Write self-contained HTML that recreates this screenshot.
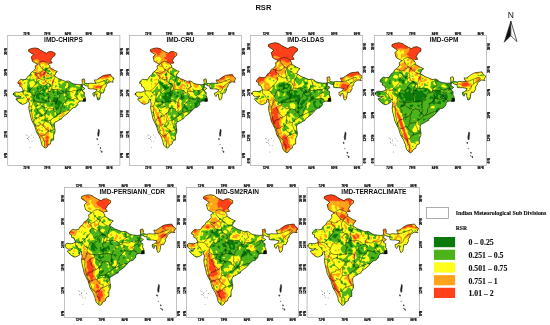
<!DOCTYPE html>
<html><head><meta charset="utf-8"><title>RSR</title>
<style>
html,body{margin:0;padding:0;background:#fff}
body{width:550px;height:325px;overflow:hidden}
svg{display:block}
.t{font-family:"Liberation Sans",Arial,sans-serif;font-weight:bold;fill:#111}
.k{font-family:"Liberation Sans",Arial,sans-serif;font-weight:bold;fill:#000;stroke:#000;stroke-width:0.18px;font-size:3.0px;text-anchor:middle}
.s{font-family:"Liberation Serif","Times New Roman",serif;font-weight:bold;fill:#111;stroke:#111;stroke-width:0.12px}
</style></head><body>
<svg width="550" height="325" viewBox="0 0 550 325">
<rect width="550" height="325" fill="#fff"/>
<text class="t" x="263.4" y="10.4" font-size="7.6" text-anchor="middle">RSR</text>
<g>
<clipPath id="f0"><rect x="7.7" y="35.4" width="112.2" height="130.0"/></clipPath>
<clipPath id="c0"><path d="M13.1,94.2 14.6,92.3 16.0,92.0 19.5,92.3 21.6,91.6 23.3,90.8 22.6,88.9 21.7,87.1 19.8,86.4 19.8,84.2 17.8,83.3 18.1,81.6 20.7,79.2 22.9,79.7 26.1,79.3 27.8,76.4 29.9,75.0 31.2,72.4 33.3,71.2 35.6,68.5 35.2,66.0 37.8,64.3 35.7,63.3 33.7,62.2 32.3,61.2 31.8,58.8 31.2,57.0 33.7,54.6 30.9,52.9 28.5,51.2 28.8,49.4 31.9,48.4 35.0,47.9 38.2,48.6 40.2,50.1 43.4,51.8 46.5,53.2 48.5,51.8 51.7,51.5 55.1,53.2 55.1,55.3 52.7,57.0 50.6,60.5 52.2,62.9 49.6,63.3 48.5,64.3 49.9,65.7 49.8,67.4 51.7,68.5 54.4,70.2 57.5,71.6 55.8,72.9 54.4,76.1 56.2,77.1 58.6,78.7 61.0,79.5 63.4,80.6 65.5,81.4 68.3,80.9 70.2,81.9 72.1,83.3 74.1,84.0 77.3,84.5 79.3,84.7 82.1,84.5 82.3,82.6 81.9,79.5 84.2,78.8 84.9,80.9 84.5,82.3 85.2,83.2 88.0,83.7 90.1,83.2 92.8,83.3 95.9,83.2 94.7,81.3 94.2,79.9 96.6,79.9 98.7,78.5 101.1,76.8 103.6,75.4 106.0,75.0 108.4,74.7 110.5,74.3 111.5,76.4 114.1,78.3 113.2,79.9 112.6,81.3 113.4,82.3 110.1,81.8 107.7,83.3 106.3,84.7 106.3,86.1 104.6,88.2 104.9,89.6 103.2,93.0 100.8,93.0 100.3,95.4 99.8,98.9 98.7,99.9 97.7,99.9 96.8,96.8 96.6,94.1 95.4,94.1 94.2,96.6 93.0,95.1 92.8,93.0 94.2,92.7 95.9,91.6 97.2,89.6 93.2,88.9 90.1,88.9 88.2,88.5 88.0,86.1 85.9,85.8 84.2,84.7 83.1,84.0 82.3,86.8 84.9,88.5 83.1,89.9 82.1,90.9 84.4,92.3 84.2,95.4 85.0,96.8 85.4,99.6 85.6,101.1 83.8,101.3 82.1,101.1 81.1,101.0 79.0,101.5 77.8,103.4 78.0,104.4 76.6,106.2 75.5,107.2 73.1,107.9 71.7,108.9 70.7,110.0 68.3,112.7 66.2,114.5 62.4,117.2 62.0,118.6 60.0,119.5 58.2,120.7 56.8,121.4 55.1,122.1 54.3,124.2 54.6,127.6 55.1,130.0 54.9,132.5 53.6,135.2 53.6,140.1 51.7,140.4 50.6,142.5 50.4,143.9 47.9,145.3 47.2,147.0 45.6,148.1 44.0,147.3 42.1,145.3 41.3,142.8 40.9,140.8 39.9,138.3 38.9,135.9 37.5,133.8 36.3,131.4 35.4,128.3 34.5,125.5 33.3,123.5 32.3,121.4 31.2,119.0 30.6,115.9 29.7,112.4 29.2,110.3 28.8,107.5 29.0,105.5 29.5,103.4 28.5,101.3 29.2,99.2 27.1,99.9 27.1,102.4 24.7,103.7 22.6,104.4 20.2,103.4 17.4,101.0 15.8,98.9 17.1,98.6 19.5,97.9 20.9,96.5 18.8,97.0 16.7,97.2 14.6,95.8Z"/></clipPath>
<g clip-path="url(#f0)">
<g clip-path="url(#c0)">
<path d="M13.1,94.2 14.6,92.3 16.0,92.0 19.5,92.3 21.6,91.6 23.3,90.8 22.6,88.9 21.7,87.1 19.8,86.4 19.8,84.2 17.8,83.3 18.1,81.6 20.7,79.2 22.9,79.7 26.1,79.3 27.8,76.4 29.9,75.0 31.2,72.4 33.3,71.2 35.6,68.5 35.2,66.0 37.8,64.3 35.7,63.3 33.7,62.2 32.3,61.2 31.8,58.8 31.2,57.0 33.7,54.6 30.9,52.9 28.5,51.2 28.8,49.4 31.9,48.4 35.0,47.9 38.2,48.6 40.2,50.1 43.4,51.8 46.5,53.2 48.5,51.8 51.7,51.5 55.1,53.2 55.1,55.3 52.7,57.0 50.6,60.5 52.2,62.9 49.6,63.3 48.5,64.3 49.9,65.7 49.8,67.4 51.7,68.5 54.4,70.2 57.5,71.6 55.8,72.9 54.4,76.1 56.2,77.1 58.6,78.7 61.0,79.5 63.4,80.6 65.5,81.4 68.3,80.9 70.2,81.9 72.1,83.3 74.1,84.0 77.3,84.5 79.3,84.7 82.1,84.5 82.3,82.6 81.9,79.5 84.2,78.8 84.9,80.9 84.5,82.3 85.2,83.2 88.0,83.7 90.1,83.2 92.8,83.3 95.9,83.2 94.7,81.3 94.2,79.9 96.6,79.9 98.7,78.5 101.1,76.8 103.6,75.4 106.0,75.0 108.4,74.7 110.5,74.3 111.5,76.4 114.1,78.3 113.2,79.9 112.6,81.3 113.4,82.3 110.1,81.8 107.7,83.3 106.3,84.7 106.3,86.1 104.6,88.2 104.9,89.6 103.2,93.0 100.8,93.0 100.3,95.4 99.8,98.9 98.7,99.9 97.7,99.9 96.8,96.8 96.6,94.1 95.4,94.1 94.2,96.6 93.0,95.1 92.8,93.0 94.2,92.7 95.9,91.6 97.2,89.6 93.2,88.9 90.1,88.9 88.2,88.5 88.0,86.1 85.9,85.8 84.2,84.7 83.1,84.0 82.3,86.8 84.9,88.5 83.1,89.9 82.1,90.9 84.4,92.3 84.2,95.4 85.0,96.8 85.4,99.6 85.6,101.1 83.8,101.3 82.1,101.1 81.1,101.0 79.0,101.5 77.8,103.4 78.0,104.4 76.6,106.2 75.5,107.2 73.1,107.9 71.7,108.9 70.7,110.0 68.3,112.7 66.2,114.5 62.4,117.2 62.0,118.6 60.0,119.5 58.2,120.7 56.8,121.4 55.1,122.1 54.3,124.2 54.6,127.6 55.1,130.0 54.9,132.5 53.6,135.2 53.6,140.1 51.7,140.4 50.6,142.5 50.4,143.9 47.9,145.3 47.2,147.0 45.6,148.1 44.0,147.3 42.1,145.3 41.3,142.8 40.9,140.8 39.9,138.3 38.9,135.9 37.5,133.8 36.3,131.4 35.4,128.3 34.5,125.5 33.3,123.5 32.3,121.4 31.2,119.0 30.6,115.9 29.7,112.4 29.2,110.3 28.8,107.5 29.0,105.5 29.5,103.4 28.5,101.3 29.2,99.2 27.1,99.9 27.1,102.4 24.7,103.7 22.6,104.4 20.2,103.4 17.4,101.0 15.8,98.9 17.1,98.6 19.5,97.9 20.9,96.5 18.8,97.0 16.7,97.2 14.6,95.8Z" fill="#0b7a0b"/>
<path fill="#4db31a" fill-rule="evenodd" d="M35.4,45.8l-0.7,0 -0.7,0.7 -2.8,0 -0.6,0.7 -1.4,0 -2.3,2.2 0,2.1 2.3,2.2 0.7,0 1.2,1.3 -2.1,2 0.7,0.7 0,1.4 0.7,0.7 0,1.4 2.9,2.9 0.7,0 0.6,0.5 -1.4,1.4 0.8,2.1 -0.7,0.7 0,0.7 -0.7,0.6 -0.7,0 -1.3,1.4 -1.5,1.4 0,0.7 -0.6,0.7 -0.7,0 -2.2,2.1 0,0.7 -0.6,0.6 -4.8,0 -4.3,4.2 0,1.4 2.1,2.1 0,0.7 2.7,2.8 0.1,0.7 -0.6,0.5 -4.9,0.1 -4.2,4.2 3.5,3.5 0.7,-1.2 0.7,0.3 -0.3,1.6 -0.4,0.6 -0.5,0 0.1,0.7 5.3,5.6 1.4,0.1 0.6,0.6 0.7,0 0.7,-0.6 1.4,0 0.7,-0.7 0.7,0 0.6,0.6 0,4.8 0.7,0.7 0,2.1 0.6,0.7 0.1,2.1 0.7,0.6 0,2.1 1.4,2.1 0,1.4 0.7,0.7 0,0.7 1.4,1.3 0,0.7 0.7,0.7 0,2.1 0.6,0.7 0.1,1.4 0.7,0.7 -0.1,1.4 0.7,0.7 0,0.6 1.4,1.4 0.6,2.1 1.5,2.1 0,1.4 0.7,0.7 -0.1,2 0.8,0.7 0,0.7 4.9,4.9 0.7,0.1 6.3,-6.4 0,-0.7 0.6,-0.6 0.7,-0.1 0,-0.3 -0.7,0.2 -0.7,-0.5 -0.7,-1.6 1.4,0.1 0.7,-0.9 0.7,-0.1 0.1,1.1 -0.6,1.4 0.5,0 1.4,-1.4 0,-5.6 1.4,-2 0,-3.5 -0.7,-0.7 0,-4.8 3.4,-2.1 2.1,-0.7 0.7,-0.7 0.7,-1.8 0.7,-0.1 0.7,-0.8 0.7,0 7.6,-7.7 1.3,0 0.7,-0.6 0.7,0 4.3,-4.2 -0.1,-1.4 0.7,-0.7 4.8,0 2.1,-2.1 0,-1.7 -0.7,0.5 -0.4,-0.8 0.4,-2.1 -0.7,-0.7 0,-3.5 -1.3,-1.4 0,-0.7 1.3,-1.3 0.7,-0.7 2.1,2.1 0.7,0 0.7,0.7 1.3,0 0.6,0.6 -1.3,1.4 0.7,0.7 0,1.4 0.7,0.7 -0.1,0.7 2.2,2.1 0.7,-0.7 0.6,0.7 0,1.3 2.2,2.2 0.7,0 3.5,-3.5 0,-2.8 3.4,-3.5 0,-0.7 1.5,-2 0,-0.7 -0.7,-0.7 4,-4.8 0.7,0 0.7,0.7 1.4,0 2.1,-2.1 -0.6,-0.7 0,-0.7 1.4,-1.4 0,-0.7 -5.7,-5.7 -4.1,0 -0.7,0.7 -2.1,0 -0.7,0.7 -0.7,0 -1.4,1.4 -0.6,0 -1.4,1.4 -0.7,0 -1.4,1.3 -1.4,0.1 -2.8,2.8 -2.7,0 -0.7,0.7 -1.4,0 -0.7,-0.6 -0.6,-2.1 -2.2,-2.2 -0.7,0.1 -2.8,2.8 0,2 -0.6,0.7 -5.6,0 -0.6,-0.7 -2.1,0.1 -0.7,-0.5 -0.7,-1.6 -0.7,-0.1 -0.7,-0.7 -2.1,0 -0.7,0.7 -0.6,0 -0.7,-0.8 -2.1,-0.6 -0.7,-0.7 -1.4,0 -0.7,-0.7 -0.7,0.1 -2,-1.4 0,-1.4 0.7,-0.7 0,-0.7 1.4,-1.3 -2.2,-2.2 -2,-0.7 -0.7,-0.7 -0.7,0 -2,-2 0,-1.4 2.2,-2 0,-0.7 -1.4,-1.4 1.4,-1.4 0,-0.7 3.4,-3.4 0,-1.4 -2.9,-3 -0.7,0 -0.7,-0.7 -4.2,0 -0.6,0.7 -2.1,0.7 -3.5,-2.1 -2.1,-0.6 -2,-2.1 -2.1,0zM53.6,125.5l-0.9,0 0.7,-0.6zM55.8,124.8l-0.3,0.5 -0.7,-0.5 0.7,-0.2zM41.6,115.2l-0.7,0.4 -0.4,-0.4 0.4,-0.4zM37.3,112.4l0.4,0.7 -0.4,0.7 -1.2,0.6 0.3,-2 0.4,-0.4zM36.2,110.3l-0.1,0.8 -0.6,-0.1zM54.4,97.2l3.1,0.3 0.7,2.3 0.7,0.6 1.4,0.4 1.8,1.9 -0.4,1 -1.8,1.1 -0.3,1.4 1.2,0.7 0.1,0.6 -2,-0.6 0,2 -0.7,0.4 -1.4,0.2 -0.6,-0.6 0.1,-1.4 1.5,-1.3 -0.6,-1.4 -2.7,-1.4 0,-2.1 -0.4,-0.4 -1.4,0.4 -0.3,-0.7 1.7,-3.9zM65.2,106.9l0,0.6 -0.5,0.7 -1,0 -0.4,-0.7 0.5,-1.3zM53.2,103.4l-1.2,2 -1.1,0.1 -0.1,-1.4 1.9,-1.2zM43.3,97.9l1.1,2 2.1,-0.5 0.6,0.5 0.1,1.7 -0.7,0.4 -1.4,-0.3 -3.9,-1.8 0.6,-2 0.5,-0.5zM34.4,99.2l-0.4,1 -0.7,-1 0.7,-0.4zM46.7,86.1l1.2,2.1 -0.7,0.8 -1.4,-0.1 -1.2,3.4 -1,1.4 0.3,0.7 1.5,1.4 -0.8,0.7 -0.6,0 -1.7,-1.5 -2.1,-0.5 -1.1,1.3 -0.1,0.7 1.5,2.7 -1,0.3 -3,-0.9 -0.5,-0.7 0.1,-2.2 -1.4,-0.6 -0.7,0.4 0,-0.6 1.4,0 1.4,-0.6 0.7,-1.5 4.1,0.4 1.4,-0.2 0.6,-0.7 -0.1,-0.7 -0.5,-1.2 -0.9,-0.8 0.9,0.2 2.7,-0.9 0,-2.8 0.8,-0.3zM50.7,97.2l-0.1,0.5 -1.4,0.4 -0.7,0.7 -0.8,-0.2 0.8,-1.8 0.7,-0.2zM33.4,96.5l-0.3,0.7 -0.5,0.2 -0.3,-0.2 0.3,-0.8zM47.9,93.7l0,1.4 -1.6,0.7 0,-2.1 0.9,-0.5zM55.5,95.1l0,0.8 -1.4,-0.1 0.4,-0.7zM58.4,90.9l0.5,1 1.5,0.4 0.7,1.4 -1.5,0.1 -0.7,0.7 -1.4,0.4 -0.7,-0.5 0.2,-3.5 0.5,-0.6zM52.9,89.6l2,2.7 -0.8,1.2 -0.7,0.2 -1,-1.4 0.6,-1.4 -0.6,-0.7 0.2,-0.6zM66.9,91.6l-0.4,0.8 -0.7,0 0.7,-1.1zM78.5,90.2l-1.6,2.5 -0.4,-0.4 0.5,-1.4 0.6,-0.8zM64.5,90.9l-0.7,1 -1,-0.3 -0.9,-0.7 1.9,-0.6zM28.5,86.8l2.3,2.1 0.2,1.3 -0.3,0.7 -0.8,0.5 -0.7,0 -1.5,-2.5 0.1,-1zM41.0,86.1l0.7,0.7 -0.1,1.2 -1.4,0.9 -0.7,-0.6 -0.6,-0.1 -0.6,2 -0.8,0.3 -0.6,-2.3 0.6,-1.4 1.4,1.3 0.6,-0.1 0.7,-1.7zM81.3,87.5l-0.2,0.7 -0.4,0 0.4,-1.3zM48.9,78.5l-1,0.4 -0.7,-0.4 0.7,-0.5 0.6,0zM51.4,77.1l0.3,0.7 -0.4,0.3 -0.8,-0.3 0.5,-0.7zM46.7,68.1l0,0.7 -1,1.4 -0.7,-0.7 1.2,-1.4z"/>
<path fill="#ffff19" fill-rule="evenodd" d="M24.3,77.8l-4.1,0 -4.2,4.1 0,1.4 2,2.1 0,0.7 2.8,2.8 0,0.7 -0.6,0.6 -4.9,0 -4.2,4.2 2.2,2.1 0.6,0 0.8,-1.4 -0.4,-1.4 1,-0.8 0.5,0.1 -0.1,1.4 0.4,0.7 0.6,0.3 2.1,-0.3 0.7,0.3 1.8,1.8 0.3,1.1 1.5,-1.1 1.2,-0.4 0.3,1.1 -0.3,0.7 -4.1,0.5 -1.4,-0.4 -0.7,0.3 -1.2,1.6 1.2,0.2 0.7,0.8 2.8,0.8 0.6,1 -0.6,0.7 -1.4,0.4 -0.4,-1.1 -1,-1 -0.7,0.4 0,0.6 2.1,2.1 1.4,0 0.6,0.7 4.2,-1.4 0.6,0.7 0.1,4.8 2.1,-0.1 2,-1.3 1,0 0,2.1 -1,0.9 -0.9,-0.2 -1.1,-1.2 -1.4,0.2 -0.1,2.4 0.7,0.7 0.1,2.1 0.7,0.6 -0.1,2.1 0.7,0.7 0.1,0.7 0.7,0 1.3,1.3 1.4,-0.5 0.5,1.3 -0.8,0.7 -0.1,0.7 0.4,0.7 1.4,0.2 1.3,-0.9 0.5,0 0.3,0.4 0.7,-0.4 -1.8,1.3 0.1,1.4 -0.4,0.9 -0.7,0.2 -0.6,-1.1 -0.8,-0.3 0,2.4 1.4,1.4 0,2.8 0.7,0.7 0,0.6 1.3,1.4 0,0.7 0.7,0.7 0,0.7 0.7,0.7 0,0.7 0.8,1.1 0.7,0.3 -0.1,3.4 0.7,0.9 0.7,-0.6 0.7,0 0.3,1.1 -1,0.7 0.7,0.7 2,0.7 0.8,2.1 0.7,0.7 0.7,0 6.2,-6.3 0,-0.8 -0.7,-0.8 -1.4,-0.4 0.7,-3 3.5,-0.5 1.4,1.1 0,-4.6 0.7,-0.7 0,-0.7 -0.7,0 -0.2,2.1 -0.5,0.3 -1.2,-0.3 -0.5,-2 -0.4,-0.5 -2.1,0.1 -0.2,-0.3 -0.8,-2.1 0.3,-1.5 0.7,-0.2 1.4,1.3 1.1,-0.3 0.8,0.7 -0.5,0.4 -1.4,-0.2 -0.5,0.5 0.5,0.5 2.1,-0.4 0.7,-0.7 0.7,0.2 1.3,1.6 0.1,-3.3 -1.4,0.2 -0.7,-1.6 -1.4,-0.2 -1.4,-0.8 -2.8,-3.4 -2.7,-1 -1.4,-1.3 -1.4,0.6 -2.1,-0.2 -0.7,-0.4 -0.1,-0.9 1.5,-0.8 1.4,0.3 0.7,-0.3 1.4,-1.8 1.4,0.3 0.7,-0.4 0.5,0.6 -0.6,1.4 0.1,0.9 2,2.5 2.2,-0.6 -0.7,1.4 0.2,0.7 0.4,0.1 2.1,-1.9 2.1,1 0.8,-0.6 1.9,-2.1 0.2,-0.7 -0.5,-1.4 0.3,-0.3 2.1,0.2 2.8,-2.4 1.4,0.4 0.6,-0.2 1.4,-1.1 0,-0.5 -0.7,-0.3 0,-0.9 1.4,-1 1.4,0.6 2.1,-2.1 0.2,-2.8 3.5,-1.3 0.4,-1.4 3.3,-2.1 2.1,-2.8 1.6,0.2 2.2,-1.6 0.3,-0.6 -0.5,-2.3 -0.7,0.2 -0.7,1.4 -0.6,0.6 -0.7,-0.5 -0.2,-0.8 -1.4,-2.1 0.4,-1.4 -0.2,-0.9 0.9,0.9 1.8,0.7 0.4,-0.7 -0.6,-2.1 1.1,-1.4 -0.6,-0.6 0.9,-2.1 -1.2,-0.5 -0.5,0.5 -0.2,1.4 0.6,0.7 -0.5,1.1 -2.1,0.3 -2.3,1.3 0.5,2.1 -1.3,1.4 -0.1,0.7 0.9,2.1 -0.5,0.1 -1.4,-1.2 -0.2,-1.7 -1.2,-1.4 1.9,-5.5 -0.5,-1.1 -0.7,-0.3 -1.4,0.3 -1.3,-0.5 -1.4,0.1 -1,0.8 -0.6,1.4 -0.8,0.6 1.6,3.5 -0.3,2.1 1.5,1.4 -0.9,2 2.6,0.3 1.2,1.1 0.1,0.7 -0.7,0.6 -2,-0.8 -2.8,0.5 -0.9,-0.3 -0.5,-0.8 -0.2,0.8 -1.5,1.4 0.3,1.4 -0.7,0.2 -1.1,-1.6 0.1,-0.7 -1,-0.4 -0.5,0.4 1.1,0.7 -1,1.4 0.5,0.7 1.3,0.7 2.1,-0.7 0.3,0.7 -0.6,0.7 0.2,0.7 0.8,0 0.1,-1.4 1,-1.4 1.6,-0.9 0.7,-0.1 3,1 0.1,0.7 -1.7,1.4 -1.4,-1.2 -1.3,0.5 0.4,2 -0.8,0.7 -0.4,1.8 -0.7,0.4 -2.1,-0.4 -2.7,1.9 -2.1,0.1 -0.4,0.4 -0.2,1.4 -2.2,1 -2.1,2.4 -2.7,0.7 -0.7,-0.3 -0.5,-1.1 -1,-0.6 -0.6,-2 -0.7,-0.6 -0.7,0.5 0,1.4 -0.7,0.7 -1.3,-0.4 -1.4,-1.4 -0.7,-0.1 -0.5,0.5 -0.2,2 -1.4,-0.6 -3.5,1.1 -0.9,-0.5 0,-2 -0.4,-0.5 -0.7,-0.1 -2.5,2 -0.1,0.6 1.7,1.4 0,0.7 -0.5,1 -0.7,0.1 -2.6,-2.5 1.2,-0.7 -0.8,-1.3 1.5,-2.1 -0.3,-0.7 -1.3,-0.7 -0.2,-0.7 0.8,-2.1 1,-0.6 2.1,0.3 2,-1.2 2.9,-2.6 0,-1.4 -2.9,0.1 -1.3,-0.9 -1.1,0.1 -0.2,0.7 1.2,1.4 0.2,0.7 -1.5,1.8 -0.7,0.1 -1.7,-1.2 -0.7,-1.4 -0.1,-2.1 -1,-1.4 -1.4,0.6 -0.6,-0.2 -0.3,-1.1 1.5,-1.4 0,-0.6 -1.6,-1.4 0.1,-0.7 0.9,-0.6 0.4,-0.8 -0.2,-1.4 -0.8,-0.9 -1.4,0.3 -2.1,-0.6 -0.3,-0.9 0.5,-1.4 -0.5,-2 0.1,-2.1 0.7,-1.4 -0.4,-1.4 0.5,-2.7 -0.6,-0.8 -1.4,-0.3 -1.3,0.4 -1.5,1.7 -0.7,-0.3 0,-1.1 0.7,-0.4 1.4,0.1 0.5,-1.4 -0.2,-0.7zM43.1,142.1l-0.1,0.5 -0.7,0.2 -0.8,-0.7 0.8,-0.6zM42.9,130.4l0.1,0.7 -0.3,0.7 -1.3,0 -0.2,-0.7 0.4,-1.1 0.7,-0.2zM42.7,127.6l-0.4,0.5 -0.9,-0.5 0.9,-0.5zM40.0,122.1l1.1,1.4 -0.9,0.8 -1.3,-1.4 -0.7,-0.2 -0.4,-0.6 0.4,-0.3zM50.6,120.0l-0.7,0.7 -0.4,-0.7 0.4,-0.6zM42.3,108.6l-2.4,1 -0.8,0.7 0,0.7 1.1,0.7 0.7,1.4 1.4,0.7 1.4,2 0.5,-0.6 0,-1.4 0.6,-1.4 -1.3,-1.4 -0.5,-1.6zM55.5,110.0l-0.7,-0.2 -0.6,0.5 0.7,1.4 -0.5,2.1 0.4,1.9 0.7,-0.1 0.7,-1.8 0.1,-2.1zM45.8,103.8l-1.8,1 0.7,0.7 0.2,2.7 0.8,1.4 0.8,0.4 1.4,-0.1 2,1 0.7,-0.8 2.1,-0.3 0.5,-2.3 -0.3,-0.6 -0.9,-0.3 -2.1,0.7 -2.7,-0.8 -0.7,-1 -0.2,-1.4zM79.7,104.0l-1.4,0.9 -0.3,1.3 1.7,-1.4zM28.7,102.0l-0.9,0.2 0,-0.9zM50.6,99.8l-1.3,1.5 0.6,0.9 0.7,0 0.6,-0.9zM110.1,72.9l-4.1,-0.1 -0.7,0.7 -2.1,0.1 -0.7,0.6 -0.7,0 -1.4,1.4 -0.6,0 -1.4,1.4 -0.7,0 -1.4,1.4 -1.4,0 -2.7,2.9 -0.1,1.6 -0.8,-0.3 0.7,-1.3 -2.3,0 -1.9,2.7 -1.2,0.6 -1.4,-0.3 -0.3,0.4 0,2.1 2.6,0.7 0.1,1.4 1.1,1.4 0.8,-0.1 -0.1,-0.6 1.6,0 0.1,0.6 -1,0.7 1.3,0.1 0.7,0.6 -1.4,1.4 0.7,0.7 0,1.4 0.7,0.7 0,0.7 2.1,2.1 0.7,-0.7 0.7,0.7 0,1.3 2.1,2.1 0.7,0 0.7,-0.7 0,-0.5 -1.9,-0.9 0.1,-1.3 -0.3,-1.4 2.1,0 1.3,1.4 -0.7,0.6 -0.2,1.4 2.4,-2 -0.1,-2.6 -1.1,-0.9 1.2,-1.4 -2.8,-0.7 -0.4,-0.7 0.8,-1.4 0.9,-0.3 1.4,1.8 1.4,0.3 0.8,-1.1 -0.8,-1.2 -1.3,-0.8 0.6,-0.4 0.7,0.2 2.2,1.5 0.6,0.1 0,-0.8 0.7,-0.6 0,-0.7 -0.7,-0.7 1.4,-1.4 -1,-0.7 0.3,-0.3 1.4,0.3 0,-0.7 2,-2 0.7,0 0.7,0.6 1.4,0 0,-0.7 2.1,-1.4 -0.7,-0.6 0,-0.7 1.4,-1.4 0,-0.7zM65.8,97.8l-0.6,0.1 -0.4,0.7 0.4,0.5 1.2,-0.5 -0.1,-0.7zM46.5,96.9l-1.9,1 0.5,0.5 1.4,-0.1 0.5,-1.1zM58.9,95.7l-1.1,0.1 0,0.7 0.8,0zM26.7,93.7l1.5,0.7 0.6,0.7 -0.1,0.7 -1.6,0.5 -1.4,-0.6 -0.6,-1.3 0.6,-0.8zM64.5,93.0l-0.7,0.1 -0.2,0.6 0.2,2.1 0.7,0.4 0.7,-0.3 0.1,-0.8zM94.9,89.6l1.2,0.6 -0.5,0.2 -0.1,0.5 0.3,1.4 -0.6,2.1 -1,0.8 -0.5,-0.8 0.1,-3.5 0.4,-1.1zM24.6,88.2l-0.3,3.4 -0.7,0.4 -0.7,1.1 -1,-0.1 -0.2,-0.7 0.5,-1.2 1.4,0 0.6,-2.9zM34.0,91.3l-0.7,-0.3 -0.6,0.6 0.3,0.7 1.4,0zM41.6,91.1l-1.1,0.5 1.1,0.7 0.6,-0.7zM35.4,45.8l-0.7,0 -0.7,0.7 -2.8,0 -0.6,0.7 -1.4,0 -2.2,2.2 0,2.1 2.2,2.2 0.7,0 1.2,1.3 -2.1,2 0.7,0.7 0,1.4 0.7,0.7 0,1.4 2.9,2.9 0.7,-0.1 0.7,0.6 -1.4,1.4 0,0.7 0.7,0.7 0,0.8 1,-0.1 0.6,0.7 -3.7,1.4 -2.8,2.7 0,1.4 1.5,-0.6 1.5,0.6 -0.2,1.1 -1.3,1.4 -0.7,0 -0.7,-0.8 -1.4,0 -0.3,-0.3 0.1,-0.7 -0.5,0 -1.4,1.4 -0.4,1.4 0.4,0.5 2.8,0.8 0.7,-0.1 0.7,-1.5 0.7,-0.2 -0.1,1.9 1.4,0.4 2.1,-1 0.6,0.6 0,1.4 1.5,0.9 1,-0.2 1.8,-1.6 1,0.2 -1.1,2 1.4,2.1 0.7,0 1.4,0.9 2.8,0 1.4,-0.8 1.4,1.7 0.6,0.2 0.5,-0.6 -0.1,-1.4 0.3,-0.5 1.4,0.2 1.1,3.1 -3.2,0.4 0.1,1.7 -2.5,1.3 -0.2,1.4 0.6,0.8 2,0.4 0.6,-1.9 1.5,-0.1 0.7,-0.6 0.1,-0.6 1.3,-0.9 2.8,2.4 0.7,-0.1 0.6,-2.1 0.7,0 1.4,1.3 0.7,0.2 1.4,-0.5 0.6,-1 -0.3,-0.7 -1.7,0.3 -1.4,-2.2 -1.4,0.1 -1.3,1.3 -0.8,-0.2 0.8,-2.4 3.4,1.4 0.2,-1.1 -1,-1.4 0.1,-0.8 1.4,-0.2 2.1,1.9 0.5,-1.6 3.6,-2.1 2.8,1.2 0.9,-1.1 -0.1,-1.4 -0.8,-0.6 -0.7,0.5 -0.6,-0.6 -0.8,-0.1 -0.7,0.7 -0.6,0 -0.7,-0.7 -2.1,-0.6 -0.7,-0.7 -1.4,-0.1 -0.7,-0.6 0.2,1.4 1.9,0.3 0.2,1.1 -0.9,1.7 -2.8,0.8 -0.6,-0.5 1,-2 -0.9,-2.1 0.5,-1.4 -0.7,0 -0.6,-0.7 0.2,-2.1 -2,-0.7 0.4,-1 0.7,-0.6 0.6,0.4 0.7,1.2 1.5,-1.3 -2.2,-2.2 -2,-0.6 -0.7,-0.7 -0.7,0 -2,-2.1 0,-1.4 2.1,-2 0,-0.7 -1.4,-1.4 1.4,-1.4 0,-0.7 3.5,-3.4 0,-1.4 -2.9,-2.9 -0.7,0 -0.7,-0.7 -4.2,0 -0.6,0.7 -2.1,0.7 -3.5,-2.1 -2.1,-0.7 -2,-2.1 -2.1,0zM67.9,83.0l-1.4,0 -0.2,0.3 0,2.1 -1.4,1.4 0.3,1.7 0.6,0.3 1.4,-0.6 1.1,-1.4 0.1,-1.4 0.7,-1.4zM33.3,80.7l-2.7,0.5 -0.9,0.7 -0.6,1.4 0.9,1.4 -0.1,1.7 0.7,0.8 2.7,0.6 1.4,-0.7 1.4,0.4 0.5,-1.4 -1.2,-0.8 -0.3,-0.6 0.3,-1.4 -0.9,-0.7zM44.4,87.2l-0.5,0.3 0.5,0.5 0.4,-0.5zM78.3,83.3l-2.1,0.7 -0.4,1.4 0.2,0.7 3.7,0.9 0.3,-0.9 -1,-2.3zM37.5,83.7l-0.7,0.4 -0.7,1.3 0.7,0.6 1.4,-0.6 0,-1.3zM83.8,77.1l-1.3,0.7 -1.8,2.1 1.4,2.7 -0.8,1.4 0.1,0.7 1.1,0.7 1.3,-1.8 2.5,-1 0.1,-0.7 -1.2,-3.4zM95.8,84.0l-0.2,0.3 -0.8,-0.3 0.8,-0.4zM25.4,82.6l0.1,0.7 -0.5,0.5 -0.7,0.1 -0.9,-0.6 1,-0.7zM106.9,79.9l0.5,0.7 -0.4,2.7 -1,0.6 -0.7,-0.1 -2.2,-3.2 1,-0.7 0.5,1.3 0.7,0 0.9,-1.3zM56.1,82.6l-0.6,0.5 -0.4,-0.5 0.4,-0.6zM41.9,81.3l0.1,0.6 -0.4,0.3 -0.5,-0.3 0.3,-0.6zM48.9,81.3l0.5,0.6 -0.9,0.6 -0.5,-0.6 0.2,-0.6zM51.4,76.4l0.6,0.3 0.5,1.1 -0.5,1.3 -2.1,-0.6 -1.4,1.1 -2.8,-0.4 -0.2,-0.7 0.7,-0.7 1.7,-0.4 1.3,0.1 1.4,-1.1zM44.9,76.4l0,1.4 -0.5,0.5 -1.4,0.5 -0.5,-0.3 -0.1,-0.7 1.3,-1.7 0.7,-0.2zM47.2,67.4l0.6,0.7 -0.2,1.4 2.3,0.6 0.8,0.8 -0.1,1 -2.4,0.4 1,1.3 -0.1,0.7 -1.2,0.3 -0.8,-0.3 -0.2,-0.7 0.9,-1.3 -0.4,-0.7 -0.9,-0.7 -1.4,-0.1 -1.4,-0.6 0,-0.7 1.4,-2zM52.7,72.9l-1.4,2.1 -1.4,-0.7 1.4,-1.9z"/>
<path fill="#ffa31a" fill-rule="evenodd" d="M48.5,126.5l-1.8,0.4 -0.5,1.4 -1.5,2.1 0.4,0.6 1.4,-0.4 0.7,0.5 0.2,1.4 -0.2,0.5 -2.8,1 -1.4,-1 -2.1,-0.3 -0.9,0.5 0.2,1.3 -1.3,-1.3 -0.7,0.8 -0.7,0.1 -1.4,-1.1 -0.5,0.8 1.2,1.4 -0.1,0.7 1.4,2.1 0.1,0.7 2.3,0 0.4,0.6 1.2,-1.3 -0.6,-1.4 0.8,-1.1 2.8,0.2 0.2,0.9 -0.5,0.7 -2.1,0.7 0.8,1.4 -0.4,0.7 0.2,0.7 1.6,2 -0.5,2.8 0.7,1.8 1.4,1 0.7,0 0.7,-0.7 0,-0.7 1.9,-1.4 1.4,-2.1 -0.6,-0.7 -1.4,0.9 -0.7,-0.9 1.4,-5.5 -1.3,-2.1 0.6,-6.9zM40.2,142.7l-0.7,0.1 0,0.7zM55.5,136.5l-0.6,0.1 -0.1,0.7 0.7,0.4zM38.2,128.2l-1.4,1.9 -1,0.3 4.4,0.5 0.6,-0.5 -0.1,-0.7 -1.8,-1.4zM43.0,124.1l-0.7,0.1 -1.1,1.3 3.2,2 1.8,-0.6zM38.9,124.7l-1.2,0.1 -0.4,0.7 0.2,0.7 0.7,0.4 0.7,-0.1 0.9,-1zM45.1,122.5l-0.7,-0.2 -0.6,0.5 0.2,0.7 1.1,-0.3zM56.2,120.7l-0.8,0.7 0.8,0.8 0.3,-0.8zM31.9,117.6l-0.1,1.7 0.8,0.2 0.3,-0.9zM39.5,117.8l-0.6,0.1 -0.2,0.7 0.2,0.8 0.6,0.2 1.2,-1zM43.7,117.2l-0.3,0.7 0.3,0.2 0.5,-0.2zM64.5,112.9l-2.1,0.1 -0.7,1.5 -2.8,1.7 -0.4,1 1.8,0.1 1.6,-0.8 1.2,-1.1 0.9,-0.2 0.6,-0.7zM31.9,115.6l-0.7,-0.2 -0.5,0.5 1.2,0.9zM28.5,112.2l-0.7,-0.1 0,1 0.6,0.7 0.1,1.4 2.1,0.3 0.3,-0.3 -0.8,-0.7 -0.2,-1.4zM34.0,112.6l-0.9,0.5 0.2,0.7 0.7,0.1 0.6,-0.8zM28.5,106.8l-1.4,1.8 0,0.6 1.7,-0.3 1.3,-0.7 -0.9,-1.1zM25.7,103.3l-0.7,0.2 -0.4,0.6 0,1.4 1.8,-0.7 0.7,1 0.7,0.2 0.7,-0.4 0.3,-0.8 -2.4,-0.4zM76.9,102.5l-0.7,0 -0.7,1 0.7,0.5 0.7,-0.4zM29.2,97.3l-0.7,0 -0.6,0.6 -1.1,1.3 0.3,0.5 2.1,0.6 0.7,-0.4 0.6,-0.7 0,-0.6zM22.2,94.4l-0.6,-0.4 -1.2,0.4 0.3,0.7 1.5,0.5 0.5,-0.5zM97.0,92.8l-0.7,0.9 0,1.1 1.4,0 0.4,-0.4 -0.2,-0.7zM92.1,91.4l-0.3,0.9 0.3,0.7 0.4,-0.7zM73.5,91.5l-2.2,0.8 1.5,0.6 0.7,-0.1 0.6,-0.5zM20.2,90.2l-2,0 1,1.4 1,0.3 0.6,-0.3 0.3,-0.7 -0.3,-0.7zM47.9,90.6l-0.7,-0.1 -0.4,0.4 0.3,0.7 0.8,0zM20.9,78.7l-1.2,0.5 0.7,2.1 -1.6,0.2 -1.4,1.1 -0.3,0.7 1,2.8 2.7,2.8 0.1,1.1 1.7,-1.8 -0.6,-1.4 1,-2.1 -2,-3.4zM55.5,88.6l-1.2,0.3 0.5,0.8 0.7,0.2 0.2,-0.3zM106.7,88.9l-1.4,-0.2 -0.1,0.9 0.8,0.6 0.7,-0.6zM99.8,84.7l-0.7,-0.1 -2.8,1 -2.8,-0.5 -1,2.4 0.1,1.4 0.9,0.1 0.7,-0.4 2.1,0.3 2.1,-0.4 1.4,0.4 1.3,-0.4 1.1,-1 0.6,-1.4 -0.3,-0.7 -0.7,-0.5zM51.3,87.8l-1.1,0.4 0.4,0.6 1.2,-0.6zM90.8,87.7l-0.4,0.5 0.4,0.3 0.5,-0.3zM54.1,79.1l-0.7,0.2 -1.7,2 0.5,2 -0.6,1.4 0.4,0.8 0.7,0.3 0.6,-0.4 -0.3,-1.4 1.3,-1.4 0.2,-1.3zM47.2,79.8l-1.1,0.1 -1.2,1.4 -2.6,1.3 -0.3,0.7 0.2,0.7 0.8,0.4 2.2,-0.4 0.2,-0.7 -0.3,-1.4 2.1,-0.6 0.4,-0.7zM94.9,81.1l-0.7,-0.3 -0.7,1.9 2.8,-0.4 0.6,-0.4zM109.4,80.4l-0.8,0.2 -0.4,1.3 0.2,0.7 1.7,0.5 0.7,-0.2 0.4,-1 -1.1,-1.2zM83.1,79.1l-1,0.8 -0.1,0.7 1.1,1.7 0.7,0.1 0.7,-0.5 0.1,-1.3zM101.1,81.0l-0.8,0.3 0.1,0.7 0.7,-0.4zM50.6,79.1l-0.7,0.4 -0.6,1.1 0.6,0.7 0.7,0.1 0.9,-0.8 0,-0.7zM64.5,79.1l-1.1,0.1 -1,2.4 0.7,0 0.7,-1 2,-0.7 -0.6,0zM42.3,69.5l-1.4,1.6 -1.4,-0.3 -0.6,0.7 -1.4,-0.3 -1.4,0.5 -1.2,1.2 -0.9,2.1 1.8,2.1 -0.5,1.4 0.8,1.7 2.1,-1.3 3.3,-0.4 1.2,-2.1 1.7,-1.2 0.7,0 0.7,1.4 0.7,0.3 2.7,-0.1 0.5,-0.4 0.2,-0.7 -0.7,-0.5 -2,-0.2 -1,-0.7 0.8,-2 -0.4,-0.7 -3.6,-0.7zM110.1,72.9l-4.1,0 -0.7,0.7 -2.1,0 -0.7,0.7 -0.7,0 -1.4,1.4 -0.6,0 -1.4,1.4 -0.7,0 -1.4,1.3 -1.4,0.1 -0.7,1.1 1.4,-0.4 2.1,0.7 2.7,-0.9 1.4,0.8 0.7,-0.1 1.4,-1 3.5,0 2,-1.1 1.4,0 1.4,-1.2 0.7,0.7 -0.9,0.7 0.2,1.2 0.7,0.3 1.4,-0.2 0.3,0.8 0.4,0 0.7,-0.7 0,-0.7zM32.6,77.0l-0.9,0.1 0.2,1.5 0.8,-0.1 0.4,-0.7zM39.0,75.0l0,1.4 -0.8,0.1 -0.4,-1.5 0.4,-0.4zM54.8,74.2l-1.4,-0.2 -0.7,0.3 0,1.3 2.1,-0.2zM30.6,71.6l-0.7,0.8 0.7,0.2 0.4,-0.3zM39.8,72.3l-0.9,0 0,-0.4 0.6,-0.2zM52.0,67.6l-2.8,0.2 -0.7,1 2.1,1.1 2.2,2.4 1.3,0.2 1.4,-1.9 1.3,-0.1 0.3,-0.3 -0.5,-0.7 -1.1,0 -1,0.7 -1.1,0.2 -0.4,-1.6zM58.2,70.9l-0.9,0 0.8,1.4 0.8,-0.7zM35.4,45.9l-0.7,0 -0.7,0.7 -2.8,0 -0.6,0.7 -1.4,0 -2.2,2.1 0,2.1 2.2,2.1 0.7,0.1 1.3,1.3 -2.1,2 0.7,0.7 0,1.4 0.7,0.7 0,1.4 2.8,2.8 0.7,0 0.8,0.6 -1.5,1.7 2.8,1.1 0.7,0.7 -0.7,1.4 -2.8,1.4 0.7,0.5 0.7,-0.3 2.1,0.4 1,-1.3 0.5,-1.4 -0.9,-2.8 0.8,-0.6 2,0.4 0.3,-0.5 -0.6,-1.3 0.3,-0.4 1.4,0.4 1.4,-0.4 0.7,0.2 1.1,0.8 1,1.7 0.7,-0.1 1.3,-1.6 0.7,0 1.4,1.8 1.4,-0.1 0,-1.7 2.2,-2 0,-0.7 -1.4,-1.4 1.4,-1.4 0,-0.7 3.4,-3.4 0,-1.4 -2.8,-2.9 -0.7,0 -0.7,-0.7 -4.2,0 -0.6,0.7 -2.1,0.7 -3.5,-2.1 -2.1,-0.7 -2,-2 -2.1,0zM43.0,65.7l-0.9,0.3 -0.3,0.7 -0.2,2.1 -0.7,-0.3 -0.5,0.3 0.5,0.3 0.7,-0.3 0.7,0.7 1.4,-1.1 0.1,-1.7zM37.0,61.2l0.4,0.7 -0.6,0.3 -1.4,-0.3 -0.5,-0.7 1.2,-0.4z"/>
<path fill="#ff401a" fill-rule="evenodd" d="M47.9,139.5l-2.1,0.2 -0.5,1.1 1,2 -0.6,2.1 1.5,1 1.2,-0.3 0.4,-0.7 -1.2,-2.1 0.8,-2.7zM47.2,135.7l-0.7,-0.2 -1,2.5 1,1.1 1.4,0.2 0.6,-0.5 0.3,-1.5zM40.2,136.2l-0.5,0.4 0,0.7 0.5,0.3 0.7,-0.3zM29.2,98.3l-0.4,0.3 -0.1,0.6 0.5,0.2 0.2,-0.8zM99.8,86.0l-1.4,-0.1 -3.5,0.9 0.3,0.7 1.1,0.8 2.1,-0.7 2,0.2 0.5,-0.3 0,-0.7 -0.5,-0.7zM20.9,82.5l-0.7,-0.3 -1.4,0.1 -0.8,1 0.2,0.7 0.6,0.6 2.8,0.2zM43.7,82.6l-1,0.7 0.3,0.4 1.3,-0.4zM53.4,81.0l-0.7,0.2 -0.4,0.7 0.4,0.8 0.8,-0.1 0.3,-0.7zM106.7,72.9l-0.7,0 -1.4,1.2 -2.2,0.2 -1.3,1.2 -2.7,1.6 -0.7,0 -1,1.4 1.7,0.5 1.4,-1.1 1.3,0.2 1.4,-1 3.5,0.5 2.1,-0.6 2,-1.6 2.1,-0.2 -1.4,-1.5 -1.4,0.7 -0.7,-0.8zM45.8,71.9l-2.7,0.4 0.1,0.6 -0.9,1.3 -0.7,-0.2 -0.7,-1.2 -1.6,0.8 0.9,3.3 1.4,-0.3 3.5,-2.5 1.3,-1.8zM36.8,72.8l-0.9,0.1 -0.6,2.1 0.3,0.7 1.2,0.5zM52.0,68.5l-1.3,0.3 1.3,1.5 0.5,-0.8zM34.0,62.5l-0.7,-0.3 -0.7,0.6 0.7,1.2 0.6,0 0.3,-0.7zM36.8,63.7l-0.7,-0.1 0,0.6 0.7,0.2 0.3,-0.4zM35.4,45.9l-0.7,0 -0.7,0.7 -2.8,0 -0.6,0.7 -1.4,0 -2.1,2.1 -0.1,2.1 2.2,2.1 0.7,0 1.3,1.4 -2.1,2 0.7,0.7 0,1.4 0.7,0.7 0,1.4 0.7,0.7 0.7,0 2.1,-1.9 2.8,-1.1 2.3,0.9 0.2,0.7 -0.5,0.7 0.1,0.7 2,0.3 2.1,-0.8 2.1,0.3 0.7,0.8 1.4,-0.5 0.7,0.2 0.5,1.1 1.5,1.2 1.4,-0.1 2.1,-1.8 0,-0.7 -1.3,-1.4 1.3,-1.4 0,-0.7 3.5,-3.4 0,-1.4 -2.8,-2.8 -0.7,0 -0.7,-0.7 -4.2,0 -0.6,0.7 -2.1,0.7 -3.5,-2.1 -2.1,-0.7 -2,-2.1 -2.1,0z"/>
</g>
<path d="M38.0,64.3 39.9,62.2 43.0,61.2 46.1,62.2 48.5,63.6 M39.9,63.6 39.9,65.7 41.3,67.8 43.0,69.1 44.4,70.5 45.8,70.9 M45.8,70.9 46.5,69.1 48.2,68.1 49.9,67.6 M33.0,72.3 35.4,72.6 37.5,73.6 39.9,72.9 41.3,71.9 43.4,70.5 43.0,69.1 M35.4,72.6 35.0,74.3 37.8,76.1 38.5,78.1 40.6,79.2 43.0,80.2 44.7,79.5 M45.8,70.9 44.4,73.3 44.0,75.7 45.1,78.1 44.7,79.5 M45.8,70.9 46.8,72.6 48.5,73.6 50.3,75.0 52.3,76.1 54.4,76.1 M44.7,79.5 45.8,82.3 48.2,83.3 45.1,85.4 43.0,87.5 43.4,89.6 40.9,90.9 39.5,92.3 37.5,90.9 36.1,92.3 35.0,94.7 34.4,96.1 M34.4,96.1 31.9,94.7 30.6,92.3 28.5,91.1 26.4,90.9 23.3,90.8 M38.5,77.8 36.4,79.9 37.1,81.9 35.4,84.0 34.0,86.1 32.3,87.5 30.9,89.2 28.5,91.1 M48.2,83.3 51.0,85.4 49.2,87.8 48.2,91.3 50.3,91.6 51.3,89.2 55.1,89.6 58.6,89.2 61.7,90.6 63.8,93.0 65.7,92.7 M55.1,77.1 53.4,80.6 52.3,83.3 52.0,86.1 51.7,89.2 M67.6,81.3 68.6,84.4 69.3,86.8 66.5,88.5 65.7,91.3 65.7,92.7 M65.7,91.3 69.0,91.3 71.4,91.6 73.8,90.2 76.6,90.9 78.6,89.9 81.1,88.9 M82.1,84.5 81.4,86.1 81.8,87.5 81.1,88.9 M81.1,88.9 79.7,92.3 76.9,94.1 74.5,95.4 76.2,97.5 78.0,99.2 M78.0,99.2 79.0,100.3 80.0,101.3 M81.1,88.9 82.5,90.6 M78.0,99.2 74.8,98.6 72.8,99.6 71.4,99.2 69.3,98.6 67.9,98.2 M67.9,98.2 66.5,96.5 67.9,94.7 66.9,93.7 65.7,92.7 M67.9,98.2 65.8,101.3 63.1,103.7 62.4,106.9 61.0,108.2 61.0,111.0 58.9,114.1 M58.9,114.1 62.0,112.7 65.2,111.4 67.9,110.3 70.5,110.0 M63.8,93.0 61.0,93.7 59.6,95.1 60.0,96.8 57.5,98.6 56.8,101.0 56.3,102.4 M56.3,102.4 54.1,101.3 51.7,101.0 48.5,101.7 45.8,102.0 42.7,102.4 40.6,102.0 37.5,102.0 35.0,101.0 34.4,99.9 M34.4,99.9 33.7,98.2 34.4,96.1 M48.2,91.3 47.9,93.7 49.2,95.8 48.2,98.2 48.5,101.7 M56.3,102.4 55.8,104.8 56.2,106.2 55.5,107.9 56.8,109.3 55.3,111.7 M55.3,111.7 56.8,113.1 57.5,114.5 58.9,114.1 M55.3,111.7 53.7,110.7 53.7,108.9 51.3,108.6 49.9,107.9 48.2,108.9 46.5,110.3 46.8,112.0 45.4,112.7 M45.4,112.7 43.4,114.8 41.3,116.2 39.2,115.9 38.9,117.6 36.4,117.9 34.7,119.0 34.4,120.7 33.7,121.7 M33.7,121.7 34.4,123.5 33.7,124.5 M31.2,106.2 31.9,108.6 31.6,111.0 31.9,113.8 32.6,116.5 33.0,119.0 33.7,121.7 M29.0,106.3 31.2,106.2 33.0,104.4 32.6,102.7 34.4,101.7 33.0,101.0 34.4,99.9 M40.2,104.8 36.8,105.8 35.7,107.5 37.5,109.3 37.5,111.4 39.5,113.1 41.3,114.5 41.6,115.9 M40.2,104.8 42.0,106.2 44.4,107.2 44.7,108.2 46.8,107.5 48.2,108.9 M40.2,104.8 40.9,103.4 40.6,102.0 M57.5,114.5 55.8,116.5 54.1,117.6 52.0,118.6 51.3,120.0 48.9,120.7 47.2,121.0 45.1,121.0 M45.1,121.0 44.7,119.3 45.4,117.2 45.1,115.2 45.4,112.7 M50.6,120.4 50.3,123.1 51.3,124.8 52.0,126.9 52.7,128.3 54.1,129.3 M45.1,121.0 43.7,123.5 43.0,125.2 43.7,126.6 45.1,127.6 45.4,128.7 47.2,129.3 48.5,130.0 48.0,131.9 M48.0,131.9 49.2,131.4 51.3,130.7 53.0,130.0 55.1,129.3 M48.0,131.9 46.5,132.5 45.8,133.8 44.4,135.2 43.4,135.2 41.6,135.9 M41.6,135.9 42.7,137.3 43.0,139.0 43.4,140.4 44.4,140.8 44.7,142.8 44.4,144.9 44.7,146.6 44.0,147.3 M41.6,135.9 40.2,134.9 38.5,133.5 37.5,132.5 36.4,131.9 M34.4,123.5 35.7,125.9 36.4,128.3 37.5,130.4 38.2,132.5 38.5,133.5 M35.7,125.9 38.5,125.9 40.2,124.5 41.6,124.2 43.0,125.2 M27.8,98.9 26.4,97.5 25.7,95.8 23.6,94.4 23.3,93.0 23.3,90.8 M95.9,83.2 99.1,82.6 102.5,81.3 106.0,79.9 108.1,79.5 109.1,80.6 108.4,81.6 107.4,82.1 106.7,83.0 M106.7,83.0 103.6,84.7 101.1,87.1 100.4,89.6 99.1,91.3 96.6,92.0 95.9,91.6 M88.2,86.1 88.2,83.7" fill="none" stroke="#000" stroke-width="0.5" stroke-linejoin="round" opacity="0.9"/>
<path d="M13.1,94.2 14.6,92.3 16.0,92.0 19.5,92.3 21.6,91.6 23.3,90.8 22.6,88.9 21.7,87.1 19.8,86.4 19.8,84.2 17.8,83.3 18.1,81.6 20.7,79.2 22.9,79.7 26.1,79.3 27.8,76.4 29.9,75.0 31.2,72.4 33.3,71.2 35.6,68.5 35.2,66.0 37.8,64.3 35.7,63.3 33.7,62.2 32.3,61.2 31.8,58.8 31.2,57.0 33.7,54.6 30.9,52.9 28.5,51.2 28.8,49.4 31.9,48.4 35.0,47.9 38.2,48.6 40.2,50.1 43.4,51.8 46.5,53.2 48.5,51.8 51.7,51.5 55.1,53.2 55.1,55.3 52.7,57.0 50.6,60.5 52.2,62.9 49.6,63.3 48.5,64.3 49.9,65.7 49.8,67.4 51.7,68.5 54.4,70.2 57.5,71.6 55.8,72.9 54.4,76.1 56.2,77.1 58.6,78.7 61.0,79.5 63.4,80.6 65.5,81.4 68.3,80.9 70.2,81.9 72.1,83.3 74.1,84.0 77.3,84.5 79.3,84.7 82.1,84.5 82.3,82.6 81.9,79.5 84.2,78.8 84.9,80.9 84.5,82.3 85.2,83.2 88.0,83.7 90.1,83.2 92.8,83.3 95.9,83.2 94.7,81.3 94.2,79.9 96.6,79.9 98.7,78.5 101.1,76.8 103.6,75.4 106.0,75.0 108.4,74.7 110.5,74.3 111.5,76.4 114.1,78.3 113.2,79.9 112.6,81.3 113.4,82.3 110.1,81.8 107.7,83.3 106.3,84.7 106.3,86.1 104.6,88.2 104.9,89.6 103.2,93.0 100.8,93.0 100.3,95.4 99.8,98.9 98.7,99.9 97.7,99.9 96.8,96.8 96.6,94.1 95.4,94.1 94.2,96.6 93.0,95.1 92.8,93.0 94.2,92.7 95.9,91.6 97.2,89.6 93.2,88.9 90.1,88.9 88.2,88.5 88.0,86.1 85.9,85.8 84.2,84.7 83.1,84.0 82.3,86.8 84.9,88.5 83.1,89.9 82.1,90.9 84.4,92.3 84.2,95.4 85.0,96.8 85.4,99.6 85.6,101.1 83.8,101.3 82.1,101.1 81.1,101.0 79.0,101.5 77.8,103.4 78.0,104.4 76.6,106.2 75.5,107.2 73.1,107.9 71.7,108.9 70.7,110.0 68.3,112.7 66.2,114.5 62.4,117.2 62.0,118.6 60.0,119.5 58.2,120.7 56.8,121.4 55.1,122.1 54.3,124.2 54.6,127.6 55.1,130.0 54.9,132.5 53.6,135.2 53.6,140.1 51.7,140.4 50.6,142.5 50.4,143.9 47.9,145.3 47.2,147.0 45.6,148.1 44.0,147.3 42.1,145.3 41.3,142.8 40.9,140.8 39.9,138.3 38.9,135.9 37.5,133.8 36.3,131.4 35.4,128.3 34.5,125.5 33.3,123.5 32.3,121.4 31.2,119.0 30.6,115.9 29.7,112.4 29.2,110.3 28.8,107.5 29.0,105.5 29.5,103.4 28.5,101.3 29.2,99.2 27.1,99.9 27.1,102.4 24.7,103.7 22.6,104.4 20.2,103.4 17.4,101.0 15.8,98.9 17.1,98.6 19.5,97.9 20.9,96.5 18.8,97.0 16.7,97.2 14.6,95.8Z" fill="none" stroke="#111" stroke-width="0.6" stroke-linejoin="round"/>
<path d="M83.3,98.2 85.6,98.2 85.7,101.5 82.5,101.5Z" fill="#0a0a0a"/>
<circle cx="13.8" cy="94.1" r="0.8" fill="#111"/>
<path d="M98.7,129.0 99.4,130.4 99.1,133.2 98.9,135.9 98.0,136.3 97.7,133.8 98.2,131.1Z" fill="#262b12" stroke="#111" stroke-width="0.5"/>
<path d="M97.0,138.3 97.7,139.0 97.5,139.7 96.8,139.4Z" fill="#262b12" stroke="#111" stroke-width="0.5"/>
<path d="M98.0,144.1 98.5,144.4 98.2,144.7Z" fill="#222" stroke="#111" stroke-width="0.4"/>
<path d="M100.4,147.3 101.1,148.0 100.8,148.7 100.1,148.4Z" fill="#222" stroke="#111" stroke-width="0.4"/>
<path d="M101.5,150.8 102.3,151.8 102.0,152.7 101.3,152.0Z" fill="#222" stroke="#111" stroke-width="0.4"/>
<path d="M100.1,150.5 100.6,150.8 100.3,151.1Z" fill="#222" stroke="#111" stroke-width="0.4"/>
<circle cx="27.1" cy="135.6" r="0.4" fill="#3a3a3a"/>
<circle cx="28.8" cy="137.3" r="0.4" fill="#3a3a3a"/>
<circle cx="28.6" cy="139.4" r="0.4" fill="#3a3a3a"/>
<circle cx="29.9" cy="141.1" r="0.4" fill="#3a3a3a"/>
<circle cx="27.4" cy="138.3" r="0.4" fill="#3a3a3a"/>
<circle cx="32.1" cy="141.3" r="0.4" fill="#3a3a3a"/>
<circle cx="27.1" cy="138.5" r="0.4" fill="#3a3a3a"/>
<circle cx="30.0" cy="147.4" r="0.4" fill="#3a3a3a"/>
<circle cx="29.0" cy="136.3" r="0.4" fill="#3a3a3a"/>
<circle cx="26.1" cy="134.9" r="0.4" fill="#3a3a3a"/>
<circle cx="33.3" cy="137.3" r="0.4" fill="#3a3a3a"/>
<circle cx="31.6" cy="134.9" r="0.4" fill="#3a3a3a"/>
</g>
<rect x="7.7" y="35.4" width="112.2" height="130.0" fill="none" stroke="#a9a9a9" stroke-width="0.7"/>
<text class="t" x="63.4" y="42.4" font-size="6.5" text-anchor="middle">IMD-CHIRPS</text>
<text class="k" x="26.4" y="34.5">72°E</text>
<text class="k" x="26.4" y="168.8">72°E</text>
<text class="k" x="47.2" y="34.5">78°E</text>
<text class="k" x="47.2" y="168.8">78°E</text>
<text class="k" x="67.9" y="34.5">84°E</text>
<text class="k" x="67.9" y="168.8">84°E</text>
<text class="k" x="88.7" y="34.5">90°E</text>
<text class="k" x="88.7" y="168.8">90°E</text>
<text class="k" x="109.4" y="34.5">96°E</text>
<text class="k" x="109.4" y="168.8">96°E</text>
<text class="k" transform="translate(6.9,51.5) rotate(-90)">36°N</text>
<text class="k" transform="translate(123.0,51.5) rotate(-90)">36°N</text>
<text class="k" transform="translate(6.9,72.3) rotate(-90)">30°N</text>
<text class="k" transform="translate(123.0,72.3) rotate(-90)">30°N</text>
<text class="k" transform="translate(6.9,93.0) rotate(-90)">24°N</text>
<text class="k" transform="translate(123.0,93.0) rotate(-90)">24°N</text>
<text class="k" transform="translate(6.9,113.8) rotate(-90)">18°N</text>
<text class="k" transform="translate(123.0,113.8) rotate(-90)">18°N</text>
<text class="k" transform="translate(6.9,134.5) rotate(-90)">12°N</text>
<text class="k" transform="translate(123.0,134.5) rotate(-90)">12°N</text>
<text class="k" transform="translate(6.9,155.3) rotate(-90)">6°N</text>
<text class="k" transform="translate(123.0,155.3) rotate(-90)">6°N</text>
</g>
<g>
<clipPath id="f1"><rect x="129.4" y="35.4" width="112.2" height="130.0"/></clipPath>
<clipPath id="c1"><path d="M134.9,94.2 136.4,92.3 137.8,92.0 141.3,92.3 143.4,91.6 145.1,90.8 144.4,88.9 143.5,87.1 141.6,86.4 141.6,84.2 139.5,83.3 139.9,81.6 142.5,79.2 144.7,79.7 147.9,79.3 149.6,76.4 151.7,75.0 153.0,72.4 155.1,71.2 157.4,68.5 157.0,66.0 159.6,64.3 157.5,63.3 155.5,62.2 154.1,61.2 153.6,58.8 153.0,57.0 155.5,54.6 152.7,52.9 150.3,51.2 150.6,49.4 153.7,48.4 156.8,47.9 160.0,48.6 162.0,50.1 165.2,51.8 168.3,53.2 170.3,51.8 173.5,51.5 176.9,53.2 176.9,55.3 174.5,57.0 172.4,60.5 174.0,62.9 171.4,63.3 170.3,64.3 171.7,65.7 171.6,67.4 173.5,68.5 176.2,70.2 179.3,71.6 177.6,72.9 176.2,76.1 178.0,77.1 180.4,78.7 182.8,79.5 185.2,80.6 187.3,81.4 190.1,80.9 192.0,81.9 193.9,83.3 195.9,84.0 199.1,84.5 201.1,84.7 203.9,84.5 204.1,82.6 203.7,79.5 206.0,78.8 206.7,80.9 206.3,82.3 207.0,83.2 209.8,83.7 211.9,83.2 214.6,83.3 217.7,83.2 216.5,81.3 216.0,79.9 218.4,79.9 220.5,78.5 222.9,76.8 225.4,75.4 227.8,75.0 230.2,74.7 232.3,74.3 233.3,76.4 235.9,78.3 235.0,79.9 234.4,81.3 235.2,82.3 231.9,81.8 229.5,83.3 228.1,84.7 228.1,86.1 226.4,88.2 226.7,89.6 225.0,93.0 222.6,93.0 222.1,95.4 221.6,98.9 220.5,99.9 219.5,99.9 218.6,96.8 218.4,94.1 217.2,94.1 216.0,96.6 214.8,95.1 214.6,93.0 216.0,92.7 217.7,91.6 219.0,89.6 215.0,88.9 211.9,88.9 210.0,88.5 209.8,86.1 207.7,85.8 206.0,84.7 204.9,84.0 204.1,86.8 206.7,88.5 204.9,89.9 203.9,90.9 206.2,92.3 206.0,95.4 206.8,96.8 207.2,99.6 207.4,101.1 205.6,101.3 203.9,101.1 202.9,101.0 200.8,101.5 199.6,103.4 199.8,104.4 198.4,106.2 197.3,107.2 194.9,107.9 193.5,108.9 192.5,110.0 190.1,112.7 188.0,114.5 184.2,117.2 183.8,118.6 181.8,119.5 180.0,120.7 178.6,121.4 176.9,122.1 176.1,124.2 176.4,127.6 176.9,130.0 176.7,132.5 175.4,135.2 175.4,140.1 173.5,140.4 172.4,142.5 172.2,143.9 169.7,145.3 169.0,147.0 167.4,148.1 165.8,147.3 163.9,145.3 163.1,142.8 162.7,140.8 161.7,138.3 160.7,135.9 159.3,133.8 158.1,131.4 157.2,128.3 156.3,125.5 155.1,123.5 154.1,121.4 153.0,119.0 152.4,115.9 151.5,112.4 151.0,110.3 150.6,107.5 150.8,105.5 151.3,103.4 150.3,101.3 151.0,99.2 148.9,99.9 148.9,102.4 146.5,103.7 144.4,104.4 142.0,103.4 139.2,101.0 137.6,98.9 138.9,98.6 141.3,97.9 142.7,96.5 140.6,97.0 138.5,97.2 136.4,95.8Z"/></clipPath>
<g clip-path="url(#f1)">
<g clip-path="url(#c1)">
<path d="M134.9,94.2 136.4,92.3 137.8,92.0 141.3,92.3 143.4,91.6 145.1,90.8 144.4,88.9 143.5,87.1 141.6,86.4 141.6,84.2 139.5,83.3 139.9,81.6 142.5,79.2 144.7,79.7 147.9,79.3 149.6,76.4 151.7,75.0 153.0,72.4 155.1,71.2 157.4,68.5 157.0,66.0 159.6,64.3 157.5,63.3 155.5,62.2 154.1,61.2 153.6,58.8 153.0,57.0 155.5,54.6 152.7,52.9 150.3,51.2 150.6,49.4 153.7,48.4 156.8,47.9 160.0,48.6 162.0,50.1 165.2,51.8 168.3,53.2 170.3,51.8 173.5,51.5 176.9,53.2 176.9,55.3 174.5,57.0 172.4,60.5 174.0,62.9 171.4,63.3 170.3,64.3 171.7,65.7 171.6,67.4 173.5,68.5 176.2,70.2 179.3,71.6 177.6,72.9 176.2,76.1 178.0,77.1 180.4,78.7 182.8,79.5 185.2,80.6 187.3,81.4 190.1,80.9 192.0,81.9 193.9,83.3 195.9,84.0 199.1,84.5 201.1,84.7 203.9,84.5 204.1,82.6 203.7,79.5 206.0,78.8 206.7,80.9 206.3,82.3 207.0,83.2 209.8,83.7 211.9,83.2 214.6,83.3 217.7,83.2 216.5,81.3 216.0,79.9 218.4,79.9 220.5,78.5 222.9,76.8 225.4,75.4 227.8,75.0 230.2,74.7 232.3,74.3 233.3,76.4 235.9,78.3 235.0,79.9 234.4,81.3 235.2,82.3 231.9,81.8 229.5,83.3 228.1,84.7 228.1,86.1 226.4,88.2 226.7,89.6 225.0,93.0 222.6,93.0 222.1,95.4 221.6,98.9 220.5,99.9 219.5,99.9 218.6,96.8 218.4,94.1 217.2,94.1 216.0,96.6 214.8,95.1 214.6,93.0 216.0,92.7 217.7,91.6 219.0,89.6 215.0,88.9 211.9,88.9 210.0,88.5 209.8,86.1 207.7,85.8 206.0,84.7 204.9,84.0 204.1,86.8 206.7,88.5 204.9,89.9 203.9,90.9 206.2,92.3 206.0,95.4 206.8,96.8 207.2,99.6 207.4,101.1 205.6,101.3 203.9,101.1 202.9,101.0 200.8,101.5 199.6,103.4 199.8,104.4 198.4,106.2 197.3,107.2 194.9,107.9 193.5,108.9 192.5,110.0 190.1,112.7 188.0,114.5 184.2,117.2 183.8,118.6 181.8,119.5 180.0,120.7 178.6,121.4 176.9,122.1 176.1,124.2 176.4,127.6 176.9,130.0 176.7,132.5 175.4,135.2 175.4,140.1 173.5,140.4 172.4,142.5 172.2,143.9 169.7,145.3 169.0,147.0 167.4,148.1 165.8,147.3 163.9,145.3 163.1,142.8 162.7,140.8 161.7,138.3 160.7,135.9 159.3,133.8 158.1,131.4 157.2,128.3 156.3,125.5 155.1,123.5 154.1,121.4 153.0,119.0 152.4,115.9 151.5,112.4 151.0,110.3 150.6,107.5 150.8,105.5 151.3,103.4 150.3,101.3 151.0,99.2 148.9,99.9 148.9,102.4 146.5,103.7 144.4,104.4 142.0,103.4 139.2,101.0 137.6,98.9 138.9,98.6 141.3,97.9 142.7,96.5 140.6,97.0 138.5,97.2 136.4,95.8Z" fill="#0b7a0b"/>
<path fill="#4db31a" fill-rule="evenodd" d="M157.2,45.8l-0.7,0 -0.7,0.7 -2.8,0 -0.6,0.7 -1.4,0 -2.2,2.2 -0.1,2.1 2.3,2.2 0.7,0 1.2,1.3 -2.1,2 0.7,0.7 0.1,1.4 0.6,0.7 0,1.4 2.9,2.9 0.7,0 0.6,0.5 -1.4,1.4 0.7,2.1 -0.7,0.7 0,0.7 -0.6,0.6 -0.7,0 -2.7,2.8 0,0.6 1.4,-0.4 0,1.1 -0.7,0.4 -2.1,-0.3 -2.1,2.1 0,0.7 -0.7,0.6 -4.8,0 -4.3,4.2 0.1,1.4 2,2.1 0,0.7 2.8,2.8 0,0.7 -0.6,0.6 -4.9,0 -4.2,4.2 4.1,4.2 -0.7,0.6 0,0.7 5.7,5.7 1.4,0 0.6,0.6 0.7,0 0.7,-0.6 1.4,0 0.7,-0.7 0.7,0 0.6,0.6 0,4.8 0.7,0.7 0,2.1 0.7,0.7 0,2.1 0.7,0.6 0,2.1 1.3,2.1 0.1,1.4 0.6,0.7 0,0.7 1.5,1.3 0,0.7 0.7,0.7 -0.1,2.1 0.7,0.7 0,1.4 0.8,0.7 -0.1,1.4 0.7,0.7 0,0.6 1.4,1.4 0.7,2.1 0.7,0.7 0,0.7 0.7,0.7 0,1.4 0.7,0.7 0,2 0.7,0.7 0,0.7 4.9,4.9 0.7,0 6.3,-6.3 0,-0.7 0.6,-0.6 0.7,0 2.2,-2.1 -0.1,-5.6 1.4,-2 0,-3.5 -0.7,-0.7 0,-4.8 3.4,-2.1 0.7,0 0.7,-0.7 0.7,0 2.1,-2.1 0,-0.7 0.7,-0.6 0.7,-0.1 0.6,-1.6 1.4,-1.6 0.7,0.5 2.1,-2.1 0,-0.4 -2.1,-0.3 0.3,-0.7 1.1,-0.6 2.1,0.6 1.5,-1.4 -0.7,-0.7 0.9,-1.4 -0.6,-2 0.6,-0.7 -1.1,-1.4 2.5,-1.4 0.2,-2.1 1.5,-0.7 2.6,2.1 -2.4,2.1 -0.6,1.4 0,0.7 1.3,1.4 0.5,0 1.4,-1.4 0,-1.8 0.3,1.1 0.4,0 0,-1.4 0.7,-0.7 4.8,0 2.1,-2 0,-2.1 -0.7,-0.7 0.1,-1.4 -0.7,-0.7 0,-3.5 -1.4,-1.4 0,-0.7 2,-2 2.1,2.1 0.7,0 0.7,0.7 1.3,0 0.7,0.6 -1.4,1.4 0.7,0.7 -0.1,1.4 0.7,0.7 0,0.7 2.2,2.2 0.7,-0.7 0.6,0.6 0,1.3 2.2,2.2 0.7,0 3.5,-3.5 0,-2.8 3.5,-3.5 0,-0.7 1.4,-2 -0.1,-0.7 -0.7,-0.7 4.1,-4.8 0.7,0 0.7,0.8 1.4,0 2.2,-2.3 -0.7,-0.6 0,-0.7 1.4,-1.4 0,-0.7 -5.7,-5.7 -4.1,0 -0.7,0.7 -2.1,0 -0.7,0.7 -0.7,0 -1.4,1.4 -0.6,0 -1.4,1.3 -0.7,0.1 -1.4,1.3 -1.4,0.1 -2.8,2.7 -2.7,0.1 -0.7,0.7 -1.4,0 -0.6,-0.6 -0.7,-2.1 -2.2,-2.1 -0.7,0 -2.8,2.8 0,2 -0.6,0.7 -5.6,-0.1 -0.6,-0.7 -1.4,0 -2.1,-2 -0.7,0 -0.7,-0.7 -1.3,0.1 -1.5,0.9 -1.3,-0.9 -0.6,1.4 -0.8,0.4 -0.7,-0.4 -0.2,-0.7 0.2,-0.8 0.7,-0.6 -0.7,-0.1 -0.7,-0.7 -1.4,-0.1 -0.7,-0.7 -0.7,0.1 -2,-1.3 0,-1.4 0.7,-0.7 0,-0.7 1.4,-1.3 -2.2,-2.2 -3.4,-1.4 -2,-2 0.1,-1.4 2,-2 0,-0.7 -1.3,-1.4 1.3,-1.4 0,-0.7 3.5,-3.4 0,-1.4 -2.9,-2.9 -0.7,0 -0.7,-0.7 -4.2,0 -2,1.4 -0.7,0 -0.7,-0.7 -0.7,0 -0.7,-0.7 -0.7,0 -2.1,-1.4 -0.7,0 -2,-2.1 -2.1,0zM171.9,116.5l0.9,1.4 -0.4,0.7 -0.7,0 -0.8,-0.7 -0.1,-0.7 0.9,-0.9zM178.9,114.5l-0.4,0.7 -0.8,0 0.3,-0.9zM183.8,111.0l-0.1,0.7 -0.4,0 -0.1,-0.7zM173.2,110.3l-0.1,1 -0.3,-0.3zM183.6,105.5l-0.1,0.7 0.7,0.6 0.7,-0.1 0.7,-0.8 2.5,2.3 0.2,0.7 -0.7,1.5 -0.6,-0.1 -2.4,-2.1 -1.8,-2.7zM197.3,106.8l-0.5,0.7 0.5,1.3 1.4,-1.3 0,-0.3zM191.8,106.9l0,0.6 -0.7,0.4 -0.8,-0.4 -0.4,-0.6 1.2,-0.5zM162.5,100.6l0.8,1.4 -0.6,0.9 -0.8,-0.2 -0.3,-1.4 -0.7,-0.7 0.4,-0.6 0.7,0zM173.6,92.3l0,0.7 -1.4,1.4 0.4,1.4 -2.9,0.7 0.3,1.4 -1,1.3 0.8,1.4 -0.8,2 -2.1,-0.8 -1.4,0 -0.7,-0.6 -0.4,-2 -1.8,-0.6 -0.5,-2.1 0.6,-0.7 1.4,-0.1 0.7,-0.6 -0.4,-2.1 2.5,-0.6 0.7,-0.6 2.7,0.8 2.1,-0.7zM190.6,100.6l-0.9,1.3 -1.1,0.1 1.1,-1.5 0.7,-0.4zM204.4,97.9l0.8,0.7 0.3,1.3 -0.1,1.4 -0.5,0.7 -3.8,-0.7 -0.2,-0.7 1.1,-1.4zM184.3,95.8l-0.2,0.7 0.7,1.4 -0.6,0.7 -1.4,1.2 -2.1,-0.3 -0.4,-0.9 1,-1.4 0,-1.4 2.2,-0.6zM193.6,98.6l-0.4,1.1 -0.7,-0.3 -0.6,-0.8 0.6,-0.7zM178.1,95.1l0.6,0.7 -0.7,1 -2.1,1 -0.6,-0.6 0.6,-1.7zM167.6,94.1l-1.1,1.7 1.1,0.7 0.7,-0.2 0.1,-0.5 -0.1,-1.4zM174.6,93.0l0.8,0.7 0,0.7 -0.2,0.5 -1,0.2 -0.2,-0.7zM181.6,93.7l-0.2,0.7 -0.7,0.3 0,-1.5zM179.0,92.3l0.1,0.7 -0.5,0.5 -0.6,0.2 -0.9,-0.7 0.1,-0.7 0.8,-0.4zM199.5,90.9l0.3,0.7 -0.4,1 -0.7,0.8 -0.7,-0.1 -0.3,-1 0.3,-0.7 0.6,-0.7zM174.5,90.9l-0.7,0.6 0,-0.7zM160.8,81.9l0.5,0.7 1.4,0.2 0.4,0.5 0.1,0.7 -0.6,0.7 0.1,0.6 0.7,-0.4 1.4,0 1.4,1.9 0.7,-0.4 1.6,0.4 0.8,0.7 -1.7,1.8 -1.4,0.1 -1.3,-0.5 -2.6,-2.1 -0.2,-0.7 0.3,-0.7 -1.1,0 -2.1,-2.1 0.1,-1.6 0.7,-0.3zM178.2,82.6l1.1,0.5 0.7,-0.1 -0.2,1.7 -1.2,1.1 -0.8,-0.4 -1,-2.1 0.1,-0.7zM172.0,83.3l0.3,0.7 -0.6,0.6 -1.4,0.2 -0.5,-0.8 0.9,-0.7zM176.7,80.6l-0.8,0.8 0.3,-0.8zM178.4,77.8l-1.1,0 0.7,-0.3zM166.3,74.3l-0.1,0.9 -0.7,-0.1 -0.4,-0.8 0.4,-0.4 0.7,0.1zM171.8,72.9l0,1.4 -0.4,0 -0.3,-1.4z"/>
<path fill="#ffff19" fill-rule="evenodd" d="M157.2,45.9l-0.7,0 -0.7,0.7 -2.8,0 -0.6,0.7 -1.4,0 -2.2,2.1 0,2.1 2.2,2.1 0.7,0 1.3,1.4 -2.1,2 0.7,0.7 0,1.4 0.7,0.7 0,1.4 2.8,2.8 0.7,0 0.7,0.6 -1.4,1.4 0.7,2.1 -0.7,0.7 0,0.7 -0.7,0.6 -0.7,0 -1.1,1.5 0.7,0.7 0.4,1.4 2.1,1.3 0,0.7 -0.4,0.7 -3,0.9 -0.7,-0.1 -2.1,-2.2 -0.7,0 -0.4,0.7 0.4,0.1 0.2,0.6 0.1,1.4 -0.3,0.5 -1.4,-1.5 -0.7,1 -1.3,0 -0.8,0.8 -0.2,-0.8 -2.5,-0.1 -1.8,2.2 1.7,1.4 -2,2 -0.8,-0.7 0.1,-1.6 -0.7,0.2 -0.7,0.7 0,1.4 2.1,2.1 0,0.7 2.7,2.8 0,0.7 -0.6,0.6 -4.9,0 -4.1,4.2 4.1,4.2 -0.7,0.6 0,0.7 5.6,5.6 1.4,0 0.6,0.7 0.7,0 0.7,-0.7 1.4,0 0.7,-0.7 0.7,0 0.7,0.7 0,3.1 0.6,1 -0.3,0.7 0.3,2.8 0.7,0.7 0,2.1 0.7,0.6 0,2.1 1.4,2.1 0,1.4 0.7,0.7 0,0.7 0.7,0.7 0.7,-0.3 2.1,0.6 0.7,0.3 0.3,0.7 0,0.7 -1,0.4 -1.4,-1 0,2.7 0.7,0.7 0,1.4 0.8,0 0.5,0.7 -0.6,0.5 0,0.9 0.7,0.4 0,0.9 2.7,2.1 0.1,0.7 -0.6,0.7 0.5,0.7 0,0.7 0.7,0.7 0,1.4 0.7,0.7 0,1.7 0.5,0.3 0.2,1.4 4.2,4.2 2.1,0 4.8,-4.9 0.5,-0.7 -0.1,-0.7 0.9,-1.3 -1.3,-1.9 -1.4,-0.2 -0.8,-0.7 0,-2.1 -0.6,-0.5 -0.4,-1.6 -0.7,-0.7 -0.2,-1.7 -3.1,-0.3 -0.5,-0.7 0.1,-1.4 0.7,-0.2 1.4,1.1 1.4,-0.6 1.3,0.1 1.4,2.2 2.1,0.8 1.1,-1.3 -0.3,-2.8 -1.9,-0.7 0,-0.7 0.2,-0.7 1.6,-1.4 0.1,-0.7 -1.2,-0.6 -0.1,-0.7 1.4,-1.4 -0.9,-2.1 -1.4,0.6 -1.3,-0.6 -1.4,-2.8 1.1,-1.3 -0.5,-0.6 -1.3,0.3 -0.9,-0.4 -0.1,-2.8 0.8,-2.1 -0.2,-2.8 -3.1,-0.9 -0.7,0.2 -0.7,1 -3.4,0.9 -0.7,-1 -1.4,0.1 -2.8,-1.3 -0.7,-0.9 3.5,-2 2.2,-0.2 -0.1,-1.4 -0.7,-0.4 -1.4,1.1 -2.1,-0.2 -0.9,-1.2 -0.4,-2.1 0.1,-0.6 2.1,-1.4 1.2,-2 1.1,-0.8 0.8,-2.8 -0.4,-0.7 -2.2,0.8 -0.6,0.6 0.3,2.1 -0.4,0.7 -0.7,0.1 -1.7,-0.1 -0.3,-0.7 0.6,-1.4 -0.7,-1.2 -1.4,1.6 -0.9,-1.1 1.6,-2.1 1.4,-0.8 0.4,-1.2 1.7,-2.3 0.7,0.9 0,1.4 0.7,0.8 0.7,0.3 1.3,-1.1 -1,-1.4 0,-2.1 -0.8,-0.7 -0.5,-1.4 0.3,-1.2 1.2,-1.5 0,-0.7 0.9,-0.1 -0.6,0.8 0.5,0.7 0.7,0.8 2.1,1.1 0.7,1.3 0.7,0.2 2.6,-0.7 -0.2,1.4 0.4,1.1 1.4,0.4 1,-0.8 -2,-3.5 0.8,-1.3 0.2,-1.6 1,-0.5 -0.3,-1.4 0.4,-0.7 0.9,-0.4 0.7,0.4 0.8,-0.7 -2.2,-0.5 -0.5,-2.3 0.1,-2 0.4,-0.4 1.4,0.5 0.7,-2.5 4.8,2.4 -0.6,0.9 -2.1,0.3 -0.6,0.8 0.6,2.6 1.4,1.2 0.5,-0.3 0.2,-2.8 0.7,-0.5 0.7,0 0.5,0.5 -0.8,1.4 0.9,1.2 0.1,-1.9 0.7,-0.7 0.3,-1.3 -1.1,-0.7 0.8,-1.4 -0.8,-0.8 -3.4,-1.4 -2,-2 0,-1.4 2.1,-2 0,-0.7 -1.4,-1.4 1.4,-1.4 0,-0.7 3.4,-3.4 0,-1.4 -2.8,-2.9 -0.7,0 -0.7,-0.6 -4.2,-0.1 -2,1.4 -0.7,0 -0.7,-0.7 -0.7,0 -0.7,-0.7 -0.7,0 -2.1,-1.4 -0.7,0 -2,-2 -2.1,0zM167.0,144.2l0,2.1 0.5,0.7 -0.6,0.8 -0.6,-0.8 0.5,-1.4 -0.6,-0.4 -0.2,-1zM165.0,140.8l0.5,0.7 -0.7,0.4 -0.6,-1.1zM178.6,130.3l-0.3,1.5 -2.8,2.7 0.3,1.4 -0.4,0.7 -0.9,0.2 -2.1,-1.3 -1.2,1.1 2.6,2.5 2,0.3 -0.4,2.1 0.5,0 1.4,-1.4 0,-5.6 1.4,-2zM160.0,126.9l0.1,2.1 1.3,1.4 -0.7,0.9 -0.9,-0.9 0,-1.4 -1.2,-2.1 0.7,-0.7zM175.9,127.4l-1.1,0.9 1.1,0.2zM168.9,122.1l0.7,1.4 -2.7,3.2 -1.4,0.9 -2.1,-0.6 0,-1.2 2.1,-0.2 1.8,-1.4 0.3,-2.4zM178.0,124.9l-0.4,0.6 0.4,0.9zM176.6,121.4l-1.2,0.7 -0.1,0.7 0.6,1 1.4,-1zM165.3,122.1l-0.5,0.5 -0.9,-0.5zM181.4,115.6l-0.7,0.5 -1.4,-0.3 -0.7,1.1 -1.8,0.3 0.9,1.4 0.2,2.1 1.4,1.1 0.7,-0.9 1.4,0.2 0.4,-0.4 0.3,-1.4 -0.7,-1.4zM187.0,112.1l-1.4,0 -2.4,1 0.9,2.1 -0.9,2.7 0.3,0.5 1.5,-0.5 -0.1,-1.4 0.3,-0.6 2.4,-1.7 0.2,-1.1zM161.4,114.5l0.5,0.7 0.4,2 -0.3,0.3 -1.3,-0.3 -0.3,-0.7 0.3,-2zM175.2,114.4l-2.1,0.1 0.7,2.8 0.7,-0.1 1.4,-1.3 0,-0.7zM152.7,111.7l1,0.5 0.7,2.5 -0.2,1.2 -0.5,0.6 -0.8,-0.6 0.8,-1.4 -0.1,-0.7 -1.8,-1.4 0,-0.7zM166.7,113.1l0.3,0.7 -0.8,0.7 -0.8,-0.7 0.1,-0.8 0.7,-0.3zM190.4,112.8l-0.4,0.3 0.3,0.7 0.6,-0.7zM182.1,112.5l-0.7,0 -0.8,0.6 1.5,0.3 0.5,-0.3zM171.7,108.9l-0.7,0.5 -0.2,0.9 -0.1,2.1 0.3,0.2 0.7,-0.5 -0.2,-1.1 0.6,-1.4zM179.3,97.2l-1.3,0.8 -2.2,2.6 0.6,1.4 -0.4,2.1 -0.8,-0.3 -1.4,-2.5 -1.4,-1.1 -1.2,1.8 -0.2,1.6 -0.7,-0.1 -1.1,0.6 -0.5,2.1 0.3,1.3 0.7,0.1 0.7,-0.7 0.6,-1.5 0.7,-0.4 1.1,0.5 0.6,0.7 -0.1,2 1.2,0.7 0.4,1.4 1,0.8 0.7,1.3 4.8,-2.8 0.3,-3.4 -0.7,-2.8 0.9,-1.4 0,-0.7 -0.3,-0.7 -1.6,-1.1zM161.4,110.3l0.7,0.7 -0.8,0.5 -2,-0.5 -0.5,-0.7 0.5,-0.6zM164.1,103.3l-1.4,1.2 -1.4,0.2 -0.4,0.8 0.4,0.7 3.2,0 0,-2.8zM185.6,102.0l-2.1,1.4 0.6,0.7 2.2,0.7 0.7,0.6 0.6,-0.7 -1.9,-2zM190.4,104.1l-0.6,0.7 0.6,0.6 0.9,-0.6zM166.9,103.4l-0.4,0 0.4,0.8 0.3,-0.1zM231.9,72.9l-4.1,-0.1 -0.7,0.7 -2.1,0.1 -0.7,0.7 -0.7,0 -1.4,1.3 -0.6,0.1 -1.4,1.3 -0.7,0 -1.4,1.4 -1.4,0 -2.8,2.8 -2.7,0 -0.7,0.7 -1.4,0 -1.4,-2 0,-0.7 -1.4,-0.9 -0.7,-0.1 -1.3,0.8 -0.2,-0.5 -0.5,0 -1.5,1.4 0.1,1.7 2.1,1.4 0.6,0.1 2.1,-1.5 0.4,0.3 -0.1,1.4 1.1,1.4 -0.7,1.7 -2.8,0.5 -0.7,2.7 0.3,0.6 1.2,1.4 1.3,0.7 -0.6,-2.1 2.3,-2 -0.5,-0.7 0.2,-0.5 2.1,0.2 0.5,-0.4 0,-1.4 -0.5,-0.6 -1.8,-0.8 1.1,-1.6 2.8,-0.1 0.6,1.2 4.2,-0.6 0.7,0.4 -0.7,0.5 -2.1,-0.3 -0.5,0.5 -0.3,1.4 0.4,1.4 -3,2.6 -0.4,0.8 0.4,0.8 1.3,0 0.7,0.6 -1.4,1.4 0.7,0.7 0,1.4 0.7,0.7 0,0.7 2.1,2.1 0.7,-0.7 0.6,0.7 0,1.3 2.5,2.1 2.5,-2.1 -0.4,-0.7 1.7,-0.8 0.1,-2.6 3.4,-3.5 0,-0.7 1.4,-2 0,-0.7 -0.7,-0.3 -1.6,1.6 -1.4,0.7 -0.9,1.4 -0.6,0 0.7,-2.7 0.6,-0.7 3.2,-0.8 0.7,-0.6 -1.2,-2.1 0.3,-0.7 0.9,0 1.4,0.8 2,-2.1 0.7,0 0.7,0.7 1.4,0 2.1,-2.2 -0.7,-0.6 0,-0.7 1.4,-1.4 0,-0.7zM188.3,99.1l-1.3,0.7 -1.4,-0.1 0,1.6 0.7,0.7 2.2,-1.4 0.4,-0.7zM209.1,99.5l-0.3,1.1 0.3,0zM160.7,95.4l-0.8,1.1 -0.3,1.4 0.7,0.7 1,0 0,-1.5zM172.4,97.7l-0.7,-0.4 -0.6,1.3 1.3,0.4 1.6,-0.4 -0.2,-0.5 -0.7,0.2zM180.0,76.3l-1.2,0.1 0.8,1.4 -1.9,3.5 0.3,0.6 1.3,0.4 1.4,-1.5 0.7,0.5 -0.1,1.3 -1,2.1 -1.7,1.6 -2,-0.3 -0.7,-3.2 -1.4,-1.2 -1.4,-0.4 -1.4,-1.7 -0.7,0 -1.2,1.8 0.1,1.3 2.5,0.1 0.6,1.3 0,2.8 -1.9,2.1 0.6,1.1 2.8,-0.2 0.9,0.4 0.5,1.6 1.2,-0.9 0.9,-1.3 0.6,0.8 2.1,-0.7 1.4,0.5 1.4,-0.3 0.8,0.3 0.3,1.4 -0.4,1 -1.2,0.4 1.2,1.6 1.4,0.3 0.9,-0.5 0.5,-1.1 0.6,0 0.9,0.4 0.4,1.4 1.5,1.2 0.7,0.1 0.7,-0.4 1.3,1.2 2.2,0.8 1.3,-1.3 0.7,-0.1 2.8,0.8 1.4,0.8 1,-0.3 0.7,-1.4 -1,-1.4 1.4,-0.8 0.7,0 0.5,-0.6 -0.5,-2.1 -1.2,-0.7 -2.2,-4.8 -1.2,-1.4 0.3,-2.1 -4.1,0 -0.6,-0.7 -1.4,0 -2.1,-2.1 -0.7,0 -0.7,-0.6 -2.1,1.4 -2,0.1 -1.7,1.2 -0.4,1 -0.6,-3 0.3,-1.4 -0.4,-0.7 -1.4,-0.1zM152.4,95.1l0.2,0.7 -0.2,1.1 -0.7,0.4 -1.6,-0.1 1.2,-2.1zM193.5,88.9l2.3,2 0.1,0.8 0.7,-0.2 1.4,-1.8 2.8,0.9 0.7,1 -1.2,1.4 -0.3,1.4 -1.3,1 -0.7,0 -0.7,-0.9 -1.4,1.9 -2,-1.8 0,-1.2 -1.2,-1.1 0.4,-2.1 -1,-1.3 0.4,-0.5zM207.7,93.9l-2.8,0.1 -0.4,0.4 1.1,1.2 2.1,0.3zM161.3,94.6l-0.4,0.5 0.4,0.3 0.4,-0.3zM201.0,94.4l1.1,0.7 -1.3,0.5 -0.5,-0.5 0.1,-0.7zM221.2,92.3l0.8,0.7 0,0.7 -1.1,0.5 -1,-0.5 -0.3,-0.7 0.6,-0.7zM162.7,88.1l-0.6,2.1 -1,0.7 0,0.7 0.9,1.1 0.7,0.1 2,-1.2 0.3,-0.7zM188.0,84.7l0.3,1.4 -1.3,1.4 0.6,1.7 -0.6,0.4 -1,-0.7 0.3,-1.3 1.1,-0.8 -0.9,-2.1 0.5,-0.4zM216.6,88.2l0,0.7 -0.6,0.2 -0.6,-0.9 0.6,-0.3zM152.1,86.8l-0.4,0.6 -0.6,-0.6 0.6,-0.4zM202.9,83.5l-0.7,-0.1 -0.5,0.6 3.2,2.7 0.3,-0.6 -0.4,-0.7zM152.1,78.5l0.3,0.7 -0.5,1.4 1.1,1.5 -2,-0.4 -0.5,-0.4 -0.1,-2.1 0.6,-0.8 0.7,-0.3zM147.4,79.9l0.2,1.4 -0.8,0.1 -0.4,-0.8 0.2,-0.7zM165.8,79.2l-0.7,1.4 -1,-0.1 -0.2,-0.6 0.2,-0.9 0.7,-0.3zM174.5,77.7l-1.4,0.2 0,1 0.7,0.2 0.7,-0.5zM167.1,72.9l0.4,0.7 -0.3,2.1 -1.7,0.2 -1.3,-1.6 2,-1.4zM167.0,66.0l0.3,0.7 -2,0.7 1.3,-1.4z"/>
<path fill="#ffa31a" fill-rule="evenodd" d="M153.0,104.0l-0.4,0.8 1.4,3.4 -0.1,1.4 2.3,5.6 0.5,2.7 1.1,1.4 -0.3,1.4 1.1,1 0.5,1.1 -0.7,1.4 0.2,0.6 2.6,2.1 0.1,2 0.7,0.8 1,2.8 -0.5,2.7 -1.3,0.7 -1.1,2.8 1.1,0 0.8,-1 0.7,-0.2 2.1,0.6 1.4,2.7 0.5,2 1.2,1.4 0.1,1.4 1,0.2 1,-0.9 -0.8,-2.8 -0.2,-2.7 0.4,-0.7 -0.1,-1.4 -0.3,-0.8 -1,0.8 0.3,1.5 -0.7,-0.7 -0.9,-2.9 0.2,-1.4 -2.4,-1.3 0,-3.5 -2.2,-2.1 0.7,-2.7 -1.7,-3.2 -0.1,-2.4 -1.6,-1.4 -0.1,-1.3 -0.7,-1.4 0.3,-0.7 1,-0.7 0,-0.7 -0.8,-0.3 -1.4,0.3 -1.3,-0.7 0,-2.1 -1.4,-1.4zM163.4,142.7l-0.3,0.1 0.3,1.2 0.3,-0.5zM172.4,140.6l-1.4,0.2 -0.4,0.7 0.4,1.1 0.7,0 1,-1.1zM160.0,132.2l-0.8,0.3 0.8,0.4zM170.3,127.1l-0.9,0.5 0.9,0.2zM171.0,123.6l-0.7,0.3 -0.4,0.9 0.4,0.7 1.1,-0.7zM149.6,111.6l0,1.5 0.7,0.7 0,2.1 0.7,0.6 0,2.1 1.3,2.1 0.1,1.3 0.6,0.6 1.6,-1.2 0.2,-0.7 -1.6,-0.7 -0.2,-1 -0.6,-0.1 -0.6,-2.4 0.3,-2 -1.4,-0.7 -0.4,-1.5zM165.5,115.7l-0.7,-0.3 -0.7,0.3 -0.3,0.8 -0.4,3.5 0.7,0.7 0.9,-0.7 -0.7,-1.4 1.5,-2.1zM169.0,117.7l-0.9,0.2 0.2,2.3 0.7,-0.1 0.5,-0.8zM179.3,118.8l-0.5,0.5 0.5,0.4 0.7,-0.4zM165.5,108.1l-1,0.8 0.3,0.4 0.7,-0.4zM150.3,106.9l-0.7,0.8 0.7,0.1zM178.6,101.8l-1.3,0.9 -0.5,3.5 1.2,1.5 1.3,0.5 0.9,-0.7 0.1,-2.7 -0.5,-2.1zM144.0,100.3l-1.3,0.3 -0.7,1.7 -1.4,0.4 -0.6,0.7 2,2.1 0.8,0 -0.8,-1.4 0.4,-0.7 1,-0.1 1.3,0.6 1.1,-0.5 -0.3,-1.4zM149.6,102.0l-0.7,0.1 -0.6,0.6 0.6,1.3 0.7,0.2 0.5,-1.5zM178.6,99.0l-0.7,1.6 0.7,0.3 0.8,-1zM219.5,98.5l-0.7,-0.3 -1.4,0.2 0,1.5 2.7,-0.7zM216.7,96.3l-2.1,-0.5 -0.5,0.7 1.9,2.1 0.9,-0.7zM140.6,93.7l-0.5,0.7 1.2,0 -0.3,-0.7zM191.8,85.6l-1.4,-0.1 -2,2.7 0.1,1.4 0.8,0.6 0.1,1.4 1,0.7 1,-0.7 0.2,-0.7 -1.2,-1.5 -0.2,-1.2 2.1,-1.4zM215.3,90.2l-1.4,-0.4 -0.9,0.4 -0.1,0.7 1.7,0.1 1.4,1.3 0.7,0 1,-0.7 -0.3,-1.3 -1.4,0.2zM175.2,83.4l-1.1,0.6 -0.3,2.9 -1,1.3 0,0.7 3.1,0.4 0.6,-0.4 -0.9,-3.5 0.1,-1.4zM183.5,83.9l-1.4,-0.4 -0.7,0.3 -2.1,2.7 -1.4,1 2.4,1.4 2.9,0 -1.1,-0.1 -0.5,-0.6 0.9,-0.7 0.3,-1.6 0.7,0.1 1.4,1.4 1.4,-1.3 -0.7,-1zM184.9,87.5l-2,0.7 0.6,0.7 1.4,0.5 0.3,-0.5zM219.5,84.7l-2.1,0.7 -1.4,-0.7 -0.3,0.7 0.8,1.4 2.3,0.9 1.4,1.7 1.4,-0.1 3.4,-1.9 1.4,-0.1 0.4,-0.5 -0.4,-1.1 -0.7,-0.6 -0.7,-0.1 -1.4,1.2 -1.4,-0.8zM195.3,81.9l-1.5,0 -0.7,2.1 0.6,1.4 0,1.4 1.6,1.1 0.6,0.1 1.7,-0.5 0.8,-0.7 0.4,-1.4 -0.8,-1.1 -1.9,-1zM156.5,82.6l-1.7,0 -0.6,0.7 -0.1,0.7 0.3,0.5 0.7,0.5 1.4,-1 0.3,-0.7zM151.7,83.0l-0.7,0.6 0,1.1 0.7,0 0.6,-0.7 0,-0.7zM191.8,79.9l-0.9,0 -3.3,1.6 -1.3,-0.1 -0.7,0.4 -0.4,1.5 0.3,0.7 2.1,-0.3 2.8,0.7 0.7,-0.4 0.2,-2.1 1.1,-1.3zM225.0,84.0l-1.4,0 0.7,0.3zM231.9,72.9l-4.1,0 -0.7,0.7 -2.1,0 0,1.4 -1.4,-0.7 -1.4,1.4 -0.6,0 -1.4,1.3 -0.7,0.1 -1.4,1.3 -1.4,0.1 -2.8,2.8 1.4,0.8 2.8,0.1 2.1,1.1 1.4,-0.5 0.6,0.2 -0.1,-1.7 0.1,-0.6 0.7,-0.2 8.3,3.5 0.7,-0.7 0.7,0 0.7,0.8 1.4,0 2.1,-2.2 -2.1,-0.6 0,-2.3 0.7,-0.4 1.4,1.3 0.7,-0.7 0,-0.7zM166.9,76.6l-1.7,0.5 0,0.7 1.4,1.4 0,0.7 -1.9,2 0.1,0.9 1.8,-0.2 1.6,-3.4 -0.2,-1.4zM171.7,80.4l-1.1,0.9 -0.2,0.6 0.6,0.4 1,-0.4 0.3,-0.6zM180.0,76.4l-0.4,0 0.7,1.4 -1.5,3.5 0.5,0.1 1.4,-1.1 0.7,0.2 0.7,1.9 0.7,0.1 0.8,-1.2 -0.3,-3.5 -1.2,-0.1zM206.3,79.4l-0.7,-0.2 -1.3,1.3 -1.4,-1.1 -0.4,0.5 0.4,0.9 2,1.3 1.8,-1.5 0.1,-0.7zM229.4,78.5l1.2,1.4 -0.1,0.7 -1.3,0.9 -2.1,0 -1.5,-2.3 0.1,-0.6 0.7,-0.3 0.7,0.2 1.4,-0.5zM157.2,78.5l-0.8,0 -1.3,1.3 -1.4,-0.6 -0.2,1.4 0.9,0.4 0.7,-1.1 2.1,0.4 0.5,-0.4zM163.4,76.4l-1.6,0.7 -0.1,1.4 0.3,1.2 2.2,-1.9 0.2,-0.7 -0.3,-0.5zM169.7,66.5l-0.7,-0.3 -0.7,2.1 -4.1,0.5 0.1,2.1 -0.9,0.7 -1,0 -1.7,-1.2 -0.7,0.1 -2.1,1.6 -1.4,-0.2 0,0.7 2,1 0,0.7 -1.3,1.4 2.1,2.7 1.1,-0.6 -0.2,-1.4 0.3,-0.7 1.3,-0.7 0.3,-0.7 2,-0.7 1.7,-1.3 -0.1,-1.4 0.5,-1.3 0.7,-0.1 1.4,1.3 1.8,-2 0.9,-1.4zM175.2,72.9l-0.4,0 0.4,1.1zM169.0,71.3l-0.7,-0.4 -0.6,1.4 0.6,0.3 0.7,-0.2zM158.6,68.6l-0.7,0.4 -0.7,1.2 0.7,0.5 0.7,-0.2 0.3,-1.7zM157.2,67.4l-1.4,-0.3 0,1 -0.7,0.7 0,1.1 1,-0.4 -0.1,-0.7zM157.2,45.9l-0.7,0 -0.7,0.7 -2.8,0 -0.6,0.7 -1.4,0 -2.1,2.1 -0.1,2.1 2.2,2.1 0.7,0 0.7,0.7 0.6,-0.8 0.8,0.1 -0.8,1.4 -2.1,2 0.7,0.7 0.6,1.4 0.1,2.1 0.7,0.5 0.8,-0.5 0.1,-1.4 2.4,-2.8 3,0 0.7,0.3 1.2,1.8 -0.8,2.1 -1.1,1.4 -1.4,0.4 -0.3,-0.4 -0.3,-1.4 0.5,-0.7 -0.6,-0.8 -2.5,1.5 -0.9,1.4 1.3,1.4 2.1,0.8 2.1,1.7 0.7,1.3 1.3,-0.9 2.2,-0.2 0.2,-0.7 -1,-1.3 -1.4,1 -0.6,0.1 -0.5,-0.5 0.2,-0.7 0.9,-0.7 1.4,0.7 1.2,-2.7 0.9,-0.3 0.5,1.7 1.6,1.2 0.7,0.2 2.7,-0.3 2,1.6 2.2,3 1.4,-0.2 2.1,1.2 0.6,-0.3 -2.7,-1.6 -0.7,0 -2.1,-2.1 0.1,-1.4 2,-2 0,-0.7 -1.3,-1.4 1.3,-1.4 0,-0.7 3.5,-3.4 0,-1.4 -2.8,-2.8 -0.7,0 -0.7,-0.7 -4.2,0 -2,1.4 -0.7,0 -0.7,-0.7 -0.7,-0.1 -0.7,-0.6 -0.7,0 -2.1,-1.4 -0.7,0 -2,-2.1 -2.1,0z"/>
<path fill="#ff401a" fill-rule="evenodd" d="M167.6,140.4l-0.3,0.4 0.3,0.7zM164.8,134.4l-0.3,1.5 1,1.6 0.7,0.2 -0.2,-2.5 -0.5,-0.6zM163.4,129.2l-0.5,0.5 0.5,1.5 0.5,-0.8zM162.7,128.4l0,1 0.4,-0.4zM157.9,115.3l-0.5,0.6 0.1,2 1,1.4 0,1.4 1.4,2.1 0.1,1 0.7,0.6 0.4,-0.9 -0.4,-3zM178.6,104.7l-0.7,0.8 0.1,0.7 0.6,0.9 0.6,-0.2 0.2,-0.7zM221.6,86.0l-2.1,0 -0.3,0.8 2.4,1.3 0.7,-1.3zM175.2,85.8l-0.6,0.3 0,0.7 0.6,0.6zM189.7,81.9l-2.1,0.6 -1.3,-0.4 -0.3,0.5 0.3,0.4 1.3,-0.2 2.1,0.5 0.6,-0.7zM181.4,77.1l-0.7,0 0.3,0.7 -0.8,1.4 1.9,1.4 0.7,1 0.1,-3.1zM218.1,79.4l-1.4,-0.1 -0.4,0.6 0.2,0.7 0.9,-0.2 1.4,1.1 1.1,-0.2zM223.6,75.5l-0.7,0.1 -0.7,0.8 -2.7,0.7 -0.7,0.7 0,1 1.4,0.5 0.7,0.8 3.4,-1.1 0.8,-2.6zM162.7,77.1l-0.5,0.7 0.5,0.7 0.8,-0.7zM166.9,77.1l-0.8,0.7 0.8,0.7 0.4,-0.7zM228.5,72.9l-0.7,0 -0.4,0.7 -1,0.7 0.7,2.1 1.4,-0.8 0.7,0.1 1.3,1.1 1.4,-0.6 1.4,0.6 2.1,-0.3 -1.4,-1.5 -1.4,0.2 -2.1,-1.5 -1.8,-0.1zM159.3,64.4l-0.7,-0.2 -0.3,0.4 0.3,0.5 0.7,-0.3zM171.0,50.1l-2,0.7 -1.4,2.9 -0.7,0.4 -0.7,-0.5 0,-0.6 -0.6,1.3 0.8,2 -0.9,0.7 -1.5,0 0.8,1.9 1.4,0.2 0.5,0.7 0.3,2.8 0.6,0.4 4.1,0.6 0.6,1 0.8,0.2 1.8,-2.9 -1.1,-1.4 0.5,-0.7 0.1,-2.1 0.8,-1.2 0.7,0.6 0.7,-0.1 0.7,-1 -0.7,-0.5 -0.7,0.7 -0.7,-0.3 -0.1,-2.3 -2,-1.8 -1.4,-0.2zM155.1,55.3l-0.7,0 -0.7,1 0.7,0.8 1,-1.5zM160.0,46.7l-2.4,0 -0.4,0.4 -1.4,0.2 -0.7,0.8 -2.1,-0.1 -0.6,1.4 -0.7,0.5 -1.4,-0.6 -1.4,0.6 0,1.6 2.8,1.2 2,-0.9 2.2,1.1 1.6,2.1 -0.4,0.6 0.8,0.2 2.1,-1.2 0,-0.6 -0.9,-1.1 0.9,0.4 1.7,-1.1 -0.3,-1.4 1.3,-2 -0.7,-0.1 -1.3,-1.4 -0.7,0 0,0.7 -0.8,0 0.8,-0.7zM176.6,52.6l-0.5,0.3 0.5,0.7 0.4,-0.7zM165.5,50.1l0,1.4 0.7,1.4 1.1,-1.4 -0.4,-0.7 -0.7,0z"/>
</g>
<path d="M159.8,64.3 161.7,62.2 164.8,61.2 167.9,62.2 170.3,63.6 M161.7,63.6 161.7,65.7 163.1,67.8 164.8,69.1 166.2,70.5 167.6,70.9 M167.6,70.9 168.3,69.1 170.0,68.1 171.7,67.6 M154.8,72.3 157.2,72.6 159.3,73.6 161.7,72.9 163.1,71.9 165.2,70.5 164.8,69.1 M157.2,72.6 156.8,74.3 159.6,76.1 160.3,78.1 162.4,79.2 164.8,80.2 166.5,79.5 M167.6,70.9 166.2,73.3 165.8,75.7 166.9,78.1 166.5,79.5 M167.6,70.9 168.6,72.6 170.3,73.6 172.1,75.0 174.1,76.1 176.2,76.1 M166.5,79.5 167.6,82.3 170.0,83.3 166.9,85.4 164.8,87.5 165.2,89.6 162.7,90.9 161.3,92.3 159.3,90.9 157.9,92.3 156.8,94.7 156.2,96.1 M156.2,96.1 153.7,94.7 152.4,92.3 150.3,91.1 148.2,90.9 145.1,90.8 M160.3,77.8 158.2,79.9 158.9,81.9 157.2,84.0 155.8,86.1 154.1,87.5 152.7,89.2 150.3,91.1 M170.0,83.3 172.8,85.4 171.0,87.8 170.0,91.3 172.1,91.6 173.1,89.2 176.9,89.6 180.4,89.2 183.5,90.6 185.6,93.0 187.5,92.7 M176.9,77.1 175.2,80.6 174.1,83.3 173.8,86.1 173.5,89.2 M189.4,81.3 190.4,84.4 191.1,86.8 188.3,88.5 187.5,91.3 187.5,92.7 M187.5,91.3 190.8,91.3 193.2,91.6 195.6,90.2 198.4,90.9 200.4,89.9 202.9,88.9 M203.9,84.5 203.2,86.1 203.6,87.5 202.9,88.9 M202.9,88.9 201.5,92.3 198.7,94.1 196.3,95.4 198.0,97.5 199.8,99.2 M199.8,99.2 200.8,100.3 201.8,101.3 M202.9,88.9 204.3,90.6 M199.8,99.2 196.6,98.6 194.6,99.6 193.2,99.2 191.1,98.6 189.7,98.2 M189.7,98.2 188.3,96.5 189.7,94.7 188.7,93.7 187.5,92.7 M189.7,98.2 187.6,101.3 184.9,103.7 184.2,106.9 182.8,108.2 182.8,111.0 180.7,114.1 M180.7,114.1 183.8,112.7 187.0,111.4 189.7,110.3 192.3,110.0 M185.6,93.0 182.8,93.7 181.4,95.1 181.8,96.8 179.3,98.6 178.6,101.0 178.1,102.4 M178.1,102.4 175.9,101.3 173.5,101.0 170.3,101.7 167.6,102.0 164.5,102.4 162.4,102.0 159.3,102.0 156.8,101.0 156.2,99.9 M156.2,99.9 155.5,98.2 156.2,96.1 M170.0,91.3 169.7,93.7 171.0,95.8 170.0,98.2 170.3,101.7 M178.1,102.4 177.6,104.8 178.0,106.2 177.3,107.9 178.6,109.3 177.1,111.7 M177.1,111.7 178.6,113.1 179.3,114.5 180.7,114.1 M177.1,111.7 175.5,110.7 175.5,108.9 173.1,108.6 171.7,107.9 170.0,108.9 168.3,110.3 168.6,112.0 167.2,112.7 M167.2,112.7 165.2,114.8 163.1,116.2 161.0,115.9 160.7,117.6 158.2,117.9 156.5,119.0 156.2,120.7 155.5,121.7 M155.5,121.7 156.2,123.5 155.5,124.5 M153.0,106.2 153.7,108.6 153.4,111.0 153.7,113.8 154.4,116.5 154.8,119.0 155.5,121.7 M150.8,106.3 153.0,106.2 154.8,104.4 154.4,102.7 156.2,101.7 154.8,101.0 156.2,99.9 M162.0,104.8 158.6,105.8 157.5,107.5 159.3,109.3 159.3,111.4 161.3,113.1 163.1,114.5 163.4,115.9 M162.0,104.8 163.8,106.2 166.2,107.2 166.5,108.2 168.6,107.5 170.0,108.9 M162.0,104.8 162.7,103.4 162.4,102.0 M179.3,114.5 177.6,116.5 175.9,117.6 173.8,118.6 173.1,120.0 170.7,120.7 169.0,121.0 166.9,121.0 M166.9,121.0 166.5,119.3 167.2,117.2 166.9,115.2 167.2,112.7 M172.4,120.4 172.1,123.1 173.1,124.8 173.8,126.9 174.5,128.3 175.9,129.3 M166.9,121.0 165.5,123.5 164.8,125.2 165.5,126.6 166.9,127.6 167.2,128.7 169.0,129.3 170.3,130.0 169.8,131.9 M169.8,131.9 171.0,131.4 173.1,130.7 174.8,130.0 176.9,129.3 M169.8,131.9 168.3,132.5 167.6,133.8 166.2,135.2 165.2,135.2 163.4,135.9 M163.4,135.9 164.5,137.3 164.8,139.0 165.2,140.4 166.2,140.8 166.5,142.8 166.2,144.9 166.5,146.6 165.8,147.3 M163.4,135.9 162.0,134.9 160.3,133.5 159.3,132.5 158.2,131.9 M156.2,123.5 157.5,125.9 158.2,128.3 159.3,130.4 160.0,132.5 160.3,133.5 M157.5,125.9 160.3,125.9 162.0,124.5 163.4,124.2 164.8,125.2 M149.6,98.9 148.2,97.5 147.5,95.8 145.4,94.4 145.1,93.0 145.1,90.8 M217.7,83.2 220.9,82.6 224.3,81.3 227.8,79.9 229.9,79.5 230.9,80.6 230.2,81.6 229.2,82.1 228.5,83.0 M228.5,83.0 225.4,84.7 222.9,87.1 222.2,89.6 220.9,91.3 218.4,92.0 217.7,91.6 M210.0,86.1 210.0,83.7" fill="none" stroke="#000" stroke-width="0.5" stroke-linejoin="round" opacity="0.9"/>
<path d="M134.9,94.2 136.4,92.3 137.8,92.0 141.3,92.3 143.4,91.6 145.1,90.8 144.4,88.9 143.5,87.1 141.6,86.4 141.6,84.2 139.5,83.3 139.9,81.6 142.5,79.2 144.7,79.7 147.9,79.3 149.6,76.4 151.7,75.0 153.0,72.4 155.1,71.2 157.4,68.5 157.0,66.0 159.6,64.3 157.5,63.3 155.5,62.2 154.1,61.2 153.6,58.8 153.0,57.0 155.5,54.6 152.7,52.9 150.3,51.2 150.6,49.4 153.7,48.4 156.8,47.9 160.0,48.6 162.0,50.1 165.2,51.8 168.3,53.2 170.3,51.8 173.5,51.5 176.9,53.2 176.9,55.3 174.5,57.0 172.4,60.5 174.0,62.9 171.4,63.3 170.3,64.3 171.7,65.7 171.6,67.4 173.5,68.5 176.2,70.2 179.3,71.6 177.6,72.9 176.2,76.1 178.0,77.1 180.4,78.7 182.8,79.5 185.2,80.6 187.3,81.4 190.1,80.9 192.0,81.9 193.9,83.3 195.9,84.0 199.1,84.5 201.1,84.7 203.9,84.5 204.1,82.6 203.7,79.5 206.0,78.8 206.7,80.9 206.3,82.3 207.0,83.2 209.8,83.7 211.9,83.2 214.6,83.3 217.7,83.2 216.5,81.3 216.0,79.9 218.4,79.9 220.5,78.5 222.9,76.8 225.4,75.4 227.8,75.0 230.2,74.7 232.3,74.3 233.3,76.4 235.9,78.3 235.0,79.9 234.4,81.3 235.2,82.3 231.9,81.8 229.5,83.3 228.1,84.7 228.1,86.1 226.4,88.2 226.7,89.6 225.0,93.0 222.6,93.0 222.1,95.4 221.6,98.9 220.5,99.9 219.5,99.9 218.6,96.8 218.4,94.1 217.2,94.1 216.0,96.6 214.8,95.1 214.6,93.0 216.0,92.7 217.7,91.6 219.0,89.6 215.0,88.9 211.9,88.9 210.0,88.5 209.8,86.1 207.7,85.8 206.0,84.7 204.9,84.0 204.1,86.8 206.7,88.5 204.9,89.9 203.9,90.9 206.2,92.3 206.0,95.4 206.8,96.8 207.2,99.6 207.4,101.1 205.6,101.3 203.9,101.1 202.9,101.0 200.8,101.5 199.6,103.4 199.8,104.4 198.4,106.2 197.3,107.2 194.9,107.9 193.5,108.9 192.5,110.0 190.1,112.7 188.0,114.5 184.2,117.2 183.8,118.6 181.8,119.5 180.0,120.7 178.6,121.4 176.9,122.1 176.1,124.2 176.4,127.6 176.9,130.0 176.7,132.5 175.4,135.2 175.4,140.1 173.5,140.4 172.4,142.5 172.2,143.9 169.7,145.3 169.0,147.0 167.4,148.1 165.8,147.3 163.9,145.3 163.1,142.8 162.7,140.8 161.7,138.3 160.7,135.9 159.3,133.8 158.1,131.4 157.2,128.3 156.3,125.5 155.1,123.5 154.1,121.4 153.0,119.0 152.4,115.9 151.5,112.4 151.0,110.3 150.6,107.5 150.8,105.5 151.3,103.4 150.3,101.3 151.0,99.2 148.9,99.9 148.9,102.4 146.5,103.7 144.4,104.4 142.0,103.4 139.2,101.0 137.6,98.9 138.9,98.6 141.3,97.9 142.7,96.5 140.6,97.0 138.5,97.2 136.4,95.8Z" fill="none" stroke="#111" stroke-width="0.6" stroke-linejoin="round"/>
<path d="M205.1,98.2 207.4,98.2 207.5,101.5 204.3,101.5Z" fill="#0a0a0a"/>
<circle cx="135.6" cy="94.1" r="0.8" fill="#111"/>
<path d="M220.5,129.0 221.2,130.4 220.9,133.2 220.7,135.9 219.8,136.3 219.5,133.8 220.0,131.1Z" fill="#262b12" stroke="#111" stroke-width="0.5"/>
<path d="M218.8,138.3 219.5,139.0 219.3,139.7 218.6,139.4Z" fill="#262b12" stroke="#111" stroke-width="0.5"/>
<path d="M219.8,144.1 220.3,144.4 220.0,144.7Z" fill="#222" stroke="#111" stroke-width="0.4"/>
<path d="M222.2,147.3 222.9,148.0 222.6,148.7 221.9,148.4Z" fill="#222" stroke="#111" stroke-width="0.4"/>
<path d="M223.3,150.8 224.1,151.8 223.8,152.7 223.1,152.0Z" fill="#222" stroke="#111" stroke-width="0.4"/>
<path d="M221.9,150.5 222.4,150.8 222.1,151.1Z" fill="#222" stroke="#111" stroke-width="0.4"/>
<circle cx="148.9" cy="135.6" r="0.4" fill="#3a3a3a"/>
<circle cx="150.6" cy="137.3" r="0.4" fill="#3a3a3a"/>
<circle cx="150.4" cy="139.4" r="0.4" fill="#3a3a3a"/>
<circle cx="151.7" cy="141.1" r="0.4" fill="#3a3a3a"/>
<circle cx="149.2" cy="138.3" r="0.4" fill="#3a3a3a"/>
<circle cx="153.9" cy="141.3" r="0.4" fill="#3a3a3a"/>
<circle cx="148.9" cy="138.5" r="0.4" fill="#3a3a3a"/>
<circle cx="151.8" cy="147.4" r="0.4" fill="#3a3a3a"/>
<circle cx="150.8" cy="136.3" r="0.4" fill="#3a3a3a"/>
<circle cx="147.9" cy="134.9" r="0.4" fill="#3a3a3a"/>
<circle cx="155.1" cy="137.3" r="0.4" fill="#3a3a3a"/>
<circle cx="153.4" cy="134.9" r="0.4" fill="#3a3a3a"/>
</g>
<rect x="129.4" y="35.4" width="112.2" height="130.0" fill="none" stroke="#a9a9a9" stroke-width="0.7"/>
<text class="t" x="180.5" y="42.4" font-size="6.5" text-anchor="middle">IMD-CRU</text>
<text class="k" x="148.2" y="34.5">72°E</text>
<text class="k" x="148.2" y="168.8">72°E</text>
<text class="k" x="169.0" y="34.5">78°E</text>
<text class="k" x="169.0" y="168.8">78°E</text>
<text class="k" x="189.7" y="34.5">84°E</text>
<text class="k" x="189.7" y="168.8">84°E</text>
<text class="k" x="210.5" y="34.5">90°E</text>
<text class="k" x="210.5" y="168.8">90°E</text>
<text class="k" x="231.2" y="34.5">96°E</text>
<text class="k" x="231.2" y="168.8">96°E</text>
<text class="k" transform="translate(128.6,51.5) rotate(-90)">36°N</text>
<text class="k" transform="translate(244.7,51.5) rotate(-90)">36°N</text>
<text class="k" transform="translate(128.6,72.3) rotate(-90)">30°N</text>
<text class="k" transform="translate(244.7,72.3) rotate(-90)">30°N</text>
<text class="k" transform="translate(128.6,93.0) rotate(-90)">24°N</text>
<text class="k" transform="translate(244.7,93.0) rotate(-90)">24°N</text>
<text class="k" transform="translate(128.6,113.8) rotate(-90)">18°N</text>
<text class="k" transform="translate(244.7,113.8) rotate(-90)">18°N</text>
<text class="k" transform="translate(128.6,134.5) rotate(-90)">12°N</text>
<text class="k" transform="translate(244.7,134.5) rotate(-90)">12°N</text>
<text class="k" transform="translate(128.6,155.3) rotate(-90)">6°N</text>
<text class="k" transform="translate(244.7,155.3) rotate(-90)">6°N</text>
</g>
<g>
<clipPath id="f2"><rect x="250.5" y="35.4" width="112.2" height="130.0"/></clipPath>
<clipPath id="c2"><path d="M251.3,93.6 253.0,91.5 254.5,91.2 258.3,91.5 260.6,90.8 262.5,89.8 261.7,87.7 260.8,85.8 258.7,85.1 258.7,82.6 256.4,81.7 256.8,79.8 259.6,77.1 262.1,77.7 265.5,77.3 267.4,74.1 269.7,72.5 271.2,69.7 273.5,68.4 276.0,65.3 275.6,62.7 278.4,60.8 276.2,59.6 273.9,58.5 272.4,57.3 271.8,54.7 271.2,52.8 273.9,50.1 270.8,48.2 268.2,46.3 268.6,44.4 272.0,43.3 275.4,42.7 278.8,43.5 281.1,45.2 284.5,47.1 287.9,48.6 290.2,47.1 293.6,46.7 297.4,48.6 297.4,50.9 294.8,52.8 292.5,56.6 294.2,59.2 291.4,59.6 290.2,60.8 291.7,62.3 291.5,64.2 293.6,65.3 296.7,67.2 300.1,68.7 298.2,70.3 296.7,73.7 298.6,74.8 301.2,76.5 303.9,77.5 306.6,78.6 308.8,79.6 311.9,79.0 314.0,80.1 316.1,81.7 318.3,82.4 321.8,83.0 324.0,83.2 327.1,83.0 327.3,80.9 326.9,77.5 329.4,76.7 330.1,79.0 329.7,80.5 330.5,81.5 333.5,82.0 335.8,81.5 338.9,81.7 342.3,81.5 340.9,79.4 340.4,77.9 343.0,77.9 345.3,76.3 348.0,74.4 350.6,72.9 353.3,72.5 356.0,72.2 358.2,71.8 359.4,74.1 362.2,76.2 361.3,77.9 360.5,79.4 361.5,80.5 357.9,80.0 355.2,81.7 353.7,83.2 353.7,84.7 351.8,87.0 352.2,88.5 350.3,92.3 347.6,92.3 347.0,95.0 346.5,98.8 345.3,99.9 344.2,99.9 343.2,96.5 343.0,93.4 341.7,93.4 340.4,96.3 339.0,94.6 338.9,92.3 340.4,91.9 342.3,90.8 343.6,88.5 339.2,87.7 335.8,87.7 333.7,87.4 333.5,84.7 331.3,84.3 329.4,83.2 328.2,82.4 327.3,85.5 330.1,87.4 328.2,88.9 327.1,90.0 329.5,91.5 329.4,95.0 330.3,96.5 330.7,99.5 330.9,101.2 329.0,101.4 327.1,101.2 325.9,101.0 323.7,101.6 322.3,103.7 322.5,104.8 321.0,106.7 319.9,107.9 317.2,108.6 315.7,109.8 314.5,110.9 311.9,114.0 309.6,115.9 305.4,118.9 305.0,120.4 302.8,121.4 300.9,122.7 299.3,123.5 297.4,124.2 296.5,126.5 296.9,130.3 297.4,133.0 297.2,135.6 295.7,138.7 295.7,144.0 293.6,144.4 292.5,146.6 292.3,148.2 289.5,149.7 288.7,151.6 287.0,152.8 285.3,152.0 283.2,149.7 282.2,147.0 281.9,144.7 280.7,142.1 279.6,139.4 278.1,137.1 276.7,134.5 275.8,131.1 274.8,128.0 273.5,125.7 272.4,123.5 271.2,120.8 270.5,117.4 269.5,113.6 268.9,111.3 268.6,108.3 268.8,106.0 269.3,103.7 268.2,101.4 268.9,99.1 266.7,99.9 266.7,102.6 264.0,104.1 261.7,104.8 259.1,103.7 256.0,101.0 254.3,98.8 255.6,98.4 258.3,97.6 259.8,96.1 257.5,96.7 255.3,96.9 253.0,95.3Z"/></clipPath>
<g clip-path="url(#f2)">
<g clip-path="url(#c2)">
<path d="M251.3,93.6 253.0,91.5 254.5,91.2 258.3,91.5 260.6,90.8 262.5,89.8 261.7,87.7 260.8,85.8 258.7,85.1 258.7,82.6 256.4,81.7 256.8,79.8 259.6,77.1 262.1,77.7 265.5,77.3 267.4,74.1 269.7,72.5 271.2,69.7 273.5,68.4 276.0,65.3 275.6,62.7 278.4,60.8 276.2,59.6 273.9,58.5 272.4,57.3 271.8,54.7 271.2,52.8 273.9,50.1 270.8,48.2 268.2,46.3 268.6,44.4 272.0,43.3 275.4,42.7 278.8,43.5 281.1,45.2 284.5,47.1 287.9,48.6 290.2,47.1 293.6,46.7 297.4,48.6 297.4,50.9 294.8,52.8 292.5,56.6 294.2,59.2 291.4,59.6 290.2,60.8 291.7,62.3 291.5,64.2 293.6,65.3 296.7,67.2 300.1,68.7 298.2,70.3 296.7,73.7 298.6,74.8 301.2,76.5 303.9,77.5 306.6,78.6 308.8,79.6 311.9,79.0 314.0,80.1 316.1,81.7 318.3,82.4 321.8,83.0 324.0,83.2 327.1,83.0 327.3,80.9 326.9,77.5 329.4,76.7 330.1,79.0 329.7,80.5 330.5,81.5 333.5,82.0 335.8,81.5 338.9,81.7 342.3,81.5 340.9,79.4 340.4,77.9 343.0,77.9 345.3,76.3 348.0,74.4 350.6,72.9 353.3,72.5 356.0,72.2 358.2,71.8 359.4,74.1 362.2,76.2 361.3,77.9 360.5,79.4 361.5,80.5 357.9,80.0 355.2,81.7 353.7,83.2 353.7,84.7 351.8,87.0 352.2,88.5 350.3,92.3 347.6,92.3 347.0,95.0 346.5,98.8 345.3,99.9 344.2,99.9 343.2,96.5 343.0,93.4 341.7,93.4 340.4,96.3 339.0,94.6 338.9,92.3 340.4,91.9 342.3,90.8 343.6,88.5 339.2,87.7 335.8,87.7 333.7,87.4 333.5,84.7 331.3,84.3 329.4,83.2 328.2,82.4 327.3,85.5 330.1,87.4 328.2,88.9 327.1,90.0 329.5,91.5 329.4,95.0 330.3,96.5 330.7,99.5 330.9,101.2 329.0,101.4 327.1,101.2 325.9,101.0 323.7,101.6 322.3,103.7 322.5,104.8 321.0,106.7 319.9,107.9 317.2,108.6 315.7,109.8 314.5,110.9 311.9,114.0 309.6,115.9 305.4,118.9 305.0,120.4 302.8,121.4 300.9,122.7 299.3,123.5 297.4,124.2 296.5,126.5 296.9,130.3 297.4,133.0 297.2,135.6 295.7,138.7 295.7,144.0 293.6,144.4 292.5,146.6 292.3,148.2 289.5,149.7 288.7,151.6 287.0,152.8 285.3,152.0 283.2,149.7 282.2,147.0 281.9,144.7 280.7,142.1 279.6,139.4 278.1,137.1 276.7,134.5 275.8,131.1 274.8,128.0 273.5,125.7 272.4,123.5 271.2,120.8 270.5,117.4 269.5,113.6 268.9,111.3 268.6,108.3 268.8,106.0 269.3,103.7 268.2,101.4 268.9,99.1 266.7,99.9 266.7,102.6 264.0,104.1 261.7,104.8 259.1,103.7 256.0,101.0 254.3,98.8 255.6,98.4 258.3,97.6 259.8,96.1 257.5,96.7 255.3,96.9 253.0,95.3Z" fill="#0b7a0b"/>
<path fill="#4db31a" fill-rule="evenodd" d="M275.8,40.4l-0.8,0 -0.7,0.8 -3.1,0 -0.7,0.7 -1.6,0.1 -2.4,2.4 0,2.3 2.4,2.5 0.8,0 1.3,1.3 -2.2,2.3 0.7,0.7 0,1.6 0.7,0.7 0.1,1.5 3.2,3.3 0.8,0 0.5,0.5 -1.5,1.6 0,0.7 0.8,0.8 0,0.7 -0.7,0.8 0,0.8 -0.7,0.6 -0.7,0 -3.2,3.2 0,0.7 -0.6,0.6 -0.8,0 -2.4,2.5 0,0.7 -0.6,0.6 -5.3,0 -4.7,4.7 0,1.6 2.2,2.2 0,0.8 3.1,3 0,0.8 -0.6,0.7 -5.4,0 -4.6,4.6 4.5,4.6 -0.7,0.7 0,0.8 6.2,6.2 1.5,0 0.7,0.7 0.8,0 0.8,-0.7 1.5,0 0.7,-0.8 0.8,0 0.7,0.7 0,5.3 0.7,0.8 0,2.2 0.8,0.8 0,2.3 0.7,0.7 0,2.3 1.5,2.3 0,1.5 0.8,0.8 0,0.7 1.6,1.6 0,0.7 0.7,0.8 0,2.3 0.8,0.7 0,1.5 0.7,0.8 0,1.5 0.8,0.8 0,0.7 1.5,1.6 0.7,2.2 1.6,2.3 0,1.5 0.8,0.8 -0.1,2.3 0.8,0.7 0,0.8 5.4,5.4 0.8,0.1 6.9,-7 0,-0.8 0.7,-0.7 0.7,0 2.4,-2.3 0,-6.1 1.5,-2.3 0,-3.8 -0.8,-0.7 0.1,-5.4 0.6,-0.6 0.8,0 0.8,-0.8 0.7,-0.1 -0.4,-0.7 0.4,-0.3 1.5,0.3 0.8,-0.7 0.8,0 2.3,-2.4 0,-0.7 0.7,-0.7 0.8,0 6.8,-6.9 0.8,-1.6 1.1,-0.7 -0.4,-1.2 -2.3,-1 -0.7,-0.9 -0.1,-1.5 -0.7,-1.5 0.6,-3 -0.6,-0.5 -3.1,1.2 -0.1,-0.7 0.9,-0.7 0.4,-0.9 0.4,-2.8 0.8,-0.5 1.5,0.1 0.5,1 -0.1,0.7 -0.9,2.3 0.5,0.6 1.8,0.2 0.9,0.7 -1.5,2.3 1.1,2.5 0.7,0.7 2.3,0.8 -0.3,-1.7 1.1,-0.3 2.2,1.6 2.4,-2.1 0,-1.5 0.7,-0.7 5.3,0 2.3,-2.3 0,-2.3 -0.7,-0.8 0,-1.5 -0.8,-0.8 0,-3.8 -1.5,-1.5 0,-0.7 2.2,-2.2 2.3,2.3 0.8,-0.1 0.7,0.8 1.5,0 0.7,0.7 -1.5,1.5 0.7,0.8 0,1.5 0.8,0.7 0,0.8 2.4,2.4 0.7,-0.8 0.7,0.7 0,1.5 2.4,2.4 0.7,0 4,-3.9 -0.1,-3.1 3.8,-3.8 0.8,-2.2 0.8,-0.8 0,-0.8 -0.8,-0.7 2.3,-2.3 -0.1,-0.8 2.3,-2.1 0.7,0 0.8,0.7 1.5,0 2.4,-2.4 -0.8,-0.7 0,-0.8 1.6,-1.5 -0.1,-0.8 -6.1,-6.2 -4.6,0 -0.8,0.7 -2.2,0.1 -0.8,0.7 -0.8,0 -1.5,1.5 -0.7,0 -1.6,1.6 -0.7,0 -1.5,1.5 -1.6,0 -3,3.1 -3,0 -0.8,0.7 -1.5,0.1 -0.8,-0.7 -0.7,-2.3 -2.3,-2.4 -0.8,0 -3.1,3.2 0,2.2 -0.7,0.7 -3,0.1 -0.8,0.9 -1.3,-0.1 0.9,-0.8 -1.9,0 -0.7,-0.8 -1.5,0 -2.3,-2.3 -0.8,0 -0.7,-0.8 -2.3,0 -0.8,0.8 -0.7,0 -0.8,-0.8 -0.8,0 -2.2,-1.5 -1.6,0.1 -2.2,-1.6 -0.8,0 -0.7,-0.7 0,-1.5 0.8,-0.8 0,-0.7 1.5,-1.6 -2.4,-2.3 -2.2,-0.8 -0.8,-0.7 -0.8,0 -2.1,-2.2 0,-1.6 2.3,-2.2 0,-0.8 -1.5,-1.5 1.5,-1.5 0,-0.8 3.8,-3.8 0,-1.5 -3.2,-3.3 -0.8,0 -0.7,-0.7 -4.6,0 -0.7,0.8 -2.3,0.7 -2.3,-1.5 -0.8,0 -0.7,-0.8 -0.8,0 -0.7,-0.7 -0.8,0 -2.3,-2.3 -2.3,0zM295.7,113.6l-0.2,0.8 -0.7,0.1 -0.3,-0.9 0.3,-0.5zM297.9,110.5l1.5,1.6 0.4,0.7 -0.5,0.4 -0.7,0.1 -1.5,-1 -0.2,-1.8zM319.9,108.7l-0.8,0.3 -0.5,0.8 1.3,0 0.3,-0.8zM301.7,89.3l1.4,2 1.6,-0.5 0.7,-0.9 0.8,0 1.1,0.9 -0.5,1.5 -1.4,0.6 -0.6,0.9 1.4,1.4 2.3,0 1.5,-1.8 0.5,0.4 0.1,0.8 -3.1,3 0.6,1.5 -0.6,0.8 -1.6,0.8 -0.7,1.5 -3,3 1.6,1.5 -2.3,2.3 -1.4,0.6 -1.5,-0.8 -0.8,0.1 -0.7,-1.4 0.1,-0.8 0.6,-0.3 2.3,0.6 0.8,-0.3 0.5,-0.7 -1.8,-1.5 0.5,-1.5 1.3,-0.8 0.3,-1.5 0.8,-0.8 0.6,-0.4 2.3,0.2 1.3,-2.1 -0.5,-1 -3.4,-2.8 0.3,-1.9 -2,-1.1 -1.5,-1.5 1.3,-0.3zM296.9,90.8l0.9,0.7 -0.3,0.8 -2.2,1.5 1.8,1 2.2,0 0.8,0.5 0.1,0.8 -0.3,1.5 0.4,2.3 -2.5,4.8 -0.7,-0.1 -0.4,-0.9 0,-0.8 1,-1.5 -2.2,-0.2 -0.6,-1.3 0.5,-0.8 -2.1,-0.8 -3.8,0.6 -0.8,0.8 -2.3,0.8 -0.7,1.2 -1.6,0.2 -1.5,0.9 -2.3,-0.9 -0.1,-0.5 1.7,-1.1 0.7,-1.1 3.1,0 0.7,-1.8 2.3,0.3 -0.1,-1.6 -1.9,-1.5 -0.2,-0.8 0.2,-2.3 0.5,-0.4 2.3,-0.3 0.2,0.7 -0.5,1.6 0.3,0.6 2.2,-1.4 0.8,0.8 0,1.5 0.8,0.6 1.3,-1.4 -0.1,-0.7 -1.1,-1.6 1.4,-1zM321.0,99.9l1.1,3 -0.1,0.8 -0.6,0.3 -1.4,-1.1 -0.9,-2.2 0.2,-0.8 1.3,-0.3zM291.8,102.2l-0.1,0 -0.7,0.1 -0.3,-0.1 0.3,-0.3 0.7,0.1zM318.1,99.9l-0.5,0.3 -0.5,-0.3zM281.6,96.9l0.4,0.7 -0.1,0.3 -2.3,0.1 -1.3,1.1 -0.5,0 0,-0.7 1,-0.8 2.3,-0.9zM296.3,97.4l-1.2,1 0.4,0.6 0.8,0 0.6,-0.6zM283.6,91.5l0.4,0.8 -0.6,0.9 -0.8,0.1 -1.5,-0.8 -0.3,-1zM314.7,90.8l0.9,0.7 0.5,1 -1.6,0.3 -0.7,-0.3 0,-1.4zM280.6,89.3l-0.3,0.8 -0.7,0.3 -1.2,-0.4 0.2,-0.7 1,-0.5zM284.6,83.2l0.3,1.5 0.7,0.8 -1.5,0.2 -0.3,0.5 0.4,0.8 2.2,0.6 1.4,-0.6 0.4,-0.8 -0.5,-0.7 -1.3,-0.8 0.2,-0.8 0.6,-0.2 2.5,0.2 0.4,0.8 -0.5,1.5 0.6,0.9 -0.7,-0.5 -0.8,0.6 -1.5,2.2 -2.3,-0.6 -1.5,0.9 -0.8,-0.4 -0.2,-0.8 0.3,-0.8 -0.1,-0.7 -1.5,-0.3 -1.5,0.7 -1.2,-1.2 0,-0.7 1.2,-1.7 1.5,0.4 0.5,-1 2.5,-0.7zM306.2,87.0l-0.1,0.7 -0.7,0.5 -1.4,-0.5 -0.5,-0.7 0.4,-0.5 0.8,0zM328.0,83.9l0.1,0.8 -0.6,0.8 -0.8,-0.8 0.2,-0.8zM307.3,82.4l0.3,0.8 -0.5,0.7 -1.7,0.8 -1.1,-2.3 0.4,-0.4 0.7,0.4zM325.5,82.4l-1.1,0.3 -0.2,-0.3 1,-0.4zM290.2,74.8l-0.3,0.8 -0.6,0 0.2,-1z"/>
<path fill="#ffff19" fill-rule="evenodd" d="M275.8,40.4l-0.8,0 -0.7,0.8 -3.1,0 -0.7,0.8 -1.6,0 -2.4,2.4 0,2.3 2.4,2.4 0.8,0 1.4,1.4 -2.3,2.3 0.8,0.7 -0.1,1.6 0.8,0.7 0,1.5 3.2,3.2 0.8,0 0.6,0.6 -1.5,1.6 0,0.7 0.8,0.8 0,0.7 -0.8,0.8 0,0.8 -0.7,0.6 -0.7,0 -3.2,3.2 0,0.7 -0.6,0.7 -0.8,0 -2.4,2.4 0,0.7 -0.6,0.7 -5.3,-0.1 -4.7,4.7 0,1.6 2.3,2.2 0,0.8 3.1,3 0,0.8 -0.7,0.8 -5.4,-0.1 -3.8,3.9 0,0.5 1.6,-0.3 0.7,3.6 1.5,1.5 -0.8,0.7 0,0.8 2,1.5 1.1,1.5 2,0 0.3,0.8 -0.8,0.1 0,0.7 1.6,1.5 1.5,0 0.7,0.8 0.8,0 0.8,-0.8 1.5,0 0.7,-0.8 0.8,0 0.7,0.8 0.1,4.5 0.8,0 -0.8,0.4 0,0.4 0.7,0.8 0,2.2 0.7,0.8 0,2.3 0.8,0.7 0,2.3 1.4,2.3 0.1,1.5 0.8,0.8 -0.1,0.7 1.6,1.6 0,0.7 0.8,0.8 0,2.3 0.7,0.7 0,1.5 0.8,0.8 0,1.5 0.7,0.8 0,0.7 1.5,1.6 0,0.7 0.8,0.8 0,0.7 0.8,0.8 0,0.8 1.6,0.7 -0.1,4.6 0.7,0.7 0,0.8 5.4,5.4 0.8,0 6.9,-6.9 -0.1,-0.8 0.8,-0.7 3.1,-2.3 -0.1,-5.9 -1.5,0 -0.2,-1 0.2,-0.5 0.8,-0.1 1.5,0.5 0,-0.6 0.8,-0.8 -0.1,-2.6 -0.7,0 -1.5,2.1 -0.8,0.2 -1.7,-2.7 -0.1,-1.5 1,-1.4 1.6,0.8 0.7,0 0.8,-0.5 0,-4.3 0.7,-0.7 0.8,0 0,-0.7 -0.8,0.1 -2.2,2.2 -0.8,0.1 -2.2,-1.7 0.3,-0.8 1.1,-1 0.8,0.1 1.3,-0.6 0.7,-0.8 0.3,-1.4 2.3,1.2 1.4,-0.5 -0.2,-0.8 -2.8,-2.4 -2.2,-0.6 -0.7,0.7 -0.1,1.2 -1.5,0.1 0.7,1.8 -0.7,1.3 -2.4,-1.3 -0.7,-1.5 0,-2 0.8,-0.4 0.8,0.2 1.5,1.2 0.7,-0.6 -0.2,-0.7 -1.8,-1.5 -1,-1.6 -2.3,-1.2 -0.8,1.2 1.2,2.3 -0.4,0.6 -2.3,-0.6 -0.7,-0.5 0,-1.8 -0.9,-1.5 0.1,-0.8 2.6,-0.7 0.7,-2.3 -1.5,-0.7 -0.3,-0.9 -0.7,-0.6 -1.5,0.6 -2.3,-1 -1,-1.2 -2.1,-1.4 -0.7,0.2 -1.5,1.3 -0.8,-0.3 -0.3,-1.3 1,-1.5 0,-0.8 -0.7,-0.7 -1.5,0.2 -0.8,-0.5 -0.1,-2.8 -1.7,-1.5 0.3,-0.8 1.5,-0.7 -1.5,-0.7 -1.5,-0.2 -1.5,-1.2 -0.2,-1 0.9,-0.4 0.8,-1 0.6,-1.6 0.3,-0.8 -0.7,-1.5 0.5,-1.2 2,0.5 0.4,0.7 -0.4,1.5 0.3,0.8 0.8,0.4 0.7,-0.1 0.6,-0.3 -0.1,-0.8 -1.2,-0.7 0.7,-2.3 3.1,-2.5 3,0.1 1.5,-1.1 0.8,0.3 0.8,1.1 1.5,0 1.5,0.8 1.5,0.1 0.6,0.4 0.1,1.6 1.1,1.5 0.1,1.5 1.2,1.2 3.8,-0.2 0.6,-1 0.1,-1.1 1.5,-0.2 1.6,-0.8 0.7,0.6 2.2,-2.3 0.2,-0.8 -1.2,-3 -0.4,-0.2 -0.8,2.7 -2.3,1.9 -0.7,0.1 -1.3,-2.2 -1.5,-0.8 -0.3,-1.7 -0.7,-0.2 -1.5,-1.7 -1.2,0.6 -0.5,0.7 0.2,1.6 -0.8,0.2 -1.3,-1 0.8,-0.8 -0.3,-1.2 -0.7,-0.5 -0.8,0.4 -0.8,1.3 -0.4,-0.7 -1.1,-0.4 -0.4,-1.1 0.4,-1.6 1.2,-0.7 0.2,-0.8 -0.6,-0.7 -0.8,-3.8 -0.1,-0.8 0.9,-0.6 2.3,2.4 1.2,-0.3 0.3,-0.5 1.5,0.8 0,0.6 -2,1.4 0.5,0.6 1.5,-0.6 2.6,1.5 0.3,1.5 -1,1.6 0,0.7 1.1,-0.2 0.8,-1.2 1.5,-0.2 1.5,1.8 1.6,0 2,-1.7 -0.5,-1.9 -1.5,-1.2 -1.5,0.1 -0.6,0.7 -1,0.4 -0.5,-0.4 -0.1,-0.7 1.4,-0.7 0.7,0.6 0.1,-2.2 0.7,-0.8 0,-0.7 1.6,-1.6 -2.4,-2.3 -2.2,-0.7 -0.8,-0.8 -0.4,0 -0.2,0.8 0.6,1.7 0,1.3 -2.9,-1.5 1.4,-3 -1.5,-1.5 0.1,-1.6 2.3,-2.2 0,-0.8 -1.5,-1.5 1.5,-1.5 0,-0.8 3.8,-3.8 0,-1.5 -3.2,-3.2 -0.8,0 -0.7,-0.8 -4.6,0 -0.7,0.8 -2.3,0.8 -2.3,-1.6 -0.8,0 -0.7,-0.7 -0.8,0 -0.7,-0.8 -0.8,0 -2.3,-2.3 -2.3,0zM295.7,139.4l-0.3,0.8 -0.6,0.3 -0.4,-0.3 1.1,-1.3zM292.8,130.3l-0.2,1.5 -1.4,0.8 1,1.5 -1.2,1.4 -0.8,0.3 -0.5,-0.2 -1.3,-3 1.1,-0.4 3,-2.4zM284.5,123.5l1,1.5 1.4,0.7 2.1,2.3 0.3,0.8 -0.6,0.5 -2.3,0.1 -1.5,1.8 -1.5,0.4 -1,-0.5 -0.2,-2.3 0.2,-0.8 1.1,0 0.6,1.1 0.8,0 0.4,-0.3 -2.1,-3.1 -0.5,-2.2 0.7,-0.7zM291.5,125.7l-0.5,0.6 -0.3,-0.6 0.3,-0.4zM286.5,118.9l2.2,2.3 -1.5,0.8 -0.8,1.1 -0.5,-0.4 -0.1,-0.8 0.4,-0.7 -0.1,-2.3zM306.9,110.1l-2.2,0.5 -1.7,3 0.7,1.5 -0.2,0.8 -0.9,0.7 0.1,0.8 1.1,0.7 0.8,2.3 -0.4,0.8 -1.3,0.7 0.2,0.9 1.6,-0.1 2.3,-2.3 0,-0.7 0.7,-0.8 0.8,0 0.7,-0.8 -0.6,-0.7 0,-5.3zM290.2,120.4l0.4,1.5 -0.4,0.5 -0.7,0 -0.6,-0.5 -0.2,-0.7 0.8,-0.8zM313.8,111.3l-0.8,0.3 -0.7,1.2 -1.2,0.8 -0.5,2.3 0.9,0 3,-3.1 0,-0.7zM282.9,107.5l0.9,0.8 -0.4,0.7 -0.8,0.8 -2.3,0.3 0,-0.6 0.8,-0.1 1.3,-1.9zM293.3,103.1l-3.1,0.5 -0.6,0.9 0.1,0.7 0.8,1.5 0,1.6 0.5,0.5 3,0.7 1.4,-2 0,-2.3 -0.3,-0.7zM308.5,101.7l-0.8,-0.1 -0.6,0.6 -0.2,2.4 -1.1,0.6 1.1,0.8 0.3,0.7 -0.3,1.9 0.8,-0.1 1.1,-1.8 -0.3,-1.5 1.5,-0.7 0.5,-0.8 -0.1,-0.8zM323.7,93.4l-0.8,-0.3 -3,1.2 -1.6,0 0.4,1.8 -1,0.8 -1.6,0.5 0,0.8 3,0.5 1.5,-0.9 3.1,0.6 0.5,0.7 0.2,1.6 -0.8,1.5 0.8,1.5 0.8,-0.7 2.1,-0.1 0.2,-0.3 0.1,0.3 2.9,0 2.1,-2.2 -0.6,-1.7 -1.5,0.9 -1.5,0.4 -0.8,1.1 -0.7,0 -0.3,-1.5 1.5,-0.8 0.6,-3 -0.4,-0.8 -1.4,-0.2 -2,1.8 -1.8,0.2 -0.2,-1 0.9,-0.8 0,-0.7zM357.9,70.2l-4.6,-0.1 -0.8,0.8 -2.2,0 -0.8,0.8 -0.8,0 -1.5,1.5 -0.7,0 -1.6,1.5 -0.7,0 -1.5,1.6 -1.6,0 -3,3.1 -3,0 -0.8,0.7 -1.3,0 -0.6,0.8 0.4,0.8 2.1,0.7 0,0.8 -1,2.3 0.8,1.5 -1.2,0.4 -0.7,-0.3 0,0.6 1.5,1.6 1.3,0 -0.1,-1.6 0.3,-0.4 0.8,-0.4 0.8,0.1 0.6,1.5 -0.6,1.5 0.7,0.8 -1.6,1.5 0.8,0.8 0,1.5 0.7,0.7 0,0.8 2.4,2.3 0.7,-0.7 0.8,0.7 0,1.5 2.3,2.3 0.7,0 3.9,-3.8 -0.1,-2.9 -1.6,-0.9 0.9,-0.6 0.7,1.1 3.9,-3.6 0.7,-2.2 0.8,-0.8 0,-0.8 -0.8,-0.7 2.3,-2.3 0,-0.8 2.3,-2.2 0.7,0 0.8,0.8 1.5,0 2.4,-2.4 -0.8,-0.7 0,-0.8 1.5,-1.5 0,-0.8zM257.2,96.9l1.1,1.2 0.7,0.3 -0.3,0.7 -1.9,1.1 -0.8,-0.5 -0.5,-1.3 0.3,-0.8 1,-1zM264.4,96.1l0,1.6 -2.3,0.2 -0.9,1.2 -0.6,0.3 -1.2,-0.3 -0.3,-0.7 2.2,-0.8 0,-1.7 1.6,-0.3zM269.1,96.1l0.2,0.8 -0.4,0.5 -0.7,0.4 -1,-0.2 -0.3,-0.7 0.5,-1.2zM332.0,96.1l-0.5,0 0.5,1.1zM278.8,91.4l-1.6,0.1 0.9,5 1.1,-0.4 0.5,-0.8 -0.1,-2.2zM284.9,93.1l-2,2.2 0.5,0.5 1.5,-0.1 0.7,-1.9zM257.7,93.8l-1,0 0.8,-0.6zM259.5,90.0l1.4,1.5 0.1,0.8 -0.4,0.7 -2.3,-0.5 -2.3,-2.5 2.3,-0.4zM319.1,90.8l-0.9,0.7 0.1,0.9 0.8,0.2 0.4,-1.1zM313.8,77.9l-1.5,0.2 -1.6,1.2 -2.2,0.7 -0.8,0.8 -1.5,-1.6 -0.8,0 -0.9,0.9 0.3,0.8 1.2,0.8 1.7,-0.7 0.6,1.4 -0.2,1.5 -1.5,1.6 1.1,1.5 0.1,0.7 -0.4,0.8 0.3,0.5 1.5,-0.5 0.8,-0.8 0,-3.2 2.3,0.8 1.5,-0.2 2.3,1 0.5,0.9 -2.1,-0.2 -1.2,0.9 -0.1,0.8 2.9,1.3 1.5,-0.7 1.5,0.5 0.8,-0.8 1.5,-0.1 0.9,0.6 1.4,3.1 0.7,-0.3 1.2,-1.3 -0.2,-0.8 -1.8,-1.5 -0.1,-1.5 -0.6,-0.6 -1.6,0.6 -1.4,1.1 -2.3,-1.1 1.5,-0.6 1.5,0.5 0.5,-0.7 -0.5,-2.2 -0.5,-0.8 -1.8,0.7 -1.5,-0.8 -0.7,0.1 -0.8,-1.5 -1.7,0 -0.1,-0.8 0.8,-1.5zM329.7,91.2l-0.8,0.3 -0.3,0.8 0.4,0.5 0.9,-1.3zM265.3,90.8l0,0.7 -0.5,0 -0.2,-0.7zM312.3,88.2l-1,0.3 -0.3,0.8 -0.2,1.5 0.7,1.2 1,-0.5 0.7,-2.2 -0.2,-0.8zM284.9,89.8l-0.3,0.2 0.3,0.5 0.5,-0.5zM303.9,88.8l-0.8,0.5 0.8,0.8 0.5,-0.8zM332.0,85.9l-2.4,0.3 0.1,3.4 2.3,-2.6 0.6,0zM325.2,84.1l-1.5,0.4 -0.5,1 0.5,0.7 1.5,-0.5zM322.9,82.9l-0.8,-0.1 0,0.4 0.8,0.2zM352.7,82.4l-0.5,0.8 -1.2,0.5 -1,-0.5 0.3,-1.2zM329.0,74.8l-0.8,0 -2.3,2.3 -0.7,1.7 0,1.5 0.7,-0.6 0.8,2.3 0.8,0.6 1.7,-0.2 0.9,-2.3 0.2,-1.5 1,-1.1zM274.5,80.1l-0.2,1.3 -0.8,0.1 -0.7,-1.4 0.7,-0.3zM348.3,80.1l1.2,0.6 0,0.5 -1.2,-0.3 -0.5,-0.8zM271.1,78.6l0.3,0.8 -0.9,0.1 -1.9,-0.1 -0.3,-0.8 2.2,-0.3zM307.7,77.1l-1.3,0 0.5,1.9 2.8,-1.1 -1.2,-0.1zM288.7,76.2l-0.8,-0.6 -0.6,0.7 0.2,1.6 0.4,0.6 0.8,0 0.8,-1 1,-0.4 -1,-0.1zM356.6,77.1l-0.3,1 -0.6,-0.2 -0.2,-0.8zM310.7,77.1l-0.7,0 0,0.6 1,-0.6zM283.8,76.3l-0.4,0.3 -0.4,-0.3 0.4,-0.6zM292.7,68.0l-1,2.1 -0.7,0.1 -1.1,-0.7 -0.2,-0.8 0.5,-0.5 1.5,-0.5z"/>
<path fill="#ffa31a" fill-rule="evenodd" d="M271.2,96.7l-0.4,0.9 0.1,1.5 -0.4,0.5 -1.6,0 -0.4,3.3 -0.2,0.8 -1.2,0.8 -0.1,0.7 0.4,0.7 2.3,-0.3 1.7,1.1 -0.2,0.8 -3,0 -1.2,0.8 0.2,0.7 1.7,0.6 0.8,0.9 1.6,0 -0.1,1 -1.5,1.3 0.5,3.1 -0.5,1.2 -0.8,0.4 0,2.9 1.5,2.3 0,1.5 0.8,0.8 0,0.7 0.8,0.8 2.3,0.5 1.4,1.8 -0.1,0.7 -1.1,0.8 0.9,2.3 0.1,1.5 1.1,0.8 0.1,0.7 -0.9,0.1 0,1.4 1.5,1.6 0.7,2.2 0.8,0.6 1.5,0 1.6,-1.2 0,3.7 -1.5,3 0.7,2.3 1.5,-0.4 0.5,0.4 0.6,0.8 -0.3,1.5 0.7,0.8 1.6,0.3 0,1.2 0.7,0.7 0.8,0.1 1.5,-1.6 -0.8,-1.5 0.4,-0.8 1.2,-0.4 0.6,-1.1 0.9,-0.3 0.9,-2 0.2,-2.3 -0.4,-0.3 -1.5,-0.1 -0.3,-0.3 0.7,-1.5 -0.7,-1.6 -0.4,-2.2 0.7,-0.7 0.8,0 1.5,1.6 0.5,-0.2 0.6,-0.7 -0.6,-0.8 0,-0.8 1.7,-1.5 -0.7,-1.1 -0.7,-0.1 -1.6,1.2 -1.5,2 -0.6,-0.5 -1.7,0 -0.9,-2.2 -2.9,-1.9 -1,0.3 0.4,0.8 -0.9,1 -1.5,0 -1.2,1.3 -1.1,0.3 -0.2,-0.3 0.4,-0.8 2.1,-0.9 1.2,-1.4 0,-0.7 -1.3,-1.5 -0.1,-1.6 1,-3.8 -1.6,-1.5 1.4,-1.5 -0.4,-2.3 1.4,-1.5 0.1,-0.8 -0.6,-0.7 -1.5,-0.8 -1,-2.3 0.6,-0.5 0.8,-1.7 -1.5,-0.7 -0.6,-1.6 0.6,-2.3 0.7,0.1 0.8,-0.5 0.2,-1.1 -1,-0.8 -0.7,0.5 -0.8,1.4 -0.7,-0.1 -1.6,-1.3 -0.8,-2 -1.8,-2.3 -0.3,-3zM297.1,140.1l-1.6,2.1 -0.8,0.3 0.1,2.3 1,-0.8 0.5,-1.4 0.8,-0.2 0.4,-0.7zM275.0,134.6l0,1 0.7,0zM279.7,131.8l-0.9,0.2 0,-0.6 0.8,-0.3zM285.7,113.9l-0.9,0.4 0.1,1.1 0.8,0.6 0.4,-0.9zM269.7,111.7l-0.8,-0.2 -0.2,0.6 1,0.6zM271.5,100.7l0.6,0.7 -0.5,0.8 0.5,1.5 -0.1,1 -0.8,0 -1.2,-1 0.6,-2.3 0.6,-1zM291.7,104.3l-0.6,0.2 0.6,0.6zM265.1,99.7l-2.2,0 -1.6,0.7 -2.5,0.3 1,2 0.8,0.8 0.7,-0.1 1.1,-2 2,-0.7 1,-0.8zM265.1,102.0l-0.7,-0.4 -0.8,0.5 0.2,0.8 1.3,0.5 0.8,-0.5zM253.7,98.3l-0.7,0.8 0,0.8 0.6,0 0.6,-0.8zM343.4,95.1l-0.7,0.1 -0.4,1.7 2.6,1.4 0.8,-0.3 0.6,-1.1 -0.4,-0.8zM259.1,95.1l-0.7,0.2 0.7,1.4 0.4,-0.6zM322.1,94.6l-1.8,0.7 -0.2,0.8 0.5,0.6 0.8,0 0.5,-0.6zM340.4,93.5l-1.5,1.6 -0.8,-0.4 0,1.4 0.6,0 0.2,-0.5 0.7,0.4 0.8,-0.1 0.8,-1.3 -0.1,-0.8zM265.1,94.4l-0.7,-0.3 -0.2,0.5zM268.9,92.8l-0.3,1 0.3,0.6 0.7,-0.6zM357.9,70.3l-4.6,-0.1 -0.8,0.7 -2.2,0.1 -0.8,0.7 -0.8,0 -1.5,1.5 -0.7,0 -1.6,1.6 -0.7,0 -1.5,1.5 -1.6,0 -1.5,1.6 -0.6,0.7 0.1,0.8 1.5,3 -1.3,2.3 -0.1,3.8 0.4,0.5 1.5,0.3 1.6,1.1 0.7,0 3.1,2.2 2.2,-1 0,-2.6 1.6,-1.5 0.7,-1.5 1.5,0 0.8,-0.5 0.1,-0.8 -0.9,-0.3 -1.5,1 -4.5,-4.3 -0.8,-0.1 -0.8,0.6 -0.7,-0.2 -0.1,-0.5 1.2,-3 1.2,-0.8 2.2,1 2.3,0.2 1.5,-0.5 0.1,1.6 -0.5,0.7 2,1.1 0.3,-1.1 0,-1.5 -0.7,-1.5 0.8,-0.8 3.4,-0.7 0.7,0.2 0.8,1.8 0.7,0.6 1.2,-1.1 -0.7,-1.5 2.6,0zM275.8,40.5l-0.8,0 -0.7,0.8 -3.1,0 -0.7,0.7 -1.6,0.1 -2.3,2.3 0,2.3 2.3,2.4 0.8,0 1.4,1.4 -2.2,2.3 0.7,0.7 0,1.6 0.7,0.7 0,1.5 3.2,3.2 0.8,0 0.6,0.6 -1.5,1.6 0,0.7 0.8,0.8 0.1,0.7 -0.8,0.8 0,0.8 -0.8,0.7 -0.7,0 -3.1,3.1 0,0.7 -0.7,0.7 -0.8,0 -2.3,2.4 0,0.7 -0.7,0.7 -5.3,0 -4.6,4.6 0,1.6 0.8,0.6 0.7,-0.1 0,1 1.5,2.3 1.6,-0.4 1.5,0.1 2.3,-2 1.2,0 0.1,1.5 -0.6,1.5 -1.5,0 1.5,0.1 0.8,2.2 1.5,0.8 1.5,1.6 0.8,0 1.3,-0.9 1.4,-3 -1.4,-1.5 0.1,-1.6 -2.2,-1.7 -0.9,0.2 -1.3,-2.3 0.3,-0.7 2.7,-2.2 2.3,0.2 2.2,1.1 1.6,0.1 0.7,0.4 0.8,1.2 2.3,-0.3 0.4,-0.5 0,-1.5 -1.8,-1.6 2.4,-2.2 1.2,-0.3 0.6,1 -0.4,0.8 0.5,2.3 0.9,0.4 0.4,-0.4 -0.8,-2.3 1.7,-1.5 0.2,-1.4 1.5,1.3 0.8,-0.9 0,-2.1 -0.6,-1.5 0.5,-0.8 4,-1.5 0.1,-2.3 0.5,-0.5 1.3,2.1 1,-0.2 0.8,-2.1 0.7,-0.4 -0.7,-1.1 0,-1.6 2.3,-2.2 0,-0.8 -1.5,-1.5 1.5,-1.5 0,-0.8 3.8,-3.8 0,-1.5 -3.1,-3.2 -0.8,0 -0.7,-0.7 -4.6,0 -0.7,0.8 -2.3,0.7 -2.3,-1.5 -0.8,0 -0.7,-0.8 -0.8,0 -0.7,-0.7 -0.8,0 -2.3,-2.3 -2.3,0zM350.3,88.9l-0.8,0.4 -0.4,0.7 1.9,1.3 0.4,-0.5 -0.1,-0.8 -0.3,-0.7zM296.3,87.1l-0.8,0 -0.3,0.6 -0.1,0.8 0.4,0.4 1.2,-0.4zM266.7,85.5l1.2,0.7 0.4,0.8 -0.1,0.6 -2,-1.4zM294.8,83.0l-0.8,0.4 -1,2.1 2.3,0.7 0.2,0.5 0.8,-0.5 0.2,-2.3zM338.1,83.1l-2.1,0.8 -0.2,0.8 1.5,0.4 0.8,-0.3zM312.3,82.2l-0.5,1 0.2,0.7 1,0.4 0.8,-0.4 -0.2,-0.7zM293.3,80.5l-0.5,1.2 0.5,0.8 0.8,-0.8 -0.2,-0.8zM362.4,78.7l-1.5,0.7 -1.5,-0.6 -1.5,0.2 -0.8,1 -0.4,2.4 2.7,-1.3 3,-0.2 0.8,-0.8 -0.8,-0.7zM286.4,80.5l-0.7,0.4 0.7,1 0.4,-0.2 0,-0.8zM329.0,75.4l-1.5,0.2 -0.8,0.7 0.3,0.8 -0.1,1.5 0.8,2.3 0.5,0.3 0.9,-1.1 -0.5,-2.2 0,-0.8 0.6,-0.8zM301.6,75.5l-1,0.1 -0.2,0.7 0.5,0.8 1,-0.8zM281.7,71.0l-0.6,0.9 -0.2,-0.9zM282.3,65.7l1,0.8 0,1.5 0.5,0.7 -0.3,0.8 -0.9,0.7 -0.3,-0.7 -1.9,-0.8 -0.8,-0.7 0.1,-0.8 1.5,-0.7 0.2,-0.8zM294.0,69.2l-0.4,0.3 0.4,0.6 0.4,-0.6zM299.3,68.2l-0.5,0.5 1.1,0zM279.8,62.7l-1.6,2.2 0,1.6 -0.9,0.2 -1.3,-1 0,-0.8 1.2,-2.2 1.6,-0.6zM285.7,64.9l0.1,0.8 -0.9,1 -0.8,0.4 -0.7,-0.6 0.7,-1.2z"/>
<path fill="#ff401a" fill-rule="evenodd" d="M285.7,135.3l-0.8,-0.4 -0.8,0.3 -2,1.9 -0.1,0.8 0.6,0.8 1.5,-0.1 0.5,0.8 -1.4,2.3 -0.6,3 0.2,0.8 2.1,2.9 1.5,1.5 1.1,-1.4 2.7,-0.7 0,-1.5 -2.2,-3.1 0.4,-3zM276.5,107.2l-0.7,-0.3 -1.5,1.3 -0.9,0.1 -0.5,0.7 -0.3,2.3 -1,2.3 1.9,0.5 0.1,1 -3.3,4.6 0.3,0.7 2.3,1.5 0.1,1.6 0.5,0.5 2.1,1 -0.1,2.3 1,0.8 1.6,0.3 1.1,-0.4 0.6,-0.7 0,-1.6 -1.2,-3.8 0.8,-2.2 -1.5,-3.1 0.3,-2.3 -0.4,-2.2 0.2,-3.1zM344.9,83.9l-1.5,-0.4 -0.7,0.2 -1.9,2.5 1.9,2.8 3,1.3 0.4,-0.3 0.4,-1.5 1.5,-1.7 1.5,-0.6 -0.8,-1zM275.8,67.9l-0.8,1.4 -1.5,-0.6 -0.9,1.6 -2.1,1 -1.6,-0.1 -1.2,0.6 -2.6,2.3 0,0.7 -0.7,0.8 -5.3,-0.1 -2,2.4 0.2,2.2 1,2 2.3,0.1 0.7,-1.2 0.8,-0.2 0.8,0.4 0.7,-0.1 1.2,-2.5 -0.4,-0.6 -1.2,-0.1 -0.3,-0.8 0.7,-0.4 0.8,0.1 0.7,1.1 1.2,-1.6 1.9,-0.1 0.8,-0.6 -0.3,-0.8 1,-0.8 0.8,0.1 0.9,0.7 -1.1,0.8 -0.3,0.7 2.7,0.7 0.6,-0.7 0,-0.7 1,-1 1.5,0.9 1.3,-0.7 0,-1.5 -0.9,-2.3 0.7,-1.5 -0.1,-0.8 -0.3,-0.6zM342.7,77.6l-1.2,0.3 -0.8,0.7 0,0.8 2,0.4 0.6,-0.4 0.1,-0.8zM277.3,77.8l-1,0.1 0.2,0.6 0.9,0.1zM354.1,70.3l-0.8,-0.1 -0.8,0.8 -2,0 0.6,0.8 -0.8,0.7 -0.4,-0.7 -1.2,0 -1.5,1.5 -0.7,0 -2.3,1.8 1.5,0.2 2.3,1.3 1.5,-0.5 1.5,0.9 5.3,-2.3 2.3,0 1.5,-0.6 1.6,0.3 -2.3,-2.6 -1.5,-0.3 -1.6,-0.8 -1.5,0.2zM275.8,40.5l-0.8,0 -0.7,0.8 -3.1,0 -0.7,0.8 -1.6,0 -2.3,2.3 0,2.3 2.3,2.3 0.8,0 1.5,1.5 -2.3,2.3 0.7,0.7 0,1.6 0.8,0.7 0,1.5 3.1,3.1 0.8,0 0.7,0.7 -1.5,1.6 0,0.7 1.5,0.6 0.6,-0.6 0.2,-1.6 2.3,-0.8 4.5,-0.7 5.3,2.6 0.8,-0.1 0.8,-1 3.8,-0.1 0,-0.6 2.3,-2.2 0,-0.8 -1.6,-1.5 1.6,-1.5 0,-0.8 3.8,-3.8 0,-1.5 -3.1,-3.1 -0.8,0 -0.7,-0.8 -4.6,0 -0.7,0.8 -2.3,0.8 -2.3,-1.6 -0.8,0 -0.7,-0.7 -0.8,0 -0.7,-0.8 -0.8,0 -2.3,-2.3 -2.3,0zM274.8,55.8l5.4,1.5 -1.4,0.9 -3,0.6 -1.5,-0.2 -0.8,-1 -0.1,-1 0.6,-0.8z"/>
</g>
<path d="M278.6,60.8 280.7,58.5 284.1,57.3 287.6,58.5 290.2,60.0 M280.7,60.0 280.7,62.3 282.2,64.6 284.1,66.1 285.7,67.6 287.2,68.0 M287.2,68.0 287.9,66.1 289.8,64.9 291.7,64.4 M273.1,69.5 275.8,69.9 278.1,71.0 280.7,70.3 282.2,69.1 284.5,67.6 284.1,66.1 M275.8,69.9 275.4,71.8 278.4,73.7 279.2,76.0 281.5,77.1 284.1,78.2 286.0,77.5 M287.2,68.0 285.7,70.6 285.3,73.3 286.4,76.0 286.0,77.5 M287.2,68.0 288.3,69.9 290.2,71.0 292.1,72.5 294.4,73.7 296.7,73.7 M286.0,77.5 287.2,80.5 289.8,81.7 286.4,83.9 284.1,86.2 284.5,88.5 281.9,90.0 280.3,91.5 278.1,90.0 276.5,91.5 275.4,94.2 274.6,95.7 M274.6,95.7 272.0,94.2 270.5,91.5 268.2,90.2 265.9,90.0 262.5,89.8 M279.2,75.6 276.9,77.9 277.7,80.1 275.8,82.4 274.3,84.7 272.4,86.2 270.8,88.1 268.2,90.2 M289.8,81.7 292.9,83.9 291.0,86.6 289.8,90.4 292.1,90.8 293.3,88.1 297.4,88.5 301.2,88.1 304.7,89.6 306.9,92.3 309.0,91.9 M297.4,74.8 295.5,78.6 294.4,81.7 294.0,84.7 293.6,88.1 M311.1,79.4 312.3,82.8 313.0,85.5 310.0,87.4 309.0,90.4 309.0,91.9 M309.0,90.4 312.6,90.4 315.3,90.8 318.0,89.3 321.0,90.0 323.3,88.9 325.9,87.7 M327.1,83.0 326.3,84.7 326.7,86.2 325.9,87.7 M325.9,87.7 324.4,91.5 321.4,93.4 318.7,95.0 320.6,97.2 322.5,99.1 M322.5,99.1 323.7,100.3 324.8,101.4 M325.9,87.7 327.5,89.6 M322.5,99.1 319.1,98.4 316.8,99.5 315.3,99.1 313.0,98.4 311.5,98.0 M311.5,98.0 310.0,96.1 311.5,94.2 310.4,93.1 309.0,91.9 M311.5,98.0 309.2,101.4 306.2,104.1 305.4,107.5 303.9,109.0 303.9,112.1 301.6,115.5 M301.6,115.5 305.0,114.0 308.5,112.4 311.5,111.3 314.3,110.9 M306.9,92.3 303.9,93.1 302.4,94.6 302.8,96.5 300.1,98.4 299.3,101.0 298.8,102.6 M298.8,102.6 296.3,101.4 293.6,101.0 290.2,101.8 287.2,102.2 283.8,102.6 281.5,102.2 278.1,102.2 275.4,101.0 274.6,99.9 M274.6,99.9 273.9,98.0 274.6,95.7 M289.8,90.4 289.5,93.1 291.0,95.3 289.8,98.0 290.2,101.8 M298.8,102.6 298.2,105.2 298.6,106.7 297.8,108.6 299.3,110.2 297.6,112.8 M297.6,112.8 299.3,114.3 300.1,115.9 301.6,115.5 M297.6,112.8 295.9,111.7 295.9,109.8 293.3,109.4 291.7,108.6 289.8,109.8 287.9,111.3 288.3,113.2 286.8,114.0 M286.8,114.0 284.5,116.2 282.2,117.8 280.0,117.4 279.6,119.3 276.9,119.7 275.0,120.8 274.6,122.7 273.9,123.8 M273.9,123.8 274.6,125.7 273.9,126.9 M271.2,106.7 272.0,109.4 271.6,112.1 272.0,115.1 272.7,118.1 273.1,120.8 273.9,123.8 M268.8,106.9 271.2,106.7 273.1,104.8 272.7,102.9 274.6,101.8 273.1,101.0 274.6,99.9 M281.1,105.2 277.3,106.4 276.2,108.3 278.1,110.2 278.1,112.4 280.3,114.3 282.2,115.9 282.6,117.4 M281.1,105.2 283.0,106.7 285.7,107.9 286.0,109.0 288.3,108.3 289.8,109.8 M281.1,105.2 281.9,103.7 281.5,102.2 M300.1,115.9 298.2,118.1 296.3,119.3 294.0,120.4 293.3,121.9 290.6,122.7 288.7,123.1 286.4,123.1 M286.4,123.1 286.0,121.2 286.8,118.9 286.4,116.6 286.8,114.0 M292.5,122.3 292.1,125.4 293.3,127.3 294.0,129.5 294.8,131.1 296.3,132.2 M286.4,123.1 284.9,125.7 284.1,127.6 284.9,129.2 286.4,130.3 286.8,131.4 288.7,132.2 290.2,133.0 289.6,135.1 M289.6,135.1 291.0,134.5 293.3,133.7 295.2,133.0 297.4,132.2 M289.6,135.1 287.9,135.6 287.2,137.1 285.7,138.7 284.5,138.7 282.6,139.4 M282.6,139.4 283.8,140.9 284.1,142.8 284.5,144.4 285.7,144.7 286.0,147.0 285.7,149.3 286.0,151.2 285.3,152.0 M282.6,139.4 281.1,138.3 279.2,136.8 278.1,135.6 276.9,135.1 M274.6,125.7 276.2,128.4 276.9,131.1 278.1,133.3 278.8,135.6 279.2,136.8 M276.2,128.4 279.2,128.4 281.1,126.9 282.6,126.5 284.1,127.6 M267.4,98.8 265.9,97.2 265.1,95.3 262.9,93.8 262.5,92.3 262.5,89.8 M342.3,81.5 345.7,80.9 349.5,79.4 353.3,77.9 355.6,77.5 356.7,78.6 356.0,79.8 354.8,80.3 354.1,81.3 M354.1,81.3 350.6,83.2 348.0,85.8 347.2,88.5 345.7,90.4 343.0,91.2 342.3,90.8 M333.7,84.7 333.7,82.0" fill="none" stroke="#000" stroke-width="0.5" stroke-linejoin="round" opacity="0.9"/>
<path d="M251.3,93.6 253.0,91.5 254.5,91.2 258.3,91.5 260.6,90.8 262.5,89.8 261.7,87.7 260.8,85.8 258.7,85.1 258.7,82.6 256.4,81.7 256.8,79.8 259.6,77.1 262.1,77.7 265.5,77.3 267.4,74.1 269.7,72.5 271.2,69.7 273.5,68.4 276.0,65.3 275.6,62.7 278.4,60.8 276.2,59.6 273.9,58.5 272.4,57.3 271.8,54.7 271.2,52.8 273.9,50.1 270.8,48.2 268.2,46.3 268.6,44.4 272.0,43.3 275.4,42.7 278.8,43.5 281.1,45.2 284.5,47.1 287.9,48.6 290.2,47.1 293.6,46.7 297.4,48.6 297.4,50.9 294.8,52.8 292.5,56.6 294.2,59.2 291.4,59.6 290.2,60.8 291.7,62.3 291.5,64.2 293.6,65.3 296.7,67.2 300.1,68.7 298.2,70.3 296.7,73.7 298.6,74.8 301.2,76.5 303.9,77.5 306.6,78.6 308.8,79.6 311.9,79.0 314.0,80.1 316.1,81.7 318.3,82.4 321.8,83.0 324.0,83.2 327.1,83.0 327.3,80.9 326.9,77.5 329.4,76.7 330.1,79.0 329.7,80.5 330.5,81.5 333.5,82.0 335.8,81.5 338.9,81.7 342.3,81.5 340.9,79.4 340.4,77.9 343.0,77.9 345.3,76.3 348.0,74.4 350.6,72.9 353.3,72.5 356.0,72.2 358.2,71.8 359.4,74.1 362.2,76.2 361.3,77.9 360.5,79.4 361.5,80.5 357.9,80.0 355.2,81.7 353.7,83.2 353.7,84.7 351.8,87.0 352.2,88.5 350.3,92.3 347.6,92.3 347.0,95.0 346.5,98.8 345.3,99.9 344.2,99.9 343.2,96.5 343.0,93.4 341.7,93.4 340.4,96.3 339.0,94.6 338.9,92.3 340.4,91.9 342.3,90.8 343.6,88.5 339.2,87.7 335.8,87.7 333.7,87.4 333.5,84.7 331.3,84.3 329.4,83.2 328.2,82.4 327.3,85.5 330.1,87.4 328.2,88.9 327.1,90.0 329.5,91.5 329.4,95.0 330.3,96.5 330.7,99.5 330.9,101.2 329.0,101.4 327.1,101.2 325.9,101.0 323.7,101.6 322.3,103.7 322.5,104.8 321.0,106.7 319.9,107.9 317.2,108.6 315.7,109.8 314.5,110.9 311.9,114.0 309.6,115.9 305.4,118.9 305.0,120.4 302.8,121.4 300.9,122.7 299.3,123.5 297.4,124.2 296.5,126.5 296.9,130.3 297.4,133.0 297.2,135.6 295.7,138.7 295.7,144.0 293.6,144.4 292.5,146.6 292.3,148.2 289.5,149.7 288.7,151.6 287.0,152.8 285.3,152.0 283.2,149.7 282.2,147.0 281.9,144.7 280.7,142.1 279.6,139.4 278.1,137.1 276.7,134.5 275.8,131.1 274.8,128.0 273.5,125.7 272.4,123.5 271.2,120.8 270.5,117.4 269.5,113.6 268.9,111.3 268.6,108.3 268.8,106.0 269.3,103.7 268.2,101.4 268.9,99.1 266.7,99.9 266.7,102.6 264.0,104.1 261.7,104.8 259.1,103.7 256.0,101.0 254.3,98.8 255.6,98.4 258.3,97.6 259.8,96.1 257.5,96.7 255.3,96.9 253.0,95.3Z" fill="none" stroke="#111" stroke-width="0.6" stroke-linejoin="round"/>
<path d="M328.4,98.0 331.0,98.0 331.1,101.6 327.5,101.6Z" fill="#0a0a0a"/>
<circle cx="252.0" cy="93.5" r="0.8" fill="#111"/>
<path d="M345.3,131.8 346.1,133.3 345.7,136.4 345.5,139.4 344.6,139.8 344.2,137.1 344.8,134.1Z" fill="#262b12" stroke="#111" stroke-width="0.5"/>
<path d="M343.4,142.1 344.2,142.8 344.0,143.6 343.2,143.2Z" fill="#262b12" stroke="#111" stroke-width="0.5"/>
<path d="M344.6,148.4 345.1,148.7 344.8,149.1Z" fill="#222" stroke="#111" stroke-width="0.4"/>
<path d="M347.2,152.0 348.0,152.7 347.6,153.5 346.8,153.1Z" fill="#222" stroke="#111" stroke-width="0.4"/>
<path d="M348.4,155.8 349.3,156.9 348.9,157.9 348.2,157.1Z" fill="#222" stroke="#111" stroke-width="0.4"/>
<path d="M346.8,155.4 347.4,155.8 347.0,156.1Z" fill="#222" stroke="#111" stroke-width="0.4"/>
<circle cx="266.7" cy="139.0" r="0.4" fill="#3a3a3a"/>
<circle cx="268.6" cy="140.9" r="0.4" fill="#3a3a3a"/>
<circle cx="268.4" cy="143.2" r="0.4" fill="#3a3a3a"/>
<circle cx="269.7" cy="145.1" r="0.4" fill="#3a3a3a"/>
<circle cx="267.0" cy="142.1" r="0.4" fill="#3a3a3a"/>
<circle cx="272.2" cy="145.3" r="0.4" fill="#3a3a3a"/>
<circle cx="266.7" cy="142.3" r="0.4" fill="#3a3a3a"/>
<circle cx="269.9" cy="152.0" r="0.4" fill="#3a3a3a"/>
<circle cx="268.8" cy="139.8" r="0.4" fill="#3a3a3a"/>
<circle cx="265.5" cy="138.3" r="0.4" fill="#3a3a3a"/>
<circle cx="273.5" cy="140.9" r="0.4" fill="#3a3a3a"/>
<circle cx="271.6" cy="138.3" r="0.4" fill="#3a3a3a"/>
</g>
<rect x="250.5" y="35.4" width="112.2" height="130.0" fill="none" stroke="#a9a9a9" stroke-width="0.7"/>
<text class="t" x="305.7" y="42.4" font-size="6.5" text-anchor="middle">IMD-GLDAS</text>
<text class="k" x="265.9" y="34.5">72°E</text>
<text class="k" x="265.9" y="168.8">72°E</text>
<text class="k" x="288.7" y="34.5">78°E</text>
<text class="k" x="288.7" y="168.8">78°E</text>
<text class="k" x="311.5" y="34.5">84°E</text>
<text class="k" x="311.5" y="168.8">84°E</text>
<text class="k" x="334.3" y="34.5">90°E</text>
<text class="k" x="334.3" y="168.8">90°E</text>
<text class="k" x="357.1" y="34.5">96°E</text>
<text class="k" x="357.1" y="168.8">96°E</text>
<text class="k" transform="translate(249.7,46.7) rotate(-90)">36°N</text>
<text class="k" transform="translate(365.8,46.7) rotate(-90)">36°N</text>
<text class="k" transform="translate(249.7,69.5) rotate(-90)">30°N</text>
<text class="k" transform="translate(365.8,69.5) rotate(-90)">30°N</text>
<text class="k" transform="translate(249.7,92.3) rotate(-90)">24°N</text>
<text class="k" transform="translate(365.8,92.3) rotate(-90)">24°N</text>
<text class="k" transform="translate(249.7,115.1) rotate(-90)">18°N</text>
<text class="k" transform="translate(365.8,115.1) rotate(-90)">18°N</text>
<text class="k" transform="translate(249.7,137.9) rotate(-90)">12°N</text>
<text class="k" transform="translate(365.8,137.9) rotate(-90)">12°N</text>
<text class="k" transform="translate(249.7,160.7) rotate(-90)">6°N</text>
<text class="k" transform="translate(365.8,160.7) rotate(-90)">6°N</text>
</g>
<g>
<clipPath id="f3"><rect x="374.3" y="35.4" width="112.2" height="130.0"/></clipPath>
<clipPath id="c3"><path d="M374.9,93.6 376.6,91.5 378.1,91.2 381.9,91.5 384.2,90.8 386.1,89.8 385.3,87.7 384.4,85.8 382.3,85.1 382.3,82.6 380.0,81.7 380.4,79.8 383.2,77.1 385.7,77.7 389.1,77.3 391.0,74.1 393.3,72.5 394.8,69.7 397.1,68.4 399.6,65.3 399.2,62.7 402.0,60.8 399.8,59.6 397.5,58.5 396.0,57.3 395.4,54.7 394.8,52.8 397.5,50.1 394.4,48.2 391.8,46.3 392.2,44.4 395.6,43.3 399.0,42.7 402.4,43.5 404.7,45.2 408.1,47.1 411.5,48.6 413.8,47.1 417.2,46.7 421.0,48.6 421.0,50.9 418.4,52.8 416.1,56.6 417.8,59.2 415.0,59.6 413.8,60.8 415.3,62.3 415.1,64.2 417.2,65.3 420.3,67.2 423.7,68.7 421.8,70.3 420.3,73.7 422.2,74.8 424.8,76.5 427.5,77.5 430.2,78.6 432.4,79.6 435.5,79.0 437.6,80.1 439.7,81.7 441.9,82.4 445.4,83.0 447.6,83.2 450.7,83.0 450.9,80.9 450.5,77.5 453.0,76.7 453.7,79.0 453.3,80.5 454.1,81.5 457.1,82.0 459.4,81.5 462.5,81.7 465.9,81.5 464.6,79.4 464.0,77.9 466.6,77.9 468.9,76.3 471.6,74.4 474.2,72.9 476.9,72.5 479.6,72.2 481.8,71.8 483.0,74.1 485.8,76.2 484.9,77.9 484.1,79.4 485.1,80.5 481.5,80.0 478.8,81.7 477.3,83.2 477.3,84.7 475.4,87.0 475.8,88.5 473.9,92.3 471.2,92.3 470.6,95.0 470.1,98.8 468.9,99.9 467.8,99.9 466.8,96.5 466.6,93.4 465.3,93.4 464.0,96.3 462.6,94.6 462.5,92.3 464.0,91.9 465.9,90.8 467.2,88.5 462.8,87.7 459.4,87.7 457.3,87.4 457.1,84.7 454.9,84.3 453.0,83.2 451.8,82.4 450.9,85.5 453.7,87.4 451.8,88.9 450.7,90.0 453.1,91.5 453.0,95.0 453.9,96.5 454.3,99.5 454.5,101.2 452.6,101.4 450.7,101.2 449.5,101.0 447.3,101.6 445.9,103.7 446.1,104.8 444.6,106.7 443.5,107.9 440.8,108.6 439.3,109.8 438.1,110.9 435.5,114.0 433.2,115.9 429.0,118.9 428.6,120.4 426.4,121.4 424.5,122.7 422.9,123.5 421.0,124.2 420.1,126.5 420.5,130.3 421.0,133.0 420.9,135.6 419.3,138.7 419.3,144.0 417.2,144.4 416.1,146.6 415.9,148.2 413.1,149.7 412.3,151.6 410.6,152.8 408.9,152.0 406.8,149.7 405.8,147.0 405.5,144.7 404.3,142.1 403.2,139.4 401.7,137.1 400.3,134.5 399.4,131.1 398.4,128.0 397.1,125.7 396.0,123.5 394.8,120.8 394.1,117.4 393.1,113.6 392.5,111.3 392.2,108.3 392.4,106.0 392.9,103.7 391.8,101.4 392.5,99.1 390.3,99.9 390.3,102.6 387.6,104.1 385.3,104.8 382.7,103.7 379.6,101.0 377.9,98.8 379.2,98.4 381.9,97.6 383.4,96.1 381.1,96.7 378.9,96.9 376.6,95.3Z"/></clipPath>
<g clip-path="url(#f3)">
<g clip-path="url(#c3)">
<path d="M374.9,93.6 376.6,91.5 378.1,91.2 381.9,91.5 384.2,90.8 386.1,89.8 385.3,87.7 384.4,85.8 382.3,85.1 382.3,82.6 380.0,81.7 380.4,79.8 383.2,77.1 385.7,77.7 389.1,77.3 391.0,74.1 393.3,72.5 394.8,69.7 397.1,68.4 399.6,65.3 399.2,62.7 402.0,60.8 399.8,59.6 397.5,58.5 396.0,57.3 395.4,54.7 394.8,52.8 397.5,50.1 394.4,48.2 391.8,46.3 392.2,44.4 395.6,43.3 399.0,42.7 402.4,43.5 404.7,45.2 408.1,47.1 411.5,48.6 413.8,47.1 417.2,46.7 421.0,48.6 421.0,50.9 418.4,52.8 416.1,56.6 417.8,59.2 415.0,59.6 413.8,60.8 415.3,62.3 415.1,64.2 417.2,65.3 420.3,67.2 423.7,68.7 421.8,70.3 420.3,73.7 422.2,74.8 424.8,76.5 427.5,77.5 430.2,78.6 432.4,79.6 435.5,79.0 437.6,80.1 439.7,81.7 441.9,82.4 445.4,83.0 447.6,83.2 450.7,83.0 450.9,80.9 450.5,77.5 453.0,76.7 453.7,79.0 453.3,80.5 454.1,81.5 457.1,82.0 459.4,81.5 462.5,81.7 465.9,81.5 464.6,79.4 464.0,77.9 466.6,77.9 468.9,76.3 471.6,74.4 474.2,72.9 476.9,72.5 479.6,72.2 481.8,71.8 483.0,74.1 485.8,76.2 484.9,77.9 484.1,79.4 485.1,80.5 481.5,80.0 478.8,81.7 477.3,83.2 477.3,84.7 475.4,87.0 475.8,88.5 473.9,92.3 471.2,92.3 470.6,95.0 470.1,98.8 468.9,99.9 467.8,99.9 466.8,96.5 466.6,93.4 465.3,93.4 464.0,96.3 462.6,94.6 462.5,92.3 464.0,91.9 465.9,90.8 467.2,88.5 462.8,87.7 459.4,87.7 457.3,87.4 457.1,84.7 454.9,84.3 453.0,83.2 451.8,82.4 450.9,85.5 453.7,87.4 451.8,88.9 450.7,90.0 453.1,91.5 453.0,95.0 453.9,96.5 454.3,99.5 454.5,101.2 452.6,101.4 450.7,101.2 449.5,101.0 447.3,101.6 445.9,103.7 446.1,104.8 444.6,106.7 443.5,107.9 440.8,108.6 439.3,109.8 438.1,110.9 435.5,114.0 433.2,115.9 429.0,118.9 428.6,120.4 426.4,121.4 424.5,122.7 422.9,123.5 421.0,124.2 420.1,126.5 420.5,130.3 421.0,133.0 420.9,135.6 419.3,138.7 419.3,144.0 417.2,144.4 416.1,146.6 415.9,148.2 413.1,149.7 412.3,151.6 410.6,152.8 408.9,152.0 406.8,149.7 405.8,147.0 405.5,144.7 404.3,142.1 403.2,139.4 401.7,137.1 400.3,134.5 399.4,131.1 398.4,128.0 397.1,125.7 396.0,123.5 394.8,120.8 394.1,117.4 393.1,113.6 392.5,111.3 392.2,108.3 392.4,106.0 392.9,103.7 391.8,101.4 392.5,99.1 390.3,99.9 390.3,102.6 387.6,104.1 385.3,104.8 382.7,103.7 379.6,101.0 377.9,98.8 379.2,98.4 381.9,97.6 383.4,96.1 381.1,96.7 378.9,96.9 376.6,95.3Z" fill="#0b7a0b"/>
<path fill="#4db31a" fill-rule="evenodd" d="M399.4,40.5l-0.8,0 -0.7,0.8 -3.1,0 -0.7,0.7 -1.6,0 -2.4,2.4 0,2.3 2.4,2.4 0.8,0 1.4,1.4 -2.3,2.3 0.8,0.7 0,1.6 0.7,0.7 0,1.5 3.2,3.2 0.8,0 0.6,0.6 -1.5,1.6 0,0.7 0.7,0.8 -0.7,2.3 -0.7,0.6 -0.7,0 -2.3,2.4 -0.8,1.6 -0.7,0.7 -0.8,0 -2.3,2.3 0,0.7 -0.7,0.7 -5.3,0.1 -0.8,2.5 -0.8,-0.5 -0.7,0.2 -2.3,2.3 -0.1,1.6 2.3,2.2 0,0.8 3.1,3 0,0.8 -0.7,0.7 -5.4,0 -0.7,0.8 -0.1,0.8 1.6,1 2.3,0.5 0.7,1.5 -2.2,1.4 -0.8,-0.2 -0.8,-2.1 -0.7,-0.5 -1.5,-0.2 -0.8,0.1 -1.6,1.5 4.6,4.6 -0.8,0.7 0,0.8 6.2,6.1 1.5,0 0.7,0.8 0.8,0 0.8,-0.7 1.5,0 0.7,-0.8 0.8,0 0.7,0.7 0,5.3 0.8,0.8 0,2.2 0.7,0.8 0,2.3 0.8,0.7 0,2.3 1.5,2.3 0,1.5 0.8,0.8 0,0.7 1.5,1.6 0,0.7 0.8,0.8 -0.1,2.3 0.8,0.7 0,1.5 0.8,0.8 -0.1,1.5 0.8,0.8 0,0.7 1.5,1.6 0,0.7 0.8,0.8 0,0.7 0.8,0.8 -0.1,0.8 0.8,0.7 0,1.5 0.8,0.8 0,2.3 0.7,0.7 0,0.8 5.4,5.4 0.8,0 6.9,-6.9 0,-0.8 0.7,-0.7 0.7,0 2.4,-2.3 0,-6.1 0.7,-0.8 0.7,-2.2 -2.4,-3.1 0.5,-1.5 0.4,-0.5 0.8,-0.1 0,-4 0.7,-0.7 0.8,0 0.8,-0.7 0.7,0 0.8,-0.8 0.7,0 0.8,-0.8 0.8,0 2.3,-2.3 0.7,-3 0.8,0.6 0.7,0 0.8,-0.6 -0.3,-0.8 1.8,-1.1 1.2,-1.9 -0.6,-3.8 0.9,-0.1 0.2,-1.4 2.1,-0.5 1,0.5 -0.9,3 0.7,0 0.7,-0.7 1.5,0 0.8,-0.8 0.6,0 -0.5,-0.8 1.9,-1.5 -1,-0.8 -0.2,-0.7 2.2,-0.8 0.8,0.1 0.8,0.7 0.7,-0.8 0.1,-1.5 0.7,-0.7 5.3,0 2.3,-2.3 0,-2.3 -0.8,-0.8 0.1,-1.5 -0.8,-0.8 0,-3.8 -1.5,-1.5 0,-0.7 2.2,-2.2 2.3,2.2 0.8,0 0.7,0.8 1.5,0 0.7,0.7 -1.5,1.5 0.8,0.8 0,1.5 0.7,0.7 0,0.8 2.4,2.3 0.7,-0.7 0.7,0.7 0,1.5 2.4,2.4 0.7,0 3.9,-3.9 0,-3.1 3.9,-3.8 0,-0.7 0.7,-0.8 0,-0.7 0.8,-0.8 0,-0.8 -0.8,-0.7 4.5,-5.2 0.7,0 0.8,0.7 1.5,0 1.5,-1.5 0.9,-0.9 -0.8,-0.7 0,-0.8 1.6,-1.5 0,-0.8 -6.2,-6.1 -4.6,-0.1 -0.8,0.8 -2.2,0 -0.8,0.8 -0.8,0 -3.8,3 -0.7,0 -1.5,1.6 -1.6,0 -3,2.9 -3,0.1 -0.8,0.8 -1.5,0 -1.5,-2.2 0,-0.8 -2.3,-2.3 -0.8,0 -2.3,2.3 -0.1,0.8 -0.6,0.4 -0.1,1.8 -0.7,0.7 -6.1,0.1 -0.7,-0.8 -1.5,0 -2.3,-2.3 -0.8,0 -0.7,-0.7 -2.3,-0.1 -0.8,0.8 -0.7,0 -0.8,-0.8 -0.8,0 -0.7,-0.7 -0.8,0 -0.7,-0.8 -1.6,0 -0.7,-0.8 -2.3,-0.7 -0.7,-0.7 0,-1.5 0.8,-0.8 -0.1,-0.7 1.5,-1.6 -2.3,-2.3 -0.7,0 -2.3,-1.6 -0.8,0 -2.1,-2.1 0,-1.6 2.3,-2.2 0,-0.8 -1.5,-1.5 1.5,-1.5 0,-0.8 3.8,-3.8 0,-1.5 -3.2,-3.2 -0.8,0 -0.7,-0.8 -4.6,0 -0.7,0.8 -2.3,0.8 -2.3,-1.6 -0.8,0 -2.2,-1.5 -0.8,0 -2.3,-2.2 -2.3,0zM417.6,118.1l1.7,1.6 -0.2,0.9 -2.2,-1.4 0,-1zM425.9,118.9l-2.2,1.8 -0.7,-0.3 -0.1,-1 0.8,-0.8zM406.4,118.9l-0.9,1 -0.9,-0.2 0.9,-1.3zM427.5,118.1l0.3,0.8 -0.3,0.2 -1.3,-0.2zM422.5,112.1l-0.2,2.2 -1.6,0.7 -0.4,0.9 -1.2,0.7 -0.4,-0.7 0.2,-0.8 1.3,-0.8 -0.2,-0.7 2.2,-2.1zM406.8,113.6l-0.6,1.2 -1.5,0.7 -0.1,-1.2 0.9,-0.8 0.7,-0.2zM423.0,106.7l-0.1,0.9 -0.7,0.3 -0.5,-0.4 0.5,-1.3zM409.9,87.0l0.1,1.2 1.5,0.1 0.5,1 -1.4,2.2 0.2,1 0.7,0.7 0.8,0 2,-1.7 1,-2.2 0.8,-0.3 3,2.4 1.6,-1.3 2.2,1.2 1.5,-2 1.6,-0.2 0.7,0.2 0.8,2.2 0.2,-0.7 1.3,-0.2 0.6,0.9 -1.3,0.3 -1.6,-0.7 -1.5,1 -1.5,-0.5 -0.8,0.7 2.3,1.8 0.9,1.2 0.1,0.8 -1,1.5 1,1.5 0.1,0.8 -0.3,0.4 -1.5,0.6 -0.6,-0.2 1.3,-3.1 -1.5,-0.2 -0.8,0.2 -0.3,0.8 0.1,2.3 -1.3,1 -1.5,-0.2 -1.5,1.1 -0.8,0.1 -2.3,-0.3 -0.5,-1 0.6,-1.5 -0.7,-2.3 0.9,-2.3 -0.3,-1.2 -1,0.5 -1.8,3.8 1.4,0.7 -0.1,0.8 -3,1.5 -6.1,0.3 -0.2,0.5 0.9,1.5 -0.7,1 -1.2,0.5 0.2,0.8 -0.4,0.7 -1.6,0.6 -1.5,-1.3 0.2,-0.8 0.8,-0.7 1.2,0.2 1.2,-2.5 -1.2,-1.5 -1.1,-0.8 -2.8,-3.8 0.5,-1.5 -0.3,-1.5 3.7,-0.7 0.8,1.1 1.5,-0.4 -0.1,-2.3 2.2,-2.3 0.5,-1.5 1.2,-0.4zM413.2,104.5l0.4,0.7 -0.5,1.1 -1.6,1 -1.5,0.2 -0.6,-2.3 0.6,-0.4zM419.7,105.2l0.6,0.8 -0.3,0.7 -0.9,0.3 -0.9,-0.3 -1.2,-1.5 1.4,-0.6zM422.3,103.7l0,0.8 -0.5,0.7 -0.4,0.4 -0.6,-0.4 0,-0.7 0.6,-1.1zM438.2,90.0l2.5,0.8 0.4,0.7 -0.3,1.6 0.3,0.7 1.5,0.8 1.6,0.4 1.5,-1.1 1.3,-0.1 0.8,3.1 -0.2,1.5 -1.8,1.5 -0.8,2 -1.5,0.3 -1.5,-0.8 -0.2,-0.7 0.9,-1 2.2,-0.6 0,-1.5 -0.7,-0.5 -2.3,1.2 -1.5,-0.1 -0.7,-0.6 0.9,-2.3 -0.2,-0.4 -1.5,-0.1 -0.8,0.5 -0.3,3.8 -0.4,0.5 -1.5,-1.4 -0.8,0.1 -0.5,1.6 1.3,2.8 1.5,-0.2 0.7,-0.5 0.8,-1.6 2.2,1 -0.4,3.1 -5.6,-1.2 -0.8,1.4 -0.6,-0.2 -0.4,-0.8 -2,-0.4 -2.3,1.3 -0.7,-0.1 0.7,-2 2.3,0.3 1.6,-2.9 0.1,-0.8 -0.9,-0.4 -0.8,-0.1 -1.5,0.8 -0.5,-0.3 0.6,-2.2 0.6,-0.6 1.6,0 1.5,1.3 0.7,-0.3 -0.2,-1.2 -1.3,-0.8 0.3,-0.7 1.2,-0.2 0.8,1.6 0.8,-0.5 0.1,-0.9 -0.9,-1.9 -1.3,-1.2zM404.7,98.1l-2.6,1 1.8,1.1 0.8,1.1 0.8,-2.2zM451.9,96.9l1.4,2.4 -0.7,0.1 -0.9,-1 -0.2,-0.8zM402.4,93.8l-1.2,0.8 1.2,2.3 0.8,0.6 0.7,-0.6 -1,-1.6zM453.0,92.3l-0.1,0.8 -1.1,1.3 -0.7,0.1 -0.9,-1.4 0.2,-0.8 1.4,-0.4zM444.4,91.5l-0.2,1.4 -0.7,0.4 -0.9,-0.2 -0.1,-0.8 1.7,-0.9zM407.7,89.1l-0.7,-0.3 -0.7,1.2 0.1,1.5 0.6,0.8 0.7,-0.3 1.5,-2zM396.5,89.3l-0.2,0.9 -0.7,0.6 -0.8,0 -0.6,-0.8 0.2,-0.7 0.4,-0.3 1.5,-0.1zM448.2,83.9l1.4,3.8 1.8,1.6 -0.2,0.7 -1.7,0 -0.5,-0.7 0.1,-0.8 -0.8,-2.3 -2.1,-1.5 0,-0.8 1.1,-0.5zM441.3,87.7l-0.1,1.1 -0.8,0 -1.5,-0.8 -0.8,0.8 -0.1,-0.3 0.1,-1.1 2.3,-0.2zM433.3,87.0l-0.5,0.6 -0.6,-0.6 0.6,-0.6zM390.6,82.4l0.3,0.8 -0.6,1 -0.8,0.3 -1.2,-2.1 1.2,-0.6 0.8,0.2zM402.5,79.4l1.9,0.7 -0.1,3.1 -0.4,0.6 -0.7,0.2 -1.1,-0.8 -0.5,-1.5 0.2,-1.6zM414.2,81.7l1.7,2.2 -0.6,0.3 -1.5,-1 -1.5,0.2 -0.3,-1.7 1.1,-0.5zM438.8,80.1l0.1,0.8 -0.8,1 -0.7,0.2 -1.3,-1.2 0,-0.8 1.3,-0.5 0.7,0zM382.1,79.4l0.6,1.5 -0.8,0.5 -0.5,-1.3 0.5,-1.4zM390.6,80.1l-0.3,1.2 -0.8,0.1 -0.3,-1.3 0.3,-0.3zM399.6,78.6l1,1.5 -0.5,0.9 -0.7,0 -1,-0.9 0.2,-1zM395.8,80.1l-0.2,0.5 -0.9,-0.5 0.1,-0.4zM407.0,75.6l0.4,0.7 -1.1,1.6 -0.1,0.9 -0.7,0.2 -0.6,-0.4 0.4,-2.3 0.9,-0.7zM392.8,75.6l-0.5,0.7 -0.8,0 0.3,-0.9 0.7,-0.2zM421.5,73.3l0,0.8 -1.2,0 0.4,-1.4zM407.1,73.3l-0.9,0.3 -0.1,-0.3zM394.4,72.5l-0.3,0.5 -1,-0.5 0.2,-0.4zM421.6,71.0l-0.2,1.1 -0.7,0 0,-1.5z"/>
<path fill="#ffff19" fill-rule="evenodd" d="M384.2,84.3l-0.8,0.1 -0.4,1.1 0.4,3.8 -0.7,1 -0.8,0 -0.3,0.5 4.1,1.3 0.5,1 -0.1,1.5 0.6,1.5 0.5,0.6 1.5,-0.5 1.6,1.4 0.1,0.8 -0.8,1.5 1.6,0.8 0.3,3.8 -0.5,0.9 -0.7,0.5 0,3.7 1.6,0.2 0.3,1.5 -0.9,1.5 0.8,1.5 -0.3,0.6 0,2.5 1.7,0.7 -0.2,0.8 -0.8,0.4 0,1.1 0.8,0.8 0,0.7 2,1.6 0.1,0.7 -0.6,0.8 0,0.7 1.5,1.6 1.8,0.7 -0.2,1 -0.8,0.1 0,2 0.8,1 0.7,-0.6 1,0.3 0.1,1.5 -0.2,0.8 -0.9,0 0,1.5 0.8,0.8 0,0.7 1.5,1.6 0,0.7 1.6,1.5 -0.1,1.6 0.7,0.7 0,1.5 0.8,0.8 0,2.3 0.8,0.7 0,0.8 5.3,5.3 0.8,0 3.8,-3.8 1.4,-2.3 -0.1,-1.5 0.5,-0.7 1.2,-0.6 1.5,0.6 1.6,-1.9 -1.3,-0.4 0.1,-1.5 -0.4,-1.1 -2.2,-0.1 -1.3,0.4 -0.4,0.8 0.8,1.5 -0.7,0.1 -1.5,-1 -2.3,-0.1 -0.7,-0.7 -1.6,-3.6 1.2,-1.6 -2.7,-3.3 -0.2,-3.5 -1,-0.8 -0.5,-1.5 -1.4,-1.5 0.1,-2.3 -1.7,-3.8 0.3,-3 -1.7,-1.5 0.1,-1 0.7,-1.3 0.8,0.1 0.8,-0.9 -0.8,-0.1 -0.8,0.9 -2,-0.8 -0.8,-1.5 -0.2,-3 -1.5,-0.4 -1.1,-1.2 0,-3.8 2.6,-2.2 -0.4,-1.6 -1.1,-1 -0.7,1.8 -0.9,-0.3 -0.3,-0.5 0.3,-0.7 1,-0.8 -2.5,-1.3 -0.7,-1.1 -2,-1.4 -0.1,-1.5 0.5,-0.7 0.5,0.7 1.1,0.5 1.5,-0.3 1.5,1.3 0.2,-1.5 -1,-0.5 -1.5,0.3 -1.5,-0.8 -0.4,-0.5 0.2,-2.3 -0.6,-0.6 -1.5,-0.1 -1.5,1.4 -0.8,0.1 -4.9,-2.3 0.9,-2.3zM413.3,146.3l0.3,0.7 -0.5,0.5 -0.8,-0.2 -0.5,-1 0.5,-0.6zM420.7,134.6l-1.7,0.3 0.9,1.5 0,1.6 0.8,-0.1 0,-1.2 -0.6,-0.3 0.9,-0.8 0.1,-0.7zM416.1,135.9l-0.7,0.5 0.7,0.3zM416.9,121.1l-1,0.8 -0.3,2.3 -1.2,1.5 -0.6,1.7 -1.3,1.4 0,2.3 0.6,1.2 3,0 1.5,-1.8 1.5,-0.4 0.3,-0.6 0.2,-2.2 0.7,-0.8 -0.5,-0.8 -2.2,-1.5 0.3,-2.3 -0.3,-0.6zM397.9,121.9l0.9,3.8 -0.2,0.9 -1,-1.6 -0.9,-0.8 0.4,-2.1zM424.5,123.7l-0.8,0.5 1.1,0zM419.9,123.3l-0.7,0.2 0.7,0.5zM414.6,118.7l-0.9,0.2 0.1,1.2 0.8,-0.6zM395.6,115.1l0.4,0.8 -0.4,0.8 -0.3,-0.8zM409.3,114.3l-0.8,0 -0.1,0.8 0.9,0.1zM435.1,113.4l-0.8,-0.2 -0.1,1.1zM434.3,110.7l-0.5,0.6 0.5,1 0.6,-1zM441.2,110.1l-0.9,0.4 1.3,0zM413.1,107.9l-0.6,0.4 0.6,1.1 0.4,-1.1zM432.8,105.8l-1.8,0.9 -0.6,0.8 0.1,0.3 0.8,0.5 3,0.1 0.5,-1.7 -0.5,-0.6zM385.7,106.2l-0.8,0.2 0,0.3 0.8,0.1zM388.0,101.2l-1.5,-0.4 -0.8,0.3 -0.6,1.1 -0.3,0.7 0.2,0.8 1.5,1.5 -0.4,0.8 1.9,0 0.7,-0.7 0.7,-0.1 0,-0.7 -1.2,-1.6zM380.4,102.8l-0.8,-0.3 0,0.5 0.8,0.2zM451.1,100.3l-1,1.1 1,0.9 1,-0.9zM468.5,101.8l-0.7,0.1 0,0.3 0.7,0zM377.3,98.2l-0.8,0.9 0,0.8 1.6,1.1 1,-1.9zM481.5,70.2l-4.6,0 -0.8,0.7 -2.2,0.1 -0.8,0.8 -0.8,0 -1.5,1.5 -0.7,0 -1.6,1.5 -0.7,0 -1.5,1.5 -1.6,0.1 -3,2.9 -2.9,0.1 1.4,0.7 0.6,0.8 -0.6,1 -1.5,0 -2.3,0.9 -1.5,-0.3 -2.3,2.2 1.7,3 0.6,0.1 0.7,-0.8 3.8,3 1.5,0.1 0.8,0.7 -1.5,1.5 0.7,0.2 2.3,-0.6 0.8,0.4 0.9,2.3 -0.6,2.3 1.2,1.5 0,1.5 0.8,0.8 0.7,-0.9 2.3,-0.7 -1,-0.7 0.2,-1.2 0.8,0.1 1.3,1.8 -0.8,0.8 0.1,0.8 2.4,-2.3 0,-3.1 3.9,-3.8 0,-0.7 0.8,-0.8 0,-0.7 0.7,-0.8 0,-0.8 -0.7,-0.7 2.2,-2.3 0,-0.8 2.3,-2.2 0.7,0 1.2,0.7 0.3,-1.5 1.6,0.8 1.5,-1.6 -0.8,-0.7 0,-0.8 1.6,-1.5 0,-0.8zM383.4,95.3l-2.3,-0.1 -1.2,0.9 -0.3,1 1.5,2 0.8,0 0.8,-1.1 1.5,-0.5 0.5,-0.6 0,-0.8 -0.5,-0.7zM386.5,97.6l-1.6,-0.3 -0.5,0.3 -0.2,1.9 0.7,0.3 1.7,-1.4zM376.6,93.8l-0.8,-0.4 -1.5,0.2 -0.8,-0.5 -0.8,0.7 4.1,3.8 0.3,-0.7zM454.9,95.2l-1.6,-0.5 -0.2,0.6 1,0.9zM461.7,95.2l0,0.9 0.8,0.3zM470.2,94.6l0.7,0.7 -0.8,0.8 -0.7,-0.8zM389.1,93.8l-0.4,0.9 -0.9,-0.9 0.9,-0.6zM448.0,90.5l-1.5,1 -0.1,0.8 1.6,0 0.8,-0.5 0,-1zM400.9,88.5l-1.5,-0.5 -0.6,0.5 -1,1.5 0.3,1.5 1.3,0.4 0.9,-0.4 -0.2,-1.5 0.7,-0.7zM453.3,89.7l-0.1,1.1 1.7,0.9zM399.4,40.6l-0.8,0 -0.7,0.7 -3.1,0 -0.7,0.7 -1.6,0 -2.3,2.4 0,2.3 2.3,2.4 0.8,0 1.4,1.4 -2.2,2.3 0.7,0.7 0,1.6 0.8,0.7 -0.1,1.5 3.2,3.2 0.8,-0.1 0.7,0.7 -1.6,1.6 0.8,2.2 -0.8,0.8 0.1,0.8 -2.3,1.5 0.2,1.5 -0.8,0.8 0,0.7 1.4,1.1 1.5,-0.6 2.3,0.5 1.5,-0.9 0.8,0.2 0.7,0.5 1.3,3 1,0.3 0.8,-2.6 0.7,-0.5 1.5,0.3 0.8,1 -0.5,1.5 0.3,1.5 -0.9,1.6 0.8,1.5 -1.1,0.7 2.9,1.9 0.8,0 1.5,-1.4 1.5,0 0.8,0.1 0.7,0.8 1.6,0.5 0.3,1.9 -0.4,0.8 -1.3,0.8 0,0.7 0.8,1.5 1.3,0.9 0.4,-0.1 0.9,-2.3 1,-0.5 0.6,0.5 -0.1,1.5 1,0.7 2.4,-2.2 0.7,-3.8 1.5,1.9 1.8,0.4 0.6,0.8 -0.9,0.5 -1.5,-0.3 -1.4,0.5 -0.6,0.8 0.2,0.7 3.3,0.4 2.7,1.9 1.1,1.4 0.8,-0.4 1.3,-1 -1.3,-0.6 -2.1,-2.4 0.8,-1.5 0,-3.1 0.5,-0.9 3,-0.9 1.4,-2 -0.6,-0.3 -0.6,-1.2 -0.9,0 -0.8,0.7 -0.7,0 -0.8,-0.7 -0.8,0 -0.7,-0.8 -0.8,0 -0.6,0 0.3,1.6 -0.4,0.8 0,-3.1 -1.6,-0.1 -0.7,-0.8 -1.4,0.1 -1.7,1.2 -1.5,-1 -1.5,-0.1 -0.6,-0.8 0.5,-1.6 -0.3,-0.7 -1.1,0 -1,-0.8 -0.1,-0.7 1.1,-1 3.8,-0.7 1.5,-1.2 -0.8,-1 -0.7,0.1 -2.3,-1.6 -0.8,0 -2.2,-2.2 0.1,-1.6 2.2,-2.2 0,-0.8 -1.4,-1.5 1.5,-1.5 0,-0.8 3.7,-3.8 0,-1.5 -3.1,-3.2 -0.8,0 -0.7,-0.7 -4.6,0 -0.7,0.8 -2.3,0.7 -2.3,-1.5 -0.8,0 -2.2,-1.5 -0.8,0 -2.3,-2.3 -2.3,0zM442.7,89.6l-0.5,0.4 0.5,0.8 0.5,-0.8zM466.9,88.5l0.1,2.5 -1.6,-2.5zM435.1,87.8l-1.7,0.7 -0.4,0.8 0.6,0.6 2.2,-1.4zM469.8,87.7l0.3,0.8 -0.8,0.2 -0.7,-1zM393.3,80.6l-0.8,0.2 -0.3,0.9 0.3,2.2 1.4,2.3 -0.8,1.5 1.7,0.2 2.3,-1.6 0.8,0.2 0.7,-0.3 0.4,-1.5 1.1,-0.5 1.6,1.3 0,-0.8 -1.8,-2.3 -1.1,-0.7 -1.7,-0.5 -1.5,0.8 -0.8,0zM435.9,87.5l-0.7,0.2 0.7,0.8 0.4,-0.8zM444.2,84.3l-2.3,0.4 -0.7,0.8 0.1,0.7 1.4,1.1 1.5,0.1 0.8,0.6 1.9,-1 -0.4,-0.8 -1.5,-0.7zM459.8,86.2l-0.2,1.5 -0.9,0.5 -0.4,-2zM413.8,84.2l-1.2,0.5 -0.9,1.5 0.6,0.2 2.4,-0.9zM408.5,84.5l-0.8,0.1 -0.1,0.9 0.5,0zM435.1,81.6l-1.5,0.5 -0.6,1.1 0.6,1 2.3,1.3 0.8,-0.8 -0.1,-0.7 -1.5,-0.5zM474.2,80.1l-0.3,4.5 -0.8,-0.4 0,-1.4 0.5,-1.1 -0.5,-0.5 -0.1,-1.1 0.9,-0.7zM407.0,80.2l-0.8,0.3 -1,1.2 -0.1,0.7 1.1,1.2 0.6,-0.4 -0.2,-1.5 1,-0.8zM378.9,81.6l-0.8,0.1 1.5,1.4 0.5,-0.7zM388.0,75.6l-3.1,0 0.7,3 -1,1.5 1.1,1.8 1.8,-1.8 0,-2.2 0.6,-1.6zM443.5,80.9l-1.2,0 0.4,1 0.8,-0.2zM451.1,75.6l-0.8,0.7 0.4,1.6 -0.4,1.5 -1.5,0.4 -0.7,1.1 1.4,1.5 0.8,-0.1 1.5,-1.4 3.8,-1.4 -1.2,-1.6 -0.3,-1.6 -1.5,0.9 -0.8,-0.5 -0.3,-1.1zM423.2,77.9l0.4,0.7 -0.4,0.8 -1,0 -0.3,-0.8 0.3,-0.9zM396.3,74.7l-1.5,0.1 -1.8,2.3 0.4,0.8 2.2,0.7 1.5,0.1 1.2,-1.6 -0.1,-0.8zM467.8,77.9l0.1,0.7 -0.9,0.6 -0.5,-1.3zM400.1,73.8l-0.9,0.3 -0.2,0.7 0.3,0.8 -0.4,0.7 0.4,0.8 1.6,0.6 1.6,-0.6 0.7,-1.5zM412.5,75.6l1.1,0.7 0,0.8 -2.1,-0.8 0,-0.8zM482.9,74.8l1.2,1.5 -3.4,-0.1 -0.8,-0.4 -2.2,0.1 -0.5,-0.3 1.2,-0.8 0.8,0.5 0.7,0 0.8,-0.8 0.8,-0.1zM401.2,75.6l-0.3,0.3 -1.4,-0.3 1.4,-0.4zM391.0,72.5l-0.7,0 -0.8,0.8 -0.8,0.8 0,0.7 2.9,-1.5zM422.9,70.7l-0.6,1.8 0.6,1 0.1,-1.7 0.7,-0.8zM408.6,62.7l0,1.5 -1.1,0.7 0.1,-2.2z"/>
<path fill="#ffa31a" fill-rule="evenodd" d="M394.8,100.9l-1,0.5 -1,1.5 -0.1,1.6 1.2,1.5 0.3,3 1.1,2.3 0.3,2.3 1.1,1.5 0.5,3 1.3,2.3 1.8,7.6 1.3,1.5 0.4,1.6 1,1.5 -0.6,2.3 1,1.5 0.5,2.3 3,4.5 0.2,0.8 -0.4,0.7 0.3,0.8 0.7,0.4 1.4,1.9 -0.2,0.7 -0.8,0.8 -0.4,2.3 1.6,1.8 2.2,0 2.3,-1.8 0.2,-0.8 -0.2,-0.3 -1.5,0.2 -0.5,-0.6 0,-1.6 -1.1,-2.2 -0.1,-2.3 -1.2,-2.3 -1.7,-6.1 -1.7,-3.8 -0.8,-3 -1.3,-2.3 -0.2,-1.5 -1.6,-4.6 -0.2,-2.3 -2.7,-4.5 -0.9,-3.8 -2.7,-3.1 0.3,-3zM403.9,142.0l-0.6,1.2 0.6,1.1 0.8,0zM391.0,94.4l-0.6,0.2 -0.1,0.7 1.3,1.6 -0.2,2.2 1.1,1.1 1,-2.6 -1.3,-2.3zM472.3,90.7l-1,0.1 -0.3,0.7 0.6,1.3 0.7,0.3 0.7,-0.8zM390.3,89.9l-2,0.9 1.2,0.8 0.8,-0.4 0.6,-1.2zM476.9,89.2l-1.5,-0.1 -0.8,0.9 0.1,0.8 0.7,0.7 0.7,0 0.1,-0.7 0.7,-0.8zM456.4,86.5l-0.9,0.5 0.9,0.8 0.6,-0.1 -0.1,-0.7zM464.0,78.5l-0.8,-0.5 -1.5,1.4 -0.8,0 1.5,2.3 -2.2,1.4 -1.8,0.1 -1,0.7 0.2,0.8 1.1,0.4 1.5,-0.3 1.5,2.2 1.5,0.5 3.1,-0.3 2.2,-0.8 2.3,0.8 1.4,-0.2 -0.6,-3.8 -1.6,0 -3,-2.3 -1.5,-1.8zM476.1,86.7l0,1 0.6,-0.7zM417.6,86.1l-0.9,0.1 0.2,0.3zM422.9,82.7l-0.7,0.4 -1.1,1.6 0.3,0.8 0.8,0.2 1,-1 0.4,-0.8zM455.6,83.7l-0.9,0.2 0.2,0.9 0.9,-0.1 0.1,-0.8zM421.4,75.8l-2.3,-0.1 -1,0.6 -0.2,0.8 0.3,2.3 1.6,2.3 0,0.7 -0.8,0.8 -0.3,0.7 0.4,0.6 1,-0.6 -0.1,-1.5 5.2,-1 2.2,-1.3 -1.4,-2.1 -0.8,0.4 -2.3,2.3 -0.7,-0.3 -0.8,-1.2 0.5,-2.1 0,-0.8zM428.3,82.3l-0.8,-0.5 -0.7,0.6 0.1,0.8 1.4,0.3 0.6,-0.3zM479.9,77.0l-3,0.3 -1.5,2.5 0,2.1 2.3,0.4 3,-0.9 0.8,0.3 0,-1.6 -0.9,-0.7 0.1,-1.5zM410.0,79.3l-0.7,0.8 0.2,0.8 0.5,0.2 0.6,-0.2 0.1,-0.8zM413.1,77.9l-1.4,0 0.6,1.9 0.8,0.4 1.9,-0.8 -0.4,-0.9zM432.8,78.4l-1.5,-0.3 -1.9,1.3 0.1,0.7 1,0.4 2.5,-0.4 0.7,-0.7zM426.0,74.8l-0.6,0 -0.9,1.4 -0.8,0.4 0,0.8 0.8,0.3 0.7,-1.3 0.8,0.4 0.7,-0.2 0.4,-1zM486.8,75.6l-0.4,0 -0.1,0.7 0.5,0.8 0.7,0 0.1,-0.8zM417.6,72.3l-0.7,-0.5 -2.7,3 0.9,1.5 2.5,-0.9 0.8,-0.9 0.4,-1.2 -0.4,-0.7zM412.3,72.8l-0.9,1.3 1.7,0.4 0,-1zM476.9,70.3l-0.8,0.7 -0.8,0 -0.7,2.4 2.3,0.9 2.3,-0.7 0.4,-1.1 -0.4,-0.3 -0.8,0.4 -0.7,-0.2zM482.2,71.0l-1.5,0.8 -0.3,0.7 0.9,0.8 3.2,1 0.3,-0.2 -0.3,-0.8zM406.2,62.1l-3.8,0.5 -0.5,0.8 -1.8,0.4 -0.7,0.5 -0.8,-0.3 -1,-1.3 -0.5,0 0,0.7 0.8,0.8 0,0.7 -0.8,0.8 0.8,0.8 0.7,0.5 0.8,-1.1 0.7,-0.3 2.3,0.9 -3,2.1 -2.3,-0.2 -0.8,0.3 0,1.2 1.6,-0.4 0.7,0.1 0.8,0.9 2.3,0 2.1,1.3 0.1,0.6 1,-0.6 2.8,-4.2 1,1.1 0.2,3.1 1.1,0.5 1.5,0.1 0.8,-0.1 0.8,-1.1 0.7,0.2 1.9,-0.4 1.2,-1.7 3.1,-1.3 0.3,-0.8 -0.6,-2.3 -0.6,0 -1.5,-1.2 -0.7,0 -0.8,0.9 -3.8,2.3 -1.5,-0.4 -0.8,-1.2 -0.7,-0.1 -1.6,1.1 -2.2,-0.5 0.8,-1.6zM399.4,40.6l-0.7,0 -0.8,1 -3.1,-0.2 -0.7,0.7 -1.6,0 -2.3,2.3 0,2.3 2.3,2.3 0.8,0 1.5,1.5 -2.3,2.3 0.8,0.7 0,1.6 0.7,0.7 0,1.5 3.1,3.1 0.9,0 0.9,-1.5 -1.1,-1.6 0.1,-2.2 -1.2,-3.1 0.4,-0.7 1.5,-1 1.5,0.1 0.3,0.9 -0.3,0.7 0.8,0.8 0.3,-1.5 1.2,-1.1 0.8,-0.1 0.6,0.4 0.4,3 -1,0.7 -1.5,-0.9 -0.7,1.8 0.1,2.2 -0.8,1.6 0.6,0.4 0.9,-1.2 3.4,-1.5 1.8,0.3 1,1.2 -1.3,2.3 0,0.7 1.8,-0.1 1.5,-1.4 1.2,0.8 -1.6,2.3 0.4,2 1.5,0 0.1,-1.3 0.7,-1 2.3,-0.5 2.3,0.7 0,-1.5 2.3,-2.2 0,-0.8 -1.5,-1.5 1.5,-1.5 0,-0.8 3.8,-3.8 0,-1.5 -3.1,-3.1 -0.8,0 -0.7,-0.8 -4.6,0 -0.7,0.8 -2.3,0.8 -2.3,-1.6 -0.8,0 -2.2,-1.5 -0.8,0 -2.3,-2.2 -2.3,0z"/>
<path fill="#ff401a" fill-rule="evenodd" d="M397.9,112.7l-0.8,-0.6 -0.5,1.5 0.9,3 1.5,3.1 0.4,3.1 2,5.2 2.2,3.8 0,2.3 1.8,4.6 1.6,3 1.5,1.9 -0.5,-4.2 -1.8,-5.3 -1.3,-2.3 -0.2,-2.3 -1.4,-3 -2.4,-8.4 -1.4,-3zM396.3,109.4l-0.3,0.4 0.3,1.1 0.3,-1.1zM467.0,82.3l-0.7,-0.3 -3.9,1.2 -0.9,0.7 0.2,1.6 0.8,0.7 3,0.3 3.8,-1.3 0.5,-0.5zM420.7,77.0l-1,0.1 -0.7,0.8 0.5,1.5 1.2,0.9zM478.4,78.5l-0.7,1.8 0.7,-0.2zM416.9,73.2l-0.6,0.9 0.6,0.3 0.6,-0.3 -0.1,-0.8zM483.0,71.8l-0.6,0 -0.2,0.7 1.5,0.8 0.1,-0.8zM411.5,68.1l-0.7,0.1 -0.6,0.5 0.1,2.3 0.9,0 -0.1,-1.5 1.2,-0.8zM415.3,69.3l-1.5,-0.3 -0.4,0.5 0.4,0.8 0.8,0.2 0.6,-0.2zM405.5,67.3l-1.5,0.7 0.7,0.7 1,0 0.3,-0.7zM418.4,65.2l-0.6,0.5 0.6,1.2 0.5,-0.4 0,-0.8zM418.4,45.2l-4.3,0 0.3,1.5 -0.6,0.7 -2.3,0.6 -1.5,-0.8 -0.7,1.8 -0.2,2.3 -2.8,3 1.4,0.6 1.7,2.4 2.9,1.9 2.6,0.4 0.4,0.4 0.8,-0.4 0.8,0.5 0.7,-0.1 1.5,-1.9 -1.4,-1.5 1.5,-1.5 0,-0.8 3.5,-3.8 -0.5,-1.5 -1.3,-0.8 -0.2,-1.5zM394.8,56.5l-0.7,0 -0.1,0.8 1.6,0.4 0.3,-0.4 -0.3,-0.7zM394.1,42.1l-1.6,0 -2.2,4.3 2.2,2.4 1.6,-0.3 2.2,0.5 3.8,-0.7 1.6,0.3 1.5,-0.2 3.8,0.8 1.5,-2.1 1.4,-1.2 -0.6,0 -0.8,-0.7 -0.8,0 -0.7,-0.8 -1.5,-0.5 -0.8,0.4 -1.5,-1.4 -0.8,-0.2 -2.3,0.6 -3,-0.4 -1.5,0.2z"/>
</g>
<path d="M402.2,60.8 404.3,58.5 407.7,57.3 411.2,58.5 413.8,60.0 M404.3,60.0 404.3,62.3 405.8,64.6 407.7,66.1 409.3,67.6 410.8,68.0 M410.8,68.0 411.5,66.1 413.4,64.9 415.3,64.4 M396.7,69.5 399.4,69.9 401.7,71.0 404.3,70.3 405.8,69.1 408.1,67.6 407.7,66.1 M399.4,69.9 399.0,71.8 402.0,73.7 402.8,76.0 405.1,77.1 407.7,78.2 409.6,77.5 M410.8,68.0 409.3,70.6 408.9,73.3 410.0,76.0 409.6,77.5 M410.8,68.0 411.9,69.9 413.8,71.0 415.7,72.5 418.0,73.7 420.3,73.7 M409.6,77.5 410.8,80.5 413.4,81.7 410.0,83.9 407.7,86.2 408.1,88.5 405.5,90.0 403.9,91.5 401.7,90.0 400.1,91.5 399.0,94.2 398.2,95.7 M398.2,95.7 395.6,94.2 394.1,91.5 391.8,90.2 389.5,90.0 386.1,89.8 M402.8,75.6 400.5,77.9 401.3,80.1 399.4,82.4 397.9,84.7 396.0,86.2 394.4,88.1 391.8,90.2 M413.4,81.7 416.5,83.9 414.6,86.6 413.4,90.4 415.7,90.8 416.9,88.1 421.0,88.5 424.8,88.1 428.3,89.6 430.5,92.3 432.6,91.9 M421.0,74.8 419.1,78.6 418.0,81.7 417.6,84.7 417.2,88.1 M434.7,79.4 435.9,82.8 436.6,85.5 433.6,87.4 432.6,90.4 432.6,91.9 M432.6,90.4 436.2,90.4 438.9,90.8 441.6,89.3 444.6,90.0 446.9,88.9 449.5,87.7 M450.7,83.0 449.9,84.7 450.3,86.2 449.5,87.7 M449.5,87.7 448.0,91.5 445.0,93.4 442.3,95.0 444.2,97.2 446.1,99.1 M446.1,99.1 447.3,100.3 448.4,101.4 M449.5,87.7 451.1,89.6 M446.1,99.1 442.7,98.4 440.4,99.5 438.9,99.1 436.6,98.4 435.1,98.0 M435.1,98.0 433.6,96.1 435.1,94.2 434.0,93.1 432.6,91.9 M435.1,98.0 432.8,101.4 429.8,104.1 429.0,107.5 427.5,109.0 427.5,112.1 425.2,115.5 M425.2,115.5 428.6,114.0 432.1,112.4 435.1,111.3 437.9,110.9 M430.5,92.3 427.5,93.1 426.0,94.6 426.4,96.5 423.7,98.4 422.9,101.0 422.4,102.6 M422.4,102.6 419.9,101.4 417.2,101.0 413.8,101.8 410.8,102.2 407.4,102.6 405.1,102.2 401.7,102.2 399.0,101.0 398.2,99.9 M398.2,99.9 397.5,98.0 398.2,95.7 M413.4,90.4 413.1,93.1 414.6,95.3 413.4,98.0 413.8,101.8 M422.4,102.6 421.8,105.2 422.2,106.7 421.4,108.6 422.9,110.2 421.2,112.8 M421.2,112.8 422.9,114.3 423.7,115.9 425.2,115.5 M421.2,112.8 419.5,111.7 419.5,109.8 416.9,109.4 415.3,108.6 413.4,109.8 411.5,111.3 411.9,113.2 410.4,114.0 M410.4,114.0 408.1,116.2 405.8,117.8 403.6,117.4 403.2,119.3 400.5,119.7 398.6,120.8 398.2,122.7 397.5,123.8 M397.5,123.8 398.2,125.7 397.5,126.9 M394.8,106.7 395.6,109.4 395.2,112.1 395.6,115.1 396.3,118.1 396.7,120.8 397.5,123.8 M392.4,106.9 394.8,106.7 396.7,104.8 396.3,102.9 398.2,101.8 396.7,101.0 398.2,99.9 M404.7,105.2 400.9,106.4 399.8,108.3 401.7,110.2 401.7,112.4 403.9,114.3 405.8,115.9 406.2,117.4 M404.7,105.2 406.6,106.7 409.3,107.9 409.6,109.0 411.9,108.3 413.4,109.8 M404.7,105.2 405.5,103.7 405.1,102.2 M423.7,115.9 421.8,118.1 419.9,119.3 417.6,120.4 416.9,121.9 414.2,122.7 412.3,123.1 410.0,123.1 M410.0,123.1 409.6,121.2 410.4,118.9 410.0,116.6 410.4,114.0 M416.1,122.3 415.7,125.4 416.9,127.3 417.6,129.5 418.4,131.1 419.9,132.2 M410.0,123.1 408.5,125.7 407.7,127.6 408.5,129.2 410.0,130.3 410.4,131.4 412.3,132.2 413.8,133.0 413.2,135.1 M413.2,135.1 414.6,134.5 416.9,133.7 418.8,133.0 421.0,132.2 M413.2,135.1 411.5,135.6 410.8,137.1 409.3,138.7 408.1,138.7 406.2,139.4 M406.2,139.4 407.4,140.9 407.7,142.8 408.1,144.4 409.3,144.7 409.6,147.0 409.3,149.3 409.6,151.2 408.9,152.0 M406.2,139.4 404.7,138.3 402.8,136.8 401.7,135.6 400.5,135.1 M398.2,125.7 399.8,128.4 400.5,131.1 401.7,133.3 402.4,135.6 402.8,136.8 M399.8,128.4 402.8,128.4 404.7,126.9 406.2,126.5 407.7,127.6 M391.0,98.8 389.5,97.2 388.7,95.3 386.5,93.8 386.1,92.3 386.1,89.8 M465.9,81.5 469.3,80.9 473.1,79.4 476.9,77.9 479.2,77.5 480.3,78.6 479.6,79.8 478.4,80.3 477.7,81.3 M477.7,81.3 474.2,83.2 471.6,85.8 470.8,88.5 469.3,90.4 466.6,91.2 465.9,90.8 M457.3,84.7 457.3,82.0" fill="none" stroke="#000" stroke-width="0.5" stroke-linejoin="round" opacity="0.9"/>
<path d="M374.9,93.6 376.6,91.5 378.1,91.2 381.9,91.5 384.2,90.8 386.1,89.8 385.3,87.7 384.4,85.8 382.3,85.1 382.3,82.6 380.0,81.7 380.4,79.8 383.2,77.1 385.7,77.7 389.1,77.3 391.0,74.1 393.3,72.5 394.8,69.7 397.1,68.4 399.6,65.3 399.2,62.7 402.0,60.8 399.8,59.6 397.5,58.5 396.0,57.3 395.4,54.7 394.8,52.8 397.5,50.1 394.4,48.2 391.8,46.3 392.2,44.4 395.6,43.3 399.0,42.7 402.4,43.5 404.7,45.2 408.1,47.1 411.5,48.6 413.8,47.1 417.2,46.7 421.0,48.6 421.0,50.9 418.4,52.8 416.1,56.6 417.8,59.2 415.0,59.6 413.8,60.8 415.3,62.3 415.1,64.2 417.2,65.3 420.3,67.2 423.7,68.7 421.8,70.3 420.3,73.7 422.2,74.8 424.8,76.5 427.5,77.5 430.2,78.6 432.4,79.6 435.5,79.0 437.6,80.1 439.7,81.7 441.9,82.4 445.4,83.0 447.6,83.2 450.7,83.0 450.9,80.9 450.5,77.5 453.0,76.7 453.7,79.0 453.3,80.5 454.1,81.5 457.1,82.0 459.4,81.5 462.5,81.7 465.9,81.5 464.6,79.4 464.0,77.9 466.6,77.9 468.9,76.3 471.6,74.4 474.2,72.9 476.9,72.5 479.6,72.2 481.8,71.8 483.0,74.1 485.8,76.2 484.9,77.9 484.1,79.4 485.1,80.5 481.5,80.0 478.8,81.7 477.3,83.2 477.3,84.7 475.4,87.0 475.8,88.5 473.9,92.3 471.2,92.3 470.6,95.0 470.1,98.8 468.9,99.9 467.8,99.9 466.8,96.5 466.6,93.4 465.3,93.4 464.0,96.3 462.6,94.6 462.5,92.3 464.0,91.9 465.9,90.8 467.2,88.5 462.8,87.7 459.4,87.7 457.3,87.4 457.1,84.7 454.9,84.3 453.0,83.2 451.8,82.4 450.9,85.5 453.7,87.4 451.8,88.9 450.7,90.0 453.1,91.5 453.0,95.0 453.9,96.5 454.3,99.5 454.5,101.2 452.6,101.4 450.7,101.2 449.5,101.0 447.3,101.6 445.9,103.7 446.1,104.8 444.6,106.7 443.5,107.9 440.8,108.6 439.3,109.8 438.1,110.9 435.5,114.0 433.2,115.9 429.0,118.9 428.6,120.4 426.4,121.4 424.5,122.7 422.9,123.5 421.0,124.2 420.1,126.5 420.5,130.3 421.0,133.0 420.9,135.6 419.3,138.7 419.3,144.0 417.2,144.4 416.1,146.6 415.9,148.2 413.1,149.7 412.3,151.6 410.6,152.8 408.9,152.0 406.8,149.7 405.8,147.0 405.5,144.7 404.3,142.1 403.2,139.4 401.7,137.1 400.3,134.5 399.4,131.1 398.4,128.0 397.1,125.7 396.0,123.5 394.8,120.8 394.1,117.4 393.1,113.6 392.5,111.3 392.2,108.3 392.4,106.0 392.9,103.7 391.8,101.4 392.5,99.1 390.3,99.9 390.3,102.6 387.6,104.1 385.3,104.8 382.7,103.7 379.6,101.0 377.9,98.8 379.2,98.4 381.9,97.6 383.4,96.1 381.1,96.7 378.9,96.9 376.6,95.3Z" fill="none" stroke="#111" stroke-width="0.6" stroke-linejoin="round"/>
<path d="M452.0,98.0 454.6,98.0 454.7,101.6 451.1,101.6Z" fill="#0a0a0a"/>
<circle cx="375.6" cy="93.5" r="0.8" fill="#111"/>
<path d="M468.9,131.8 469.7,133.3 469.3,136.4 469.1,139.4 468.2,139.8 467.8,137.1 468.4,134.1Z" fill="#262b12" stroke="#111" stroke-width="0.5"/>
<path d="M467.0,142.1 467.8,142.8 467.6,143.6 466.8,143.2Z" fill="#262b12" stroke="#111" stroke-width="0.5"/>
<path d="M468.2,148.4 468.7,148.7 468.4,149.1Z" fill="#222" stroke="#111" stroke-width="0.4"/>
<path d="M470.8,152.0 471.6,152.7 471.2,153.5 470.4,153.1Z" fill="#222" stroke="#111" stroke-width="0.4"/>
<path d="M472.0,155.8 472.9,156.9 472.5,157.9 471.8,157.1Z" fill="#222" stroke="#111" stroke-width="0.4"/>
<path d="M470.4,155.4 471.0,155.8 470.6,156.1Z" fill="#222" stroke="#111" stroke-width="0.4"/>
<circle cx="390.3" cy="139.0" r="0.4" fill="#3a3a3a"/>
<circle cx="392.2" cy="140.9" r="0.4" fill="#3a3a3a"/>
<circle cx="392.0" cy="143.2" r="0.4" fill="#3a3a3a"/>
<circle cx="393.3" cy="145.1" r="0.4" fill="#3a3a3a"/>
<circle cx="390.6" cy="142.1" r="0.4" fill="#3a3a3a"/>
<circle cx="395.8" cy="145.3" r="0.4" fill="#3a3a3a"/>
<circle cx="390.3" cy="142.3" r="0.4" fill="#3a3a3a"/>
<circle cx="393.5" cy="152.0" r="0.4" fill="#3a3a3a"/>
<circle cx="392.4" cy="139.8" r="0.4" fill="#3a3a3a"/>
<circle cx="389.1" cy="138.3" r="0.4" fill="#3a3a3a"/>
<circle cx="397.1" cy="140.9" r="0.4" fill="#3a3a3a"/>
<circle cx="395.2" cy="138.3" r="0.4" fill="#3a3a3a"/>
</g>
<rect x="374.3" y="35.4" width="112.2" height="130.0" fill="none" stroke="#a9a9a9" stroke-width="0.7"/>
<text class="t" x="444.1" y="42.4" font-size="6.5" text-anchor="middle">IMD-GPM</text>
<text class="k" x="389.5" y="34.5">72°E</text>
<text class="k" x="389.5" y="168.8">72°E</text>
<text class="k" x="412.3" y="34.5">78°E</text>
<text class="k" x="412.3" y="168.8">78°E</text>
<text class="k" x="435.1" y="34.5">84°E</text>
<text class="k" x="435.1" y="168.8">84°E</text>
<text class="k" x="457.9" y="34.5">90°E</text>
<text class="k" x="457.9" y="168.8">90°E</text>
<text class="k" x="480.7" y="34.5">96°E</text>
<text class="k" x="480.7" y="168.8">96°E</text>
<text class="k" transform="translate(373.5,46.7) rotate(-90)">36°N</text>
<text class="k" transform="translate(489.6,46.7) rotate(-90)">36°N</text>
<text class="k" transform="translate(373.5,69.5) rotate(-90)">30°N</text>
<text class="k" transform="translate(489.6,69.5) rotate(-90)">30°N</text>
<text class="k" transform="translate(373.5,92.3) rotate(-90)">24°N</text>
<text class="k" transform="translate(489.6,92.3) rotate(-90)">24°N</text>
<text class="k" transform="translate(373.5,115.1) rotate(-90)">18°N</text>
<text class="k" transform="translate(489.6,115.1) rotate(-90)">18°N</text>
<text class="k" transform="translate(373.5,137.9) rotate(-90)">12°N</text>
<text class="k" transform="translate(489.6,137.9) rotate(-90)">12°N</text>
<text class="k" transform="translate(373.5,160.7) rotate(-90)">6°N</text>
<text class="k" transform="translate(489.6,160.7) rotate(-90)">6°N</text>
</g>
<g>
<clipPath id="f4"><rect x="64.4" y="187.4" width="112.2" height="130.0"/></clipPath>
<clipPath id="c4"><path d="M64.2,245.9 65.9,243.8 67.4,243.4 71.3,243.8 73.6,243.1 75.5,242.1 74.7,240.0 73.7,238.1 71.6,237.3 71.6,234.8 69.4,233.9 69.7,232.0 72.6,229.3 75.1,229.9 78.5,229.5 80.4,226.2 82.7,224.7 84.2,221.9 86.5,220.5 89.0,217.5 88.6,214.8 91.5,212.9 89.2,211.7 86.9,210.6 85.4,209.4 84.8,206.8 84.2,204.9 86.9,202.2 83.9,200.3 81.2,198.4 81.6,196.5 85.0,195.3 88.5,194.7 91.9,195.5 94.2,197.2 97.6,199.1 101.1,200.7 103.3,199.1 106.8,198.7 110.6,200.7 110.6,202.9 107.9,204.9 105.6,208.7 107.4,211.4 104.5,211.7 103.3,212.9 104.9,214.4 104.7,216.3 106.8,217.5 109.8,219.4 113.3,220.9 111.4,222.4 109.8,225.9 111.8,227.0 114.4,228.7 117.1,229.7 119.8,230.8 122.1,231.8 125.1,231.2 127.2,232.4 129.3,233.9 131.6,234.7 135.1,235.2 137.3,235.4 140.4,235.2 140.6,233.1 140.2,229.7 142.7,228.9 143.5,231.2 143.1,232.7 143.8,233.7 146.9,234.3 149.2,233.7 152.2,233.9 155.7,233.7 154.3,231.6 153.8,230.1 156.4,230.1 158.7,228.5 161.4,226.6 164.1,225.1 166.8,224.7 169.4,224.3 171.7,224.0 172.9,226.2 175.7,228.4 174.8,230.1 174.0,231.6 175.0,232.7 171.3,232.2 168.7,233.9 167.1,235.4 167.1,236.9 165.2,239.2 165.6,240.8 163.7,244.6 161.0,244.6 160.5,247.3 159.9,251.1 158.7,252.2 157.6,252.2 156.6,248.8 156.4,245.7 155.1,245.7 153.8,248.6 152.4,246.9 152.2,244.6 153.8,244.2 155.7,243.1 157.0,240.8 152.6,240.0 149.2,240.0 147.1,239.6 146.9,236.9 144.6,236.6 142.7,235.4 141.5,234.7 140.6,237.7 143.5,239.6 141.5,241.1 140.4,242.3 142.9,243.8 142.7,247.3 143.6,248.8 144.0,251.8 144.2,253.6 142.3,253.8 140.4,253.6 139.3,253.4 137.0,253.9 135.6,256.0 135.8,257.2 134.3,259.1 133.1,260.2 130.5,261.0 128.9,262.2 127.8,263.3 125.1,266.4 122.8,268.3 118.6,271.3 118.2,272.9 116.0,273.8 114.0,275.1 112.5,275.9 110.6,276.7 109.7,279.0 110.0,282.8 110.6,285.5 110.4,288.1 108.9,291.2 108.9,296.5 106.8,296.9 105.6,299.2 105.4,300.7 102.6,302.3 101.8,304.2 100.1,305.4 98.4,304.6 96.3,302.3 95.3,299.6 94.9,297.3 93.8,294.6 92.7,292.0 91.1,289.7 89.8,287.0 88.8,283.5 87.9,280.5 86.5,278.2 85.4,275.9 84.2,273.2 83.5,269.8 82.5,266.0 82.0,263.7 81.6,260.6 81.8,258.3 82.3,256.0 81.2,253.8 82.0,251.5 79.7,252.2 79.7,254.9 77.0,256.4 74.7,257.2 72.0,256.0 69.0,253.4 67.2,251.1 68.6,250.7 71.3,249.9 72.8,248.4 70.5,249.0 68.2,249.2 65.9,247.6Z"/></clipPath>
<g clip-path="url(#f4)">
<g clip-path="url(#c4)">
<path d="M64.2,245.9 65.9,243.8 67.4,243.4 71.3,243.8 73.6,243.1 75.5,242.1 74.7,240.0 73.7,238.1 71.6,237.3 71.6,234.8 69.4,233.9 69.7,232.0 72.6,229.3 75.1,229.9 78.5,229.5 80.4,226.2 82.7,224.7 84.2,221.9 86.5,220.5 89.0,217.5 88.6,214.8 91.5,212.9 89.2,211.7 86.9,210.6 85.4,209.4 84.8,206.8 84.2,204.9 86.9,202.2 83.9,200.3 81.2,198.4 81.6,196.5 85.0,195.3 88.5,194.7 91.9,195.5 94.2,197.2 97.6,199.1 101.1,200.7 103.3,199.1 106.8,198.7 110.6,200.7 110.6,202.9 107.9,204.9 105.6,208.7 107.4,211.4 104.5,211.7 103.3,212.9 104.9,214.4 104.7,216.3 106.8,217.5 109.8,219.4 113.3,220.9 111.4,222.4 109.8,225.9 111.8,227.0 114.4,228.7 117.1,229.7 119.8,230.8 122.1,231.8 125.1,231.2 127.2,232.4 129.3,233.9 131.6,234.7 135.1,235.2 137.3,235.4 140.4,235.2 140.6,233.1 140.2,229.7 142.7,228.9 143.5,231.2 143.1,232.7 143.8,233.7 146.9,234.3 149.2,233.7 152.2,233.9 155.7,233.7 154.3,231.6 153.8,230.1 156.4,230.1 158.7,228.5 161.4,226.6 164.1,225.1 166.8,224.7 169.4,224.3 171.7,224.0 172.9,226.2 175.7,228.4 174.8,230.1 174.0,231.6 175.0,232.7 171.3,232.2 168.7,233.9 167.1,235.4 167.1,236.9 165.2,239.2 165.6,240.8 163.7,244.6 161.0,244.6 160.5,247.3 159.9,251.1 158.7,252.2 157.6,252.2 156.6,248.8 156.4,245.7 155.1,245.7 153.8,248.6 152.4,246.9 152.2,244.6 153.8,244.2 155.7,243.1 157.0,240.8 152.6,240.0 149.2,240.0 147.1,239.6 146.9,236.9 144.6,236.6 142.7,235.4 141.5,234.7 140.6,237.7 143.5,239.6 141.5,241.1 140.4,242.3 142.9,243.8 142.7,247.3 143.6,248.8 144.0,251.8 144.2,253.6 142.3,253.8 140.4,253.6 139.3,253.4 137.0,253.9 135.6,256.0 135.8,257.2 134.3,259.1 133.1,260.2 130.5,261.0 128.9,262.2 127.8,263.3 125.1,266.4 122.8,268.3 118.6,271.3 118.2,272.9 116.0,273.8 114.0,275.1 112.5,275.9 110.6,276.7 109.7,279.0 110.0,282.8 110.6,285.5 110.4,288.1 108.9,291.2 108.9,296.5 106.8,296.9 105.6,299.2 105.4,300.7 102.6,302.3 101.8,304.2 100.1,305.4 98.4,304.6 96.3,302.3 95.3,299.6 94.9,297.3 93.8,294.6 92.7,292.0 91.1,289.7 89.8,287.0 88.8,283.5 87.9,280.5 86.5,278.2 85.4,275.9 84.2,273.2 83.5,269.8 82.5,266.0 82.0,263.7 81.6,260.6 81.8,258.3 82.3,256.0 81.2,253.8 82.0,251.5 79.7,252.2 79.7,254.9 77.0,256.4 74.7,257.2 72.0,256.0 69.0,253.4 67.2,251.1 68.6,250.7 71.3,249.9 72.8,248.4 70.5,249.0 68.2,249.2 65.9,247.6Z" fill="#0b7a0b"/>
<path fill="#4db31a" fill-rule="evenodd" d="M88.8,192.5l-0.7,0 -0.8,0.8 -3.1,0 -0.7,0.7 -1.5,0.1 -2.5,2.4 0.1,2.2 2.4,2.5 0.7,0 1.4,1.4 -2.2,2.3 0.7,0.7 0,1.5 0.8,0.8 0,1.5 3.1,3.2 0.8,0 0.7,0.7 -1.5,1.5 0,0.8 0.7,0.7 -0.7,2.3 -0.7,0.7 -0.8,0 -1.5,1.5 -1.6,1.6 0,0.8 -0.7,0.7 -0.8,0 -2.4,2.3 0,0.8 -0.6,0.7 -5.4,0 -4.7,4.7 0.1,1.5 2.2,2.3 0,0.7 3.1,3.1 0,0.8 -0.7,0.6 -5.3,0 -4.7,4.7 4.6,4.6 -0.7,0.8 -0.1,0.7 4.7,4.6 1.5,-0.5 1.2,0.5 -0.4,0.8 -0.8,0.3 0,0.5 1.6,0 0.7,0.8 0.8,0 0.7,-0.8 1.6,0 0.7,-0.8 0.8,0.1 0.7,0.6 0,5.4 0.7,0.7 0,2.3 0.8,0.8 0,2.3 0.8,0.8 -0.1,2.3 1.5,2.2 0.1,1.6 0.8,0.7 0,0.8 1.5,1.5 0,0.8 0.7,0.8 0,2.2 0.8,0.8 0,1.5 0.7,0.8 0,1.5 0.8,0.8 0.1,0.8 1.5,1.5 0,0.8 1.5,2.2 0,0.8 0.8,0.8 0,1.5 0.8,0.8 -0.1,2.3 0.8,0.7 0,0.8 5.4,5.4 0.8,0 7,-6.9 0,-0.8 0.6,-0.7 0.8,0 2.4,-2.4 -0.1,-6.1 1.6,-2.3 0,-3.8 -0.8,-0.8 0,-2.2 0,-3.1 0.7,-0.7 0.6,-0.1 -0.8,-1.5 0.2,-0.6 0.8,-0.2 1.2,0.8 0.3,0.8 0.8,-0.8 0.7,0 0.8,-0.7 0.6,-0.1 -0.3,-0.7 -1.8,-1.2 -0.1,-1.1 3.1,-0.5 1.6,-1.2 1.5,0.9 6.1,-6.1 -0.3,-1.5 0.3,-0.6 2.1,-0.9 1,-1.7 0.7,-0.2 0.4,0.3 -0.3,0.8 -1.1,0.8 0,0.7 1,0.1 0.8,-0.8 0.7,0 4.7,-4.6 -0.1,-1.6 0.8,-0.7 5.3,0 2.4,-2.3 0,-2.3 -0.8,-0.8 0,-1.5 -0.7,-0.8 0,-3.8 -1.6,-1.5 0,-0.8 2.3,-2.2 2.3,2.3 0.7,0 0.8,0.8 1.5,0 0.7,0.7 -1.6,1.5 0.8,0.7 0,1.6 0.8,0.7 0,0.8 2.4,2.3 0.7,-0.7 0.8,0.7 -0.1,1.5 2.4,2.4 0.8,0 3.9,-3.9 0,-3.1 3.8,-3.8 0.7,-2.3 0.8,-0.7 0,-0.8 -0.8,-0.8 4.5,-5.2 0.8,0 0.8,0.8 1.5,0 2.4,-2.4 -0.7,-0.8 0,-0.8 1.5,-1.5 0,-0.8 -6.3,-6.2 -4.5,0 -0.8,0.7 -2.3,0.1 -0.8,0.7 -0.7,0.1 -1.6,1.4 -0.7,0 -1.5,1.6 -0.8,0 -1.5,1.5 -1.6,0 -3,3.1 -3.1,0 -0.7,0.8 -1.6,0 -0.7,-0.7 0,-0.8 -0.7,-0.7 -0.1,-0.8 -2.5,-2.3 -0.6,0 -3.1,3.1 0,2.3 -0.7,0.7 -3.8,0 -2.3,0 -0.7,-0.8 -1.6,0 -2.3,-2.3 -0.7,0 -0.8,-0.8 -2.3,0 -0.8,0.8 -0.7,0 -2.3,-1.5 -0.8,0 -0.7,-0.8 -1.6,0 -0.7,-0.7 -1.6,0.3 -1.2,-1.1 -0.2,-2.2 0.7,-0.8 0,-0.8 1.6,-1.5 -2.4,-2.4 -0.7,0 -2.3,-1.5 -0.8,0 -2.2,-2.2 0,-1.5 2.3,-2.3 0,-0.8 -1.5,-1.5 1.6,-1.6 0,-0.7 3.8,-3.8 0,-1.6 -3.2,-3.2 -0.8,0 -0.8,-0.7 -4.6,0 -2.2,1.5 -0.8,0 -2.3,-1.5 -0.8,0 -2.3,-1.5 -0.7,0 -2.3,-2.3 -2.3,0zM106.8,274.4l2,0.7 1.2,1.6 -0.1,0.7 -0.9,0.8 -1.1,0 -0.7,-0.5 -1.7,-2.6 0.1,-1.3zM104.1,270.6l0,0.7 -2.3,2.5 -1.5,0.6 0,-2.3 0.4,-0.8 2.6,-1.2zM119.4,272.0l-0.5,1.6 0.5,0 0.8,-0.7 0,-0.7zM120.4,267.5l-0.2,1.2 -0.8,0.3 -0.6,-1.5 0.6,-0.5 0.8,0zM119.8,262.9l0.4,1.7 -1.9,-0.9 0,-0.8 0.3,-0.4zM102.6,262.2l0.2,0.7 -1,0.2 -0.4,-0.9zM105.0,262.9l-0.9,0.5 -0.6,-0.5 0.6,-0.7 0.8,0.2zM111.9,258.3l1.4,0.8 0.2,0.8 -1,2.8 -1.5,-0.5 -0.4,-0.8 0.1,-2.3zM99.7,255.3l1.4,1.8 0.7,0 1.5,-1.7 1,1.4 -1,1.3 -1.5,0.2 -0.7,1 -0.8,0.2 -2.2,-1.9 -0.2,-0.8 0.6,-1.5zM124.5,256.8l0.2,0.8 -0.4,0.7 -1.1,1 -0.4,-0.2 0.8,-2.3 0.4,-0.3zM116.3,254.5l0.4,0.8 -0.1,0.7 -1,0.8 -0.8,-0.2 -2.2,-2.1 1.4,-0.4zM137.8,253.8l-0.1,0.8 -0.7,0.7 -0.5,-0.8 0.1,-0.7 0.4,-0.5zM131.7,252.2l-1.6,2.6 -1.5,-0.3 -0.8,-0.7 1.5,-0.4 1.6,-1.3zM118.7,253.0l-0.1,0.8 -1,-0.8zM122.7,250.7l-0.3,1.2 -0.7,0.4 -1.9,-0.8 0.1,-0.8 1,-0.7 0.8,0zM96.2,243.8l-1.2,0.8 0.1,0.7 2.3,3.1 0,0.8 -0.2,0.3 -0.7,-0.1 -1.7,-1.8 0.7,3.9 -0.6,0.1 -3.5,-1.7 -0.6,-0.7 0.5,-1.6 -0.5,-1.5 1.9,-3 0.7,0.1 1.5,1.2 0.8,-1.2zM109.5,246.1l0.1,2.3 0.5,0.8 -0.3,0.7 -1.1,0 -1.5,-1.7 -0.6,1 0.3,1.5 -0.5,1 -1.5,-0.5 -1.6,0.6 -2.2,-0.1 -0.8,-0.6 -0.4,-3.5 0.4,-0.7 0.9,0 0.5,0.7 -0.6,0.8 0.7,0.6 4.6,-1.9 1.5,-1.7 0.8,0zM80.5,249.2l0.2,0.7 -1,0.7 -0.2,-0.7zM139.9,244.6l-0.1,1.5 -0.5,0.5 -0.8,0.3 -0.8,-0.5 0,-2.1 1.6,-0.3zM111.0,240.8l0.2,1.5 0.6,0.9 1.8,1.4 -0.3,0.4 -0.8,0.2 -3,-0.7 0,-1.8 0.7,-1.4zM99.4,238.5l1,1.5 -0.1,2.8 -1.9,-0.5 0.5,-1.5 -0.7,-2.3 0.6,-0.7zM135.8,240.0l-0.4,0.7 -0.8,-0.7zM137.2,236.9l2.4,0.8 0.2,2.3 -0.5,0.5 -0.8,-0.3 -1.4,-1.7 -0.2,-1.6zM97.4,235.4l0.6,0.9 -1.8,0.6 -0.5,1.6 -0.8,-0.3 -0.3,-0.5 0.3,-0.6zM103.3,233.9l2.3,0.3 0.1,2 -1.6,-0.2 -0.8,0.5 -0.7,0 -1.4,-1.8 0.1,-0.8 0.5,-0.4zM107.2,232.4l-0.8,0.4 -0.5,-0.4 0.5,-0.5zM128.0,232.4l-1.7,0.4 -0.2,-0.4 0.9,-0.7zM112.3,229.3l-0.1,0.8 -0.4,0.1 -0.8,-0.4 -0.2,-0.5 0.2,-0.4zM114.2,228.5l0.6,0.8 -0.8,0.7 -1.4,-0.7 1.4,-1z"/>
<path fill="#ffff19" fill-rule="evenodd" d="M88.8,192.6l-0.7,0 -0.8,0.8 -3.1,-0.1 -0.7,0.8 -1.5,0 -2.4,2.4 0,2.2 2.4,2.4 0.7,0 1.5,1.5 -2.3,2.3 0.8,0.7 0,1.5 0.7,0.8 0,1.5 3.1,3.1 2.3,0.6 1.6,-1.5 1.1,0.9 -0.1,0.8 -0.7,0.7 -4.2,1.3 0,0.3 0.8,0.7 0,1.3 1.1,1 4.1,2.3 -0.6,0.4 -1.5,0 -1.6,1.3 -0.7,0.1 -0.8,-2.3 -1.2,-1 -1.1,0 -3.1,3 0,0.8 -0.7,0.7 -0.8,0 -2.3,2.3 0,0.8 -0.7,0.8 -2.1,0 0.1,0.7 -0.3,0.2 -0.2,-0.9 -2.9,-0.1 -4.6,4.7 0,1.5 1.6,0.8 0.7,2.2 1.6,1.6 0.3,0 0.4,-1.1 0.8,-0.5 0.8,0.1 1,0.7 0.5,2.1 3,-0.8 0.8,-1.2 0.7,0.7 -0.5,0.7 0.6,1.8 0.7,0.6 1.6,-0.6 0.9,0.5 0.5,0.8 -1.2,3.8 -0.2,0.4 -0.8,-0.1 -1.1,-2.6 -2,-0.4 -0.7,-1.1 -2.3,-0.4 -0.8,-1.8 -1.5,0.2 -0.8,1.2 -5.3,0 -4.7,4.6 4.6,4.6 0.3,0.8 -1,0.2 0,0.5 2.3,2.3 1.5,-2 0.5,0.5 -0.1,1.5 0.4,0.6 1.5,0 2.7,0.9 0,0.8 -1.3,1.5 0.9,0.8 0.8,0 0.7,-0.8 1.6,0.1 0.7,-0.8 0.8,0 0.7,0.7 0.1,4.5 0.7,0.1 0,3.8 0.7,0.8 0.1,2.3 0.7,0.8 0,2.3 1.5,2.2 0,1.6 0.8,0.7 0,0.8 1.6,1.5 -0.1,0.8 0.8,0.8 0,2.2 0.7,0.8 0,1.5 0.8,0.8 0,1.5 0.8,0.8 0,0.8 0.8,0.2 0.7,1.3 0,0.8 0.8,0.7 0,0.8 0.8,0 0,1.5 0.7,0.8 0.8,2.3 0,2.3 0.8,1 1.6,0.5 0.8,0.7 -0.1,1.6 1.5,1.5 0.8,0.6 0.7,-0.6 1,0.8 0.6,0 6.1,-6.1 0,-0.8 0.7,-0.7 0.8,-0.1 0.3,-0.7 -1.3,-1.6 1,-0.9 1.5,1 0.8,-0.1 0,-2.5 -3.1,-1 -0.5,-0.3 -0.3,-0.7 0.8,-0.2 1.6,1.5 0.7,-1.3 0.5,-1.6 -0.2,-0.7 -2.2,-2.3 -0.2,-0.8 2.1,-2.6 1.6,0.1 0,-1.9 -1.6,-1.7 -0.7,-0.2 -0.8,1.5 -1.5,1.1 -0.6,-0.1 -1,-1.4 -1.5,0.3 -0.8,-0.3 -0.1,-0.9 0.6,-1.5 -0.5,-1.1 -0.7,-0.3 -0.8,0.1 -2.1,1.3 -1.7,0.3 -0.8,-0.8 -0.9,-2.6 0.2,-0.8 2.3,-1.5 -0.2,-1.5 0.4,-0.8 2.4,-1.5 0.5,-0.8 -0.8,-0.7 -1.6,0.6 -0.7,0 -0.7,-0.6 0.1,-1.6 -1.1,-0.7 -2.2,-3.1 0.5,-1.5 -0.2,-2.3 0.4,-1.5 -0.4,-0.8 -1.2,-0.8 -1.3,-1.9 -0.8,-2 -3.1,-2.6 -0.7,-1.2 -2.3,-1.2 -0.3,-1 0.3,-0.5 0.7,-0.2 1.6,1.8 1.5,0.4 0.2,-0.7 -0.5,-2.3 -1.2,-2.9 -1.3,-0.9 2.4,-2.3 0.4,-0.2 0.4,0.9 -0.6,0.8 0.2,0.4 5.1,-0.4 -0.3,-0.8 -1,-0.7 -0.7,-2.9 -3.4,-4 -0.1,-0.8 0.4,-0.9 1.6,-1.4 2.2,-0.8 0.7,0.8 -0.2,1.6 1.8,1.8 2.4,-1.8 -1.5,-2.3 0.6,-0.9 1.5,-0.7 0.8,-1.5 0.8,0.9 1.5,0.1 1.5,0.7 3.1,-1.1 2.3,1.5 0.6,-0.6 -0.4,-1.5 0.2,-0.7 0.8,0 0.5,1.5 0.6,0.4 1.5,-1 0.1,-2.5 2.3,-1.5 -2.4,-2.3 -1.5,0 -0.2,2.3 -0.6,0.6 -2.4,-1.4 -0.2,-0.7 0.3,-0.8 0.8,-0.9 0.8,0.1 0,-0.7 -0.8,0 -2.2,-2.3 0,-1.5 2.3,-2.3 0,-0.8 -1.5,-1.5 1.5,-1.6 0,-0.7 3.8,-3.8 0,-1.6 -3.1,-3.1 -0.8,0 -0.8,-0.7 -4.6,-0.1 -2.2,1.5 -0.8,0 -2.3,-1.5 -0.8,0 -2.3,-1.5 -0.7,0 -2.3,-2.3 -2.3,0.1zM99.6,302.6l-0.8,1.2 -1.2,-0.4 0.3,-0.8zM112.5,284.3l-0.6,0 0.4,0.8 -0.5,0.3 -1.6,0.1 -0.5,1.1 0.1,0.8 2,1.8 0.8,-1.1zM104.9,287.4l0.7,0.8 -1.4,-0.1zM103.6,284.3l-0.3,0.7 -0.7,0.1 -0.4,-0.8 1.1,-0.7zM106.4,278.2l-0.8,-0.5 -0.7,0.4 -0.5,0.9 0.4,0.7 1.6,0.7 0.7,-1.4zM101.8,275.9l-1.5,0.8 0.8,0.4 0.8,-0.4 0.4,-0.8zM104.1,275.9l-1.2,0 -0.1,0.8 1.3,0.3 0.4,-0.3zM108.7,272.5l-1.2,0.4 0.1,0.7 1.1,0.3 0.7,-0.3 -0.2,-0.7zM112.5,270.5l-0.7,0.1 -0.3,0.7 0.3,2.1 0.7,0 1,-0.5 -0.1,-0.8zM109.5,269.3l-0.9,0.5 0.9,0.9 0.5,-0.9zM116.3,260.6l-1.5,-0.4 -0.8,0.5 -0.2,0.7 0.3,2.3 -1.7,1.5 -0.1,0.8 2.5,-0.1 1.7,0.8 -0.7,1.6 0.2,0.7 0.3,0.6 0.8,0 0.8,-1.3 -0.5,-1.6 0.8,-1.5 -1.3,-2.3 0.4,-1.5zM108.7,264.5l-1.5,2.2 1.5,1.3 0.8,-0.5zM126.3,264.7l-1.2,0.5 1.2,0.9 0.7,-0.1 0,-0.8zM100.3,263.6l-0.8,-0.2 -0.5,0.3 0.5,1.7 1,-1zM124.0,263.5l-0.8,-0.2 -0.3,0.4 -0.7,1.5 0.2,0.5 2.2,-0.5 0.1,-0.8zM107.2,262.0l-0.9,0.2 0.4,1.5 2,0.7 0.3,-1.5zM128.6,258.9l-1.6,0 -0.6,1 1.4,1.2 0.8,0.1 0.8,-1.3zM98.8,259.6l-0.8,0.1 0,0.4 0.8,0.3zM131.6,256.7l-0.7,0.5 0,1.3 1.7,-0.2 -0.1,-0.7zM124.7,251.7l-0.7,-0.1 -2.1,2.2 0.5,1.1 0.8,0.4 0.8,-0.5 2.3,1.6 0.5,-0.4 -1.6,-1.5 0.1,-2.3zM101.1,254.3l-0.3,0.2 0.3,1 0.7,-0.2zM106.4,254.9l-0.4,0.4 0.4,0.3 0.6,-0.3zM171.3,222.3l-4.5,0.1 -0.8,0.7 -2.3,0 -0.8,0.8 -0.7,0 -1.6,1.5 -0.7,0 -1.5,1.5 -0.8,0 -1.5,1.5 -1.6,0 -3.4,3.2 0,0.8 -1.1,1 -0.8,0 -0.8,-1.4 -2.4,0.4 0.4,1.5 -2.4,1.5 0.6,1.1 1.8,0.4 0.5,1.4 1,-0.6 0.5,-0.8 0.8,-0.1 0.8,1.4 0.8,0.3 0,1.5 -1.6,0.5 -1.6,1 0.8,0 0.8,0.8 1.5,0 0.7,0.8 -1.5,1.5 0.8,0.7 0,1.6 0.7,0.7 0,0.8 0.8,0.8 0.8,0.1 0.8,-1.3 0.8,1.2 1.5,0.9 0.5,0.6 -0.8,1.5 0.3,0.8 1.5,1.6 0.8,0 3.8,-3.9 0,-3.1 3.9,-3.8 0.7,-2.3 0.8,-0.7 0,-0.8 -0.8,-0.8 2.3,-2.3 0,-0.7 2.2,-2.3 0.8,0.1 0.8,0.7 1.5,0 2.3,-2.3 -0.7,-0.8 0,-0.8 1.5,-1.5 0,-0.8zM74.4,253.0l-0.8,1 -0.8,0.2 -0.6,-0.4 0.6,-1zM77.3,245.3l0.8,2.5 0.8,0.4 1.5,-0.1 1.3,1.1 -0.7,3.8 -1.3,0.7 -1.6,0.2 -0.1,-3.2 -1.4,-1.7 -1.5,0.1 -2.4,-1.5 -0.5,-0.7 0.6,-0.6 0.8,0 1.5,1 0.7,-2.2 0.8,-0.2zM99.5,252.8l-1.4,1 2.1,0 0.1,-0.8zM145.4,252.9l-0.4,0.9 0.4,0 0.4,-0.8zM109.5,251.4l-1.1,0.8 0.1,0.8 1,0.5 0.7,-0.4 0.2,-0.9 -0.2,-0.6zM143.8,243.0l-0.7,-0.2 -0.6,0.3 -0.2,0.8 -2.6,3.7 0.2,0.8 0.9,0.2 0.4,0.6 -0.2,1.5 0.5,0.3 1.6,-0.1 2.1,-1 -0.3,-0.7 0.4,-0.8 -0.7,-0.8 0.1,-3.8zM114.8,248.5l-1.4,0.7 0.1,0.7 1.3,0.3 0.8,-0.3 -0.1,-0.7zM117.9,249.9l-1.2,0 0.4,0.3 0.8,-0.1zM134.7,241.4l-1.6,-0.1 -0.7,0.6 -1.5,-0.3 -1.6,0.7 -5.3,-1.4 -0.3,1.4 -1.3,0.7 -2.2,0.3 -0.6,0.5 0.1,0.8 1.2,1.4 0,1.2 0.8,0.3 0.7,0 1.6,-2.9 2.3,1.2 2.3,0.3 -0.5,1.5 0.7,1.6 2.8,1.1 1.5,-0.8 0.6,-1.1 0.2,-3.8 1.4,-1.5 0,-0.8zM123.2,247.6l-0.8,0.2 0.1,1.4 0.7,0.4 0.8,0 0.4,-0.4 0,-0.8zM116.3,245.7l-0.9,0.4 0.2,1.7 1.5,0 1.3,-0.9zM154.8,245.3l0.9,0.8 -0.4,0.7 -1.5,-0.1 -0.8,0.7 -1.1,-1.3 0.3,-0.5 1.6,-0.6zM85.6,238.5l-0.1,1.5 0.4,1.5 -0.9,1.4 -1.3,-0.6 0.6,-2.3 -0.8,-0.3 -0.8,0.3 -0.7,-0.8 0,-0.7 0.7,-0.6 0.8,0zM107.2,237.6l-1.6,0 -1.5,1.4 -1.5,-0.8 -0.8,0.1 0.4,1.7 -0.6,1.5 0.2,1.1 0.8,0.4 0.7,-0.6 0,-0.9 0.8,-0.6 2.3,0.5 1.5,0.8 0.8,-0.7 0.5,-3 -0.5,-0.5 -0.8,0zM124.0,229.3l-0.8,0 -1.1,0.8 -0.8,2.3 0.2,0.7 -2.9,1 -1.5,-1.4 -1.3,-0.3 -0.7,-0.8 -1.8,-0.8 -3.1,1.1 -1.2,2 -1.8,0.4 0,2 1.3,0.6 1,1.3 1.5,-0.4 1.5,-1.3 1.5,0.4 -1.1,3.9 0.4,0.7 1.3,0 1,1.1 0.1,-1.1 1.4,-0.3 1.6,1.1 1,-1.5 2,-1.2 3,0.6 1.6,-1.1 2.3,0.5 0.4,-0.4 -0.4,-1 -2.3,-0.3 -2.4,-1 -0.6,-0.7 -0.1,-1.5 -1,-0.8 -0.2,-0.8 0.4,-0.1 2.3,0.5 0.8,-2.2 1.5,-0.6 0,-0.7zM97.2,239.9l-0.8,0.1 0.8,1 0.4,-0.2zM141.5,236.0l-0.7,-0.3 -1,0.5 2.1,3.8 1.9,0.8 1.6,-1.6 0.4,0 -2,-1.4 -1.5,-0.5zM154.1,240.0l-0.4,0.8 -0.3,-0.8zM88.8,234.7l-0.8,1.5 -0.2,1.5 -1.3,0.4 -0.7,-0.4 0.5,-2.3 1,-1.1 0.8,-0.4zM132.4,233.8l-0.7,0.1 -0.1,1.5 -1,1.5 1.8,1 1.4,-3.2zM127.8,233.6l-0.7,0.3 -0.3,0.8 0.2,1 0.8,0.6 0.8,-0.9 -0.3,-1.5zM155.6,234.7l-0.3,1.3 -1.3,-1.3 0.5,-0.5zM86.8,232.4l-1.8,0.7 -0.8,1.8 -0.7,0.2 -0.7,-0.4 1.4,-2.3 1.6,-0.4zM137.0,233.1l-0.9,0 -0.8,0.8 0.9,1 0.8,0.1 0.5,-0.3 0.2,-0.8 -0.3,-0.8zM140.8,227.8l-2.3,2.3 0,2.2 0.8,-0.1 2.2,1.2 0.8,-0.2 1.5,-0.8 1,-1.6 -0.5,-0.7 -2,-0.7 -0.8,-1.6zM81.7,231.6l0.1,0.8 -0.6,0.3 -0.3,-1.1 0.3,-0.3zM102.6,228.5l-0.8,0.3 -1.7,2 2.5,1.8 0.7,0.1 2.1,-2.6zM119.4,229.8l-0.8,0.5 0,0.8 1,-0.3zM104.6,219.4l1.2,1.5 -0.4,0.8 -2.8,1.5 -0.8,-0.5 0,-1 1.3,-1.6 0.2,-0.9 0.8,-0.3zM97.9,221.7l-0.7,0.3 -0.5,-0.3 0.5,-0.7zM100.9,216.3l0.2,0.8 -1.2,1.5 0.2,1.5 -0.6,0.6 -0.7,-0.2 -1.6,-1.6 0,-1.1 1.6,-1.9 1.5,0zM96.0,215.6l-0.3,1 -1.5,1.2 0.4,1.6 -0.4,0.3 -0.4,-0.3 0.5,-3.8 0.6,-0.5 0.8,0zM111.0,217.8l-0.7,0 0.7,0.8z"/>
<path fill="#ffa31a" fill-rule="evenodd" d="M84.2,245.6l-0.7,0.2 -1,1.8 0.1,0.8 0.8,0.8 -0.2,3 -0.1,0.8 -1.3,1.5 0,1.5 -1,1.6 1.2,2.1 1.5,0.8 1.5,0.1 0.5,0.8 -0.3,1.5 0.7,0.8 -0.8,0.7 0.7,0.9 0.2,1.4 -0.2,1.2 -1.6,0.8 -1.3,1.9 -1,2.3 1.6,2.2 0,1.4 1.5,-0.2 0.8,-0.6 0.7,0.3 0.8,1.1 1.7,0.3 -1.7,3.1 -0.8,0.8 0,2.3 0.5,-0.1 0.3,-0.5 1.5,1.1 0.8,0 2.3,-0.5 2.3,1 0.3,0.5 -0.8,3 -2.4,3.1 0.6,0.8 2.3,-0.6 0.2,0.6 -0.2,2.2 1,3.1 0.9,0.8 -0.1,0.7 -1.1,0.8 0.1,0.8 6,2.2 -0.7,1.6 0.2,0.7 0.7,0.8 0.6,0 2.3,-2.3 0,-0.3 -0.8,0.1 -0.3,-0.6 0.7,-1.5 0.7,0 0.1,1.5 0.4,0.1 2.3,-2.3 0,-0.8 0.8,-0.8 -2.4,-0.4 -1.3,-1.1 -0.2,-0.8 1.5,-1.5 -0.7,-1.3 -1.1,-0.2 0,-0.8 1.5,-0.7 0.2,-1.6 -0.4,-0.7 -2.4,-1.6 -0.1,-1.2 -1.5,0.3 -0.8,-0.6 -0.8,-2.3 1.3,-1.5 -0.1,-2.3 -1.2,-0.4 -2.3,0.8 -1.2,-3.5 -1.8,-3 0.7,-1.5 0,-2.1 0.6,-1 -0.7,-2.3 0.5,-2.3 -1.9,-1.5 -0.6,-1.5 0.8,-3.9 -0.9,-1.2 -1.9,-1.1 -0.4,-0.7 0.6,-1.5 -0.6,-0.9 -5.8,-2.2 0.4,-0.7 1.5,-0.5 0.2,-0.3 -1.8,-1.6zM108.7,289.4l-1.6,0.3 1.6,0.9 0.3,-0.2zM87.3,284.0l0,1.8 0.7,0.8 0,1.5 1.7,0 0.5,-0.7 -0.3,-0.8zM111.8,286.6l-0.1,0.8 0.8,0.7 0,-1.4zM107.2,284.4l-0.8,0 -0.6,0.7 0.2,0.7 1.3,0 0.4,-0.7zM83.5,265.9l-0.8,-0.3 -0.7,0.4 0.7,0.8 0.7,-0.1zM82.0,263.8l-0.8,0.6 0.8,1.1 0.3,-1.1zM80.4,260.6l-0.7,-0.7 0,1.7 1.6,-0.2zM74.3,250.2l-0.7,0.1 -0.8,1.2 0.8,0.2 1.2,-0.2 0.3,-0.8zM66.7,248.2l-1.4,0.2 -0.2,0.8 0.8,0.7 1.5,0zM72.0,248.4l-1,0 -0.4,0.8 0.7,0.3 1.1,-0.3zM143.1,246.0l-0.6,0.9 0.6,2.5 0.7,-0.6 0.3,-1.2 -0.3,-0.9zM171.3,222.4l-4.5,0 -0.8,0.7 -2.3,0.1 -3.1,2.2 -0.7,0 -1.5,1.6 -0.8,0 -1.5,1.5 -1.6,0 -2.3,2.3 0,1.1 0.8,0.2 0.8,0 0.7,-0.8 0.8,-0.1 0,0.6 -1.1,0.6 1.9,1 1.2,1.3 1.2,3 -0.9,0.9 -0.7,2.2 -0.8,0.6 -0.4,0.9 -0.3,1.5 1.4,1.5 0.3,0.8 -1.2,2.3 0.2,0.8 1.5,0.5 0.8,-0.3 0.3,-2.5 1.9,-2 1.6,0.5 0.1,-0.8 1.2,-1.5 -0.6,-1.2 -0.7,1 -0.1,0.9 -0.7,0.5 -1.2,-2 -0.3,-2.4 1.5,-1.5 3.8,-0.2 2.8,-2.8 -1.2,-2.1 -1.8,-0.2 -0.7,-0.7 0.9,-1 2.1,-0.6 0.2,-1.7 2.1,0.2 0.7,0.8 0.1,0.7 -0.6,1.2 -2.3,-0.7 -0.3,1.1 0.3,0.8 3.1,-0.8 0.8,1.5 0.7,0 0.8,0.8 1.5,0 0,-1.4 -1.3,-0.2 2.1,-0.2 0.7,-0.8 0.1,-1.3 1.5,-1.5 0,-0.8zM131.6,246.0l-0.7,0.3 -1.2,1.3 0,0.8 0.4,0.3 0.8,0.2 1.1,-0.5 0,-1.5zM162.2,246.5l-2,1.9 0.4,0.7 1.6,-0.8 0.2,-1.4zM64.4,246.0l-1.5,0.4 0.7,1.2 0.4,0 0.4,-0.6 0.3,-0.9zM78.9,245.0l-0.4,0.3 0.4,0.9 0.3,-0.9zM69.0,242.1l-1.6,-0.2 -0.4,0.4 0.4,2 1.9,-1.2 0.4,-0.8zM153.8,241.9l-0.8,-0.3 -0.8,0.3 0.1,1.2 0.7,0.4 1.2,-0.4 0,-0.8zM72.8,241.4l-0.7,0.9 0.7,0.2 0.9,-0.2 -0.2,-0.8zM117.1,233.9l-0.8,0 -0.5,0.8 -0.2,1.5 -1.1,2.3 -0.1,0.7 0.4,0.8 1.7,-0.8 1.6,-3zM120.2,236.4l-0.8,0.5 -0.2,0.8 0.2,1.2 0.8,0.3 0.9,-0.7 0.1,-0.8zM71.3,228.5l-3.9,4 1.6,0.8 2.4,0.6 1.5,1.5 1.4,0.8 0.8,-0.3 1.8,-2.8 0.2,-1.5 0.5,-0.8 -0.2,-0.5 -4.6,0 -0.8,-0.4zM111.0,233.9l-0.7,0.8 0.2,0.7 0.5,0.4 1.1,-0.4 0.7,-0.7zM170.6,234.4l-1.7,1 0.9,0zM79.7,230.2l-1.2,0.6 0.4,2.3 1.1,-2.3zM159.9,232.4l0,0.9 -0.8,0.2 -0.4,-0.4 0.4,-0.5zM140.8,228.9l-1.2,1.2 1.2,2.1 0.7,0.4 0.8,-0.1 0.8,-0.9 0,-0.8zM173.1,229.3l0.3,0.8 -0.5,0.6 -0.8,0 -0.5,-0.6zM82.0,224.7l-2.3,0 -1.5,1.5 0.3,0.8 1.2,0.6 2.3,-0.9 1.5,0.6 1.5,1.5 0.6,-0.3 -0.2,-1.5 -1.6,-0.8 -0.3,-0.9zM91.1,223.0l-0.7,-0.3 -0.7,2 -0.9,0.7 -1.5,-0.6 -0.6,0.7 0.1,1.5 2,0.7 2.7,-0.7 0.6,-2.3zM94.2,221.3l-0.5,1.1 0.5,0.8 -0.5,1.5 0.1,0.8 1.1,1.4 0.8,0 1.8,-1.4 0.5,-0.8 -0.2,-0.7 -2.3,-0.8zM85.8,220.1l-1.6,0.4 -0.7,1.2 1.5,3 1.5,-0.5 0.7,-2.5 -0.3,-0.8zM91.9,193.4l-1.8,0 -0.5,1.3 -3.8,-0.5 -0.2,-0.8 -1.4,0 -2.9,2.3 -0.9,0 -0.7,0.8 0.2,2.2 2.1,2.4 0.7,0 2.3,1.8 1.3,0.4 0.2,2.3 0.8,0.7 2.3,-1.2 0.7,-1 -0.2,-0.8 -1.3,-1.5 0,-1 1.6,-0.8 1.2,0.3 -0.7,2.3 4.8,6.1 3.1,-0.7 0.4,0.7 -0.4,1.5 0.7,1.2 3.8,1.4 0.4,0.5 0,1.5 0.4,0.5 1.5,0 0.8,-0.7 0,-1.3 0.6,-0.8 -0.5,-0.8 0.7,-0.7 1.5,0 0,-0.8 -1.5,-1.5 1.6,-1.6 0,-0.7 3.8,-3.8 0,-1.6 -3.1,-3 -0.8,-0.1 -0.8,-0.7 -4.6,0 -2.2,1.5 -0.8,0 -0.8,-0.8 -0.7,0 -2.3,-1.4 -1.6,0.3 -0.4,-0.3 -0.2,-0.8zM90.4,207.6l-2.3,-0.3 -0.5,0.6 1.2,1.8 1.6,0.3 0.9,-0.6 -0.2,-1.1zM84.2,207.9l-0.5,0.8 0.7,0z"/>
<path fill="#ff401a" fill-rule="evenodd" d="M98.8,289.3l-0.8,0 -2.1,1.9 0.2,0.8 1.7,0.7 0.2,0.8 0,1.5 -1.3,1.5 0.5,1.1 0.9,0.5 1,3 1.2,0.2 0.5,-0.2 -0.1,-2.3 0.4,-0.7 1.1,-0.8 0.8,-2.3 -0.9,-2.3 0.4,-1.5 -2.2,-0.8zM97.2,283.9l-0.7,-0.2 -0.6,0.6 0.5,2.3 -0.2,0.8 1.8,1.1 0.8,-0.1 0.1,-1.8zM90.4,281.2l-1.6,-0.6 -0.6,0.7 -0.1,0.7 0.7,0.7 0.8,0.1 0.7,-0.8zM91.1,258.5l-1.5,0.3 -0.8,1.3 -2.1,1.3 0,0.8 0.6,1.5 -0.4,3.8 0.2,0.8 1,0.7 0.3,1.6 -1.9,2.7 -0.5,0.3 1.5,1.5 2.5,1.6 0.8,3.8 0.3,0.5 0.8,0.2 0.8,-0.1 0.4,-0.6 -0.1,-2.3 1.4,-1.5 -1.5,-2.3 0,-1.5 0.6,-1.6 -0.4,-1.5 0.7,-1.5 -2.2,-6.1zM85.0,258.3l-2.3,-0.3 -0.2,0.3 1,0.9 2.3,0.1zM86.5,253.3l-0.3,0.5 0.3,1.6 0.7,-1.6zM162.9,233.7l-0.7,0.2 -1.6,1.6 -1.5,0.6 0.5,0.8 1,0.5 3.1,-0.2 2.3,-0.9 0.6,-0.9 -0.6,-1.2zM70.5,230.8l-0.9,0.8 0.1,0.8 3.1,1.2 1.5,0 0.5,-0.5 -1.2,-1.2zM141.5,230.7l0,1 0.4,-0.1zM162.9,230.3l-1.2,0.5 -0.3,0.6 0.8,0.8 0.7,-0.4 0.6,-1zM165.2,229.0l-0.6,0.3 -0.2,0.8 1.7,0 -0.3,-0.8zM156.1,228.5l-1.6,0 -0.7,1.2 1.7,-0.4 0.9,-0.8zM171.3,222.4l-3,0.8 -2.3,0.1 -2.3,1.2 -1.7,1 -0.5,2.3 1.4,1.7 1.6,-0.3 1.5,-2.4 2.3,0.8 2.3,-1 2.3,0.4 1.6,-0.8 -0.1,-0.7zM159.1,226.2l-0.7,0.8 -0.8,0 0,0.4 1.5,0 0.9,-0.4zM85.8,221.0l-1.2,0.7 0.4,1.1 0.8,0.1 0.3,-0.5 0.2,-0.7zM103.3,198.6l-1.5,-0.2 -1.5,1.2 -1.5,-0.7 -0.4,0.6 0.2,1.5 -1.8,0.8 -0.5,0.8 0.1,0.7 1.6,2.7 2.7,1.1 2.6,2.3 1.6,0 0.7,0.5 0.8,0 1.2,-0.5 -0.4,-0.7 1.5,-1.6 0,-0.7 1.8,-2.3 -1.3,-0.8 0.2,-2.3 -0.5,-0.7 -1,-0.8 -2.3,0.1zM83.5,198.6l-0.8,-0.3 -0.7,0.2 0,0.8 1.5,0.7 0.7,-0.3 0.3,-0.2zM87.3,195.5l-1.5,0.2 0,2.2 1.5,-1 1.5,1.5 1.5,-1.2 -0.7,-0.7zM91.9,194.9l-1,1.6 1,0.1 0.8,-0.6 0,-0.9z"/>
</g>
<path d="M91.7,212.9 93.8,210.6 97.2,209.4 100.7,210.6 103.3,212.1 M93.8,212.1 93.8,214.4 95.3,216.7 97.2,218.2 98.8,219.8 100.3,220.1 M100.3,220.1 101.1,218.2 103.0,217.1 104.9,216.5 M86.2,221.7 88.8,222.0 91.1,223.2 93.8,222.4 95.3,221.3 97.6,219.8 97.2,218.2 M88.8,222.0 88.5,224.0 91.5,225.9 92.3,228.2 94.6,229.3 97.2,230.5 99.1,229.7 M100.3,220.1 98.8,222.8 98.4,225.5 99.5,228.2 99.1,229.7 M100.3,220.1 101.4,222.0 103.3,223.2 105.3,224.7 107.6,225.9 109.8,225.9 M99.1,229.7 100.3,232.7 103.0,233.9 99.5,236.2 97.2,238.5 97.6,240.8 94.9,242.3 93.4,243.8 91.1,242.3 89.6,243.8 88.5,246.5 87.7,248.0 M87.7,248.0 85.0,246.5 83.5,243.8 81.2,242.5 78.9,242.3 75.5,242.1 M92.3,227.8 90.0,230.1 90.7,232.4 88.8,234.7 87.3,236.9 85.4,238.5 83.9,240.4 81.2,242.5 M103.0,233.9 106.0,236.2 104.1,238.9 103.0,242.7 105.3,243.1 106.4,240.4 110.6,240.8 114.4,240.4 117.9,241.9 120.2,244.6 122.3,244.2 M110.6,227.0 108.7,230.8 107.6,233.9 107.2,236.9 106.8,240.4 M124.4,231.6 125.5,235.0 126.3,237.7 123.2,239.6 122.3,242.7 122.3,244.2 M122.3,242.7 125.9,242.7 128.6,243.1 131.2,241.5 134.3,242.3 136.6,241.1 139.3,240.0 M140.4,235.2 139.6,236.9 140.0,238.5 139.3,240.0 M139.3,240.0 137.7,243.8 134.7,245.7 132.0,247.3 133.9,249.6 135.8,251.5 M135.8,251.5 137.0,252.6 138.1,253.8 M139.3,240.0 140.8,241.9 M135.8,251.5 132.4,250.7 130.1,251.8 128.6,251.5 126.3,250.7 124.7,250.3 M124.7,250.3 123.2,248.4 124.7,246.5 123.6,245.3 122.3,244.2 M124.7,250.3 122.4,253.8 119.4,256.4 118.6,259.9 117.1,261.4 117.1,264.4 114.8,267.9 M114.8,267.9 118.2,266.4 121.7,264.8 124.7,263.7 127.6,263.3 M120.2,244.6 117.1,245.3 115.6,246.9 116.0,248.8 113.3,250.7 112.5,253.4 111.9,254.9 M111.9,254.9 109.5,253.8 106.8,253.4 103.3,254.1 100.3,254.5 96.9,254.9 94.6,254.5 91.1,254.5 88.5,253.4 87.7,252.2 M87.7,252.2 86.9,250.3 87.7,248.0 M103.0,242.7 102.6,245.3 104.1,247.6 103.0,250.3 103.3,254.1 M111.9,254.9 111.4,257.6 111.8,259.1 111.0,261.0 112.5,262.5 110.8,265.2 M110.8,265.2 112.5,266.7 113.3,268.3 114.8,267.9 M110.8,265.2 109.1,264.1 109.1,262.2 106.4,261.8 104.9,261.0 103.0,262.2 101.1,263.7 101.4,265.6 99.9,266.4 M99.9,266.4 97.6,268.7 95.3,270.2 93.0,269.8 92.7,271.7 90.0,272.1 88.1,273.2 87.7,275.1 86.9,276.3 M86.9,276.3 87.7,278.2 86.9,279.3 M84.2,259.1 85.0,261.8 84.6,264.4 85.0,267.5 85.8,270.6 86.2,273.2 86.9,276.3 M81.8,259.3 84.2,259.1 86.2,257.2 85.8,255.3 87.7,254.1 86.2,253.4 87.7,252.2 M94.2,257.6 90.4,258.7 89.2,260.6 91.1,262.5 91.1,264.8 93.4,266.7 95.3,268.3 95.7,269.8 M94.2,257.6 96.1,259.1 98.8,260.2 99.1,261.4 101.4,260.6 103.0,262.2 M94.2,257.6 94.9,256.0 94.6,254.5 M113.3,268.3 111.4,270.6 109.5,271.7 107.2,272.9 106.4,274.4 103.7,275.1 101.8,275.5 99.5,275.5 M99.5,275.5 99.1,273.6 99.9,271.3 99.5,269.0 99.9,266.4 M105.6,274.8 105.3,277.8 106.4,279.7 107.2,282.0 107.9,283.5 109.5,284.7 M99.5,275.5 98.0,278.2 97.2,280.1 98.0,281.6 99.5,282.8 99.9,283.9 101.8,284.7 103.3,285.5 102.8,287.6 M102.8,287.6 104.1,287.0 106.4,286.2 108.3,285.5 110.6,284.7 M102.8,287.6 101.1,288.1 100.3,289.7 98.8,291.2 97.6,291.2 95.7,292.0 M95.7,292.0 96.9,293.5 97.2,295.4 97.6,296.9 98.8,297.3 99.1,299.6 98.8,301.9 99.1,303.8 98.4,304.6 M95.7,292.0 94.2,290.8 92.3,289.3 91.1,288.1 90.0,287.6 M87.7,278.2 89.2,280.9 90.0,283.5 91.1,285.8 91.9,288.1 92.3,289.3 M89.2,280.9 92.3,280.9 94.2,279.3 95.7,279.0 97.2,280.1 M80.4,251.1 78.9,249.6 78.1,247.6 75.8,246.1 75.5,244.6 75.5,242.1 M155.7,233.7 159.1,233.1 162.9,231.6 166.8,230.1 169.1,229.7 170.2,230.8 169.4,232.0 168.3,232.6 167.5,233.5 M167.5,233.5 164.1,235.4 161.4,238.1 160.6,240.8 159.1,242.7 156.4,243.4 155.7,243.1 M147.1,236.9 147.1,234.3" fill="none" stroke="#000" stroke-width="0.5" stroke-linejoin="round" opacity="0.9"/>
<path d="M64.2,245.9 65.9,243.8 67.4,243.4 71.3,243.8 73.6,243.1 75.5,242.1 74.7,240.0 73.7,238.1 71.6,237.3 71.6,234.8 69.4,233.9 69.7,232.0 72.6,229.3 75.1,229.9 78.5,229.5 80.4,226.2 82.7,224.7 84.2,221.9 86.5,220.5 89.0,217.5 88.6,214.8 91.5,212.9 89.2,211.7 86.9,210.6 85.4,209.4 84.8,206.8 84.2,204.9 86.9,202.2 83.9,200.3 81.2,198.4 81.6,196.5 85.0,195.3 88.5,194.7 91.9,195.5 94.2,197.2 97.6,199.1 101.1,200.7 103.3,199.1 106.8,198.7 110.6,200.7 110.6,202.9 107.9,204.9 105.6,208.7 107.4,211.4 104.5,211.7 103.3,212.9 104.9,214.4 104.7,216.3 106.8,217.5 109.8,219.4 113.3,220.9 111.4,222.4 109.8,225.9 111.8,227.0 114.4,228.7 117.1,229.7 119.8,230.8 122.1,231.8 125.1,231.2 127.2,232.4 129.3,233.9 131.6,234.7 135.1,235.2 137.3,235.4 140.4,235.2 140.6,233.1 140.2,229.7 142.7,228.9 143.5,231.2 143.1,232.7 143.8,233.7 146.9,234.3 149.2,233.7 152.2,233.9 155.7,233.7 154.3,231.6 153.8,230.1 156.4,230.1 158.7,228.5 161.4,226.6 164.1,225.1 166.8,224.7 169.4,224.3 171.7,224.0 172.9,226.2 175.7,228.4 174.8,230.1 174.0,231.6 175.0,232.7 171.3,232.2 168.7,233.9 167.1,235.4 167.1,236.9 165.2,239.2 165.6,240.8 163.7,244.6 161.0,244.6 160.5,247.3 159.9,251.1 158.7,252.2 157.6,252.2 156.6,248.8 156.4,245.7 155.1,245.7 153.8,248.6 152.4,246.9 152.2,244.6 153.8,244.2 155.7,243.1 157.0,240.8 152.6,240.0 149.2,240.0 147.1,239.6 146.9,236.9 144.6,236.6 142.7,235.4 141.5,234.7 140.6,237.7 143.5,239.6 141.5,241.1 140.4,242.3 142.9,243.8 142.7,247.3 143.6,248.8 144.0,251.8 144.2,253.6 142.3,253.8 140.4,253.6 139.3,253.4 137.0,253.9 135.6,256.0 135.8,257.2 134.3,259.1 133.1,260.2 130.5,261.0 128.9,262.2 127.8,263.3 125.1,266.4 122.8,268.3 118.6,271.3 118.2,272.9 116.0,273.8 114.0,275.1 112.5,275.9 110.6,276.7 109.7,279.0 110.0,282.8 110.6,285.5 110.4,288.1 108.9,291.2 108.9,296.5 106.8,296.9 105.6,299.2 105.4,300.7 102.6,302.3 101.8,304.2 100.1,305.4 98.4,304.6 96.3,302.3 95.3,299.6 94.9,297.3 93.8,294.6 92.7,292.0 91.1,289.7 89.8,287.0 88.8,283.5 87.9,280.5 86.5,278.2 85.4,275.9 84.2,273.2 83.5,269.8 82.5,266.0 82.0,263.7 81.6,260.6 81.8,258.3 82.3,256.0 81.2,253.8 82.0,251.5 79.7,252.2 79.7,254.9 77.0,256.4 74.7,257.2 72.0,256.0 69.0,253.4 67.2,251.1 68.6,250.7 71.3,249.9 72.8,248.4 70.5,249.0 68.2,249.2 65.9,247.6Z" fill="none" stroke="#111" stroke-width="0.6" stroke-linejoin="round"/>
<path d="M141.7,250.3 144.3,250.3 144.4,253.9 140.8,253.9Z" fill="#0a0a0a"/>
<circle cx="65.0" cy="245.8" r="0.8" fill="#111"/>
<path d="M158.7,284.3 159.5,285.8 159.1,288.9 158.9,292.0 158.0,292.3 157.6,289.7 158.2,286.6Z" fill="#262b12" stroke="#111" stroke-width="0.5"/>
<path d="M156.8,294.6 157.6,295.4 157.4,296.2 156.6,295.8Z" fill="#262b12" stroke="#111" stroke-width="0.5"/>
<path d="M158.0,300.9 158.5,301.3 158.2,301.7Z" fill="#222" stroke="#111" stroke-width="0.4"/>
<path d="M160.6,304.6 161.4,305.3 161.0,306.1 160.3,305.7Z" fill="#222" stroke="#111" stroke-width="0.4"/>
<path d="M161.8,308.4 162.7,309.5 162.4,310.5 161.6,309.7Z" fill="#222" stroke="#111" stroke-width="0.4"/>
<path d="M160.3,308.0 160.8,308.4 160.5,308.8Z" fill="#222" stroke="#111" stroke-width="0.4"/>
<circle cx="79.7" cy="291.6" r="0.4" fill="#3a3a3a"/>
<circle cx="81.6" cy="293.5" r="0.4" fill="#3a3a3a"/>
<circle cx="81.4" cy="295.8" r="0.4" fill="#3a3a3a"/>
<circle cx="82.7" cy="297.7" r="0.4" fill="#3a3a3a"/>
<circle cx="80.0" cy="294.6" r="0.4" fill="#3a3a3a"/>
<circle cx="85.2" cy="297.9" r="0.4" fill="#3a3a3a"/>
<circle cx="79.7" cy="294.8" r="0.4" fill="#3a3a3a"/>
<circle cx="82.9" cy="304.6" r="0.4" fill="#3a3a3a"/>
<circle cx="81.8" cy="292.3" r="0.4" fill="#3a3a3a"/>
<circle cx="78.5" cy="290.8" r="0.4" fill="#3a3a3a"/>
<circle cx="86.5" cy="293.5" r="0.4" fill="#3a3a3a"/>
<circle cx="84.6" cy="290.8" r="0.4" fill="#3a3a3a"/>
</g>
<rect x="64.4" y="187.4" width="112.2" height="130.0" fill="none" stroke="#a9a9a9" stroke-width="0.7"/>
<text class="t" x="132.2" y="194.4" font-size="6.5" text-anchor="middle">IMD-PERSIANN_CDR</text>
<text class="k" x="78.9" y="186.5">72°E</text>
<text class="k" x="78.9" y="320.8">72°E</text>
<text class="k" x="101.8" y="186.5">78°E</text>
<text class="k" x="101.8" y="320.8">78°E</text>
<text class="k" x="124.7" y="186.5">84°E</text>
<text class="k" x="124.7" y="320.8">84°E</text>
<text class="k" x="147.7" y="186.5">90°E</text>
<text class="k" x="147.7" y="320.8">90°E</text>
<text class="k" x="170.6" y="186.5">96°E</text>
<text class="k" x="170.6" y="320.8">96°E</text>
<text class="k" transform="translate(63.6,198.7) rotate(-90)">36°N</text>
<text class="k" transform="translate(179.7,198.7) rotate(-90)">36°N</text>
<text class="k" transform="translate(63.6,221.7) rotate(-90)">30°N</text>
<text class="k" transform="translate(179.7,221.7) rotate(-90)">30°N</text>
<text class="k" transform="translate(63.6,244.6) rotate(-90)">24°N</text>
<text class="k" transform="translate(179.7,244.6) rotate(-90)">24°N</text>
<text class="k" transform="translate(63.6,267.5) rotate(-90)">18°N</text>
<text class="k" transform="translate(179.7,267.5) rotate(-90)">18°N</text>
<text class="k" transform="translate(63.6,290.4) rotate(-90)">12°N</text>
<text class="k" transform="translate(179.7,290.4) rotate(-90)">12°N</text>
<text class="k" transform="translate(63.6,313.3) rotate(-90)">6°N</text>
<text class="k" transform="translate(179.7,313.3) rotate(-90)">6°N</text>
</g>
<g>
<clipPath id="f5"><rect x="186.4" y="187.4" width="112.2" height="130.0"/></clipPath>
<clipPath id="c5"><path d="M186.4,245.9 188.1,243.8 189.6,243.4 193.5,243.8 195.8,243.1 197.7,242.1 196.9,240.0 195.9,238.1 193.8,237.3 193.8,234.8 191.5,233.9 191.9,232.0 194.8,229.3 197.3,229.9 200.7,229.5 202.6,226.2 204.9,224.7 206.4,221.9 208.7,220.5 211.2,217.5 210.8,214.8 213.7,212.9 211.4,211.7 209.1,210.6 207.6,209.4 207.0,206.8 206.4,204.9 209.1,202.2 206.1,200.3 203.4,198.4 203.8,196.5 207.2,195.3 210.7,194.7 214.1,195.5 216.4,197.2 219.8,199.1 223.3,200.7 225.5,199.1 229.0,198.7 232.8,200.7 232.8,202.9 230.1,204.9 227.8,208.7 229.6,211.4 226.7,211.7 225.5,212.9 227.1,214.4 226.9,216.3 229.0,217.5 232.0,219.4 235.5,220.9 233.6,222.4 232.0,225.9 234.0,227.0 236.6,228.7 239.3,229.7 242.0,230.8 244.3,231.8 247.3,231.2 249.4,232.4 251.5,233.9 253.8,234.7 257.3,235.2 259.5,235.4 262.6,235.2 262.8,233.1 262.4,229.7 264.9,228.9 265.7,231.2 265.3,232.7 266.0,233.7 269.1,234.3 271.4,233.7 274.4,233.9 277.9,233.7 276.5,231.6 276.0,230.1 278.6,230.1 280.9,228.5 283.6,226.6 286.3,225.1 289.0,224.7 291.6,224.3 293.9,224.0 295.1,226.2 297.9,228.4 297.0,230.1 296.2,231.6 297.2,232.7 293.5,232.2 290.9,233.9 289.3,235.4 289.3,236.9 287.4,239.2 287.8,240.8 285.9,244.6 283.2,244.6 282.7,247.3 282.1,251.1 280.9,252.2 279.8,252.2 278.8,248.8 278.6,245.7 277.3,245.7 276.0,248.6 274.6,246.9 274.4,244.6 276.0,244.2 277.9,243.1 279.2,240.8 274.8,240.0 271.4,240.0 269.3,239.6 269.1,236.9 266.8,236.6 264.9,235.4 263.7,234.7 262.8,237.7 265.7,239.6 263.7,241.1 262.6,242.3 265.1,243.8 264.9,247.3 265.8,248.8 266.2,251.8 266.4,253.6 264.5,253.8 262.6,253.6 261.5,253.4 259.2,253.9 257.8,256.0 258.0,257.2 256.5,259.1 255.3,260.2 252.7,261.0 251.1,262.2 250.0,263.3 247.3,266.4 245.0,268.3 240.8,271.3 240.4,272.9 238.2,273.8 236.2,275.1 234.7,275.9 232.8,276.7 231.9,279.0 232.2,282.8 232.8,285.5 232.6,288.1 231.1,291.2 231.1,296.5 229.0,296.9 227.8,299.2 227.6,300.7 224.8,302.3 224.0,304.2 222.3,305.4 220.6,304.6 218.5,302.3 217.5,299.6 217.1,297.3 216.0,294.6 214.9,292.0 213.3,289.7 212.0,287.0 211.0,283.5 210.1,280.5 208.7,278.2 207.6,275.9 206.4,273.2 205.7,269.8 204.7,266.0 204.2,263.7 203.8,260.6 204.0,258.3 204.5,256.0 203.4,253.8 204.2,251.5 201.9,252.2 201.9,254.9 199.2,256.4 196.9,257.2 194.2,256.0 191.2,253.4 189.4,251.1 190.8,250.7 193.5,249.9 195.0,248.4 192.7,249.0 190.4,249.2 188.1,247.6Z"/></clipPath>
<g clip-path="url(#f5)">
<g clip-path="url(#c5)">
<path d="M186.4,245.9 188.1,243.8 189.6,243.4 193.5,243.8 195.8,243.1 197.7,242.1 196.9,240.0 195.9,238.1 193.8,237.3 193.8,234.8 191.5,233.9 191.9,232.0 194.8,229.3 197.3,229.9 200.7,229.5 202.6,226.2 204.9,224.7 206.4,221.9 208.7,220.5 211.2,217.5 210.8,214.8 213.7,212.9 211.4,211.7 209.1,210.6 207.6,209.4 207.0,206.8 206.4,204.9 209.1,202.2 206.1,200.3 203.4,198.4 203.8,196.5 207.2,195.3 210.7,194.7 214.1,195.5 216.4,197.2 219.8,199.1 223.3,200.7 225.5,199.1 229.0,198.7 232.8,200.7 232.8,202.9 230.1,204.9 227.8,208.7 229.6,211.4 226.7,211.7 225.5,212.9 227.1,214.4 226.9,216.3 229.0,217.5 232.0,219.4 235.5,220.9 233.6,222.4 232.0,225.9 234.0,227.0 236.6,228.7 239.3,229.7 242.0,230.8 244.3,231.8 247.3,231.2 249.4,232.4 251.5,233.9 253.8,234.7 257.3,235.2 259.5,235.4 262.6,235.2 262.8,233.1 262.4,229.7 264.9,228.9 265.7,231.2 265.3,232.7 266.0,233.7 269.1,234.3 271.4,233.7 274.4,233.9 277.9,233.7 276.5,231.6 276.0,230.1 278.6,230.1 280.9,228.5 283.6,226.6 286.3,225.1 289.0,224.7 291.6,224.3 293.9,224.0 295.1,226.2 297.9,228.4 297.0,230.1 296.2,231.6 297.2,232.7 293.5,232.2 290.9,233.9 289.3,235.4 289.3,236.9 287.4,239.2 287.8,240.8 285.9,244.6 283.2,244.6 282.7,247.3 282.1,251.1 280.9,252.2 279.8,252.2 278.8,248.8 278.6,245.7 277.3,245.7 276.0,248.6 274.6,246.9 274.4,244.6 276.0,244.2 277.9,243.1 279.2,240.8 274.8,240.0 271.4,240.0 269.3,239.6 269.1,236.9 266.8,236.6 264.9,235.4 263.7,234.7 262.8,237.7 265.7,239.6 263.7,241.1 262.6,242.3 265.1,243.8 264.9,247.3 265.8,248.8 266.2,251.8 266.4,253.6 264.5,253.8 262.6,253.6 261.5,253.4 259.2,253.9 257.8,256.0 258.0,257.2 256.5,259.1 255.3,260.2 252.7,261.0 251.1,262.2 250.0,263.3 247.3,266.4 245.0,268.3 240.8,271.3 240.4,272.9 238.2,273.8 236.2,275.1 234.7,275.9 232.8,276.7 231.9,279.0 232.2,282.8 232.8,285.5 232.6,288.1 231.1,291.2 231.1,296.5 229.0,296.9 227.8,299.2 227.6,300.7 224.8,302.3 224.0,304.2 222.3,305.4 220.6,304.6 218.5,302.3 217.5,299.6 217.1,297.3 216.0,294.6 214.9,292.0 213.3,289.7 212.0,287.0 211.0,283.5 210.1,280.5 208.7,278.2 207.6,275.9 206.4,273.2 205.7,269.8 204.7,266.0 204.2,263.7 203.8,260.6 204.0,258.3 204.5,256.0 203.4,253.8 204.2,251.5 201.9,252.2 201.9,254.9 199.2,256.4 196.9,257.2 194.2,256.0 191.2,253.4 189.4,251.1 190.8,250.7 193.5,249.9 195.0,248.4 192.7,249.0 190.4,249.2 188.1,247.6Z" fill="#0b7a0b"/>
<path fill="#4db31a" fill-rule="evenodd" d="M211.0,192.6l-0.7,0 -0.8,0.7 -3.1,-0.1 -0.7,0.8 -1.5,0 -2.5,2.5 0,2.2 2.5,2.5 0.7,0 1.4,1.4 -2.3,2.3 0.8,0.7 0,1.5 0.8,0.8 0,1.5 3.1,3.2 0.8,0 0.7,0.7 -1.6,1.5 0,0.8 0.8,0.7 -0.7,2.3 -0.7,0.7 -0.8,0 -3.2,3.1 0,0.8 -0.6,0.6 -0.8,0 -1.5,1.5 -0.9,0.9 0,0.8 -0.6,0.7 -5.4,-0.1 -4.6,4.8 -0.1,1.5 2.3,2.3 0,0.7 3.1,3.1 0,0.8 -0.7,0.7 -5.3,0 -4.7,4.6 4.6,4.6 -0.8,0.8 0,0.7 6.2,6.2 1.6,0 0.7,0.8 0.8,0 0.7,-0.8 1.6,0 0.7,-0.7 0.8,0 0.7,0.6 0,5.4 0.7,0.7 0,2.3 0.8,0.8 0,2.3 0.7,0.8 0.1,2.3 1.5,2.2 0,1.6 0.8,0.7 0,0.8 1.4,1.5 0.1,0.8 0.7,0.8 0.1,2.2 0.7,0.8 0,1.5 0.8,0.8 0,1.5 0.8,0.8 0,0.8 1.5,1.5 0,0.8 0.7,0.7 0,0.8 1.6,2.3 0,1.5 0.7,0.8 0,2.3 0.8,0.7 0,0.8 5.4,5.4 0.8,0 6.9,-6.9 0,-0.8 0.7,-0.7 0.8,0 2.3,-2.4 0,-6.1 1.6,-2.3 0,-3.8 -0.8,-0.8 0,-5.3 0.7,-0.7 0.8,0 0.7,-0.8 0.8,0 0.8,-0.8 2.3,-0.7 2.3,-2.3 0,-0.8 0.7,-0.7 0.8,0 8.4,-8.5 0.9,0 -1.2,-0.7 0.3,-1.3 0.8,0.4 1.5,0 0.7,0.7 1.6,-1.4 -1.6,-0.6 -2.2,-2.5 0.7,-0.6 1.5,-0.2 3.9,1.6 0.7,-2.3 0.8,-0.7 5.3,0 2.4,-2.3 0,-2.3 -0.8,-0.8 0,-1.5 -0.7,-0.8 0,-3.8 -1.5,-1.5 0,-0.8 2.2,-2.1 2.3,2.2 0.7,0 0.8,0.8 1.5,0 0.7,0.7 -1.5,1.5 0.7,0.7 0,1.6 0.8,0.7 0,0.8 2.4,2.4 0.7,-0.8 0.7,0.7 0,1.5 2.4,2.4 0.8,0 3.8,-3.9 0.1,-3.1 3.8,-3.8 0.8,-2.3 0.7,-0.7 0,-0.8 -0.8,-0.8 2.4,-2.3 0,-0.7 2.1,-2.2 0.8,0 0.8,0.8 1.5,0 2.4,-2.4 -0.7,-0.8 0,-0.8 1.5,-1.5 0,-0.8 -6.3,-6.2 -4.5,0 -0.8,0.7 -2.3,0 -0.8,0.8 -0.7,0 -1.6,1.5 -0.7,0 -1.5,1.5 -0.8,0 -1.5,1.6 -1.6,0 -3,3.1 -3.1,0 -0.7,0.8 -1.6,0 -0.7,-0.7 -0.7,-2.3 -2.4,-2.3 -0.8,0 -3,3.1 -0.1,2.3 -0.7,0.7 -6.1,0 -0.7,-0.8 -1.6,0 -2.3,-2.3 -0.7,0 -0.8,-0.8 -2.3,0 -0.8,0.8 -0.7,0 -0.8,-0.8 -0.7,0 -2.3,-1.4 -1.6,-0.1 -2.3,-1.5 -0.7,0 -0.7,-0.7 -0.1,-1.7 -0.7,-0.6 0.2,-0.8 0.5,-0.2 0.8,0.7 0,-0.5 1.6,-1.5 -2.4,-2.4 -0.7,0 -2.3,-1.5 -0.8,0 -2.2,-2.2 0,-1.5 2.3,-2.3 0,-0.8 -1.4,-1.5 1.5,-1.6 0,-0.7 3.8,-3.8 0,-1.6 -3.2,-3.1 -0.8,0 -0.8,-0.8 -4.6,0 -0.7,0.7 -2.3,0.8 -2.3,-1.5 -0.8,0 -0.7,-0.8 -0.8,0 -0.8,-0.7 -0.7,0 -2.3,-2.3 -2.3,0zM232.3,282.0l-0.6,1.1 -0.8,-0.1 0,-1.1 0.8,-0.5zM231.7,272.1l-0.8,0.4 -1.2,-0.4 0.4,-0.6 0.8,0zM238.2,265.2l0.4,0.8 -0.1,1 -0.7,0.5 -1.6,-0.2 -0.2,-0.6 0.8,-1.5 1,-0.3zM248.1,264.4l-0.4,0.5 -0.5,-0.5zM225.1,260.6l1.2,1.8 0,1.5 -0.8,-0.3 -0.6,-1.4 -1.2,-0.8 -0.2,-0.8 0.5,-0.4zM226.5,249.2l0.9,0.7 0.2,0.8 -1,0.8 -0.3,0.8 -1.5,-1.2 -1.5,0.4 0.2,0.7 -0.6,1.6 0.5,1.5 -2,1.5 -0.1,5.4 -1.1,0.6 -0.8,-0.2 -0.4,-1.2 0.4,-3.1 -1.3,-1.5 0.2,-0.8 0.4,-0.3 1.5,0.3 1.5,-1.5 0.3,-0.7 -3,-0.8 0.8,-0.8 2.7,-0.1 0.7,-0.6 0.3,-1.6 1.3,-1.2zM247.3,259.1l-0.4,0.8 -0.8,-0.8 0.8,-0.4zM248.6,249.9l1,0.8 0.1,1.5 0.5,0.8 2.1,1.5 -0.1,0.8 -0.7,0.6 -2.1,-1.4 -0.9,-1.4 -0.8,-0.1 -0.8,2.5 -1.5,-0.2 -1.5,1.5 -2.3,0.4 -0.3,-1.9 0.3,-1 1.2,-1.3 0.3,-2.3 0.8,-0.6 2.3,1.8 0.7,0 0.7,-0.4 -0.7,-0.8zM232.5,240.8l2.2,1.6 1.1,-0.9 0.9,0 1.2,0.8 0.2,0.8 -0.3,0.7 -0.8,0.4 -1.5,-0.7 -0.7,0.3 -0.2,0.8 0.8,3 -0.7,2 -0.7,0.4 -2.3,-0.5 -0.8,0.2 -0.4,1 0.3,0.8 1.2,0.7 0.5,1.6 -0.1,0.7 -3,0.4 -1.3,-1.9 0,-1.5 0.3,-0.8 2.1,-1.5 -1.6,-1.6 -0.1,-0.7 0.4,-0.8 -2.1,-2.6 -0.1,-1.2 3.1,-1.3zM257.6,250.7l1.8,2.3 -0.5,0.8 -1.3,0.2 -0.7,-0.8 -0.4,-2.5zM266.3,253.0l-0.3,0.5 -0.8,-0.5 0.8,-0.3zM219.3,246.1l0.8,0.8 -0.7,3 -0.4,-1.5 -1.9,-1.5 0.8,-1 0.8,-0.3zM232.4,245.3l-0.7,-0.7 -1,0.7 0,0.8 1,1.6 0.7,0 0.7,-0.8zM236.6,247.6l-0.4,0.4 -0.5,-0.4 0.5,-0.4zM241.4,244.6l3.2,1.5 0.8,0 1.5,-1.2 0.9,1.2 -0.9,0.6 -1.5,-0.5 -0.3,0.7 -1.2,0.8 -1.8,-0.8 -1.3,-1.8 -0.7,-0.5 0.7,-0.5zM213.8,244.6l1.5,0.7 0.1,0.8 -2.1,0.8 -1.5,0 0.8,-2.2 0.7,-0.4zM224.6,243.8l0.2,1.6 1.7,-0.1 0.2,0.8 -0.4,1 -2.9,-0.2 -1.5,-2.3 0,-0.8 0.6,-0.6 0.8,-0.1zM219.9,240.8l-0.5,1.1 -0.7,0.6 -0.5,-0.2 0.5,-1.7zM222.8,239.2l-0.3,1.1 -0.8,0.5 -0.7,-0.2 -0.4,-0.6 0.2,-0.8 0.9,-0.6 0.8,-0.1zM227.4,237.7l0.6,0.8 -0.2,0.4 -0.8,-0.4 -0.3,-0.8 0.4,-0.3zM223.9,236.2l0.5,0.7 -0.2,0.8 -0.9,0.5 -0.9,-2zM210.5,236.9l-1.1,0 0.9,-0.3zM218.7,230.1l-0.7,0.7 -0.6,2.3 2,1.4 0.1,1.7 -0.8,0.9 -0.8,-0.5 -1.6,0.3 -1.4,-1.6 -1.3,-0.6 -1,-1.8 -2.1,0.2 -0.2,-0.8 0.7,-1.7 1.2,0.2 1.1,1.3 1.6,-0.2 2.2,-2.3 0.8,-0.3zM207.5,231.6l0.1,0.8 -0.4,0.7 -0.8,0.4 -0.7,-0.4 0,-0.7 0.6,-0.8zM215.6,232.2l0,1.1 0.5,-0.2zM225.0,226.2l0.3,0.8 -0.5,0.4 -0.8,-0.4 0,-0.9z"/>
<path fill="#ffff19" fill-rule="evenodd" d="M211.0,192.6l-0.7,0 -0.8,0.8 -3.1,-0.1 -0.7,0.8 -1.5,0 -2.4,2.4 0,2.2 2.4,2.4 0.7,0 1.5,1.5 -2.3,2.3 0.8,0.7 0,1.5 0.7,0.8 0,1.5 3.1,3.1 0.8,0 0.7,0.8 -1.5,1.5 0,0.8 0.8,0.7 0.1,2.3 -0.4,0.8 -1.2,0.8 -0.4,-0.8 -0.4,0 -3.1,3 0,0.8 -0.7,0.7 -0.8,0 -2.4,2.3 0.1,0.8 -0.7,0.7 -5.4,0 -4.6,4.7 0,1.5 2.3,2.3 0,0.7 3,3.1 0,0.8 -0.7,0.7 -5.3,0 -4.6,4.6 4.5,4.6 -0.7,0.8 0,0.7 3.4,3.1 2.7,3.1 1.6,0 0.7,0.7 0.6,0 -0.6,-1.3 -1.5,-0.5 -0.5,-0.5 -0.1,-0.8 0.6,-0.6 2.3,1.2 1.4,0.2 0.3,0.8 -0.2,0.7 0.8,0.1 0.7,-0.8 0.8,0 0.8,0.7 -0.1,5.4 0.8,0.7 0,2.3 0.7,0.8 0,2.3 0.8,0.8 0,2.3 1.5,2.2 0.1,1.6 0.7,0.7 0,0.8 1.5,1.5 0,0.8 0.8,0.8 0,2.2 0.8,0.8 -0.1,1.5 0.8,0.8 0.1,1 0.7,0.2 0,1.9 1.5,1.5 0,0.8 0.8,0.7 0,0.8 1.5,2.3 0,1.5 0.8,0.8 0,2.3 0.7,0.7 0.1,0.8 1.5,-0.6 0.8,0.1 0.7,1.2 1.6,-0.2 0.4,0.2 -0.4,1.7 -0.8,0.2 -1.5,-0.7 0,0.4 3,3 0.8,0.1 0.8,-1 -0.9,-0.6 1.6,-0.1 0.8,-0.6 4.6,-4.6 -0.8,-1.7 2.3,0.2 0.8,-0.8 0,-0.6 -1.7,-0.2 -0.2,-0.8 0.3,-1.8 1.6,-1.1 0.1,0.6 1.4,0.7 0,-4.2 -1.6,-1 0,-0.8 0.8,-1.2 1.6,0 0.7,0.4 0,-3.8 -0.7,-0.8 0,-0.6 -1,0.6 0,1.6 -0.6,1.1 -0.7,0.7 -1.6,0.3 -0.7,0.9 -0.8,-0.1 -0.7,-2.2 0.7,-0.8 1.7,0.1 0.1,-0.8 -1.1,-3 0.5,-0.8 1.1,-1.2 2.3,-0.4 0.4,-0.7 -0.5,-0.8 -0.2,-2.3 0.3,-0.2 0.8,0.6 1.5,1.7 2.2,-2.8 0.1,-0.8 -1,-2.3 3.3,0.3 2.3,-0.6 1.5,-1.9 2.3,0 2.3,-2.5 -3.1,-0.7 -0.8,0.7 -0.7,0 -1.5,-1.6 -1.6,-0.9 -0.7,0.6 -0.5,1.3 0.9,3.8 -0.4,0.7 -0.8,-0.3 -0.8,-1.3 -0.7,-0.3 -0.8,0.4 -0.8,1.5 -1.4,0.1 -0.5,1.5 -1.9,1.9 -0.7,0.3 -1.6,-1 -0.7,0 -2.3,0.6 -0.5,1.2 0,2.3 -0.3,0.3 -1.5,-0.6 -1.1,-1.2 0,-1.5 -1.8,-0.8 1,-1.5 0.1,-0.8 -1.9,-0.7 0.1,-2.3 -1.1,-1.6 0.6,-0.7 1.7,-0.8 0,-0.8 -3.7,-0.8 -1.6,0.8 -0.2,-0.7 0.6,-3.1 -0.4,-0.4 -0.7,0.2 -1.1,-0.5 -1.1,-3.9 -1.2,-2.2 -0.1,-1.6 -1.6,-3 -2.1,-3.1 1.9,-0.8 2.2,-3 -0.2,-0.8 -0.5,-0.7 -0.8,0 -0.8,1.7 -0.7,0.2 -1,-0.4 -0.1,-0.8 1.5,-0.7 0.3,-1.6 -0.2,-0.7 -0.5,-0.2 -1.5,0.2 -0.8,0.6 -1.6,-0.3 -1.5,1.1 -2.3,-0.3 -0.7,1 -0.8,0.1 -1.5,-0.7 0.6,-1.5 0,-3.1 1.7,0.6 0.7,-0.2 0.5,-1.1 0.3,-1.6 -0.2,-0.7 -0.6,-0.4 -0.7,0.4 -0.8,0 0,-0.9 0.8,-1 4.5,-0.3 2.3,0.6 1.6,-1.9 3,1 1.6,-1.4 0.7,1 0.8,-0.8 0.7,-0.2 3.1,0.8 2.3,-2.3 1.5,-2.9 1.5,1 0.8,0 1.5,-0.7 2.3,0.2 1.6,-0.5 0.6,0.6 -0.6,1.5 -1.6,-0.1 -1.5,1.2 -1.5,0.1 -0.7,1.1 0,0.8 1.6,0.8 1.4,1.5 0.3,1.5 0.4,0.5 1.2,-0.5 0.3,-0.7 -0.3,-0.8 1.1,-1.1 0,-1 -0.9,-1 1.7,-0.8 1.2,-2.2 -0.4,-0.8 -1.6,-0.7 -0.6,-1.6 0.5,-0.7 3.2,-1.8 0,-0.5 -0.8,-0.8 -0.7,0 -2.3,-1.5 -0.8,0 -2.3,-2.3 0,-0.8 0,-0.7 2.4,-2.3 0,-0.8 -1.5,-1.5 1.5,-1.6 0,-0.7 3.8,-3.8 0,-1.6 -3.1,-3.1 -0.8,0 -0.8,-0.7 -4.6,-0.1 -0.7,0.8 -2.3,0.7 -2.3,-1.5 -0.8,0 -0.7,-0.7 -0.8,0 -0.8,-0.8 -0.7,0.1 -2.3,-2.4 -2.3,0zM217.5,286.6l0.2,1.5 -0.6,0.5 -0.9,-0.5 0,-1.5 0.2,-0.5 0.7,-0.1zM238.5,255.3l-2.3,1.2 -1.5,-0.7 -2.7,0.2 -1,0.8 -0.3,1.5 -0.6,0.6 -2.3,1 0.8,0.9 2,0.6 0.2,1.5 1.1,0.8 0,0.7 -0.2,0.4 -1.6,-0.3 -2.2,1.5 1.7,1.5 -0.9,0.8 -1.6,-0.9 -1.6,0.4 -1.9,1.2 -0.1,0.8 1.3,2.2 1.5,-0.9 0.8,0.9 0.7,0.1 0.8,-1.1 0.8,-0.4 2.3,-0.3 1.1,-2.8 1.8,-2.3 0.6,-2.3 1,-1.5 0.8,-0.3 0.8,0.2 0.5,0.9 -1.5,0.7 0.2,0.6 2.3,-0.2 0.4,-0.4 -0.4,-0.7 0.2,-0.8 1.1,-0.8 0.3,-0.7 -0.8,-2.7zM224.0,263.4l-1.2,1 1.2,0.1zM243.1,261.1l-1.5,-0.2 -0.7,2 0.1,0.8 0.6,0.6 0.8,-0.3 0.9,-1.1zM205.7,262.9l-0.8,0.4 -0.2,-0.4 0.2,-0.3zM224.0,256.8l-1.5,0.6 0,0.9 2.3,0 0.5,-0.7zM224.8,253.7l0,0.9 1,0.7 0.7,0 0.5,-0.8zM193.7,253.8l0.5,0.3 0,1 -0.7,0.1 -0.4,-0.7zM254.6,254.0l-0.8,0.1 0,0.6 0.8,0.2 0.5,-0.4zM293.5,222.3l-4.5,0 -0.8,0.8 -2.3,0 -0.8,0.7 -0.7,0 -1.6,1.6 -0.7,0 -1.5,1.5 -0.8,0 -1.5,1.5 -1.6,0.1 -3,3.1 -3.1,0.1 -0.8,0.7 -1.5,3.2 -0.8,-0.2 -0.7,-2.3 0,-0.9 0.8,-1.4 -0.8,-0.7 0,-0.8 -1.5,-1.2 -0.8,0.2 -1.5,-0.5 -2.3,3.1 0,2.3 -0.8,0.3 -4.5,-0.4 0,0.8 1.5,2.2 1.5,-0.8 1.2,0.9 -0.1,0.7 -1.9,0.6 -0.7,0.9 -0.1,2.4 -2.2,0.7 0,0.8 0.7,0.9 3.9,-2.8 1.5,0 2.3,-0.7 0.8,0.3 0.1,2.3 1.4,0.8 0,-1.6 2.3,-2.2 2.3,2.3 0.7,0 0.8,0.7 1.5,0 0.8,0.8 -1.6,1.5 0.8,0.7 0,1.6 0.7,0.7 0.1,0.8 2.3,2.4 0.7,-0.8 0.7,0.7 0.1,1.5 2.3,2.4 0.8,-0.1 3.8,-3.8 -2.3,-0.8 2.3,-1.5 0,-0.8 3.8,-3.8 0.8,-2.3 0.8,-0.7 0,-0.8 -0.8,-1.1 -0.8,-0.1 -0.7,-1.1 0.7,-1.3 0.8,-0.1 0.9,1.4 0.6,0 0.8,-0.8 0.1,-0.7 2.1,-2.2 0.8,0 0.8,0.8 1.5,0 2.4,-2.4 -0.8,-0.8 0,-0.8 1.6,-1.5 0,-0.8zM201.8,251.5l0.7,0.7 -1.4,1.2 -0.8,0 -2,-1.9 0.5,-0.4zM193.5,249.9l0.5,0.8 -0.5,0.8 -2.3,1 -0.3,-0.3 0.3,-1.8zM217.1,250.7l-1.5,0 -0.2,0.8 1,1.4 0.7,-0.2 0.4,-1.2zM252.3,244.4l-1.5,-0.5 -1.7,0.7 -0.5,0.7 -0.1,1.9 -2.4,0.4 -0.5,0.8 1.3,0.5 2.3,-0.1 2.3,3.5 0.8,0.2 1.5,-0.9 1.5,0.3 0.2,-2 1,-0.7 -0.2,-0.8 -1,-0.8 -0.8,-1.5zM264.5,246.5l-1.8,0.4 -0.2,0.7 0.9,1.6 -0.4,0.5 -1.2,0.2 -0.1,2.3 0.5,0.3 0.8,-0.3 0.7,-1.6 0.8,0.4 1.4,-0.3 0.3,-2.3 -0.3,-0.8zM267.6,249.4l-1.4,1.3 1.4,2 0.7,0.1 0.1,-2.1 -0.8,-0.8zM205.5,249.9l0.2,0.8 -0.8,0.8 -0.7,-0.5 0.2,-1.1 0.5,-0.2zM240.1,246.6l-0.8,-0.1 -0.3,0.4 -0.3,1.5 1.4,2.4 0.1,-1.6 0.9,-1.6zM201.4,247.6l-1.8,0.4 -1.6,1.7 -0.8,-0.5 0.1,-1.6 2.3,-0.4zM275.1,243.8l1,0.8 -0.9,0.8 -0.8,-0.8 0,-0.9zM208.3,243.8l-0.3,1.1 -1,-0.3 -0.3,-0.8 0.5,-0.4zM237.8,227.0l-1.4,0 1.2,1.5 1.7,1.2 1.5,-0.4 0.7,0.8 -0.7,3 -0.7,0.8 -0.8,0 -2.2,-1.5 -0.5,-1.6 -1.1,0 -0.6,1.6 -1.7,0.2 -0.8,0.5 -0.2,0.8 -2.1,2.1 -1,1.7 0.3,1.6 3,0.1 1.6,1.4 0.7,0 4.6,-1.1 0.9,-1.2 0.7,0.7 -1.1,1.6 0.2,1.5 1.2,0 0,-1.5 0.4,-0.5 0.8,0.1 0.8,1.1 0.1,2.3 1.3,0.9 0.8,-0.2 2.3,-1.9 2.3,-0.6 1.3,-1.2 0.5,-0.8 -1.3,-0.8 1,-1.2 0.8,-0.3 1.5,1.1 0.7,-0.3 0.3,-0.8 -1,-1.6 -0.3,-1.4 -4.3,-4.7 -0.7,0 -0.8,-0.7 -1.5,0 -2.3,0.7 -2.3,-1.5 -1.5,0.4zM281.4,237.7l1.5,2.3 1.8,1.5 -0.6,1.6 -0.5,0.1 -2.3,-1.5 -0.9,-1.7 -2.9,-2.2 -0.8,0.7 -0.8,-0.8 4.7,-0.4zM191.3,242.3l-0.9,0.5 -1.2,-0.5 1.2,-0.7 0.8,0.1zM214.1,236.1l-0.4,0.1 -0.6,2.3 1,0.5 1.5,-0.3 0.6,0.5 -1.3,0.5 -0.7,1.1 0.4,1.5 1,0.5 1.3,-1.3 0.3,-1.5 0.9,-1.5 -1,-0.7 -1.5,0.5zM274.5,238.5l1.5,1.8 0.9,0.5 0.5,0.7 -0.2,0.8 -0.5,0.2 -1.5,-1.4 -1.5,0.7 -0.8,-0.1 -0.7,-0.9 -1.8,-0.8 0.2,-1 3.1,-0.9zM226.3,239.2l-0.8,-0.2 -0.7,0.9 -0.9,0.1 0.9,0 0.7,1.8 1.6,-1 0.1,-0.8zM245.1,238.5l-0.5,0.9 -0.7,0.2 0,-1.8 0.7,0zM197.8,237.7l-0.5,1.1 -0.9,-0.3 0.1,-1.1 0.8,-0.2zM266.4,237.7l-0.5,0.8 -0.1,-0.8zM208.0,235.1l-1.6,1.4 -1.4,0.4 1.4,0.9 0.8,-0.3 1.4,-2.1zM225.5,229.9l-1.5,0.5 -1,1.2 0.3,1 1.6,0.5 -0.9,0.1 -1.5,1.2 -0.8,0 -0.7,-0.6 -0.8,0.6 0.1,1.8 -0.5,1.5 0.4,0.6 1.4,-0.6 -0.3,-1.5 0.4,-1 3.1,0 0.8,-1.3 1.5,-0.9 0.3,-1.4zM243.2,236.2l-0.4,0.7 -1.3,0 0.1,-0.9 0.8,-0.5zM249.9,233.9l0.8,0.8 -1.9,0 0.4,-1zM274.7,232.4l0.4,0.7 -0.7,1 -0.7,0 -1,-1 0.4,-0.7 0.6,-0.3zM208.7,232.3l0,1.5 0.4,-0.7zM220.2,230.5l-1.5,0.9 0,1.3 0.7,0.2 0.8,-0.3 1,-1zM246.5,231.6l-0.3,1.2 -2,-0.4 0.2,-0.8 1.8,-0.3zM225.3,221.7l0.3,0.7 -0.8,1.2 -2.3,-1.1 -0.3,-0.8 0.3,-0.7zM207.7,221.7l0.1,0.7 -0.6,0.1 -0.8,-0.8 0.8,-0.4zM236.2,220.1l-0.5,0 0.5,0.8 0.8,0zM221.5,218.6l0.1,0.8 -0.6,0.5 -1.7,-0.5 0.1,-0.8 0.8,-0.6 0.8,0zM230.2,217.8l-0.1,1 -2.3,-0.2 1.4,-0.8zM223.7,217.1l-0.4,0.8 -1.3,-0.8 0.5,-0.7zM214.5,214.8l-0.4,0.5 -1,-0.5 1,-0.8z"/>
<path fill="#ffa31a" fill-rule="evenodd" d="M208.7,248.4l-0.6,1.5 -1.4,0.8 -0.9,2.3 -0.9,0.9 -1.5,0.7 -0.8,-0.1 -1.6,1.5 0.1,0.9 1.5,-0.2 2.3,1 1.5,-0.4 0.8,0.4 0.2,0.6 -0.7,2.3 1.1,1.6 0,1.5 -4.4,1.5 0,1.1 1.1,0.4 -1.1,1.1 0,1.5 1.5,-1.7 1.5,-0.7 0.8,-0.2 0.7,0.8 -2.1,3.1 0.1,0.7 2.9,0.8 0,0.8 -0.8,1 -1.6,0.7 -0.2,1.3 1.2,1.5 -0.2,1.6 0.7,0.7 0.1,0.8 1.5,-0.1 0.8,0.7 0,2 3,-0.2 0.5,0.6 -1.2,1.6 0.7,1.9 1.6,0.1 1.5,-2.1 1.8,0.1 0.7,2.3 -0.6,1.5 -0.4,0.8 -1.8,0 -1,2.3 0.3,3.8 1.5,2.3 -0.5,0.7 -0.8,-0.5 0,2.1 3.1,-0.3 2.3,0.5 4.5,3.4 0.8,-1 0.5,-1.9 -0.7,-2.3 1,-1.7 0.9,-0.6 0.2,-1.5 -1.4,-2.3 -1.6,-1.5 0.7,-1.5 -1.1,-2.3 -0.8,0.3 -0.7,1.4 -0.8,0.2 -1.2,-0.4 -0.7,-1.5 1.5,-1.6 0.4,-2 0.8,0.3 1.3,-1.3 1.3,-3.1 -0.4,-0.8 -0.7,-0.4 -2.3,1.3 -0.5,0.7 -0.3,1.7 -1,-0.2 -0.5,-1.5 -0.9,-0.8 0.1,-0.3 0.8,1 1.5,-0.4 0.5,-0.3 -0.1,-0.7 0.4,-0.8 0,-0.8 -1.5,0 -1.6,1.3 -1,-1.3 0.3,-1.8 0.7,-0.3 0.8,0.5 0.3,-0.7 -1,-3.8 0.7,-1.5 0,-1.5 -0.8,-0.7 -1.5,0.4 -0.8,-0.3 -0.9,-1.7 -1,-0.8 -0.4,-0.8 0.6,-1.5 -0.9,-2.3 -1.2,-1.4 -1.5,-0.9 0,-1.5 0.9,-0.8 -1.4,-3 -0.3,-0.1 -0.2,0.9 -0.5,0.2 -1.1,-0.2 -0.7,-0.8 0.2,-1.1 1.6,-1.2 -0.2,-0.8zM210.3,284.1l-0.8,0.6 0,1.1 0.8,0.5 0.5,-1.2zM220.0,283.5l0.4,0.8 -1,1.2 -0.6,-0.4 0,-0.8 0.6,-1.3zM229.4,274.3l-1.8,0.8 0.2,1.9 0.8,1.1 0.8,-0.2 0.7,-1.1 1.6,0.3 0.1,-0.4 -0.4,-0.8zM235.5,273.4l-0.8,1 0.8,0.9 0.7,-0.9 -0.1,-0.8zM204.9,270.4l-0.7,-0.3 0,1.7 1,-0.5 0.2,-0.7zM242.4,267.2l-0.8,-0.3 -0.4,0.6 0.4,1.1 0.9,-0.3 0.2,-0.8zM234.7,261.2l-0.7,-0.4 -0.9,0.6 0,0.8 0.9,0zM204.2,259.4l-1.5,1.2 0.7,1.3 1.9,-1.3zM238.5,258.5l-0.7,0.3 -0.5,1.1 1.2,0.8 1,-0.8zM282.8,245.4l-2.2,0.5 -1.6,1.4 -1.7,0.3 -0.5,0.8 0.5,0.8 -0.5,0.7 0.7,0.8 0,1.2 1.3,1.1 0.2,0.8 0.8,-0.8 0.7,-1.5 -0.7,-1.4 -1.4,-0.9 1.4,-1.1 1.5,0.1 1.2,-0.6 0.7,-0.7 0.1,-0.8zM188.9,248.9l-1.4,0.3 1.4,1.2 0.7,-0.5 -0.2,-0.7zM193.5,243.0l-0.8,-0.3 -1.5,1 -3.1,0.9 -1.3,1.5 0.2,0.8 0.3,0.4 1.6,-0.8 0.7,0.2 1.2,0.9 0.3,0.8 0.8,0.2 0.9,-0.2 -1.2,-0.8 1.6,-0.7 1.8,0.4 0.7,-1.2 -0.1,-0.8 -1,-1.5zM251.5,244.9l-0.7,-0.2 -1.1,0.6 0.3,2.2 0.8,0.3 1.6,-0.9 0.1,-0.8zM207.2,245.9l-0.8,-0.2 -0.2,0.4 1,1 0.5,-0.2zM285.9,245.7l-1.4,0.4 0.3,0.8 1.1,-0.8zM282.1,243.8l-0.9,0 0.1,0.8 0.8,0.5 0.4,-0.5zM195.8,239.6l-0.8,-0.3 0,1.6 1.4,1.4 0.1,0.9 0.8,0.5 1.3,-1.4 0.1,-0.8 -0.7,-1.1zM287.4,240.9l-1.2,1.4 -0.2,0.8 0.7,0.3 1.1,-0.3 0.1,-1.6zM206.4,240.2l-0.8,0.6 0.8,0.9 0.8,-0.9zM248.5,240.0l-1.6,0.7 -0.7,-0.9 -0.4,0.2 0.1,0.8 1.8,0.4 1.5,-0.3 0,-0.5zM266.0,240.1l-0.7,0.5 0,0.8 0.8,-0.6zM269.1,237.6l-0.8,-0.2 -0.7,1.8 0.7,0.8 0.8,-0.1 0.3,-0.7 0.1,-0.7zM283.6,234.6l-0.8,-0.4 -0.6,0.5 -0.2,2.2 0.8,0.9 2.1,0.7 -0.1,0.7 1.1,0.7 0.6,-0.7 -0.5,-0.7 0.5,-2.3zM238.5,234.6l-0.7,-0.5 -1.6,0 -1.5,0.8 -1.5,0 -0.3,0.5 0.1,0.8 -1.5,1.5 0.9,0.6 2.3,-0.2 1.5,0.8 2.3,-2.8 0.8,0.3 0.9,-0.2 -0.4,-0.8zM249.2,236.2l-1.3,0.7 2.1,0zM293.5,222.4l-4.5,0 -0.8,0.7 -2.3,0 -0.8,0.8 -0.7,0 -1.6,1.5 -0.7,0 -1.5,1.5 -0.8,0 -1.5,1.6 -1.6,0 -0.7,0.8 0.3,0.8 -0.9,0.7 -0.1,0.8 0.7,1.5 0.7,0.4 0.8,-0.4 0.8,-2.1 0.7,-0.4 0.8,0.6 0.5,1.9 1,0.6 2.3,-2.4 3.1,-1.1 1.5,0.6 0.5,0.8 2,5.3 0.6,0 0,-0.7 2.2,-2.3 0.8,0 0.8,0.8 1.5,0 2.3,-2.3 -0.7,-0.8 0,-0.8 1.5,-1.5 0,-0.8zM196.5,227.8l-2.3,-0.1 -1.5,1.6 -0.8,0.8 0.2,0.7 -1.7,3.1 1.5,0 1.6,-0.8 0.7,0.4 0.5,1.2 -0.3,1.5 0.6,0.7 3,-1.1 0.5,-2.7 0.3,-0.6 0.8,0.1 0.4,-1.8 -0.4,-0.5 -1.6,0.1 -0.7,-0.6zM265.3,235.1l-1.6,0.2 -0.6,0.9 0.6,0.7 0.8,-0.3 0.6,-0.4zM276.0,235.0l-0.4,0.4 0.4,0.6 0.6,-0.6zM201.9,233.6l-0.9,0.3 0.3,0.8 0.6,0.2 0.3,-1zM242.4,231.8l-0.7,2.1 1.4,0.3 1.5,1 1.3,-0.5 0,-0.8 -2.7,-0.8zM265.3,229.2l-2.3,-0.2 -1.3,2.6 0.5,2 0.8,0.4 1.9,-0.9 0.9,-1.5 0.5,-1.5zM291.6,233.1l0.1,0.8 -0.4,0.3 -0.6,-0.3 0.3,-0.8zM292.9,230.8l0.2,0.8 -0.3,0.2 -0.3,-0.2zM215.6,216.8l-0.8,0.3 -0.7,1.2 -2.3,-0.3 -1.2,1.4 -0.4,0.7 1.4,1.6 -0.4,1.5 0.2,0.8 -0.4,0.3 -3.8,-0.5 -1.5,0.5 -0.8,1.2 -0.7,-0.1 -0.2,-1.4 -1.4,-0.1 -2.3,2.3 0,1.2 5.4,1.4 2.3,1.1 2.3,-1.8 2.3,0.4 3.8,-2.8 0.7,0.5 -0.4,0.8 0.5,0.8 1.5,0.3 1.2,-0.3 0.2,-0.8 -0.6,-1.5 -3.3,-3.1 0.2,-0.7 0.7,-0.4 2.3,1.8 1.6,0.3 0.4,-0.2 -0.3,-1.5 -0.9,-0.9 -2.3,-0.4 -0.3,-1zM224.8,219.3l-0.4,0.1 0.4,0.7zM212.6,216.8l-0.5,0.3 0.5,0.6 0.5,-0.6zM229.4,215.5l-1,0.8 1,0.1zM208.7,193.4l-2.3,-0.1 -0.7,0.8 -1.5,0 -2.3,2.4 -0.1,2.2 2.4,2.4 0.7,0 1.5,1.8 2.6,1.2 -1.8,1.1 -0.8,-0.8 -0.8,-0.3 -0.7,0 -0.8,0.8 0.8,0.7 0,1.5 0.8,0.5 1.5,-1.6 2.3,1 0.4,0.9 -1.3,2.3 1.7,1.4 0.7,0.2 3.9,-0.7 1.2,0.6 0.9,1.6 3.2,1.2 0.8,0.6 3.8,0.3 0.6,-0.6 -1.4,-1.4 -3,0.5 -0.7,-0.6 -0.1,-0.8 0.5,-0.8 1,-0.2 2.1,1 0.2,0.5 0.2,-0.5 2.1,-0.9 0.9,0.1 0.6,1 0.8,-0.1 2.3,-1.6 0,-0.8 -1.4,-1.5 1.5,-1.6 0,-0.7 3.8,-3.8 -0.1,-1.6 -1.5,-1.5 -0.8,-0.5 -0.7,0.2 -0.8,-0.5 -0.7,-0.7 -0.1,-0.8 -4.6,0 -0.7,0.7 -2.3,0.8 -2.3,-1.5 -0.8,0 -0.7,-0.8 -1.6,-0.1 -2.2,0.5 -1.6,1.3 -0.2,-0.9 0.4,-1.5 -1.7,-2.3 -0.6,0.8 -1.7,0.4 -1.5,1.3 -0.8,-0.2 1.5,-1.5 0.3,-0.8zM212.3,203.3l0,0.8 -0.7,0.8 -0.6,0.3 -0.7,-0.3 0,-0.8 0.7,-0.9 0.8,-0.2zM213.3,193.4l-1.5,0 0.8,0.7 1.2,-0.7z"/>
<path fill="#ff401a" fill-rule="evenodd" d="M219.4,288.6l-0.7,1.7 -1.6,0.5 -0.7,0.9 0,1 1,1.5 -0.4,1.6 0.9,1 2.3,0.8 1.5,1.5 1.6,-0.5 1.5,0 0.8,-1.3 -1.3,-1.5 -0.1,-0.8 1.3,-1.1 0.3,-0.4 -0.3,-0.5 -2,-1 -0.4,-1.6 -2.1,-0.2 -0.8,-1.2zM217.1,282.6l-0.7,0 -0.4,0.9 1.1,0.3 0.5,-0.3zM215.6,280.1l-3,-0.3 -0.8,0.6 -0.3,0.9 0.3,0.6 1.5,-0.5 1.6,0.9 0.7,0 0.3,-1zM209.5,255.1l-1.4,0.2 1.1,1.5 -0.4,6.1 1.1,2.3 -0.8,0.8 0.1,2.3 -0.3,1.5 1.9,1.5 0.4,2.3 -0.9,1.6 -1.6,-0.1 -0.6,0.8 0.6,0.7 1.6,-0.5 3,1.2 0.9,-1.4 2.9,-1.1 0.7,-1.2 -0.1,-0.7 -0.7,-0.8 -0.2,-1.5 -0.8,-0.8 -0.5,-3.1 -2.4,-3 0.4,-3.1 -0.6,-0.7 -1.8,-0.8 -0.7,-0.8 0,-2.3zM218.7,268.9l-0.5,0.9 0.7,0 0.5,-0.8zM207.2,253.7l-0.8,-0.1 -0.3,0.9 1.4,0zM192.7,243.6l-1.9,1.7 1.9,0.4 1.1,-0.4 -0.3,-1.3zM235.5,236.7l-0.8,-0.2 -0.1,0.4 1.2,0zM293.5,222.4l-3.3,0 -0.9,0.8 1.4,2.3 0.6,2.1 3,1.5 0.4,-0.6 -0.6,-1.5 0.2,-0.3 1.5,1.3 0.4,1.3 -0.6,0.8 0.5,1.5 -0.9,0.8 -0.2,0.7 1.6,0.6 1.5,-1.3 0,-1.6 1.1,-1.5 -1.8,-3.1zM195.0,228.2l-1.8,1.1 0.8,1.5 -0.3,0.8 0.4,0.8 1.7,0.4 1,-1.2 -0.1,-0.8 -0.9,-0.7 -0.1,-1.6zM264.5,229.9l-0.8,0.3 0,1.7 0.8,-0.1 0.8,-1 -0.2,-0.7zM288.2,223.2l-2.2,0 -0.9,0.7 -0.7,0 -1.6,1.6 -0.7,0 -1.5,1.5 -0.8,0 1.1,2.3 0.4,2.4 3.8,-3.2 1.6,0.4 0.7,-0.4 1.6,-1.8 0.5,-1.2 0,-1.5 -0.7,-0.8zM289.7,228.8l-0.7,0.5 0.7,1.2 0.7,-0.4zM208.0,225.2l-1.1,0.3 -1.3,1.5 0.4,0.8 2,0.7 1.8,-1.5zM212.6,226.4l-1.2,0.6 1.2,0.3 0.3,-0.3zM202.6,224.3l-1.5,1.2 -0.3,0.7 1.8,0.6 0.7,-0.6zM214.1,221.5l-1.7,0.9 0.9,1.3 1.6,0.6 0.3,-1.9 -0.3,-0.7zM227.8,197.2l-0.8,0 -0.7,0.8 -1.5,0.6 -0.8,-0.3 -0.7,0.4 -3.9,0 -0.8,0.8 -0.3,2.3 -1.2,1.5 1,4.6 0.6,0.3 0.9,-1.1 1.7,0 1.4,1.6 -0.4,1.5 1,1 1.4,-0.2 2.4,-2 2.3,1 0.7,-0.1 0,-0.5 -0.7,-0.7 1.5,-1.6 0,-0.7 0.8,-1.4 0.7,-0.1 0.4,-0.8 -0.8,-1.5 -3.4,-2.8 -0.8,-1.8zM212.6,208.9l-1,0.5 1,0.5 0.3,-0.5zM205.7,196.8l-1.5,0.2 -1.2,1.7 0.4,1.4 0.8,0.7 1.5,-0.2 2.3,-1.7 1.3,-0.2z"/>
</g>
<path d="M213.9,212.9 216.0,210.6 219.4,209.4 222.9,210.6 225.5,212.1 M216.0,212.1 216.0,214.4 217.5,216.7 219.4,218.2 221.0,219.8 222.5,220.1 M222.5,220.1 223.3,218.2 225.2,217.1 227.1,216.5 M208.4,221.7 211.0,222.0 213.3,223.2 216.0,222.4 217.5,221.3 219.8,219.8 219.4,218.2 M211.0,222.0 210.7,224.0 213.7,225.9 214.5,228.2 216.8,229.3 219.4,230.5 221.3,229.7 M222.5,220.1 221.0,222.8 220.6,225.5 221.7,228.2 221.3,229.7 M222.5,220.1 223.6,222.0 225.5,223.2 227.5,224.7 229.8,225.9 232.0,225.9 M221.3,229.7 222.5,232.7 225.2,233.9 221.7,236.2 219.4,238.5 219.8,240.8 217.1,242.3 215.6,243.8 213.3,242.3 211.8,243.8 210.7,246.5 209.9,248.0 M209.9,248.0 207.2,246.5 205.7,243.8 203.4,242.5 201.1,242.3 197.7,242.1 M214.5,227.8 212.2,230.1 212.9,232.4 211.0,234.7 209.5,236.9 207.6,238.5 206.1,240.4 203.4,242.5 M225.2,233.9 228.2,236.2 226.3,238.9 225.2,242.7 227.5,243.1 228.6,240.4 232.8,240.8 236.6,240.4 240.1,241.9 242.4,244.6 244.5,244.2 M232.8,227.0 230.9,230.8 229.8,233.9 229.4,236.9 229.0,240.4 M246.6,231.6 247.7,235.0 248.5,237.7 245.4,239.6 244.5,242.7 244.5,244.2 M244.5,242.7 248.1,242.7 250.8,243.1 253.4,241.5 256.5,242.3 258.8,241.1 261.5,240.0 M262.6,235.2 261.8,236.9 262.2,238.5 261.5,240.0 M261.5,240.0 259.9,243.8 256.9,245.7 254.2,247.3 256.1,249.6 258.0,251.5 M258.0,251.5 259.2,252.6 260.3,253.8 M261.5,240.0 263.0,241.9 M258.0,251.5 254.6,250.7 252.3,251.8 250.8,251.5 248.5,250.7 246.9,250.3 M246.9,250.3 245.4,248.4 246.9,246.5 245.8,245.3 244.5,244.2 M246.9,250.3 244.6,253.8 241.6,256.4 240.8,259.9 239.3,261.4 239.3,264.4 237.0,267.9 M237.0,267.9 240.4,266.4 243.9,264.8 246.9,263.7 249.8,263.3 M242.4,244.6 239.3,245.3 237.8,246.9 238.2,248.8 235.5,250.7 234.7,253.4 234.1,254.9 M234.1,254.9 231.7,253.8 229.0,253.4 225.5,254.1 222.5,254.5 219.1,254.9 216.8,254.5 213.3,254.5 210.7,253.4 209.9,252.2 M209.9,252.2 209.1,250.3 209.9,248.0 M225.2,242.7 224.8,245.3 226.3,247.6 225.2,250.3 225.5,254.1 M234.1,254.9 233.6,257.6 234.0,259.1 233.2,261.0 234.7,262.5 233.0,265.2 M233.0,265.2 234.7,266.7 235.5,268.3 237.0,267.9 M233.0,265.2 231.3,264.1 231.3,262.2 228.6,261.8 227.1,261.0 225.2,262.2 223.3,263.7 223.6,265.6 222.1,266.4 M222.1,266.4 219.8,268.7 217.5,270.2 215.2,269.8 214.9,271.7 212.2,272.1 210.3,273.2 209.9,275.1 209.1,276.3 M209.1,276.3 209.9,278.2 209.1,279.3 M206.4,259.1 207.2,261.8 206.8,264.4 207.2,267.5 208.0,270.6 208.4,273.2 209.1,276.3 M204.0,259.3 206.4,259.1 208.4,257.2 208.0,255.3 209.9,254.1 208.4,253.4 209.9,252.2 M216.4,257.6 212.6,258.7 211.4,260.6 213.3,262.5 213.3,264.8 215.6,266.7 217.5,268.3 217.9,269.8 M216.4,257.6 218.3,259.1 221.0,260.2 221.3,261.4 223.6,260.6 225.2,262.2 M216.4,257.6 217.1,256.0 216.8,254.5 M235.5,268.3 233.6,270.6 231.7,271.7 229.4,272.9 228.6,274.4 225.9,275.1 224.0,275.5 221.7,275.5 M221.7,275.5 221.3,273.6 222.1,271.3 221.7,269.0 222.1,266.4 M227.8,274.8 227.5,277.8 228.6,279.7 229.4,282.0 230.1,283.5 231.7,284.7 M221.7,275.5 220.2,278.2 219.4,280.1 220.2,281.6 221.7,282.8 222.1,283.9 224.0,284.7 225.5,285.5 225.0,287.6 M225.0,287.6 226.3,287.0 228.6,286.2 230.5,285.5 232.8,284.7 M225.0,287.6 223.3,288.1 222.5,289.7 221.0,291.2 219.8,291.2 217.9,292.0 M217.9,292.0 219.1,293.5 219.4,295.4 219.8,296.9 221.0,297.3 221.3,299.6 221.0,301.9 221.3,303.8 220.6,304.6 M217.9,292.0 216.4,290.8 214.5,289.3 213.3,288.1 212.2,287.6 M209.9,278.2 211.4,280.9 212.2,283.5 213.3,285.8 214.1,288.1 214.5,289.3 M211.4,280.9 214.5,280.9 216.4,279.3 217.9,279.0 219.4,280.1 M202.6,251.1 201.1,249.6 200.3,247.6 198.0,246.1 197.7,244.6 197.7,242.1 M277.9,233.7 281.3,233.1 285.1,231.6 289.0,230.1 291.3,229.7 292.4,230.8 291.6,232.0 290.5,232.6 289.7,233.5 M289.7,233.5 286.3,235.4 283.6,238.1 282.8,240.8 281.3,242.7 278.6,243.4 277.9,243.1 M269.3,236.9 269.3,234.3" fill="none" stroke="#000" stroke-width="0.5" stroke-linejoin="round" opacity="0.9"/>
<path d="M186.4,245.9 188.1,243.8 189.6,243.4 193.5,243.8 195.8,243.1 197.7,242.1 196.9,240.0 195.9,238.1 193.8,237.3 193.8,234.8 191.5,233.9 191.9,232.0 194.8,229.3 197.3,229.9 200.7,229.5 202.6,226.2 204.9,224.7 206.4,221.9 208.7,220.5 211.2,217.5 210.8,214.8 213.7,212.9 211.4,211.7 209.1,210.6 207.6,209.4 207.0,206.8 206.4,204.9 209.1,202.2 206.1,200.3 203.4,198.4 203.8,196.5 207.2,195.3 210.7,194.7 214.1,195.5 216.4,197.2 219.8,199.1 223.3,200.7 225.5,199.1 229.0,198.7 232.8,200.7 232.8,202.9 230.1,204.9 227.8,208.7 229.6,211.4 226.7,211.7 225.5,212.9 227.1,214.4 226.9,216.3 229.0,217.5 232.0,219.4 235.5,220.9 233.6,222.4 232.0,225.9 234.0,227.0 236.6,228.7 239.3,229.7 242.0,230.8 244.3,231.8 247.3,231.2 249.4,232.4 251.5,233.9 253.8,234.7 257.3,235.2 259.5,235.4 262.6,235.2 262.8,233.1 262.4,229.7 264.9,228.9 265.7,231.2 265.3,232.7 266.0,233.7 269.1,234.3 271.4,233.7 274.4,233.9 277.9,233.7 276.5,231.6 276.0,230.1 278.6,230.1 280.9,228.5 283.6,226.6 286.3,225.1 289.0,224.7 291.6,224.3 293.9,224.0 295.1,226.2 297.9,228.4 297.0,230.1 296.2,231.6 297.2,232.7 293.5,232.2 290.9,233.9 289.3,235.4 289.3,236.9 287.4,239.2 287.8,240.8 285.9,244.6 283.2,244.6 282.7,247.3 282.1,251.1 280.9,252.2 279.8,252.2 278.8,248.8 278.6,245.7 277.3,245.7 276.0,248.6 274.6,246.9 274.4,244.6 276.0,244.2 277.9,243.1 279.2,240.8 274.8,240.0 271.4,240.0 269.3,239.6 269.1,236.9 266.8,236.6 264.9,235.4 263.7,234.7 262.8,237.7 265.7,239.6 263.7,241.1 262.6,242.3 265.1,243.8 264.9,247.3 265.8,248.8 266.2,251.8 266.4,253.6 264.5,253.8 262.6,253.6 261.5,253.4 259.2,253.9 257.8,256.0 258.0,257.2 256.5,259.1 255.3,260.2 252.7,261.0 251.1,262.2 250.0,263.3 247.3,266.4 245.0,268.3 240.8,271.3 240.4,272.9 238.2,273.8 236.2,275.1 234.7,275.9 232.8,276.7 231.9,279.0 232.2,282.8 232.8,285.5 232.6,288.1 231.1,291.2 231.1,296.5 229.0,296.9 227.8,299.2 227.6,300.7 224.8,302.3 224.0,304.2 222.3,305.4 220.6,304.6 218.5,302.3 217.5,299.6 217.1,297.3 216.0,294.6 214.9,292.0 213.3,289.7 212.0,287.0 211.0,283.5 210.1,280.5 208.7,278.2 207.6,275.9 206.4,273.2 205.7,269.8 204.7,266.0 204.2,263.7 203.8,260.6 204.0,258.3 204.5,256.0 203.4,253.8 204.2,251.5 201.9,252.2 201.9,254.9 199.2,256.4 196.9,257.2 194.2,256.0 191.2,253.4 189.4,251.1 190.8,250.7 193.5,249.9 195.0,248.4 192.7,249.0 190.4,249.2 188.1,247.6Z" fill="none" stroke="#111" stroke-width="0.6" stroke-linejoin="round"/>
<path d="M263.9,250.3 266.5,250.3 266.6,253.9 263.0,253.9Z" fill="#0a0a0a"/>
<circle cx="187.2" cy="245.8" r="0.8" fill="#111"/>
<path d="M280.9,284.3 281.7,285.8 281.3,288.9 281.1,292.0 280.2,292.3 279.8,289.7 280.4,286.6Z" fill="#262b12" stroke="#111" stroke-width="0.5"/>
<path d="M279.0,294.6 279.8,295.4 279.6,296.2 278.8,295.8Z" fill="#262b12" stroke="#111" stroke-width="0.5"/>
<path d="M280.2,300.9 280.7,301.3 280.4,301.7Z" fill="#222" stroke="#111" stroke-width="0.4"/>
<path d="M282.8,304.6 283.6,305.3 283.2,306.1 282.5,305.7Z" fill="#222" stroke="#111" stroke-width="0.4"/>
<path d="M284.0,308.4 284.9,309.5 284.6,310.5 283.8,309.7Z" fill="#222" stroke="#111" stroke-width="0.4"/>
<path d="M282.5,308.0 283.0,308.4 282.7,308.8Z" fill="#222" stroke="#111" stroke-width="0.4"/>
<circle cx="201.9" cy="291.6" r="0.4" fill="#3a3a3a"/>
<circle cx="203.8" cy="293.5" r="0.4" fill="#3a3a3a"/>
<circle cx="203.6" cy="295.8" r="0.4" fill="#3a3a3a"/>
<circle cx="204.9" cy="297.7" r="0.4" fill="#3a3a3a"/>
<circle cx="202.2" cy="294.6" r="0.4" fill="#3a3a3a"/>
<circle cx="207.4" cy="297.9" r="0.4" fill="#3a3a3a"/>
<circle cx="201.9" cy="294.8" r="0.4" fill="#3a3a3a"/>
<circle cx="205.1" cy="304.6" r="0.4" fill="#3a3a3a"/>
<circle cx="204.0" cy="292.3" r="0.4" fill="#3a3a3a"/>
<circle cx="200.7" cy="290.8" r="0.4" fill="#3a3a3a"/>
<circle cx="208.7" cy="293.5" r="0.4" fill="#3a3a3a"/>
<circle cx="206.8" cy="290.8" r="0.4" fill="#3a3a3a"/>
</g>
<rect x="186.4" y="187.4" width="112.2" height="130.0" fill="none" stroke="#a9a9a9" stroke-width="0.7"/>
<text class="t" x="237.4" y="194.4" font-size="6.5" text-anchor="middle">IMD-SM2RAIN</text>
<text class="k" x="201.1" y="186.5">72°E</text>
<text class="k" x="201.1" y="320.8">72°E</text>
<text class="k" x="224.0" y="186.5">78°E</text>
<text class="k" x="224.0" y="320.8">78°E</text>
<text class="k" x="246.9" y="186.5">84°E</text>
<text class="k" x="246.9" y="320.8">84°E</text>
<text class="k" x="269.9" y="186.5">90°E</text>
<text class="k" x="269.9" y="320.8">90°E</text>
<text class="k" x="292.8" y="186.5">96°E</text>
<text class="k" x="292.8" y="320.8">96°E</text>
<text class="k" transform="translate(185.6,198.7) rotate(-90)">36°N</text>
<text class="k" transform="translate(301.7,198.7) rotate(-90)">36°N</text>
<text class="k" transform="translate(185.6,221.7) rotate(-90)">30°N</text>
<text class="k" transform="translate(301.7,221.7) rotate(-90)">30°N</text>
<text class="k" transform="translate(185.6,244.6) rotate(-90)">24°N</text>
<text class="k" transform="translate(301.7,244.6) rotate(-90)">24°N</text>
<text class="k" transform="translate(185.6,267.5) rotate(-90)">18°N</text>
<text class="k" transform="translate(301.7,267.5) rotate(-90)">18°N</text>
<text class="k" transform="translate(185.6,290.4) rotate(-90)">12°N</text>
<text class="k" transform="translate(301.7,290.4) rotate(-90)">12°N</text>
<text class="k" transform="translate(185.6,313.3) rotate(-90)">6°N</text>
<text class="k" transform="translate(301.7,313.3) rotate(-90)">6°N</text>
</g>
<g>
<clipPath id="f6"><rect x="307.1" y="187.4" width="112.2" height="130.0"/></clipPath>
<clipPath id="c6"><path d="M307.1,245.9 308.8,243.8 310.3,243.4 314.2,243.8 316.5,243.1 318.4,242.1 317.6,240.0 316.6,238.1 314.5,237.3 314.5,234.8 312.2,233.9 312.6,232.0 315.5,229.3 318.0,229.9 321.4,229.5 323.3,226.2 325.6,224.7 327.1,221.9 329.4,220.5 331.9,217.5 331.5,214.8 334.4,212.9 332.1,211.7 329.8,210.6 328.3,209.4 327.7,206.8 327.1,204.9 329.8,202.2 326.8,200.3 324.1,198.4 324.5,196.5 327.9,195.3 331.4,194.7 334.8,195.5 337.1,197.2 340.5,199.1 344.0,200.7 346.2,199.1 349.7,198.7 353.5,200.7 353.5,202.9 350.8,204.9 348.5,208.7 350.3,211.4 347.4,211.7 346.2,212.9 347.8,214.4 347.6,216.3 349.7,217.5 352.7,219.4 356.2,220.9 354.3,222.4 352.7,225.9 354.7,227.0 357.3,228.7 360.0,229.7 362.7,230.8 365.0,231.8 368.0,231.2 370.1,232.4 372.2,233.9 374.5,234.7 378.0,235.2 380.2,235.4 383.3,235.2 383.5,233.1 383.1,229.7 385.6,228.9 386.4,231.2 386.0,232.7 386.7,233.7 389.8,234.3 392.1,233.7 395.1,233.9 398.6,233.7 397.2,231.6 396.7,230.1 399.3,230.1 401.6,228.5 404.3,226.6 407.0,225.1 409.7,224.7 412.3,224.3 414.6,224.0 415.8,226.2 418.6,228.4 417.7,230.1 416.9,231.6 417.9,232.7 414.2,232.2 411.6,233.9 410.0,235.4 410.0,236.9 408.1,239.2 408.5,240.8 406.6,244.6 403.9,244.6 403.4,247.3 402.8,251.1 401.6,252.2 400.5,252.2 399.5,248.8 399.3,245.7 398.0,245.7 396.7,248.6 395.3,246.9 395.1,244.6 396.7,244.2 398.6,243.1 399.9,240.8 395.5,240.0 392.1,240.0 390.0,239.6 389.8,236.9 387.5,236.6 385.6,235.4 384.4,234.7 383.5,237.7 386.4,239.6 384.4,241.1 383.3,242.3 385.8,243.8 385.6,247.3 386.5,248.8 386.9,251.8 387.1,253.6 385.2,253.8 383.3,253.6 382.2,253.4 379.9,253.9 378.5,256.0 378.7,257.2 377.2,259.1 376.0,260.2 373.4,261.0 371.8,262.2 370.7,263.3 368.0,266.4 365.7,268.3 361.5,271.3 361.1,272.9 358.9,273.8 356.9,275.1 355.4,275.9 353.5,276.7 352.6,279.0 352.9,282.8 353.5,285.5 353.3,288.1 351.8,291.2 351.8,296.5 349.7,296.9 348.5,299.2 348.3,300.7 345.5,302.3 344.7,304.2 343.0,305.4 341.3,304.6 339.2,302.3 338.2,299.6 337.8,297.3 336.7,294.6 335.6,292.0 334.0,289.7 332.7,287.0 331.7,283.5 330.8,280.5 329.4,278.2 328.3,275.9 327.1,273.2 326.4,269.8 325.4,266.0 324.9,263.7 324.5,260.6 324.7,258.3 325.2,256.0 324.1,253.8 324.9,251.5 322.6,252.2 322.6,254.9 319.9,256.4 317.6,257.2 314.9,256.0 311.9,253.4 310.1,251.1 311.5,250.7 314.2,249.9 315.7,248.4 313.4,249.0 311.1,249.2 308.8,247.6Z"/></clipPath>
<g clip-path="url(#f6)">
<g clip-path="url(#c6)">
<path d="M307.1,245.9 308.8,243.8 310.3,243.4 314.2,243.8 316.5,243.1 318.4,242.1 317.6,240.0 316.6,238.1 314.5,237.3 314.5,234.8 312.2,233.9 312.6,232.0 315.5,229.3 318.0,229.9 321.4,229.5 323.3,226.2 325.6,224.7 327.1,221.9 329.4,220.5 331.9,217.5 331.5,214.8 334.4,212.9 332.1,211.7 329.8,210.6 328.3,209.4 327.7,206.8 327.1,204.9 329.8,202.2 326.8,200.3 324.1,198.4 324.5,196.5 327.9,195.3 331.4,194.7 334.8,195.5 337.1,197.2 340.5,199.1 344.0,200.7 346.2,199.1 349.7,198.7 353.5,200.7 353.5,202.9 350.8,204.9 348.5,208.7 350.3,211.4 347.4,211.7 346.2,212.9 347.8,214.4 347.6,216.3 349.7,217.5 352.7,219.4 356.2,220.9 354.3,222.4 352.7,225.9 354.7,227.0 357.3,228.7 360.0,229.7 362.7,230.8 365.0,231.8 368.0,231.2 370.1,232.4 372.2,233.9 374.5,234.7 378.0,235.2 380.2,235.4 383.3,235.2 383.5,233.1 383.1,229.7 385.6,228.9 386.4,231.2 386.0,232.7 386.7,233.7 389.8,234.3 392.1,233.7 395.1,233.9 398.6,233.7 397.2,231.6 396.7,230.1 399.3,230.1 401.6,228.5 404.3,226.6 407.0,225.1 409.7,224.7 412.3,224.3 414.6,224.0 415.8,226.2 418.6,228.4 417.7,230.1 416.9,231.6 417.9,232.7 414.2,232.2 411.6,233.9 410.0,235.4 410.0,236.9 408.1,239.2 408.5,240.8 406.6,244.6 403.9,244.6 403.4,247.3 402.8,251.1 401.6,252.2 400.5,252.2 399.5,248.8 399.3,245.7 398.0,245.7 396.7,248.6 395.3,246.9 395.1,244.6 396.7,244.2 398.6,243.1 399.9,240.8 395.5,240.0 392.1,240.0 390.0,239.6 389.8,236.9 387.5,236.6 385.6,235.4 384.4,234.7 383.5,237.7 386.4,239.6 384.4,241.1 383.3,242.3 385.8,243.8 385.6,247.3 386.5,248.8 386.9,251.8 387.1,253.6 385.2,253.8 383.3,253.6 382.2,253.4 379.9,253.9 378.5,256.0 378.7,257.2 377.2,259.1 376.0,260.2 373.4,261.0 371.8,262.2 370.7,263.3 368.0,266.4 365.7,268.3 361.5,271.3 361.1,272.9 358.9,273.8 356.9,275.1 355.4,275.9 353.5,276.7 352.6,279.0 352.9,282.8 353.5,285.5 353.3,288.1 351.8,291.2 351.8,296.5 349.7,296.9 348.5,299.2 348.3,300.7 345.5,302.3 344.7,304.2 343.0,305.4 341.3,304.6 339.2,302.3 338.2,299.6 337.8,297.3 336.7,294.6 335.6,292.0 334.0,289.7 332.7,287.0 331.7,283.5 330.8,280.5 329.4,278.2 328.3,275.9 327.1,273.2 326.4,269.8 325.4,266.0 324.9,263.7 324.5,260.6 324.7,258.3 325.2,256.0 324.1,253.8 324.9,251.5 322.6,252.2 322.6,254.9 319.9,256.4 317.6,257.2 314.9,256.0 311.9,253.4 310.1,251.1 311.5,250.7 314.2,249.9 315.7,248.4 313.4,249.0 311.1,249.2 308.8,247.6Z" fill="#0b7a0b"/>
<path fill="#4db31a" fill-rule="evenodd" d="M331.7,192.5l-0.7,0 -0.8,0.7 -3.1,0 -0.7,0.7 -1.5,0.1 -2.5,2.5 0,2.2 2.5,2.5 0.7,0.1 1.4,1.3 -2.3,2.3 0.7,0.7 0,1.5 0.8,0.8 0,1.5 3.2,3.2 0.8,0 0.6,0.7 -1.4,1.5 0,0.8 0.7,0.7 0,0.8 -0.7,0.7 0,0.8 -2.3,1.4 -2.3,2.4 0,0.8 -0.7,0.7 -0.8,0 -2.3,2.3 0,0.8 -0.7,0.7 -5.4,0 -4.6,4.7 -0.1,1.5 2.3,2.3 0.1,0.7 3,3.1 0,0.8 -0.7,0.6 -5.3,0 -4.6,4.7 4.5,4.6 -0.8,0.8 0,0.7 6.2,6.2 1.6,0 0.7,0.8 0.8,0 0.7,-0.8 1.6,0 0.7,-0.8 0.8,0 0.7,0.7 -0.1,5.4 0.8,0.7 0.1,2.3 0.7,0.8 0,2.3 0.8,0.8 0,2.3 1.5,2.2 0,1.6 0.7,0.7 0,0.8 1.6,1.5 -0.1,0.8 0.8,0.8 0,2.2 0.8,0.8 0,1.5 0.8,0.8 0,1.5 0.7,0.8 0.1,0.8 1.5,1.5 0,0.8 0.7,0.7 0,0.8 1.6,2.3 0,1.5 0.7,0.8 0,2.3 0.8,0.7 0,0.8 5.4,5.4 0.8,0 6.9,-6.9 0,-0.8 0.7,-0.7 0.8,0 2.4,-2.4 0,-6.1 1.5,-2.3 0,-3.8 -0.8,-0.8 0,-5.3 2.2,-1.4 0.8,0 0.8,-0.8 0.7,0 0.8,-0.8 0.8,0 2.3,-2.3 0,-0.8 0.7,-0.7 0.8,0 8.4,-8.4 1.5,0 0.8,-0.8 0.7,0 4.7,-4.6 0,-1.6 0.7,-0.7 5.3,0 2.4,-2.3 0,-2.3 -0.8,-0.8 0.1,-1.5 -0.8,-0.8 0,-3.8 -1.6,-1.5 0.1,-0.8 2.2,-2.2 2.3,2.4 0.7,0 0.8,0.7 1.5,0 0.7,0.7 -1.5,1.5 0.8,0.7 0,1.6 0.7,0.7 0,0.8 2.4,2.4 0.7,-0.8 0.7,0.7 0,1.5 2.4,2.4 0.8,0 3.8,-3.9 0,-3.1 3.9,-3.8 0,-0.7 1.5,-2.3 0,-0.8 -0.8,-0.8 4.5,-5.2 0.8,0 0.8,0.8 1.5,0 2.4,-2.4 -0.8,-0.8 0.1,-0.8 1.5,-1.5 0,-0.8 -6.3,-6.2 -4.5,0.1 -0.8,0.7 -2.3,0 -0.8,0.8 -0.7,0 -1.6,1.5 -0.7,0 -1.5,1.5 -0.8,0 -1.5,1.5 -1.6,0.1 -3,3 -3.1,0.1 -0.7,0.7 -1.6,0 -1.4,-2.2 0,-0.8 -2.4,-2.4 -0.8,0 -3,3.2 -0.1,2.3 -0.7,0.7 -6,0 0.7,2.1 0.7,0.2 -0.7,0.1 -0.8,-0.7 -1.5,0.1 -1.1,-1.8 0.2,-0.7 -0.6,-0.8 -1.6,-1.6 -0.7,0 -0.8,-0.8 -2.3,0 -0.8,0.8 -0.7,0 -0.8,-0.8 -0.7,0 -0.8,-0.8 -0.8,0.1 -0.7,-0.8 -1.6,0 -2.3,-1.6 -0.7,0 -0.7,-0.6 0.1,-1.5 0.7,-0.8 0,-0.8 1.5,-1.5 -2.4,-2.4 -0.7,0 -2.3,-1.5 -0.8,0 -2.2,-2.2 0.1,-1.5 2.2,-2.3 0,-0.8 -1.5,-1.5 1.5,-1.6 0,-0.7 3.8,-3.8 0.1,-1.6 -3.2,-3.2 -0.8,0 -0.8,-0.7 -4.6,-0.1 -2.2,1.6 -0.8,0 -2.3,-1.6 -0.8,0 -2.3,-1.5 -0.7,0 -2.3,-2.3 -2.3,0.1zM355.0,265.2l-0.2,0.8 -1.7,2.3 -0.1,-2.3 0.9,-1.3zM372.2,256.8l2.8,0.8 0.4,0.7 -3.2,1 -0.7,-0.3 -0.8,-0.8 0,-1.3 0.8,-0.4zM359.6,256.8l0.1,0.8 -0.5,0.3 -0.5,-0.3 0.1,-0.8 0.4,-0.3zM378.7,257.6l-1.1,0.6 -0.6,-0.6 0.6,-0.7 0.7,0.1zM360.2,249.9l0.8,2.3 2.1,0.5 1.5,-0.2 1,0.5 0,0.8 -1,0.3 -1.5,-0.5 -0.8,0.5 -3.1,0.4 -1.5,-3.4 0,-1.2 2.3,-0.3zM374.7,251.5l0.6,0.9 1.6,0.6 -0.2,0.8 -1.4,0.3 -0.8,-1.1 -1.2,-0.8 0,-0.7 0.5,-0.5zM350.1,249.2l1.6,1.5 -0.1,1.1 -0.8,-0.1 -0.7,-0.9 -1.6,-0.1 -0.4,-0.8 1.2,-0.7zM347.4,246.1l0.5,0.8 -0.1,0.7 -0.8,1 -0.5,-1 0.5,-1.9zM361.7,246.9l0.8,0.7 -0.2,1.4 -1.7,-0.6 0.8,-1.5zM351.2,239.2l-0.1,1.6 0.6,1.5 -0.2,1.5 1.5,2.3 -0.6,0.8 -0.8,0.2 -0.8,-0.2 -0.7,-0.7 -0.5,-1.6 -0.9,-1.5 1.1,-2.3 0.2,-1.6 0.8,-0.3zM377.2,244.6l0.9,1.5 -0.5,0.6 -2.1,-0.6 0.5,-2zM342.2,242.3l0.6,1.5 -0.4,0.5 -0.7,0 -0.7,-1.2 0.4,-0.8zM359.1,243.1l0.1,0.7 -0.7,0.8 -1.7,-0.8 0,-0.7 0.9,-0.6zM338.6,239.2l1.3,2.3 -0.5,0.3 -1.8,-1.8 -0.3,-0.8 0.5,-0.5zM331.2,238.5l0.8,0.7 -0.3,0.6 -1.5,0 -0.9,-0.6 0.1,-1zM369.2,237.7l0,1.4 -0.7,-0.6 0.3,-0.8zM337.3,233.9l1.2,0.8 -2.2,2.2 0,1.1 -1.5,0.5 -1.5,-1.3 -1,-0.3 0.1,-0.7 1.2,-1.5 1,-0.8zM369.9,233.1l0.8,1 -0.7,-0.2 -0.1,-0.6 -0.9,-0.2 0.2,-0.4zM366.6,233.1l-0.5,0.7 -0.8,0 -0.3,-0.7 0.3,-0.6 0.8,0zM334.3,231.6l-0.3,0.4 -0.9,-0.4 0.9,-0.6zM350.9,229.3l1.5,0.7 -0.1,0.8 -0.7,0.9 -1.9,-0.9 -1,-1.5 0.6,-0.7zM358.1,228.5l1.1,1.6 2.3,0.6 0,1.3 -1.4,-0.4 -0.9,-1.5 -1.5,0.3 -0.7,-0.3 -0.5,-0.8 0.8,-0.8zM339.0,229.3l0.2,1.5 -0.6,0.7 -3.8,-0.7 0,-0.7 0.8,-0.8 2.2,-0.7 0.8,0.1z"/>
<path fill="#ffff19" fill-rule="evenodd" d="M331.7,192.6l-0.7,-0.1 -0.8,0.8 -3.1,-0.1 -0.7,0.8 -1.5,0 -2.5,2.5 0,2.2 2.5,2.5 0.7,0 1.4,1.4 -2.3,2.3 0.8,0.7 0,1.5 0.8,0.8 0,1.5 3.1,3.2 0.8,0 0.7,0.7 -0.7,1.1 0.9,0.4 0.5,0.8 -1.4,0.4 0,1.1 -0.8,0.7 0,0.6 0.6,0.2 -0.1,0.8 -1.2,0.7 -0.1,-0.7 -0.7,-0.1 -1.5,1.6 0.3,0.8 -1.8,0.7 -0.1,0.8 -1,0.8 0.2,0.7 -0.5,1.5 0.6,1.6 0.2,2.3 1.6,2.3 -0.3,0.4 -1.4,-0.4 -0.6,-1.6 -2.6,-1.3 -3.8,0.2 -0.7,1.1 1.2,0.8 0.3,0.8 -1.5,-0.4 -1.6,1.2 -0.7,0 -2.3,-1.3 -1.6,0.5 0,1.5 2.3,2.3 0,0.8 1.8,-0.1 1.7,3.1 -1.2,1.5 -5.3,0 -2.3,2.3 0,0.6 1.3,0.9 -2.8,1.6 2.2,2.3 0.8,0.2 2.3,-1.5 1.7,1.3 0.1,0.7 -0.4,0.8 -0.6,0.3 -2.3,-0.2 -0.8,0.7 0,0.7 6.1,6.2 1.6,0 0.7,0.7 0.8,0 0.4,-1.5 1.8,-0.8 1.6,-2.9 0.8,0 1,0.6 0.1,3.1 -1.1,0.2 -0.1,5.9 0.8,0.7 0,2.3 0.8,0.8 -0.1,2.3 0.8,0.8 0,2.3 0.8,0.7 0,0.8 1.1,0.7 -0.3,1.6 3,4.6 0,2.2 0.8,0.8 0,1.5 0.7,0.8 0.1,1.5 0.7,0.8 0,0.8 1.5,1.5 0,0.8 0.8,0.7 0,0.8 0.8,0.7 0,0.8 0.8,-1.6 0.7,1.6 -0.7,1.1 -0.1,1.2 0.8,0.8 -0.1,2.3 0.8,0.7 0,0.8 1.6,1.3 1.5,-0.2 0,1.9 1.9,1.6 1.9,-1.6 0.4,-0.7 -0.9,-3.1 0.6,-1.5 -0.2,-0.8 -0.6,-0.7 -0.8,0 -0.4,-0.8 -0.2,-4.6 -1.7,-2.3 -0.3,-0.7 0.3,-1.3 0.8,-0.4 1.3,0.9 0.5,2.3 1.3,0.2 2.1,-1 0.7,-1.5 1.7,-1.7 0.8,0.2 3.4,3 0.2,1.6 1,0.9 0,-2.5 1.5,-2.3 -0.1,-3.8 -0.6,-0.8 -0.5,-1.5 0.4,-0.7 -0.9,-1.6 0.9,-2.3 1.6,0 2.3,-1.5 0.7,0 0.8,-0.7 0.8,0 0.8,-0.8 -0.1,-0.6 -0.6,-0.2 -0.2,-0.7 0.8,-0.7 1.6,0.4 0,-0.5 0.7,-0.7 0.8,-0.1 0.2,-0.7 1.3,-0.8 3.8,-3.8 0,-0.7 -0.7,-0.2 -3.1,-2.7 -0.5,0.5 0.4,1.5 -1.1,1.6 0,0.7 -1.1,0.8 -0.7,-0.3 -1.9,-2 0.3,-1 1.8,0.2 0,-0.7 -1,-1.3 -1.5,0.3 -2.3,-2 -0.8,-0.2 -1.5,2.4 -1.5,0 0.7,0.9 1.5,-0.3 1.6,0.8 0.8,2.4 -1.2,2.3 -1.6,1.6 -0.3,0.7 0.1,0.8 1.7,1.5 0.1,0.8 -1.2,0.8 -1.5,0 -1.4,-0.8 1.4,-0.5 -0.3,-1 -1.2,0.3 -1.5,-0.9 -1.3,2.1 -1,0 -1.6,-2.2 -1.8,-3.9 1.8,-1.9 0.8,0.1 1.5,1.8 0.8,-0.7 0.2,-1.6 1.1,-1.6 0.3,-1.5 -1.5,-2.3 3,-0.8 1.9,-1.5 0.1,-0.7 -0.6,-3.1 0.4,-3 -0.7,-1.6 0.2,-0.7 -1.3,-1.8 -0.8,-0.1 -2.4,1.1 0.3,0.8 1.2,0.7 -0.6,4.8 -3.9,2.4 -0.9,1.2 0,0.8 0.6,0.8 0.3,0.1 1.6,-0.8 0.7,0.7 -2.3,2.5 -1.5,0.6 0,2.5 -0.8,0.5 -1.5,-0.4 -0.5,-1.2 0.7,-1.5 -0.4,-0.7 -2.8,-2.1 -2.8,-1 -0.2,-0.8 1.4,-0.7 2.3,1.1 1.6,0.1 3.8,-3.7 0.7,-2.8 -0.9,-0.1 -1.4,2.5 -0.7,-0.1 -2.5,-1.6 -2.1,-2.8 -0.4,-1.8 0.3,-0.8 1.7,-1.5 -0.1,-0.8 -1.6,-0.7 -0.8,-1.5 -2.2,-0.8 -1.5,0.3 -1.5,-0.8 -2.3,0.1 -0.8,-0.8 -2.3,-0.1 -0.7,-0.4 -0.5,-0.6 -0.2,-1.5 0.8,-4.6 -0.1,-2.5 0.8,-0.6 0.8,0.8 -0.2,1.5 1.6,0.9 0.6,-0.9 -0.4,-1.5 1.1,-1.5 0.3,-1.6 0.7,-0.3 2.3,0.3 0.8,-0.3 1.3,-1.2 -0.4,-0.8 0.1,-0.7 1.9,0 -0.5,1.5 0.6,2.3 2.3,-1.3 0.8,0 0.5,0.5 -0.5,1.6 -2,1.5 1.2,0.7 1.6,0.1 -1.6,1 -1.5,-0.3 -0.8,0.5 -0.1,1.1 0.8,1.5 -1.5,2.3 2.1,2.3 1.7,0.7 0.9,2.7 1.5,0.2 0.7,-0.3 0.3,-0.3 -0.3,-0.5 -1,-1 2.8,-0.8 0.2,-0.7 -0.3,-0.8 -0.9,-1.1 -1.4,-0.4 -0.7,-1.6 0.4,-0.7 1.3,-0.8 -1,-2.3 0.6,-0.4 0.8,0.2 1.5,1.1 0.2,2.2 -0.5,0.7 0.3,0.5 0.8,0.5 1.1,-1.7 1.2,0.2 0.7,2.1 -0.2,2.3 0.7,2.3 1.1,1.4 1.5,1.2 0.8,-0.4 0,-2.5 0.7,-0.9 0.8,-0.2 0.8,0.1 1.5,1.8 1.4,0.2 0,0.8 0.9,0.7 1.5,-1.6 2.3,0.5 1.4,1.1 0.9,2.3 0.8,-2.6 0.7,0 3.1,2.3 0.8,-0.3 0.4,-1.7 -0.5,-1.5 0.3,-0.7 1.3,-0.5 2.3,0.9 1.5,1.8 1.5,-0.7 0.8,0.2 0.8,0.9 2.2,0.1 0.4,1.1 -0.7,0.7 0.2,0.8 1.4,2.3 -0.1,0.8 -1.6,1.5 0.2,0.8 0.8,0.7 -0.4,0.8 1.4,0 0.5,0 -0.9,-0.8 0.2,-0.7 1.5,-1.6 -0.5,-0.7 0.5,-0.8 1,-0.4 0,-1.9 -0.8,-0.8 0,-3.8 -1.5,0.4 -0.5,-0.4 -0.1,-0.7 0.6,-1.6 2.3,-2.3 2.3,2.4 0.7,0 0.8,0.7 1.1,0 0.4,-1 1,-0.5 -0.1,0.7 -0.7,0.8 0.5,0.8 -1.5,1.5 1.7,1.5 -0.5,0.8 0.3,1.5 2.4,2.4 0.7,-0.8 0.8,0.7 0,1.5 2.3,2.3 0.8,0 1.4,-2.3 0.5,-1.5 1.5,-0.8 -0.6,-1.5 0.9,-1.5 -0.1,-1.6 0.2,-0.1 0.7,1 0.8,-0.1 2.3,-2.3 0,-0.7 1.6,-2.3 -0.1,-0.8 -1.5,0.3 -0.6,-0.3 1.4,-0.4 2.3,-2.7 0,-0.7 1.2,-1.5 -0.5,-1 2.3,0.2 0.8,0.8 1.5,0 2.3,-2.3 -0.7,-0.8 0,-0.8 1.5,-1.5 0,-0.8 -6.2,-6.1 -4.5,0 -0.8,0.7 -2.3,0.1 -0.8,0.7 -0.7,0 -1.6,1.5 -0.7,0 -1.5,1.6 -0.8,0 -1.5,1.5 -1.6,0 -3,3.1 -0.8,0 -1.5,1.6 -1.8,-0.8 -1.3,-0.1 -1.5,-2.2 0,-0.8 -2.3,-2.4 -0.8,0.1 -2.3,2.3 0.1,2.8 1.3,1.8 -0.5,0.8 -1.6,1 -2.7,-1.8 1.2,-0.5 0.7,0.2 0.7,-0.5 -5.9,0 0.2,0.8 1.2,0.8 0.1,0.7 -0.2,0.8 -0.9,0.7 0.3,1.6 -0.8,0.5 -1.5,-0.3 -0.8,0.5 0,-1.5 1.3,-1.5 -0.5,-0.5 -2.3,0.1 -2.8,-1.1 0,0.7 1.3,3.1 -0.8,1.4 -0.8,0 -0.6,-0.7 -0.5,-2.3 0.3,-1.5 -0.2,-0.7 -2.1,-0.1 -1,-1.5 0.3,-1.4 3,0.1 0.8,-0.3 2.3,1 0.8,-0.5 -1.6,-1.9 -0.7,-0.1 -0.8,-0.8 -2.3,0 -1.2,0.9 -0.3,1.1 -0.9,-0.4 0.1,-1.5 -0.7,0 -0.8,-0.8 -0.8,0 -0.7,-0.7 -2,0 0.4,0.8 0.8,0.5 1.5,-0.2 0.5,0.4 0.5,2.3 -1,3.5 -0.7,0.7 -0.2,-1.1 0.5,-1.6 -2.6,-1.4 -0.8,0.6 -0.2,-0.7 -1.3,-1.1 -2.3,-1 -0.8,0.3 0,1.7 0.9,0.9 -0.1,0.8 -3.1,-1 -2.4,-1.4 -0.4,-0.7 -0.2,-2 0.3,-1.1 2,-0.3 0.2,-0.5 -0.4,-1.5 0.9,-0.9 0.6,0.9 -0.1,2.3 1.1,1.1 3,0.8 3.1,-1.3 0,-0.6 -0.8,-0.1 -0.8,-0.8 -0.7,0 -0.7,-0.6 0,-1.5 0.8,-0.8 0,-0.8 1.5,-1.5 -2.4,-2.3 -0.7,-0.1 -2.3,-1.5 -0.8,0 -2.2,-2.2 0,-1.5 2.3,-2.3 0,-0.8 -1.5,-1.5 1.5,-1.6 0,-0.7 3.8,-3.8 0,-1.6 -3.1,-3.1 -0.8,0 -0.8,-0.8 -4.6,0 -2.2,1.5 -0.8,0 -2.3,-1.5 -0.8,0 -2.3,-1.5 -0.7,0 -2.3,-2.3 -2.3,0zM347.8,294.2l-0.9,0 -0.7,2 -1.7,-0.4 -0.4,1.5 1.4,0.9 -0.4,2.2 0.4,0.6 0.7,0.4 1.6,0 0.7,0.5 1.6,-1.8 -0.8,-0.1 -0.8,-0.8 -0.3,-1.1 1.6,-0.8 -0.5,-1.4zM353.9,295.2l-1.3,2.1 0.5,0 0.8,-0.8zM345.9,282.8l0.7,0.7 0.2,0.8 -0.6,0.8 -0.7,0.1 -1.4,-0.9 -0.3,-0.8 0.9,-1zM342.4,280.5l0.6,2.3 -0.2,0.7 -1.9,0.8 -0.4,-3 1.2,-1.1zM337.4,282.8l-0.3,0.3 -0.3,-0.3 0.3,-0.7zM337.2,278.2l0.2,0.8 -1.1,0.3 -0.4,-1.1 0.4,-0.5zM346.5,272.1l0.4,1.5 -0.7,0.9 -1.5,-0.3 -1.6,-2.1 2.4,-0.5zM344.9,267.5l0.7,0.8 0,0.7 -1.6,0.9 -0.8,-0.1 -0.4,-1.5 0.4,-1.4 0.8,-0.1zM363.3,268.3l0.3,0.7 -0.2,0.8 -1.1,0.2 -0.4,-1 0.4,-0.7 0.8,-0.5zM334.3,264.4l0.5,0.8 0,0.9 -0.8,0.2 -0.7,-0.4 -0.8,0.1 -0.8,2 -1.5,-0.2 -1,-1.1 0.2,-0.5 2.2,-1 0.9,-0.9 0.8,-0.3zM342.0,265.2l-0.3,0.7 -0.4,-0.7zM376.8,260.2l-2.3,0 -0.8,1.2 -2.3,0.8 0.8,1 2,-0.3 1.1,-0.7 0.7,0 0.8,-0.8 0.5,-0.8zM329.6,259.1l0.9,1.5 -0.2,0.8 -2.4,1.3 -0.3,-0.5 0.6,-3.1 0.5,-0.6zM340.0,261.4l0.2,0.8 -0.8,0.5 -1.2,-0.5 -0.4,-0.8 1.6,-0.4zM368.4,252.0l-1.1,0.2 -0.6,2.3 -1.4,1.1 -1.5,-0.1 -0.7,0.4 -1.6,-0.7 -0.7,0.4 -0.3,0.4 0.3,0.8 0.7,0.6 1.6,-0.8 0.7,0.8 1.5,-0.3 0.3,0.5 -1,1.5 -0.8,0.3 -1.5,-0.3 -1.5,-1 -0.8,1 0.8,1.5 1.5,0.5 2.3,0 0.7,0.9 0.8,0 0.8,-0.7 1.5,0.3 0.9,-0.2 0.2,-3.1 -2.3,-3 1.5,-2.3 0.1,-0.8zM337.6,256.8l0.7,1.5 -0.3,0.8 -0.9,0.4 -1.4,-1.9 1.4,-1zM379.9,254.4l-1,0.1 -0.6,0.8 2.3,1 0.2,-1zM341.5,253.0l0.6,0.8 0,0.7 -0.4,0.6 -2.3,0.6 -0.5,-0.4 0.5,-2zM326.5,253.8l-0.1,1.1 -0.9,-0.4 0.5,-0.7zM380.6,247.5l-1.5,-0.3 -3.9,2 -0.3,0.7 1.1,1.5 0.8,0 1.3,-0.7 1,-1.6 0.8,0.3 0.3,0.5 0.4,4.2 1.6,-2 0.7,0 0.7,-0.6 -1.4,-1.2zM326.1,249.9l1.8,1.6 -0.8,0.2 -1.5,-1.6 -0.8,-0.2zM336.4,249.9l-0.1,1.8 -1.1,-1 0.2,-0.8zM365.3,247.0l-1.5,0.1 0,3.8 1.3,-0.2 0.3,-0.8 1.7,-0.7 0,-0.8zM318.1,249.2l-0.1,0.7 -0.8,0.6 -2.1,-0.6 0.6,-0.9zM399.3,249.2l0.6,0.7 -0.2,0.7 -0.7,0.1 -0.5,-0.8 0.5,-1.1zM322.6,247.6l0,1.5 -0.8,0.4 -0.8,-1.3 -0.8,-0.6 1.6,-0.5zM358.5,247.3l-1.6,0.2 -0.2,0.9 1.8,-0.4 0.3,-0.4zM401.3,245.3l0,1.9 -1.6,0.3 -0.3,-0.6 1.1,-1.4zM312.0,243.8l0.9,1.5 -1,0.8 -0.8,-0.8 0,-0.7 0.3,-0.8zM327.6,243.1l-0.1,1.5 -1.2,0.7 -0.3,-0.7 0.7,-1.5 0.4,-0.5zM406.0,242.3l0.1,0.8 -0.7,0 -0.1,-0.8zM322.6,241.5l0.7,0.8 -0.7,0.6 -0.6,-0.6zM326.4,239.2l1.1,0.8 -0.4,1.1 -0.7,0.9 -2.8,-2.8 1.3,-0.7zM364.8,238.5l-0.2,0.3 -1,-0.3 1,-0.7zM391.0,236.2l1.4,0.7 0.5,0.8 -0.3,0.8 -1.3,0.1 -0.7,-1.1 -1.7,-0.6 0.4,-0.7zM331.0,236.1l-0.5,0.8 0.5,0zM387.8,235.4l-0.3,0.4 -0.9,-0.4 0.9,-0.5zM321.8,233.9l0,0.8 -0.9,0 0,-0.8zM337.8,232.3l-1.5,0.1 1.5,0.3zM406.1,230.8l-1.2,1.6 -1.4,0.1 -0.7,-0.5 0,-0.6 0.7,-0.8zM313.4,229.3l-0.5,1.5 0.5,0.9 0.8,0 0.9,-0.9zM415.3,230.1l0.8,0.7 0,0.8 -0.3,0.2 -1,-0.2 -0.3,-0.8 0.3,-0.7zM346.0,230.8l-0.5,0.8 -0.8,0 -0.3,-0.8 1.1,-0.4zM321.8,226.1l-0.8,0.1 0,0.8 -0.7,0.8 -5.4,0.1 1.6,0.9 0.7,0 0.8,-0.9 1.5,0.4 1.5,0 1.1,-1.3zM329.9,226.2l0.5,0.8 -0.1,0.8 -0.8,0.7 -2.4,0.3 -0.6,-0.3 0,-0.7 0.6,-1.3zM347.5,224.7l-0.5,0.5 -0.5,-0.5 0.5,-0.4z"/>
<path fill="#ffa31a" fill-rule="evenodd" d="M336.3,298.5l0,1.9 0.8,0.7 0,0.8 0.5,0 -0.3,-2.3zM342.4,299.5l-1.5,-0.7 -0.3,0.8 0.9,1.5 0.2,1.2 0.7,0zM347.0,299.1l-0.5,0.5 0.5,0.6 0.7,-0.6zM326.4,265.2l-1,0 -0.2,2.3 0.4,1 1.5,1.3 0.2,0.8 -0.3,0.7 1,1.6 0.5,1.5 1,0.7 -0.2,0.8 -2,1.5 -0.1,0.8 0.7,0.8 0.8,-1 0.7,-0.2 0.5,0.4 0.2,0.8 -0.7,0.6 -0.7,-0.3 0,1.2 0.7,0.8 0,1.3 0.7,-0.6 -0.5,-0.7 0.6,-1.5 2.5,3 -0.1,3 0.6,0.8 0.8,3.6 1.6,0.9 2.7,5.4 1.8,1.2 0.8,-0.3 -0.5,-4.7 -1.6,-3 0.1,-2.3 -1.7,-1.6 -0.5,-1.5 -1.2,-1.5 -0.3,-0.8 0.4,-1.5 -1.6,-2.2 -0.5,-2.4 0.5,-0.6 1.6,-0.1 1.9,1.5 1.6,0 0.6,-1.6 1,-0.7 0,-0.8 -0.6,-0.6 -0.7,0.4 -2.3,-0.5 -0.8,1 -0.7,0.1 -3.9,-0.6 -1.8,-1.3 -1.1,-2.3 -0.4,-2.3 -1.3,-2zM349.3,274.9l-0.8,-0.4 -1.3,0.6 -2.9,3.1 -0.3,1.3 0.7,0.2 1.5,-0.7 4.6,6.7 1.4,0.9 0.2,1.5 2.3,0.9 0.1,-0.9 -0.9,-3 -0.8,0.1 -1.1,-1.7 0.1,-2.2 0.8,-2.3 -0.1,-0.8 -0.4,-0.3 -0.8,0.3 -0.8,1.2 -0.7,-0.4 -0.7,-1.6 0.6,-1.5zM340.9,268.6l-1.8,1.2 0.1,1.5 0.9,1.2 0.8,-0.1 0.3,-2.6 0.4,-0.8zM360.0,270.9l-1.9,0.4 1.1,0.7 0.8,-0.4zM367.6,266.5l-1.5,1.8 -0.2,0.7 1,0 1.5,-1.5 0,-0.5zM323.3,263.9l0,1.4 0.6,-0.9zM331.0,262.7l-0.9,0.2 0.1,1.6 1,-0.8zM324.1,259.0l-1.5,0.6 0,4.1 0.6,0 -0.2,-1.5 1.7,-2.3zM326.4,261.4l-0.8,0.2 0,1.1 0.8,-0.5zM329.4,255.2l-1.5,-0.4 -0.8,1.3 -1,0.7 1,0.9 2.3,-0.7 1.6,2.7 1,0.2 0.5,-0.8 -0.4,-1.5 -1.1,-1 -0.8,0zM314.9,252.9l-1.5,0.4 -1.5,-0.2 -0.3,1.4 0.3,0.8 2.3,2.3 1.6,0.7 0.7,-0.1 0.1,-0.6 -1.2,-1.6 0.4,-2.2zM354.7,251.8l-0.8,0.4 -1.4,4.6 0.1,1.5 0.5,0.6 1.6,-0.2 0.8,-1.1 -0.2,-4.6zM331.7,252.8l-0.5,1 0.5,0.6 0.4,-0.6zM337.8,252.8l-0.5,1 0.5,0.3zM324.9,251.3l-1.6,-0.2 -0.5,1.1 0.3,0.8 1,0.4 1,-0.4 0.7,-0.8zM338.6,248.8l-0.8,0.4 0,0.7 0.8,1 0.8,-0.2 -0.1,-1.5zM330.2,249.1l-0.8,-0.5 -0.9,0.6 -0.2,0.7 1.1,0.1zM320.3,241.8l-3.1,-0.2 -0.9,0.7 1.7,2.8 1.5,-0.4 3.1,0.5 1.3,0.9 0.7,1.5 1,0.8 0.8,-0.6 -0.3,-0.9 -1.2,-0.8 -0.7,-1.5 -2.4,-0.5zM387.5,244.9l-1,0.4 0.2,0.8 0.8,-0.3zM315.7,245.3l-0.8,-0.6 -0.3,0.6 0.3,0.7zM334.8,243.7l-0.8,-0.4 -1.6,0.5 0.9,0.9 1.7,-0.9zM338.6,243.6l-0.8,-0.2 -1.3,0.4 -0.1,0.8 1.4,0.1 0.8,-0.6zM415.0,223.2l-0.8,-0.2 -0.7,0.8 -0.8,0 -0.7,-0.9 -0.8,-0.3 -3.1,0.6 -2.3,2 -3,0.3 -2.3,2.8 -1.5,0.3 -1.6,1.1 -1.5,0.4 -0.7,0.7 -0.3,1.6 -1.3,1.6 0.8,0.8 2.3,-0.5 0.4,0.4 -0.3,0.7 -2,1.5 -0.9,1.6 0,0.7 2,0.7 1.5,-2.1 2.3,-0.3 1,1 0,0.7 -0.4,2.3 -0.6,0.4 -3,-1.1 -0.9,0.7 -0.2,0.8 0.3,0.5 3.8,1.1 1,-0.8 0,-0.8 1.6,-1.5 -0.3,-3.9 -2.3,-1 -0.7,-2.4 -1.6,-0.1 -0.1,-0.3 2.4,-1.9 1.6,-0.4 0.7,-1.7 0.8,0.5 2.3,-0.1 2.3,-1.7 1.5,-0.4 1.5,0.7 1.6,0.1 4.1,1.1 2,2.1 0.7,0.2 0,-0.8 1.6,-1.5 0,-0.8 -1.6,-0.1 -0.7,-1.9 -1.9,-1 0.3,-0.8zM314.9,242.2l-1.5,-0.4 -1,0.5 1,1.2 0.8,0.2zM354.7,240.1l-0.8,0 -0.7,0.7 -0.2,0.7 0.9,1.5 0.8,0.3 0.7,-0.8 0.2,-1zM366.1,239.8l-0.8,0 -1.5,1.7 0.6,0.8 2.5,0.8 1,-0.8 -0.1,-0.8zM379.9,242.0l-0.4,1.1 0.4,0.1 0.3,-0.1zM331.0,242.1l-0.8,-0.3 -0.7,0.5 0.7,0.7 0.8,-0.4zM360.0,241.3l0,1 0.8,0.3 0.3,-0.3 -0.3,-0.8zM379.1,235.2l-0.8,-0.3 -0.5,0.5 0.4,1.5 -0.2,1.6 -2.7,1.9 -0.8,-0.5 -1.5,0.7 -0.6,0.9 0.3,0.8 1.1,0.1 1.5,-0.8 1.5,0.6 1.6,-1.4 2,-3.9 -0.1,-0.7zM384.4,238.9l-0.7,-0.4 -1.1,0.7 1.1,2.7 0.7,0.5 0.8,-1.4 0.7,-0.2zM392.9,239.9l-1.6,-0.2 -1.2,1.1 0.5,0.7 1.5,0.3 0.8,-1zM321.0,236.0l-0.7,-0.2 -0.6,0.4 0.5,1.5 -0.7,1.3 -0.8,-0.1 -1.5,-1.1 -0.6,0.7 1.4,2.5 1.5,0.5 2.8,-2.3 0.3,-0.7 -1.3,-1.6zM347.0,239.7l-0.8,-0.4 -0.7,0.2 -0.9,1.3 0.9,0.3 1.5,-0.2zM350.8,232.9l-1.5,-0.2 -0.2,0.4 0.5,1.6 0.5,0.7 1.5,0.1 1.6,3.7 0.7,0.7 2.3,0.6 0.7,-1.4 2.5,-0.6 0.4,-3.1 -0.1,-0.7 -0.5,-0.4 -2.3,-1 -1.5,-0.1 -1,1.5 -0.5,0.2 -2.3,-0.9zM371.5,236.8l-0.8,-0.2 -0.3,0.3 0.3,3.6 0.8,-1 0.2,-1 0.1,-1.6zM343.2,236.0l-1.7,1.7 0.9,1.9 1.3,-1.1zM360.8,238.0l-0.4,0.5 0.4,0.4 0.4,-0.4zM409.7,229.8l-1.4,1.8 0,1.5 -1.7,1.6 -0.4,1.5 -1.5,1.5 0.4,0.8 1,0 2,-1.3 0.8,0 0.8,0.5 2.3,-2.3 -0.8,-1.5 -2,-0.8 -0.1,-0.7 1,-1.6zM316.5,236.9l-0.3,0 0.3,1.4 0.6,-0.6zM324.1,233.8l-0.3,0.9 0.5,0.7 -0.2,1.5 2.3,1 0.7,-1 -0.1,-1.5 -0.6,-0.8zM363.1,232.9l-1,3.3 1,0.8 0.7,-0.1 0.7,-0.7 0.2,-0.8zM403.5,233.8l-0.5,0.9 0.5,0.9 0.4,-0.9zM341.7,234.5l-0.8,-0.2 -0.1,0.4zM344.0,233.8l-0.8,0.9 0.8,0.5 0.7,-0.1 0.5,-0.4 -0.5,-0.7zM417.3,233.6l-0.8,0.3 -0.5,0.8 1.3,0 0.4,-0.8zM385.2,227.0l-0.4,0 -1.9,3.8 0,0.8 1.5,2.1 0.8,0.5 0.9,-0.3 0.5,-0.8 0.2,-4.6zM322.6,231.6l-0.8,-0.3 -0.9,0.3 0.9,0.9 0.8,0.1zM327.1,229.9l-1.5,0 0.2,0.9 0.6,0.6 0.7,0.1 0.4,-0.7 0.2,-0.7zM331.7,227.5l-1.5,1.8 0.8,1.2 0.7,-0.3 0.5,-1.7 0.1,-0.7zM368.4,229.3l-2.3,0 0,0.6 1.5,0.6 0.8,-0.4zM344.7,223.4l-0.7,0.6 -0.5,1.5 1.5,1.5 -0.4,2.3 2.4,0.3 0,-2.5 -1.8,-2.4zM331.7,192.6l-0.7,0 -0.8,0.7 -3.1,0 -0.7,0.7 -1.5,0 -2.4,2.5 0,2.2 2.4,2.4 0.7,0.1 1.5,1.4 -2.3,2.3 0.7,0.7 0,1.5 0.8,0.8 0,1.5 3.1,3.1 0.8,0 0.7,0.8 0.1,0.5 4.6,0.5 1.5,1 2.2,2.5 1.3,2.3 -0.5,1.6 0.8,0.6 0.7,-0.6 -0.4,-0.8 0.4,-0.8 3.9,-0.2 0,1 -0.8,0.8 3.8,2.6 0.8,-0.5 0.8,-1.2 0.7,-0.2 1,0.8 0.7,1.5 2.5,0.8 0.2,0.7 -0.6,0.8 0.1,0.9 1.5,0.2 1.7,-1.1 -2.5,-1.5 0.1,-1.5 0.7,-0.8 0,-0.8 1.5,-1.5 -0.8,-0.5 -1.5,1 -0.7,-0.3 -0.1,-1.7 0.5,-0.8 -1.2,-0.8 -0.8,0 -0.7,-0.7 -0.5,0 -0.1,1.5 -1,-0.2 -0.7,-0.6 1,-0.7 -0.2,-0.8 -1.6,-1.5 0,-1.5 2.3,-2.3 0,-0.8 -1.5,-1.5 1.5,-1.6 0,-0.7 2.1,-3.1 1.7,-0.7 0.1,-1.6 -3.1,-3.1 -0.8,0 -0.8,-0.7 -4.6,-0.1 -2.2,1.6 -0.8,0 -2.3,-1.6 -0.8,0 -2.3,-1.5 -0.7,0 -2.3,-2.2 -2.3,0zM331.7,220.8l-0.7,-0.3 -0.7,0.4 0.4,1.5 -0.5,0.3 -4.1,0.5 -0.5,2.4 0.8,0.1 1.5,-1.3 0.8,0 0.7,0.6 2.2,0.5 1.7,1.9 2.6,-0.4 -0.3,-1.5 -0.8,-1 -3.7,-1.3 0.2,-0.8 0.7,-0.7zM414.9,224.7l0.1,0.8 -0.8,0.4 -0.7,-0.4 -0.3,-0.8 0.3,-0.6zM337.1,219.8l-1.4,2.6 0.6,0.6 0.8,-0.1 1,-1.2 -0.3,-1.4zM345.5,211.0l0,1.5 -0.5,0.8 -1,0.1 -1,-0.9 0.3,-0.8zM334.9,204.9l-0.2,1.5 0.9,3.3 0.7,0.3 0.8,-0.7 0.4,-1.4 -0.8,-1.5 0.4,-0.3 0.7,0.3 0.3,0.7 1.3,0.8 0.4,0.8 0.7,2.3 0.6,0.7 -0.1,0.8 -1.6,0.1 -2.3,-1 -2.3,0.1 -2.8,-1.5 -0.5,-0.8 0.4,-1.5 -1.2,-1.5 1.8,-1.4zM332.3,203.3l0.9,0.8 -0.7,0.7 -1,-1.5zM338.1,202.6l0.1,0.7 -0.4,0.1 -0.6,-0.1 -0.3,-0.7z"/>
<path fill="#ff401a" fill-rule="evenodd" d="M339.4,294.1l-0.4,0.9 0.4,0.7 0.2,-0.7zM331.7,274.8l-0.7,0.1 -0.7,1.8 0.9,3 2.1,2.3 1.2,6.1 1.4,1.6 2.7,4.4 0.7,-1.4 -0.1,-0.7 -1.4,-2.3 -1.9,-5.4 -1.7,-2.3 -0.2,-1.5zM349.3,280.4l-0.1,0.9 0.8,1.5 0.8,0.4 0,-1.6zM327.1,267.4l-0.8,0.1 0.8,0.4zM354.7,254.4l-0.8,0.1 -0.1,0.8 0.9,1.3zM353.1,235.3l-0.7,0.1 1.6,3.1 1.4,0.8 0.8,-0.4 0.6,-1.2 -1.4,-0.8 -0.7,-1.3zM357.7,234.5l-0.8,-0.3 -1.1,0.5 1.5,0.7 0.3,0.8 -0.4,1.5 1.3,0.3 0.4,-2.6zM385.2,229.2l-1,1.6 0.2,1 0.8,0.3 0.4,-1.3zM411.2,223.8l-2.9,0.2 -1.7,2.1 -3.1,0.1 -0.7,0.8 0.3,0.8 0.7,0.7 1.3,0.1 2.3,-2.1 0.7,0 5.4,1 0.2,-0.5 -1.6,-1.5zM415.8,226.9l-1.1,0.9 1.1,0.7 0.8,0 0.4,-0.7 -0.5,-0.7zM356.9,226.2l-0.7,0 -0.6,0.8 0.6,0.4 0.7,-0.3zM334.0,225.5l-0.3,0.7 0.3,0.2 0.5,-0.2zM356.2,222.8l-2.3,0 -0.3,0.4 1.8,1.1zM347.8,217.8l-0.9,0.8 0.2,3.1 1.4,1.7 0.6,-1 -0.4,-1.5 0.2,-1.5 -0.4,-1.1zM343.2,214.6l-0.8,-0.5 -0.7,0 -2.3,2.2 1.5,1.7 3.8,1 1.2,-1.2 0.1,-0.7 -1.3,-1.8zM347.8,209.1l-0.5,1.9 0.3,1.5 0.9,0.5 0.8,-0.2 0.5,-0.3 0.1,-0.8 -1.4,-2.2zM343.2,207.4l-1.5,-0.1 -0.7,0.6 0.7,1.5 0.7,0.3 1.3,-0.3 0.4,-0.7zM331.0,193.2l-3.9,0.1 -0.7,0.8 -1.5,0 -2.4,2.4 0.1,2.2 2.3,2.4 0.7,0 1.5,1.5 -2.3,2.3 0.8,0.7 0,1.5 0.8,0.8 0,0.8 0.7,-1.5 1.6,-0.6 -0.6,-1 0.6,-3.5 1.5,-1.4 1.5,0.2 2.3,-0.4 1.6,0.8 2.2,-0.6 1.6,0.6 1.5,-0.6 3.8,1.2 1.5,-1.2 0.8,0.1 1.5,1 0.8,3.4 0.8,0.1 1.1,-1.2 0.2,-2.3 1,-1 1.5,0.7 1.3,-0.5 -2.8,-3 -1.6,0.1 -2.5,-0.9 -2.1,0 -2.2,1.5 -0.8,0 -2.3,-1.5 -0.8,0 -2.3,-1.5 -0.7,0 -1.5,-1.4 -2.3,0z"/>
</g>
<path d="M334.6,212.9 336.7,210.6 340.1,209.4 343.6,210.6 346.2,212.1 M336.7,212.1 336.7,214.4 338.2,216.7 340.1,218.2 341.7,219.8 343.2,220.1 M343.2,220.1 344.0,218.2 345.9,217.1 347.8,216.5 M329.1,221.7 331.7,222.0 334.0,223.2 336.7,222.4 338.2,221.3 340.5,219.8 340.1,218.2 M331.7,222.0 331.4,224.0 334.4,225.9 335.2,228.2 337.5,229.3 340.1,230.5 342.0,229.7 M343.2,220.1 341.7,222.8 341.3,225.5 342.4,228.2 342.0,229.7 M343.2,220.1 344.3,222.0 346.2,223.2 348.2,224.7 350.4,225.9 352.7,225.9 M342.0,229.7 343.2,232.7 345.9,233.9 342.4,236.2 340.1,238.5 340.5,240.8 337.8,242.3 336.3,243.8 334.0,242.3 332.5,243.8 331.4,246.5 330.6,248.0 M330.6,248.0 327.9,246.5 326.4,243.8 324.1,242.5 321.8,242.3 318.4,242.1 M335.2,227.8 332.9,230.1 333.6,232.4 331.7,234.7 330.2,236.9 328.3,238.5 326.8,240.4 324.1,242.5 M345.9,233.9 348.9,236.2 347.0,238.9 345.9,242.7 348.2,243.1 349.3,240.4 353.5,240.8 357.3,240.4 360.8,241.9 363.1,244.6 365.2,244.2 M353.5,227.0 351.6,230.8 350.4,233.9 350.1,236.9 349.7,240.4 M367.3,231.6 368.4,235.0 369.2,237.7 366.1,239.6 365.2,242.7 365.2,244.2 M365.2,242.7 368.8,242.7 371.5,243.1 374.1,241.5 377.2,242.3 379.5,241.1 382.2,240.0 M383.3,235.2 382.5,236.9 382.9,238.5 382.2,240.0 M382.2,240.0 380.6,243.8 377.6,245.7 374.9,247.3 376.8,249.6 378.7,251.5 M378.7,251.5 379.9,252.6 381.0,253.8 M382.2,240.0 383.7,241.9 M378.7,251.5 375.3,250.7 373.0,251.8 371.5,251.5 369.2,250.7 367.6,250.3 M367.6,250.3 366.1,248.4 367.6,246.5 366.5,245.3 365.2,244.2 M367.6,250.3 365.3,253.8 362.3,256.4 361.5,259.9 360.0,261.4 360.0,264.4 357.7,267.9 M357.7,267.9 361.1,266.4 364.6,264.8 367.6,263.7 370.5,263.3 M363.1,244.6 360.0,245.3 358.5,246.9 358.9,248.8 356.2,250.7 355.4,253.4 354.8,254.9 M354.8,254.9 352.4,253.8 349.7,253.4 346.2,254.1 343.2,254.5 339.8,254.9 337.5,254.5 334.0,254.5 331.4,253.4 330.6,252.2 M330.6,252.2 329.8,250.3 330.6,248.0 M345.9,242.7 345.5,245.3 347.0,247.6 345.9,250.3 346.2,254.1 M354.8,254.9 354.3,257.6 354.7,259.1 353.9,261.0 355.4,262.5 353.7,265.2 M353.7,265.2 355.4,266.7 356.2,268.3 357.7,267.9 M353.7,265.2 352.0,264.1 352.0,262.2 349.3,261.8 347.8,261.0 345.9,262.2 344.0,263.7 344.3,265.6 342.8,266.4 M342.8,266.4 340.5,268.7 338.2,270.2 335.9,269.8 335.6,271.7 332.9,272.1 331.0,273.2 330.6,275.1 329.8,276.3 M329.8,276.3 330.6,278.2 329.8,279.3 M327.1,259.1 327.9,261.8 327.5,264.4 327.9,267.5 328.7,270.6 329.1,273.2 329.8,276.3 M324.7,259.3 327.1,259.1 329.1,257.2 328.7,255.3 330.6,254.1 329.1,253.4 330.6,252.2 M337.1,257.6 333.3,258.7 332.1,260.6 334.0,262.5 334.0,264.8 336.3,266.7 338.2,268.3 338.6,269.8 M337.1,257.6 339.0,259.1 341.7,260.2 342.0,261.4 344.3,260.6 345.9,262.2 M337.1,257.6 337.8,256.0 337.5,254.5 M356.2,268.3 354.3,270.6 352.4,271.7 350.1,272.9 349.3,274.4 346.6,275.1 344.7,275.5 342.4,275.5 M342.4,275.5 342.0,273.6 342.8,271.3 342.4,269.0 342.8,266.4 M348.5,274.8 348.2,277.8 349.3,279.7 350.1,282.0 350.8,283.5 352.4,284.7 M342.4,275.5 340.9,278.2 340.1,280.1 340.9,281.6 342.4,282.8 342.8,283.9 344.7,284.7 346.2,285.5 345.7,287.6 M345.7,287.6 347.0,287.0 349.3,286.2 351.2,285.5 353.5,284.7 M345.7,287.6 344.0,288.1 343.2,289.7 341.7,291.2 340.5,291.2 338.6,292.0 M338.6,292.0 339.8,293.5 340.1,295.4 340.5,296.9 341.7,297.3 342.0,299.6 341.7,301.9 342.0,303.8 341.3,304.6 M338.6,292.0 337.1,290.8 335.2,289.3 334.0,288.1 332.9,287.6 M330.6,278.2 332.1,280.9 332.9,283.5 334.0,285.8 334.8,288.1 335.2,289.3 M332.1,280.9 335.2,280.9 337.1,279.3 338.6,279.0 340.1,280.1 M323.3,251.1 321.8,249.6 321.0,247.6 318.7,246.1 318.4,244.6 318.4,242.1 M398.6,233.7 402.0,233.1 405.8,231.6 409.7,230.1 412.0,229.7 413.1,230.8 412.3,232.0 411.2,232.6 410.4,233.5 M410.4,233.5 407.0,235.4 404.3,238.1 403.5,240.8 402.0,242.7 399.3,243.4 398.6,243.1 M390.0,236.9 390.0,234.3" fill="none" stroke="#000" stroke-width="0.5" stroke-linejoin="round" opacity="0.9"/>
<path d="M307.1,245.9 308.8,243.8 310.3,243.4 314.2,243.8 316.5,243.1 318.4,242.1 317.6,240.0 316.6,238.1 314.5,237.3 314.5,234.8 312.2,233.9 312.6,232.0 315.5,229.3 318.0,229.9 321.4,229.5 323.3,226.2 325.6,224.7 327.1,221.9 329.4,220.5 331.9,217.5 331.5,214.8 334.4,212.9 332.1,211.7 329.8,210.6 328.3,209.4 327.7,206.8 327.1,204.9 329.8,202.2 326.8,200.3 324.1,198.4 324.5,196.5 327.9,195.3 331.4,194.7 334.8,195.5 337.1,197.2 340.5,199.1 344.0,200.7 346.2,199.1 349.7,198.7 353.5,200.7 353.5,202.9 350.8,204.9 348.5,208.7 350.3,211.4 347.4,211.7 346.2,212.9 347.8,214.4 347.6,216.3 349.7,217.5 352.7,219.4 356.2,220.9 354.3,222.4 352.7,225.9 354.7,227.0 357.3,228.7 360.0,229.7 362.7,230.8 365.0,231.8 368.0,231.2 370.1,232.4 372.2,233.9 374.5,234.7 378.0,235.2 380.2,235.4 383.3,235.2 383.5,233.1 383.1,229.7 385.6,228.9 386.4,231.2 386.0,232.7 386.7,233.7 389.8,234.3 392.1,233.7 395.1,233.9 398.6,233.7 397.2,231.6 396.7,230.1 399.3,230.1 401.6,228.5 404.3,226.6 407.0,225.1 409.7,224.7 412.3,224.3 414.6,224.0 415.8,226.2 418.6,228.4 417.7,230.1 416.9,231.6 417.9,232.7 414.2,232.2 411.6,233.9 410.0,235.4 410.0,236.9 408.1,239.2 408.5,240.8 406.6,244.6 403.9,244.6 403.4,247.3 402.8,251.1 401.6,252.2 400.5,252.2 399.5,248.8 399.3,245.7 398.0,245.7 396.7,248.6 395.3,246.9 395.1,244.6 396.7,244.2 398.6,243.1 399.9,240.8 395.5,240.0 392.1,240.0 390.0,239.6 389.8,236.9 387.5,236.6 385.6,235.4 384.4,234.7 383.5,237.7 386.4,239.6 384.4,241.1 383.3,242.3 385.8,243.8 385.6,247.3 386.5,248.8 386.9,251.8 387.1,253.6 385.2,253.8 383.3,253.6 382.2,253.4 379.9,253.9 378.5,256.0 378.7,257.2 377.2,259.1 376.0,260.2 373.4,261.0 371.8,262.2 370.7,263.3 368.0,266.4 365.7,268.3 361.5,271.3 361.1,272.9 358.9,273.8 356.9,275.1 355.4,275.9 353.5,276.7 352.6,279.0 352.9,282.8 353.5,285.5 353.3,288.1 351.8,291.2 351.8,296.5 349.7,296.9 348.5,299.2 348.3,300.7 345.5,302.3 344.7,304.2 343.0,305.4 341.3,304.6 339.2,302.3 338.2,299.6 337.8,297.3 336.7,294.6 335.6,292.0 334.0,289.7 332.7,287.0 331.7,283.5 330.8,280.5 329.4,278.2 328.3,275.9 327.1,273.2 326.4,269.8 325.4,266.0 324.9,263.7 324.5,260.6 324.7,258.3 325.2,256.0 324.1,253.8 324.9,251.5 322.6,252.2 322.6,254.9 319.9,256.4 317.6,257.2 314.9,256.0 311.9,253.4 310.1,251.1 311.5,250.7 314.2,249.9 315.7,248.4 313.4,249.0 311.1,249.2 308.8,247.6Z" fill="none" stroke="#111" stroke-width="0.6" stroke-linejoin="round"/>
<path d="M384.6,250.3 387.2,250.3 387.3,253.9 383.7,253.9Z" fill="#0a0a0a"/>
<circle cx="307.9" cy="245.8" r="0.8" fill="#111"/>
<path d="M401.6,284.3 402.4,285.8 402.0,288.9 401.8,292.0 400.9,292.3 400.5,289.7 401.1,286.6Z" fill="#262b12" stroke="#111" stroke-width="0.5"/>
<path d="M399.7,294.6 400.5,295.4 400.3,296.2 399.5,295.8Z" fill="#262b12" stroke="#111" stroke-width="0.5"/>
<path d="M400.9,300.9 401.4,301.3 401.1,301.7Z" fill="#222" stroke="#111" stroke-width="0.4"/>
<path d="M403.5,304.6 404.3,305.3 403.9,306.1 403.2,305.7Z" fill="#222" stroke="#111" stroke-width="0.4"/>
<path d="M404.7,308.4 405.6,309.5 405.3,310.5 404.5,309.7Z" fill="#222" stroke="#111" stroke-width="0.4"/>
<path d="M403.2,308.0 403.7,308.4 403.4,308.8Z" fill="#222" stroke="#111" stroke-width="0.4"/>
<circle cx="322.6" cy="291.6" r="0.4" fill="#3a3a3a"/>
<circle cx="324.5" cy="293.5" r="0.4" fill="#3a3a3a"/>
<circle cx="324.3" cy="295.8" r="0.4" fill="#3a3a3a"/>
<circle cx="325.6" cy="297.7" r="0.4" fill="#3a3a3a"/>
<circle cx="322.9" cy="294.6" r="0.4" fill="#3a3a3a"/>
<circle cx="328.1" cy="297.9" r="0.4" fill="#3a3a3a"/>
<circle cx="322.6" cy="294.8" r="0.4" fill="#3a3a3a"/>
<circle cx="325.8" cy="304.6" r="0.4" fill="#3a3a3a"/>
<circle cx="324.7" cy="292.3" r="0.4" fill="#3a3a3a"/>
<circle cx="321.4" cy="290.8" r="0.4" fill="#3a3a3a"/>
<circle cx="329.4" cy="293.5" r="0.4" fill="#3a3a3a"/>
<circle cx="327.5" cy="290.8" r="0.4" fill="#3a3a3a"/>
</g>
<rect x="307.1" y="187.4" width="112.2" height="130.0" fill="none" stroke="#a9a9a9" stroke-width="0.7"/>
<text class="t" x="373.8" y="194.4" font-size="6.5" text-anchor="middle">IMD-TERRACLIMATE</text>
<text class="k" x="321.8" y="186.5">72°E</text>
<text class="k" x="321.8" y="320.8">72°E</text>
<text class="k" x="344.7" y="186.5">78°E</text>
<text class="k" x="344.7" y="320.8">78°E</text>
<text class="k" x="367.6" y="186.5">84°E</text>
<text class="k" x="367.6" y="320.8">84°E</text>
<text class="k" x="390.6" y="186.5">90°E</text>
<text class="k" x="390.6" y="320.8">90°E</text>
<text class="k" x="413.5" y="186.5">96°E</text>
<text class="k" x="413.5" y="320.8">96°E</text>
<text class="k" transform="translate(306.3,198.7) rotate(-90)">36°N</text>
<text class="k" transform="translate(422.4,198.7) rotate(-90)">36°N</text>
<text class="k" transform="translate(306.3,221.7) rotate(-90)">30°N</text>
<text class="k" transform="translate(422.4,221.7) rotate(-90)">30°N</text>
<text class="k" transform="translate(306.3,244.6) rotate(-90)">24°N</text>
<text class="k" transform="translate(422.4,244.6) rotate(-90)">24°N</text>
<text class="k" transform="translate(306.3,267.5) rotate(-90)">18°N</text>
<text class="k" transform="translate(422.4,267.5) rotate(-90)">18°N</text>
<text class="k" transform="translate(306.3,290.4) rotate(-90)">12°N</text>
<text class="k" transform="translate(422.4,290.4) rotate(-90)">12°N</text>
<text class="k" transform="translate(306.3,313.3) rotate(-90)">6°N</text>
<text class="k" transform="translate(422.4,313.3) rotate(-90)">6°N</text>
</g>
<text x="510.8" y="18.1" font-size="8.5" text-anchor="middle" font-family="Liberation Sans,Arial,sans-serif" fill="#111">N</text>
<path d="M510.8,21.2 L504.2,42.3 L510.8,35.7 Z" fill="#111" stroke="#111" stroke-width="0.5" stroke-linejoin="miter"/>
<path d="M510.8,21.2 L517,41.6 L510.8,35.7 Z" fill="#fff" stroke="#111" stroke-width="0.7" stroke-linejoin="miter"/>
<rect x="426.6" y="207.4" width="22" height="11" fill="#fff" stroke="#8a8a8a" stroke-width="0.7"/>
<text class="s" x="455.7" y="214.7" font-size="5.85">Indian Meteorological Sub Divisions</text>
<text class="s" x="455.7" y="230.0" font-size="5.7">RSR</text>
<rect x="433.9" y="237.0" width="21.2" height="10.2" fill="#0b7a0b"/><text class="s" x="468.4" y="245.4" font-size="7.8">0 – 0.25</text>
<rect x="433.9" y="249.7" width="21.2" height="10.2" fill="#4db31a"/><text class="s" x="468.4" y="258.1" font-size="7.8">0.251 – 0.5</text>
<rect x="433.9" y="262.4" width="21.2" height="10.2" fill="#ffff19"/><text class="s" x="468.4" y="270.8" font-size="7.8">0.501 – 0.75</text>
<rect x="433.9" y="275.1" width="21.2" height="10.2" fill="#ffa31a"/><text class="s" x="468.4" y="283.5" font-size="7.8">0.751 – 1</text>
<rect x="433.9" y="287.8" width="21.2" height="10.2" fill="#ff401a"/><text class="s" x="468.4" y="296.2" font-size="7.8">1.01 – 2</text>
</svg></body></html>
